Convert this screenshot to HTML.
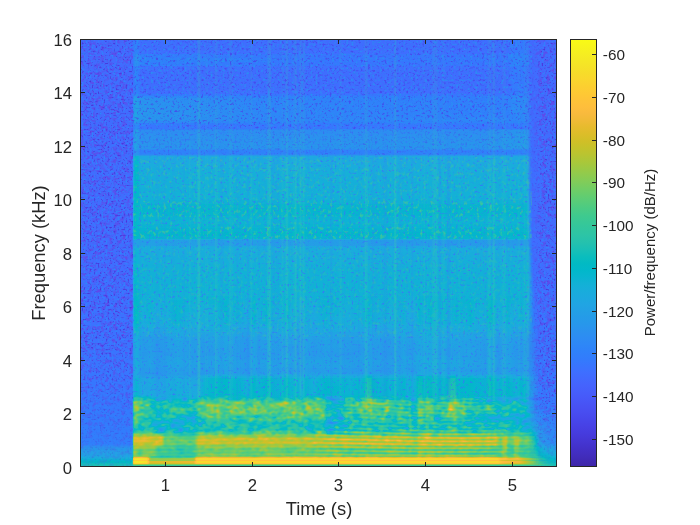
<!DOCTYPE html>
<html><head><meta charset="utf-8"><title>Spectrogram</title>
<style>
html,body{margin:0;padding:0;background:#fff;}
body{width:700px;height:525px;overflow:hidden;position:relative;font-family:"Liberation Sans",sans-serif;}
#sp{position:absolute;left:80px;top:39px;width:477px;height:428px;overflow:hidden;}
#sp div{width:477px;}
#sp #st{position:absolute;left:0;top:118px;height:244px;}
#sp #su{position:absolute;left:0;top:0;height:118px;opacity:.55;}
#ov{position:absolute;left:0;top:0;display:block;}
svg text{font-family:"Liberation Sans",sans-serif;fill:#262626;}
</style></head><body>
<div id="sp"><div style="height:4px;background:linear-gradient(90deg,#416bfe 0.5px,#416bfe 51.5px,#2f81fa 55.5px,#2f81fa 57.5px,#3f6dfe 60.5px,#3f6dfe 426.5px,#3579fd 432.5px,#3579fd 444.5px,#416bfe 451.5px,#416bfe 476.5px)"></div><div style="height:4px;background:linear-gradient(90deg,#416bfe 0.5px,#416bfe 51.5px,#2f81fa 55.5px,#2f81fa 57.5px,#3f6dfe 60.5px,#3f6dfe 426.5px,#3579fd 432.5px,#3579fd 444.5px,#406cfe 449.5px,#416bfe 476.5px)"></div><div style="height:4px;background:linear-gradient(90deg,#416cfe 0.5px,#416cfe 52.5px,#2f81fa 55.5px,#2f81fa 57.5px,#3f6dfe 60.5px,#3f6dfe 426.5px,#3579fd 432.5px,#3579fd 444.5px,#406cfe 449.5px,#416cfe 476.5px)"></div><div style="height:3px;background:linear-gradient(90deg,#416cfe 0.5px,#406cfe 52.5px,#2f82f9 55.5px,#2f82f9 57.5px,#3e6fff 60.5px,#3f6eff 427.5px,#3479fd 432.5px,#347afd 443.5px,#406cfe 449.5px,#416cfe 476.5px)"></div><div style="height:4px;background:linear-gradient(90deg,#416cfe 0.5px,#416cfe 51.5px,#3f6eff 52.5px,#307ffb 53.5px,#2c8ff0 55.5px,#2c8ff0 57.5px,#317efb 60.5px,#3875fe 217.5px,#3875fe 426.5px,#2f81fa 432.5px,#2f81fa 444.5px,#416cfe 451.5px,#416cfe 476.5px)"></div><div style="height:4px;background:linear-gradient(90deg,#416cfe 0.5px,#416cfe 51.5px,#3e6fff 52.5px,#2f81fa 53.5px,#2b91ef 55.5px,#2b91ef 57.5px,#2f81fa 60.5px,#2f81fa 152.5px,#3677fe 211.5px,#3677fe 427.5px,#2f82f9 432.5px,#2f82f9 444.5px,#406cfe 451.5px,#416cfe 476.5px)"></div><div style="height:4px;background:linear-gradient(90deg,#416cfe 0.5px,#416cfe 51.5px,#3f6fff 52.5px,#3080fb 53.5px,#2c90f0 55.5px,#2c90f0 57.5px,#307ffb 60.5px,#3776fe 209.5px,#3876fe 427.5px,#2f81fa 432.5px,#2f81fa 444.5px,#406cfe 451.5px,#416cfe 476.5px)"></div><div style="height:4px;background:linear-gradient(90deg,#416cfe 0.5px,#406cfe 52.5px,#2f82f9 55.5px,#2f82f9 57.5px,#3e6fff 60.5px,#3f6fff 426.5px,#337afd 433.5px,#347afd 444.5px,#406cfe 450.5px,#416cfe 476.5px)"></div><div style="height:4px;background:linear-gradient(90deg,#416cfe 0.5px,#406cfe 52.5px,#2f81fa 55.5px,#2f81fa 57.5px,#3f6dfe 60.5px,#3f6dfe 426.5px,#3579fd 432.5px,#3579fd 444.5px,#406cfe 449.5px,#416cfe 476.5px)"></div><div style="height:4px;background:linear-gradient(90deg,#416cfe 0.5px,#406cfe 52.5px,#2f81fa 55.5px,#2f81fa 57.5px,#3f6dfe 60.5px,#3f6dfe 426.5px,#3579fd 432.5px,#3579fd 444.5px,#406cfe 449.5px,#416cfe 476.5px)"></div><div style="height:4px;background:linear-gradient(90deg,#416cfe 0.5px,#406cfe 52.5px,#2f81fa 55.5px,#2f81fa 57.5px,#3f6dfe 60.5px,#3f6dfe 426.5px,#3579fd 432.5px,#3579fd 444.5px,#406cfe 449.5px,#416cfe 476.5px)"></div><div style="height:4px;background:linear-gradient(90deg,#406cfe 0.5px,#406cfe 52.5px,#2f81fa 55.5px,#2f81fa 57.5px,#3f6dfe 60.5px,#3f6dfe 426.5px,#3579fd 432.5px,#3579fd 444.5px,#406cfe 449.5px,#406cfe 476.5px)"></div><div style="height:4px;background:linear-gradient(90deg,#406cfe 0.5px,#406cfe 52.5px,#2f81fa 55.5px,#2f81fa 57.5px,#3f6dfe 60.5px,#3f6dfe 426.5px,#3579fd 432.5px,#3579fd 444.5px,#406cfe 449.5px,#406cfe 476.5px)"></div><div style="height:4px;background:linear-gradient(90deg,#406cfe 0.5px,#406cfe 52.5px,#2f81fa 55.5px,#2f81fa 57.5px,#3f6eff 60.5px,#3f6eff 427.5px,#3479fd 432.5px,#347afd 443.5px,#406cfe 450.5px,#406cfe 476.5px)"></div><div style="height:2px;background:linear-gradient(90deg,#406cfe 0.5px,#406cfe 51.5px,#2d8bf3 55.5px,#2d8bf3 57.5px,#347afd 60.5px,#3776fe 188.5px,#3875fe 427.5px,#2f81fa 433.5px,#2f81fa 443.5px,#406cfe 451.5px,#406cfe 476.5px)"></div><div style="height:2px;background:linear-gradient(90deg,#406cfe 0.5px,#406cfe 51.5px,#3d71ff 52.5px,#2995ec 54.5px,#2699ea 55.5px,#2699ea 57.5px,#2d88f6 60.5px,#307ffb 201.5px,#327cfc 427.5px,#2e87f7 433.5px,#2e87f7 443.5px,#406cfe 451.5px,#406cfe 476.5px)"></div><div style="height:4px;background:linear-gradient(90deg,#406cfe 0.5px,#406cfe 51.5px,#3b73fe 52.5px,#2b91ef 53.5px,#249fe6 54.5px,#21a2e4 55.5px,#2a93ed 60.5px,#2e84f8 187.5px,#317dfc 426.5px,#2d88f6 432.5px,#2d88f6 444.5px,#406cfe 451.5px,#406cfe 476.5px)"></div><div style="height:4px;background:linear-gradient(90deg,#406cfe 0.5px,#406cfe 51.5px,#3a73fe 52.5px,#2a93ed 53.5px,#20a5e3 55.5px,#2896ec 60.5px,#2e85f8 188.5px,#317efb 427.5px,#2d88f6 432.5px,#2d88f6 444.5px,#406cfe 451.5px,#406cfe 476.5px)"></div><div style="height:4px;background:linear-gradient(90deg,#406cfe 0.5px,#406cfe 51.5px,#3a73fe 52.5px,#2994ed 53.5px,#20a5e2 55.5px,#2896eb 60.5px,#2e85f8 195.5px,#307efb 426.5px,#2d89f5 432.5px,#2d89f5 444.5px,#406cfe 451.5px,#406cfe 476.5px)"></div><div style="height:4px;background:linear-gradient(90deg,#406cfe 0.5px,#406cfe 51.5px,#3a73fe 52.5px,#2994ed 53.5px,#1fa6e2 55.5px,#2797eb 60.5px,#2e86f7 190.5px,#307ffb 427.5px,#2d89f5 432.5px,#2d89f5 444.5px,#406cfe 451.5px,#406cfe 476.5px)"></div><div style="height:4px;background:linear-gradient(90deg,#406cfe 0.5px,#406cfe 51.5px,#3a73fe 52.5px,#2995ec 53.5px,#1fa6e2 55.5px,#2797eb 60.5px,#2e86f7 197.5px,#3080fa 427.5px,#2d88f6 444.5px,#406cfe 451.5px,#406cfe 476.5px)"></div><div style="height:3px;background:linear-gradient(90deg,#406cfe 0.5px,#406cfe 51.5px,#3a73fe 52.5px,#2a93ee 53.5px,#20a4e3 55.5px,#2895ec 60.5px,#2e86f7 192.5px,#2e86f8 444.5px,#406cfe 452.5px,#406cfe 476.5px)"></div><div style="height:2px;background:linear-gradient(90deg,#406cfe 0.5px,#406cfe 51.5px,#3c71ff 52.5px,#2d8bf4 53.5px,#2798ea 54.5px,#259be7 55.5px,#2d8cf3 60.5px,#2e83f9 184.5px,#2e83f9 445.5px,#406cfe 452.5px,#406cfe 476.5px)"></div><div style="height:2px;background:linear-gradient(90deg,#406cfe 0.5px,#406cfe 51.5px,#2c8ef2 55.5px,#2c8ef2 57.5px,#327cfc 60.5px,#347afd 445.5px,#406cfe 451.5px,#406cfe 476.5px)"></div><div style="height:4px;background:linear-gradient(90deg,#406cfe 0.5px,#406cfe 51.5px,#2e87f7 55.5px,#2e87f7 57.5px,#3975fe 60.5px,#3876fe 446.5px,#406cfe 451.5px,#406cfe 476.5px)"></div><div style="height:1px;background:linear-gradient(90deg,#406cfe 0.5px,#406cfe 51.5px,#3e70ff 52.5px,#2e83f9 53.5px,#2a93ed 55.5px,#2a93ed 57.5px,#2f82f9 60.5px,#2d88f6 445.5px,#406cfe 452.5px,#406cfe 476.5px)"></div><div style="height:4px;background:linear-gradient(90deg,#406cfe 0.5px,#406cfe 51.5px,#3b72ff 52.5px,#2c8ef1 53.5px,#259be8 54.5px,#249fe6 55.5px,#249fe6 57.5px,#2c8ff0 60.5px,#2c8ff0 411.5px,#2797eb 445.5px,#2c90f0 447.5px,#406dfe 451.5px,#406cfe 476.5px)"></div><div style="height:4px;background:linear-gradient(90deg,#406cfe 0.5px,#406cfe 51.5px,#3b73fe 52.5px,#2c90f0 53.5px,#22a1e4 55.5px,#2b92ee 60.5px,#2b92ee 412.5px,#269ae9 444.5px,#2b92ee 447.5px,#406dfe 451.5px,#406cfe 476.5px)"></div><div style="height:4px;background:linear-gradient(90deg,#406cfe 0.5px,#406cfe 51.5px,#3b73fe 52.5px,#2b91ef 53.5px,#249fe6 54.5px,#22a2e4 55.5px,#2a93ed 60.5px,#2a93ed 411.5px,#259be8 445.5px,#2a93ed 447.5px,#406dfe 451.5px,#406cfe 476.5px)"></div><div style="height:4px;background:linear-gradient(90deg,#406cfe 0.5px,#406cfe 51.5px,#3a73fe 52.5px,#2a93ee 53.5px,#21a4e3 55.5px,#2995ec 60.5px,#2895ec 412.5px,#259ce7 445.5px,#2995ec 447.5px,#406dfe 451.5px,#406cfe 476.5px)"></div><div style="height:3px;background:linear-gradient(90deg,#406cfe 0.5px,#406cfe 51.5px,#3a73fe 52.5px,#2a93ee 53.5px,#21a4e3 55.5px,#2895ec 60.5px,#2895ec 412.5px,#259ce7 444.5px,#2994ed 447.5px,#3f6dfe 451.5px,#406cfe 476.5px)"></div><div style="height:1px;background:linear-gradient(90deg,#406cfe 0.5px,#406cfe 51.5px,#3c72ff 52.5px,#2d8bf4 53.5px,#2797ea 54.5px,#259be8 55.5px,#2d8cf3 60.5px,#2c8ef1 445.5px,#2f82fa 448.5px,#406dfe 451.5px,#406cfe 476.5px)"></div><div style="height:4px;background:linear-gradient(90deg,#406cfe 0.5px,#406cfe 51.5px,#3e70ff 52.5px,#2f82f9 53.5px,#2b92ef 55.5px,#2b92ef 57.5px,#2f82fa 60.5px,#2f82fa 445.5px,#406cfe 452.5px,#406cfe 476.5px)"></div><div style="height:1px;background:linear-gradient(90deg,#406cfe 0.5px,#406cfe 51.5px,#3c71ff 52.5px,#2995ec 54.5px,#2698ea 55.5px,#2d89f5 60.5px,#2d89f5 446.5px,#406cfe 452.5px,#406cfe 476.5px)"></div><div style="height:1px;background:linear-gradient(90deg,#406cfe 0.5px,#406cfe 51.5px,#3974fe 52.5px,#2796eb 53.5px,#1ea7e1 55.5px,#2699e9 60.5px,#2699ea 446.5px,#3f6dfe 451.5px,#406cfe 476.5px)"></div><div style="height:4px;background:linear-gradient(90deg,#406cfe 0.5px,#406cfe 51.5px,#3677fe 52.5px,#21a4e3 53.5px,#09b4d1 55.5px,#09b4d1 57.5px,#1da9e0 60.5px,#1da9e0 445.5px,#23a1e4 447.5px,#3678fe 450.5px,#406cfe 452.5px,#406cfe 476.5px)"></div><div style="height:4px;background:linear-gradient(90deg,#406dfe 0.5px,#406dfe 51.5px,#3678fd 52.5px,#1fa5e2 53.5px,#0cb3d3 54.5px,#06b5cf 55.5px,#06b5cf 57.5px,#1babde 60.5px,#1babde 445.5px,#21a3e3 447.5px,#3f6eff 451.5px,#406dfe 476.5px)"></div><div style="height:4px;background:linear-gradient(90deg,#406dfe 0.5px,#406dfe 51.5px,#3578fd 52.5px,#1ea7e1 53.5px,#08b4d1 54.5px,#03b7cc 55.5px,#03b7cc 57.5px,#19addc 60.5px,#19addc 445.5px,#20a5e2 447.5px,#3f6eff 451.5px,#406dfe 476.5px)"></div><div style="height:4px;background:linear-gradient(90deg,#406dfe 0.5px,#406dfe 51.5px,#3579fd 52.5px,#1da9e0 53.5px,#06b6ce 54.5px,#01b8ca 55.5px,#01b8ca 57.5px,#16aeda 60.5px,#18aedb 446.5px,#3f6eff 451.5px,#406dfe 476.5px)"></div><div style="height:4px;background:linear-gradient(90deg,#406dfe 0.5px,#406dfe 51.5px,#3579fd 52.5px,#1ca9e0 53.5px,#05b6ce 54.5px,#01b8c9 55.5px,#05b6ce 58.5px,#16afd9 60.5px,#16afd9 445.5px,#1ea7e1 447.5px,#3e6fff 451.5px,#406dfe 476.5px)"></div><div style="height:4px;background:linear-gradient(90deg,#406dfe 0.5px,#406dfe 51.5px,#3479fd 52.5px,#1ca9df 53.5px,#05b6ce 54.5px,#01b8c9 55.5px,#01b8c9 57.5px,#15afd9 60.5px,#16afd9 446.5px,#3e6fff 451.5px,#406dfe 476.5px)"></div><div style="height:4px;background:linear-gradient(90deg,#406dfe 0.5px,#406dfe 51.5px,#3479fd 52.5px,#1caadf 53.5px,#05b6ce 54.5px,#01b8c9 55.5px,#01b8c9 57.5px,#14b0d8 60.5px,#14b0d8 445.5px,#1da9e0 447.5px,#3e6fff 451.5px,#406dfe 476.5px)"></div><div style="height:4px;background:linear-gradient(90deg,#406dfe 0.5px,#406dfe 51.5px,#3479fd 52.5px,#1caadf 53.5px,#05b6cd 54.5px,#01b8c9 55.5px,#01b8c9 57.5px,#14b0d8 60.5px,#14b0d8 446.5px,#1caadf 447.5px,#327cfc 450.5px,#406dfe 452.5px,#406dfe 476.5px)"></div><div style="height:4px;background:linear-gradient(90deg,#406dfe 0.5px,#406dfe 51.5px,#3479fd 52.5px,#1caadf 53.5px,#04b6cd 54.5px,#01b8c9 55.5px,#04b6cd 58.5px,#13b0d7 60.5px,#14b0d8 446.5px,#249ee6 448.5px,#317dfc 450.5px,#406dfe 452.5px,#406dfe 476.5px)"></div><div style="height:4px;background:linear-gradient(90deg,#406dfe 0.5px,#406dfe 51.5px,#347afd 52.5px,#1baade 53.5px,#04b6cd 54.5px,#01b8c9 55.5px,#04b6cd 58.5px,#13b1d7 60.5px,#13b1d7 445.5px,#1babde 447.5px,#317efb 450.5px,#406dfe 452.5px,#406dfe 476.5px)"></div><div style="height:4px;background:linear-gradient(90deg,#406dfe 0.5px,#406dfe 51.5px,#347afd 52.5px,#1baade 53.5px,#04b6cd 54.5px,#01b8ca 55.5px,#04b6cd 58.5px,#12b1d7 60.5px,#12b1d7 446.5px,#23a0e5 448.5px,#307ffb 450.5px,#406dfe 452.5px,#406dfe 476.5px)"></div><div style="height:4px;background:linear-gradient(90deg,#406dfe 0.5px,#406dfe 51.5px,#337afd 52.5px,#1aacdd 53.5px,#02b7cb 54.5px,#01b9c7 55.5px,#02b7cb 58.5px,#0eb2d4 60.5px,#0eb2d4 446.5px,#22a2e4 448.5px,#2f81fa 450.5px,#406dfe 452.5px,#406dfe 476.5px)"></div><div style="height:4px;background:linear-gradient(90deg,#406dfe 0.5px,#406dfe 51.5px,#337bfc 52.5px,#16afda 53.5px,#01b9c6 54.5px,#03bbc3 55.5px,#07b5cf 60.5px,#07b5cf 446.5px,#1fa6e2 448.5px,#2e83f9 450.5px,#406dfe 452.5px,#406dfe 476.5px)"></div><div style="height:4px;background:linear-gradient(90deg,#406dfe 0.5px,#406dfe 51.5px,#327bfc 52.5px,#15afd8 53.5px,#02bac4 54.5px,#05bbc1 55.5px,#05b6cd 60.5px,#05b6cd 446.5px,#1ea7e1 448.5px,#2e84f8 450.5px,#406dfe 452.5px,#406dfe 476.5px)"></div><div style="height:4px;background:linear-gradient(90deg,#406dfe 0.5px,#406dfe 51.5px,#337bfc 52.5px,#16afda 53.5px,#01b9c6 54.5px,#02bac3 55.5px,#06b5cf 60.5px,#06b5cf 446.5px,#1ea8e1 448.5px,#2e85f8 450.5px,#406dfe 452.5px,#406dfe 476.5px)"></div><div style="height:4px;background:linear-gradient(90deg,#406dfe 0.5px,#406dfe 51.5px,#337bfd 52.5px,#19addc 53.5px,#01b8ca 54.5px,#01b9c7 55.5px,#0ab4d2 60.5px,#0ab4d2 446.5px,#1ea7e1 448.5px,#2e85f8 450.5px,#406dfe 452.5px,#406dfe 476.5px)"></div><div style="height:4px;background:linear-gradient(90deg,#406dfe 0.5px,#406dfe 51.5px,#337afd 52.5px,#1aacdd 53.5px,#03b6cc 54.5px,#01b8ca 55.5px,#0eb3d4 60.5px,#0eb3d4 446.5px,#1ea7e1 448.5px,#2e86f7 450.5px,#3f6dfe 452.5px,#406dfe 476.5px)"></div><div style="height:4px;background:linear-gradient(90deg,#406dfe 0.5px,#406dfe 51.5px,#337bfd 52.5px,#19addc 53.5px,#01b7ca 54.5px,#01b9c8 55.5px,#0ab4d2 60.5px,#0ab4d2 446.5px,#1da9e0 448.5px,#3777fe 451.5px,#3f6efe 452.5px,#406dfe 476.5px)"></div><div style="height:4px;background:linear-gradient(90deg,#406dfe 0.5px,#406dfe 51.5px,#327bfc 52.5px,#16aeda 53.5px,#01b9c8 54.5px,#02bac5 55.5px,#06b5cf 60.5px,#06b5cf 446.5px,#1aabdd 448.5px,#2d8af5 450.5px,#3f6eff 452.5px,#406dfe 476.5px)"></div><div style="height:4px;background:linear-gradient(90deg,#406dfe 0.5px,#406dfe 51.5px,#327cfc 52.5px,#13b0d7 53.5px,#02bac4 54.5px,#05bbc1 55.5px,#02b7cb 60.5px,#02b7cb 446.5px,#05b6cd 447.5px,#17aeda 448.5px,#337afd 451.5px,#3f6eff 452.5px,#406dfe 476.5px)"></div><div style="height:3px;background:linear-gradient(90deg,#406dfe 0.5px,#406dfe 51.5px,#327bfc 52.5px,#17aeda 53.5px,#01b8c8 54.5px,#01b9c6 55.5px,#06b5cf 60.5px,#06b5cf 446.5px,#09b4d1 447.5px,#19addc 448.5px,#337bfd 451.5px,#3e6fff 452.5px,#406dfe 476.5px)"></div><div style="height:1px;background:linear-gradient(90deg,#406dfe 0.5px,#406dfe 51.5px,#3579fd 52.5px,#1fa6e2 53.5px,#0fb2d5 55.5px,#19addc 60.5px,#19addc 446.5px,#20a5e3 448.5px,#3f6fff 452.5px,#406dfe 476.5px)"></div><div style="height:4px;background:linear-gradient(90deg,#406dfe 0.5px,#406dfe 51.5px,#3875fe 52.5px,#2796eb 53.5px,#22a1e4 55.5px,#259be8 446.5px,#2895ec 448.5px,#3f6eff 452.5px,#406dfe 476.5px)"></div><div style="height:2px;background:linear-gradient(90deg,#3f6dfe 0.5px,#3f6dfe 51.5px,#3875fe 52.5px,#2896eb 53.5px,#22a1e4 55.5px,#269be8 447.5px,#3776fe 451.5px,#3f6dfe 453.5px,#3f6dfe 476.5px)"></div><div style="height:2px;background:linear-gradient(90deg,#3f6dfe 0.5px,#3f6dfe 51.5px,#3678fe 52.5px,#23a0e5 53.5px,#1aacdd 55.5px,#1fa6e2 447.5px,#347afd 451.5px,#3f6dfe 453.5px,#3f6dfe 476.5px)"></div><div style="height:4px;background:linear-gradient(90deg,#3f6dfe 0.5px,#3f6dfe 51.5px,#3579fd 52.5px,#1fa6e2 53.5px,#11b2d5 55.5px,#19addc 60.5px,#19addc 446.5px,#1fa6e1 448.5px,#327cfc 451.5px,#3f6dfe 453.5px,#3f6dfe 476.5px)"></div><div style="height:4px;background:linear-gradient(90deg,#3f6efe 0.5px,#3f6efe 51.5px,#3479fd 52.5px,#1ea6e1 53.5px,#0eb2d4 55.5px,#18addb 60.5px,#18addb 447.5px,#1da8e0 448.5px,#317efb 451.5px,#3f6efe 453.5px,#3f6efe 476.5px)"></div><div style="height:4px;background:linear-gradient(90deg,#3f6efe 0.5px,#3f6efe 51.5px,#347afd 52.5px,#1ea7e1 53.5px,#0cb3d3 55.5px,#16aeda 60.5px,#17aeda 447.5px,#249ee6 449.5px,#3080fb 451.5px,#3f6efe 453.5px,#3f6efe 476.5px)"></div><div style="height:4px;background:linear-gradient(90deg,#3f6eff 0.5px,#3f6eff 51.5px,#337afd 52.5px,#1da8e0 53.5px,#0db3d4 54.5px,#0ab4d2 55.5px,#15afd9 60.5px,#15afd9 447.5px,#23a0e5 449.5px,#2f81fa 451.5px,#3f6eff 453.5px,#3f6eff 476.5px)"></div><div style="height:4px;background:linear-gradient(90deg,#3f6eff 0.5px,#3f6eff 51.5px,#337bfd 52.5px,#1ca9df 53.5px,#0bb3d2 54.5px,#08b5d0 55.5px,#13b0d7 60.5px,#14b0d8 447.5px,#22a1e4 449.5px,#2e83f9 451.5px,#3f6eff 453.5px,#3f6eff 476.5px)"></div><div style="height:4px;background:linear-gradient(90deg,#3f6eff 0.5px,#3f6eff 51.5px,#337bfc 52.5px,#1caadf 53.5px,#09b4d1 54.5px,#06b5cf 55.5px,#12b1d6 60.5px,#12b1d6 447.5px,#21a3e3 449.5px,#2e85f8 451.5px,#3e6fff 453.5px,#3f6eff 476.5px)"></div><div style="height:4px;background:linear-gradient(90deg,#3f6fff 0.5px,#3f6fff 51.5px,#327bfc 52.5px,#1baade 53.5px,#08b4d1 54.5px,#06b5cf 55.5px,#12b1d6 60.5px,#12b1d6 447.5px,#21a4e3 449.5px,#3d70ff 453.5px,#3f6fff 476.5px)"></div><div style="height:4px;background:linear-gradient(90deg,#3e6fff 0.5px,#3e6fff 51.5px,#327cfc 52.5px,#1baade 53.5px,#08b5d0 54.5px,#06b6ce 55.5px,#11b1d6 60.5px,#11b1d6 447.5px,#20a4e3 449.5px,#3c71ff 453.5px,#3e6fff 476.5px)"></div><div style="height:4px;background:linear-gradient(90deg,#3e6fff 0.5px,#3e6fff 51.5px,#327cfc 52.5px,#1baade 53.5px,#07b5d0 54.5px,#05b6ce 55.5px,#11b1d6 60.5px,#11b1d6 447.5px,#20a5e2 449.5px,#317dfc 452.5px,#3e6fff 454.5px,#3e6fff 476.5px)"></div><div style="height:4px;background:linear-gradient(90deg,#3e6fff 0.5px,#3e6fff 51.5px,#327cfc 52.5px,#1babde 53.5px,#07b5d0 54.5px,#05b6ce 55.5px,#10b2d5 60.5px,#10b2d5 446.5px,#18aedb 448.5px,#307ffb 452.5px,#3e6fff 454.5px,#3e6fff 476.5px)"></div><div style="height:4px;background:linear-gradient(90deg,#3e70ff 0.5px,#3e70ff 51.5px,#327cfc 52.5px,#1babde 53.5px,#07b5cf 54.5px,#04b6cd 56.5px,#10b2d5 60.5px,#10b2d5 446.5px,#1fa6e2 449.5px,#2f81fa 452.5px,#3d70ff 454.5px,#3e70ff 476.5px)"></div><div style="height:4px;background:linear-gradient(90deg,#3e70ff 0.5px,#3e70ff 51.5px,#327dfc 52.5px,#1aabdd 53.5px,#06b5ce 54.5px,#03b7cb 56.5px,#10b2d5 61.5px,#12b1d6 77.5px,#10b2d5 446.5px,#1fa6e2 449.5px,#3c71ff 454.5px,#3e70ff 476.5px)"></div><div style="height:4px;background:linear-gradient(90deg,#3d70ff 0.5px,#3d70ff 51.5px,#317dfc 52.5px,#1aacdd 53.5px,#04b6cd 54.5px,#01b8c9 56.5px,#12b1d6 63.5px,#13b1d7 76.5px,#0ab4d2 146.5px,#14b0d8 167.5px,#0ab4d2 174.5px,#12b1d6 177.5px,#0cb3d3 208.5px,#15afd9 221.5px,#0cb3d3 245.5px,#12b1d6 280.5px,#0bb3d2 286.5px,#14b0d8 332.5px,#0bb3d2 339.5px,#10b2d5 405.5px,#07b5d0 408.5px,#12b1d6 418.5px,#0bb3d2 427.5px,#10b2d5 446.5px,#1fa6e2 449.5px,#3b72ff 454.5px,#3d70ff 476.5px)"></div><div style="height:4px;background:linear-gradient(90deg,#3d70ff 0.5px,#3d70ff 51.5px,#317dfc 52.5px,#1aacdd 53.5px,#03b7cc 54.5px,#01b9c6 56.5px,#13b1d7 62.5px,#0db3d3 70.5px,#16afd9 77.5px,#14b0d8 87.5px,#08b4d1 94.5px,#13b0d7 118.5px,#07b5d0 146.5px,#12b1d6 149.5px,#0cb3d3 157.5px,#16afd9 166.5px,#07b5d0 174.5px,#13b0d7 177.5px,#09b4d1 187.5px,#12b1d6 195.5px,#0ab4d2 208.5px,#13b0d7 210.5px,#0fb2d5 214.5px,#19addc 221.5px,#0fb2d5 225.5px,#17aeda 234.5px,#0bb3d2 245.5px,#14b0d8 269.5px,#13b0d7 280.5px,#09b4d1 286.5px,#13b1d7 301.5px,#0cb3d3 306.5px,#14b0d8 309.5px,#0db3d4 323.5px,#17aeda 327.5px,#14b0d8 335.5px,#09b4d1 339.5px,#11b1d6 344.5px,#08b4d0 350.5px,#10b2d5 369.5px,#07b5cf 390.5px,#11b1d6 405.5px,#04b6cd 409.5px,#14b0d8 418.5px,#13b1d7 424.5px,#09b4d1 427.5px,#15afd9 436.5px,#0db3d3 440.5px,#19addc 448.5px,#2e85f8 452.5px,#3d70ff 455.5px,#3d70ff 476.5px)"></div><div style="height:4px;background:linear-gradient(90deg,#3d71ff 0.5px,#3d71ff 51.5px,#317dfc 52.5px,#1aacdd 53.5px,#02b7cb 54.5px,#02bac5 56.5px,#02b7cb 58.5px,#12b1d7 61.5px,#0db3d3 70.5px,#19addc 77.5px,#0fb2d5 83.5px,#16afd9 87.5px,#07b5d0 94.5px,#14b0d8 107.5px,#14b0d8 129.5px,#06b5cf 146.5px,#13b0d7 149.5px,#0db3d3 157.5px,#19addc 167.5px,#06b5cf 174.5px,#15afd8 177.5px,#08b5d0 187.5px,#14b0d8 198.5px,#09b4d1 208.5px,#15afd8 210.5px,#11b2d5 214.5px,#1babde 221.5px,#10b2d5 226.5px,#19acdc 234.5px,#0bb3d2 244.5px,#16afd9 269.5px,#0eb2d4 278.5px,#15afd9 280.5px,#08b5d0 286.5px,#14b0d8 297.5px,#0cb3d3 306.5px,#17aeda 309.5px,#0eb2d4 324.5px,#1aacdd 327.5px,#13b0d7 329.5px,#19addc 333.5px,#08b4d1 339.5px,#13b1d7 344.5px,#07b5d0 350.5px,#11b1d6 369.5px,#09b4d1 375.5px,#0fb2d4 386.5px,#05b6ce 390.5px,#10b2d5 394.5px,#12b1d6 405.5px,#01b7ca 409.5px,#15afd9 418.5px,#0eb2d4 421.5px,#14b0d8 424.5px,#07b5d0 427.5px,#13b0d7 430.5px,#17aedb 436.5px,#0db3d3 440.5px,#0fb2d5 445.5px,#1aacdd 448.5px,#327cfc 453.5px,#3d71ff 455.5px,#3d71ff 476.5px)"></div><div style="height:4px;background:linear-gradient(90deg,#3d71ff 0.5px,#3d71ff 51.5px,#317dfc 52.5px,#1aacdd 53.5px,#02b7cb 54.5px,#02bac4 56.5px,#02b7cb 58.5px,#16afd9 62.5px,#0db3d3 69.5px,#1aacdd 77.5px,#10b2d5 83.5px,#17aeda 87.5px,#07b5d0 94.5px,#16afd9 118.5px,#13b0d7 135.5px,#06b5cf 146.5px,#14b0d8 149.5px,#0db3d3 157.5px,#1aacdd 167.5px,#06b5cf 174.5px,#16afd9 177.5px,#07b5d0 187.5px,#12b1d6 190.5px,#15afd9 198.5px,#09b4d1 208.5px,#16afda 210.5px,#12b1d6 214.5px,#1ca9e0 221.5px,#11b1d6 226.5px,#1babde 234.5px,#0bb3d2 245.5px,#13b1d7 248.5px,#0db3d3 250.5px,#17aeda 269.5px,#0fb2d5 278.5px,#17aeda 280.5px,#08b5d0 286.5px,#17aeda 302.5px,#0cb3d3 305.5px,#18addb 309.5px,#0fb2d5 324.5px,#1babde 327.5px,#14b0d8 330.5px,#19addc 334.5px,#08b4d0 339.5px,#14b0d8 344.5px,#07b5cf 350.5px,#12b1d6 370.5px,#09b4d1 375.5px,#0fb2d5 386.5px,#05b6cd 390.5px,#11b2d5 394.5px,#13b0d7 405.5px,#01b8c9 409.5px,#17aeda 418.5px,#0fb2d5 421.5px,#16afd9 424.5px,#07b5d0 427.5px,#15afd8 430.5px,#19addc 436.5px,#0db3d4 440.5px,#1babde 448.5px,#2e87f7 452.5px,#3c72ff 455.5px,#3d71ff 476.5px)"></div><div style="height:4px;background:linear-gradient(90deg,#3c71ff 0.5px,#3c71ff 51.5px,#317dfc 52.5px,#1aabdd 53.5px,#03b7cc 54.5px,#02bac4 56.5px,#18addb 63.5px,#0eb2d4 69.5px,#18aedb 73.5px,#18aedb 87.5px,#07b5d0 95.5px,#16afda 107.5px,#16afd9 129.5px,#0eb3d4 144.5px,#06b5cf 146.5px,#15afd9 149.5px,#0eb2d4 157.5px,#1babde 167.5px,#06b5cf 174.5px,#17aeda 177.5px,#08b4d1 187.5px,#13b1d7 190.5px,#16afd9 198.5px,#0ab4d2 208.5px,#17aeda 210.5px,#12b1d7 214.5px,#1da8e0 221.5px,#12b1d7 225.5px,#1baade 234.5px,#0cb3d3 245.5px,#18addb 269.5px,#10b2d5 278.5px,#18aedb 280.5px,#08b4d1 286.5px,#16afd9 297.5px,#0db3d4 306.5px,#19addc 309.5px,#10b2d5 324.5px,#1caadf 327.5px,#18addb 335.5px,#09b4d1 339.5px,#14b0d8 344.5px,#07b5d0 350.5px,#12b1d6 356.5px,#0bb3d2 362.5px,#13b0d7 369.5px,#0ab4d2 375.5px,#11b2d5 386.5px,#05b6ce 390.5px,#12b1d6 394.5px,#14b0d8 405.5px,#01b8ca 408.5px,#18aedb 418.5px,#10b2d5 421.5px,#16aeda 424.5px,#08b5d0 427.5px,#15afd9 430.5px,#1aacdd 436.5px,#0eb2d4 440.5px,#18aedb 447.5px,#20a5e3 449.5px,#307ffb 453.5px,#3c71ff 456.5px,#3c71ff 476.5px)"></div><div style="height:4px;background:linear-gradient(90deg,#3c71ff 0.5px,#3c71ff 51.5px,#317dfc 52.5px,#1babde 53.5px,#04b6cd 54.5px,#02bac5 56.5px,#19addc 63.5px,#0fb2d5 69.5px,#1babde 77.5px,#12b1d7 83.5px,#19addc 87.5px,#08b4d1 95.5px,#17aeda 107.5px,#17aeda 125.5px,#0fb2d4 144.5px,#07b5d0 146.5px,#16afd9 149.5px,#0fb2d5 157.5px,#1babde 166.5px,#07b5d0 174.5px,#18aedb 177.5px,#09b4d1 187.5px,#12b1d6 189.5px,#17aeda 198.5px,#0bb3d2 208.5px,#18aedb 210.5px,#13b0d7 214.5px,#1da8e0 221.5px,#13b0d7 225.5px,#1caadf 234.5px,#0db3d3 245.5px,#14b0d8 247.5px,#19addc 269.5px,#11b1d6 278.5px,#18addb 280.5px,#0ab4d1 286.5px,#18addb 302.5px,#0eb2d4 305.5px,#19acdc 309.5px,#11b1d6 324.5px,#1ca9df 327.5px,#19addc 335.5px,#0ab4d2 339.5px,#15afd9 344.5px,#08b4d1 350.5px,#12b1d7 356.5px,#0cb3d3 362.5px,#14b0d8 369.5px,#0bb3d2 375.5px,#12b1d6 386.5px,#06b5cf 390.5px,#12b1d7 394.5px,#15afd8 405.5px,#01b7ca 409.5px,#19addb 418.5px,#11b1d6 421.5px,#17aeda 424.5px,#09b4d1 427.5px,#16afda 430.5px,#1aacdd 436.5px,#0fb2d5 440.5px,#1caadf 448.5px,#2f80fa 453.5px,#3c71ff 456.5px,#3c71ff 476.5px)"></div><div style="height:4px;background:linear-gradient(90deg,#3c72ff 0.5px,#3c72ff 51.5px,#317dfc 52.5px,#1baade 53.5px,#05b6ce 54.5px,#01b9c6 56.5px,#1aacdd 63.5px,#11b1d6 69.5px,#1caadf 77.5px,#14b0d8 83.5px,#1aacdd 86.5px,#0ab4d2 95.5px,#18addb 107.5px,#18aedb 129.5px,#11b1d6 144.5px,#09b4d1 146.5px,#17aeda 149.5px,#11b1d6 157.5px,#1caadf 167.5px,#09b4d1 174.5px,#19addc 177.5px,#0bb3d2 187.5px,#15afd9 190.5px,#18addb 198.5px,#0db3d4 208.5px,#19addc 210.5px,#1ea7e1 221.5px,#15afd8 225.5px,#1ca9e0 234.5px,#0fb2d5 245.5px,#16afd9 248.5px,#19acdc 280.5px,#0cb3d3 286.5px,#19addc 302.5px,#10b2d5 305.5px,#1aabdd 309.5px,#12b1d7 323.5px,#1da9e0 327.5px,#1aacdd 335.5px,#0cb3d3 339.5px,#17aeda 344.5px,#0ab4d2 350.5px,#14b0d8 356.5px,#0eb2d4 362.5px,#15afd8 370.5px,#0db3d3 375.5px,#13b0d7 386.5px,#07b5d0 390.5px,#14b0d8 394.5px,#16afd9 405.5px,#03b7cc 409.5px,#19acdc 418.5px,#18addb 424.5px,#0bb3d2 427.5px,#18aedb 430.5px,#14b0d8 445.5px,#1da9e0 448.5px,#2f81fa 453.5px,#3c72ff 456.5px,#3c72ff 476.5px)"></div><div style="height:4px;background:linear-gradient(90deg,#3c72ff 0.5px,#3c72ff 51.5px,#317dfc 52.5px,#1ea8e1 53.5px,#0cb3d3 54.5px,#03b7cb 56.5px,#1caadf 62.5px,#17aeda 70.5px,#1fa6e1 77.5px,#12b1d7 94.5px,#1caadf 118.5px,#11b1d6 146.5px,#1babde 149.5px,#1fa6e2 167.5px,#11b1d6 174.5px,#1caadf 177.5px,#13b1d7 187.5px,#1babde 195.5px,#14b0d8 208.5px,#21a4e3 221.5px,#19addc 226.5px,#1ea6e1 233.5px,#15afd9 245.5px,#1ca9df 280.5px,#13b0d7 286.5px,#1caadf 301.5px,#18aedb 324.5px,#1fa6e1 332.5px,#13b0d7 338.5px,#1aacdd 343.5px,#12b1d6 350.5px,#19addc 380.5px,#0fb2d5 390.5px,#19addc 394.5px,#1aacdd 405.5px,#08b4d0 409.5px,#13b1d7 411.5px,#1da9e0 418.5px,#1caadf 424.5px,#12b1d7 427.5px,#1ea7e1 436.5px,#19addc 445.5px,#23a0e5 449.5px,#2f81fa 453.5px,#3b72fe 456.5px,#3c72ff 476.5px)"></div><div style="height:4px;background:linear-gradient(90deg,#3b72ff 0.5px,#3b72ff 51.5px,#327cfc 52.5px,#20a4e3 53.5px,#13b0d8 54.5px,#09b4d1 56.5px,#1fa6e2 62.5px,#1babde 70.5px,#21a2e4 77.5px,#18aedb 95.5px,#1fa6e1 107.5px,#17aeda 146.5px,#22a2e4 167.5px,#17aeda 174.5px,#1fa6e2 177.5px,#19acdc 208.5px,#22a2e4 221.5px,#1babde 225.5px,#21a4e3 234.5px,#1aacdd 244.5px,#20a5e2 310.5px,#19addc 324.5px,#20a5e2 332.5px,#15afd9 338.5px,#1baade 344.5px,#13b0d7 350.5px,#1caadf 364.5px,#16afd9 390.5px,#1da8e0 405.5px,#11b1d6 409.5px,#20a5e2 418.5px,#18addb 427.5px,#21a3e3 436.5px,#1ca9df 445.5px,#249de6 449.5px,#2f81fa 453.5px,#3a73fe 456.5px,#3b72ff 476.5px)"></div><div style="height:4px;background:linear-gradient(90deg,#3b72ff 0.5px,#3b72ff 51.5px,#327bfc 52.5px,#23a1e4 53.5px,#19addc 54.5px,#11b1d6 56.5px,#23a1e4 63.5px,#1ea7e1 70.5px,#249ee6 77.5px,#1caadf 94.5px,#21a2e4 125.5px,#1babde 146.5px,#21a3e3 149.5px,#1ea7e1 157.5px,#249ee6 167.5px,#1babde 174.5px,#22a2e4 177.5px,#1da9e0 208.5px,#239fe5 221.5px,#1da9e0 225.5px,#22a1e4 280.5px,#1caadf 286.5px,#23a1e4 309.5px,#1aacdd 323.5px,#21a3e4 327.5px,#15afd9 350.5px,#1ea7e1 364.5px,#20a4e3 405.5px,#17aeda 409.5px,#22a1e4 418.5px,#1caadf 427.5px,#239fe5 436.5px,#1fa5e2 445.5px,#3b72ff 457.5px,#3b72ff 476.5px)"></div><div style="height:4px;background:linear-gradient(90deg,#3b72fe 0.5px,#3b72fe 51.5px,#337bfd 52.5px,#249ee6 53.5px,#17aeda 56.5px,#249de6 63.5px,#249de6 87.5px,#1ea7e1 95.5px,#249ee6 118.5px,#1ea7e1 146.5px,#239fe5 149.5px,#21a3e3 157.5px,#269ae8 167.5px,#1ea7e1 174.5px,#249ee6 177.5px,#1fa6e2 187.5px,#259ce7 221.5px,#1fa6e2 226.5px,#249ee6 234.5px,#20a5e2 245.5px,#249de6 269.5px,#1fa6e2 287.5px,#249de6 309.5px,#1ea8e0 322.5px,#249fe5 327.5px,#1aacdd 350.5px,#23a0e5 405.5px,#1babde 409.5px,#249de6 418.5px,#1fa6e1 427.5px,#259ce7 436.5px,#22a2e4 445.5px,#3974fe 456.5px,#3b72fe 476.5px)"></div><div style="height:4px;background:linear-gradient(90deg,#3b73fe 0.5px,#3b73fe 51.5px,#337bfd 52.5px,#259ce7 53.5px,#1da8e0 54.5px,#19addc 56.5px,#259be7 63.5px,#22a2e4 69.5px,#2699e9 77.5px,#20a5e2 94.5px,#259ce7 118.5px,#20a5e3 147.5px,#2698ea 167.5px,#1fa5e2 174.5px,#259ce7 177.5px,#21a4e3 208.5px,#269ae8 221.5px,#20a4e3 226.5px,#259ce7 234.5px,#21a3e3 245.5px,#259be7 269.5px,#20a4e3 287.5px,#259be7 309.5px,#1ea7e1 323.5px,#249ee6 332.5px,#1caadf 339.5px,#249ee6 404.5px,#1ca9df 409.5px,#259ce7 418.5px,#20a5e3 427.5px,#269ae9 436.5px,#23a0e5 445.5px,#3a73fe 457.5px,#3b73fe 476.5px)"></div><div style="height:4px;background:linear-gradient(90deg,#3b73fe 0.5px,#3b73fe 51.5px,#337bfd 52.5px,#259be8 53.5px,#1aacdd 56.5px,#259be8 62.5px,#23a0e5 70.5px,#2797ea 77.5px,#21a3e4 93.5px,#259be7 124.5px,#20a4e3 146.5px,#259ce7 149.5px,#23a0e5 157.5px,#2797eb 167.5px,#20a4e3 174.5px,#259be8 177.5px,#21a3e3 187.5px,#2699e9 221.5px,#21a3e4 226.5px,#259be8 234.5px,#22a2e4 245.5px,#269ae8 280.5px,#21a3e3 286.5px,#269ae8 309.5px,#20a5e2 322.5px,#259ce7 327.5px,#1ca9df 350.5px,#249de7 405.5px,#1da8e0 409.5px,#269ae8 418.5px,#21a3e3 427.5px,#2698ea 436.5px,#249fe6 445.5px,#3a74fe 457.5px,#3b73fe 476.5px)"></div><div style="height:4px;background:linear-gradient(90deg,#3a73fe 0.5px,#3a73fe 51.5px,#337bfd 52.5px,#269ae9 53.5px,#1baade 56.5px,#2699ea 63.5px,#249fe6 70.5px,#2896eb 77.5px,#22a2e4 94.5px,#269ae8 129.5px,#21a3e3 146.5px,#259be8 149.5px,#249fe5 157.5px,#2896ec 167.5px,#21a3e3 174.5px,#2699e9 177.5px,#22a2e4 187.5px,#2797eb 221.5px,#22a1e4 225.5px,#2699e9 234.5px,#23a0e5 244.5px,#2699e9 280.5px,#22a2e4 286.5px,#2699e9 310.5px,#20a4e3 324.5px,#269be8 327.5px,#1da8e0 350.5px,#249de6 369.5px,#21a4e3 390.5px,#259ce7 405.5px,#1ea7e1 409.5px,#2699e9 418.5px,#22a2e4 427.5px,#2797eb 436.5px,#249de6 445.5px,#3974fe 457.5px,#3a73fe 476.5px)"></div><div style="height:4px;background:linear-gradient(90deg,#3a74fe 0.5px,#3a74fe 51.5px,#337bfd 52.5px,#2699e9 53.5px,#20a4e3 54.5px,#1ca9df 56.5px,#2797ea 63.5px,#249ee6 69.5px,#2797ea 87.5px,#23a1e4 94.5px,#2699e9 129.5px,#22a2e4 146.5px,#2699e9 150.5px,#249ee6 157.5px,#2994ed 167.5px,#22a2e4 174.5px,#2798ea 177.5px,#23a0e5 208.5px,#2896eb 221.5px,#23a0e5 226.5px,#2798ea 234.5px,#249fe5 245.5px,#2797ea 269.5px,#23a0e5 287.5px,#2797ea 309.5px,#21a3e3 323.5px,#2699e9 327.5px,#1fa6e2 338.5px,#23a0e5 344.5px,#1ea7e1 350.5px,#259ce7 369.5px,#22a2e4 390.5px,#269ae8 405.5px,#1fa6e2 409.5px,#2798ea 418.5px,#23a1e5 427.5px,#2896ec 436.5px,#259ce7 445.5px,#3975fe 457.5px,#3a74fe 476.5px)"></div><div style="height:4px;background:linear-gradient(90deg,#3974fe 0.5px,#3974fe 51.5px,#327cfc 52.5px,#259ce7 53.5px,#1aacdd 56.5px,#269ae8 63.5px,#23a1e5 69.5px,#2798ea 77.5px,#21a4e3 94.5px,#259be7 118.5px,#20a5e3 146.5px,#2797ea 167.5px,#20a5e3 174.5px,#259be8 177.5px,#21a3e4 208.5px,#2699e9 221.5px,#21a3e3 226.5px,#259be8 234.5px,#22a2e4 245.5px,#269ae8 269.5px,#21a3e3 287.5px,#269ae8 309.5px,#1fa6e2 323.5px,#249de6 332.5px,#1da9e0 338.5px,#249de6 405.5px,#1da8e0 409.5px,#269be8 418.5px,#21a4e3 427.5px,#2699e9 436.5px,#249fe6 445.5px,#3974fe 458.5px,#3974fe 476.5px)"></div><div style="height:4px;background:linear-gradient(90deg,#3975fe 0.5px,#3975fe 51.5px,#327cfc 52.5px,#249ee6 53.5px,#17aeda 56.5px,#259de7 63.5px,#21a3e3 70.5px,#269ae8 77.5px,#1fa6e2 94.5px,#249ee6 125.5px,#1ea7e1 146.5px,#249fe5 149.5px,#21a3e3 157.5px,#269ae9 167.5px,#1ea7e1 174.5px,#249ee6 177.5px,#1fa6e2 187.5px,#249ee6 198.5px,#20a5e2 208.5px,#259ce7 221.5px,#1fa5e2 226.5px,#249de6 280.5px,#1fa6e2 286.5px,#259de7 309.5px,#1aacdd 350.5px,#23a0e5 405.5px,#1babde 409.5px,#259de7 418.5px,#1fa6e2 427.5px,#259be8 436.5px,#22a1e4 445.5px,#3975fe 458.5px,#3975fe 476.5px)"></div><div style="height:4px;background:linear-gradient(90deg,#3975fe 0.5px,#3975fe 51.5px,#317dfc 52.5px,#249de6 53.5px,#18addb 56.5px,#259ce7 63.5px,#22a2e4 70.5px,#2699e9 77.5px,#20a5e3 93.5px,#249de6 124.5px,#1fa6e2 146.5px,#249ee6 149.5px,#22a2e4 157.5px,#2699e9 167.5px,#1fa6e2 174.5px,#259de7 177.5px,#20a5e2 187.5px,#259be8 221.5px,#20a5e3 226.5px,#259de7 234.5px,#21a4e3 245.5px,#259ce7 280.5px,#20a5e2 286.5px,#259ce7 309.5px,#1ea7e1 322.5px,#249ee6 327.5px,#1aabde 350.5px,#249fe5 405.5px,#1caadf 409.5px,#259ce7 418.5px,#1fa5e2 427.5px,#269be8 436.5px,#23a0e5 445.5px,#3876fe 458.5px,#3975fe 476.5px)"></div><div style="height:4px;background:linear-gradient(90deg,#3876fe 0.5px,#3876fe 51.5px,#327cfc 52.5px,#269ae9 53.5px,#1caadf 56.5px,#2699e9 62.5px,#249ee6 70.5px,#2895ec 77.5px,#22a1e4 94.5px,#2699e9 124.5px,#22a2e4 146.5px,#269ae8 149.5px,#249ee6 157.5px,#2895ec 167.5px,#22a2e4 174.5px,#2699e9 177.5px,#22a1e4 187.5px,#2797eb 221.5px,#23a1e4 226.5px,#2699e9 234.5px,#23a0e5 245.5px,#2798ea 280.5px,#23a1e4 286.5px,#2798ea 309.5px,#21a3e3 322.5px,#259be7 333.5px,#1ea7e1 339.5px,#259be8 404.5px,#1fa6e2 409.5px,#2798ea 418.5px,#22a1e4 427.5px,#2796eb 436.5px,#259ce7 445.5px,#3776fe 458.5px,#3876fe 476.5px)"></div><div style="height:2px;background:linear-gradient(90deg,#3876fe 0.5px,#3876fe 51.5px,#327cfc 52.5px,#2699e9 53.5px,#21a4e3 54.5px,#1da9e0 56.5px,#2798ea 62.5px,#249de6 70.5px,#2994ed 77.5px,#23a1e5 95.5px,#2698ea 118.5px,#1fa5e2 146.5px,#249de6 149.5px,#22a1e4 157.5px,#2798ea 167.5px,#1fa5e2 174.5px,#259ce7 177.5px,#20a4e3 187.5px,#269ae9 221.5px,#21a3e3 225.5px,#259be7 280.5px,#20a5e3 286.5px,#259be8 309.5px,#1fa6e2 323.5px,#249ee6 333.5px,#1caadf 339.5px,#21a3e3 344.5px,#1caadf 351.5px,#249ee6 404.5px,#1ca9e0 409.5px,#259be8 418.5px,#20a4e3 427.5px,#269ae9 436.5px,#22a1e4 440.5px,#249fe5 445.5px,#3777fe 458.5px,#3876fe 476.5px)"></div><div style="height:1px;background:linear-gradient(90deg,#3876fe 0.5px,#3876fe 51.5px,#327dfc 52.5px,#2699e9 53.5px,#21a4e3 54.5px,#1da9e0 56.5px,#2798ea 62.5px,#249de7 70.5px,#2994ed 77.5px,#23a0e5 93.5px,#2698ea 117.5px,#1caadf 146.5px,#21a2e4 149.5px,#1fa6e1 157.5px,#249de6 167.5px,#1caadf 174.5px,#22a1e4 177.5px,#1da8e0 208.5px,#249ee6 221.5px,#1ea8e1 225.5px,#23a0e5 234.5px,#1ea8e0 245.5px,#23a1e5 280.5px,#1aacdd 287.5px,#23a0e5 309.5px,#1caadf 323.5px,#22a2e4 333.5px,#16afda 339.5px,#1ea7e1 344.5px,#18aedb 351.5px,#21a3e3 405.5px,#18aedb 409.5px,#23a0e5 418.5px,#1ca9df 427.5px,#249fe6 436.5px,#20a4e3 445.5px,#3677fe 458.5px,#3876fe 476.5px)"></div><div style="height:1px;background:linear-gradient(90deg,#3776fe 0.5px,#3776fe 51.5px,#317dfc 52.5px,#269be8 53.5px,#1babde 56.5px,#269ae8 62.5px,#249fe5 70.5px,#2796eb 77.5px,#22a2e4 94.5px,#269ae8 117.5px,#1ea7e1 124.5px,#16afda 146.5px,#1ea7e1 149.5px,#21a3e3 166.5px,#16afda 174.5px,#1fa6e1 177.5px,#19addc 208.5px,#21a2e4 221.5px,#1aacdd 225.5px,#20a4e3 234.5px,#1aacdd 244.5px,#1fa6e2 280.5px,#0fb2d5 287.5px,#1ea7e1 297.5px,#18aedb 323.5px,#20a5e2 327.5px,#1da9e0 335.5px,#0db3d3 338.5px,#1aabdd 344.5px,#12b1d6 351.5px,#1babde 365.5px,#10b2d5 374.5px,#1caadf 380.5px,#15afd9 390.5px,#1da8e0 405.5px,#10b2d5 409.5px,#1fa6e2 418.5px,#18aedb 427.5px,#20a4e3 436.5px,#1da9e0 445.5px,#3776fe 459.5px,#3776fe 476.5px)"></div><div style="height:2px;background:linear-gradient(90deg,#3776fe 0.5px,#3776fe 51.5px,#317efb 52.5px,#249ee6 53.5px,#17aeda 56.5px,#249de6 63.5px,#21a3e3 70.5px,#269be8 77.5px,#1ea7e1 95.5px,#249fe6 117.5px,#1aacdd 123.5px,#0bb3d2 146.5px,#18addb 149.5px,#13b1d7 157.5px,#1da9e0 167.5px,#0bb3d2 174.5px,#19acdc 177.5px,#0db3d3 187.5px,#19addc 198.5px,#0fb2d5 208.5px,#19acdc 210.5px,#1ea7e1 221.5px,#13b0d8 226.5px,#1caadf 234.5px,#11b1d6 244.5px,#1aacdd 280.5px,#12b1d6 284.5px,#01b9c7 287.5px,#03b7cc 291.5px,#15afd8 293.5px,#1aacdd 302.5px,#12b1d6 306.5px,#1babde 309.5px,#11b2d5 323.5px,#1caadf 327.5px,#15afd9 330.5px,#1babde 333.5px,#19addc 335.5px,#01b8ca 338.5px,#03b7cc 341.5px,#15afd9 344.5px,#04b6cd 347.5px,#15afd8 365.5px,#01b8ca 370.5px,#01b9c6 374.5px,#12b1d6 377.5px,#15afd9 380.5px,#13b0d7 387.5px,#09b4d1 390.5px,#15afd9 394.5px,#17aeda 405.5px,#04b6cd 409.5px,#1aacdd 418.5px,#19acdc 424.5px,#0db3d3 427.5px,#19addc 430.5px,#1caadf 436.5px,#13b1d7 440.5px,#20a5e3 448.5px,#3678fd 458.5px,#3776fe 476.5px)"></div><div style="height:4px;background:linear-gradient(90deg,#3777fe 0.5px,#3777fe 51.5px,#3080fb 52.5px,#20a4e3 53.5px,#0bb3d2 56.5px,#20a5e2 62.5px,#1caadf 70.5px,#22a1e4 77.5px,#19addc 94.5px,#1fa6e1 118.5px,#0bb3d2 127.5px,#01b8c9 146.5px,#0db3d3 149.5px,#05b6ce 157.5px,#16afd9 167.5px,#01b8c9 174.5px,#10b2d5 177.5px,#01b7ca 187.5px,#0eb2d4 198.5px,#03b7cc 208.5px,#10b2d5 210.5px,#09b4d1 214.5px,#19addc 221.5px,#08b4d1 226.5px,#16afda 234.5px,#04b6cd 244.5px,#0eb2d4 259.5px,#09b4d1 265.5px,#12b1d6 269.5px,#07b5cf 278.5px,#11b1d6 280.5px,#01b9c7 285.5px,#17bfb6 287.5px,#12beb9 290.5px,#01b8c9 292.5px,#11b2d5 302.5px,#06b5cf 304.5px,#06b5cf 307.5px,#13b1d7 309.5px,#09b4d1 312.5px,#11b1d6 315.5px,#06b5cf 324.5px,#17aeda 327.5px,#0cb3d3 330.5px,#15afd9 332.5px,#12b1d6 335.5px,#01bac5 337.5px,#08bcbe 339.5px,#01b9c6 342.5px,#0cb3d3 344.5px,#03bbc2 347.5px,#07b5d0 356.5px,#03b7cc 362.5px,#0ab4d1 364.5px,#01b8c9 367.5px,#10beba 369.5px,#19bfb5 373.5px,#19bfb5 374.5px,#02bac4 376.5px,#07b5d0 379.5px,#01b9c8 390.5px,#0bb3d2 405.5px,#02bbc3 409.5px,#05b6ce 415.5px,#11b1d6 418.5px,#07b5cf 421.5px,#0fb2d4 424.5px,#01b8ca 427.5px,#0eb3d4 430.5px,#14b0d8 436.5px,#07b5d0 439.5px,#0bb3d2 445.5px,#23a0e5 450.5px,#3777fe 459.5px,#3777fe 476.5px)"></div><div style="height:4px;background:linear-gradient(90deg,#3677fe 0.5px,#3677fe 51.5px,#2f80fa 52.5px,#20a5e2 53.5px,#08b4d1 56.5px,#1aacdd 59.5px,#1fa6e1 62.5px,#1babde 70.5px,#21a3e4 77.5px,#18aedb 94.5px,#1ea7e1 118.5px,#0cb3d3 124.5px,#01b8ca 145.5px,#0bb4d2 150.5px,#04b6cd 157.5px,#14b0d8 167.5px,#01b8ca 173.5px,#0db3d3 177.5px,#01b8ca 186.5px,#0cb3d3 198.5px,#01b8ca 208.5px,#0fb2d4 211.5px,#07b5d0 214.5px,#18aedb 221.5px,#07b5d0 225.5px,#15afd9 234.5px,#09b4d1 237.5px,#0cb3d3 241.5px,#02b7cb 245.5px,#0cb3d3 259.5px,#07b5d0 266.5px,#0fb2d5 269.5px,#05b6ce 278.5px,#0eb2d4 280.5px,#01bac5 285.5px,#1bc0b4 287.5px,#17bfb7 290.5px,#01b9c8 292.5px,#0eb2d4 302.5px,#03b7cc 306.5px,#11b1d5 309.5px,#07b5d0 312.5px,#0fb2d5 315.5px,#05b6ce 324.5px,#16afd9 327.5px,#0ab4d1 330.5px,#14b0d8 332.5px,#0fb2d5 335.5px,#02bac4 337.5px,#0abdbd 338.5px,#08bcbf 341.5px,#02bac5 342.5px,#09b4d1 344.5px,#06bcc0 347.5px,#06b5cf 356.5px,#07b5d0 365.5px,#01b9c7 367.5px,#14bfb8 369.5px,#1dc0b3 373.5px,#1dc0b3 374.5px,#03bbc2 376.5px,#06b5cf 380.5px,#01b9c6 390.5px,#06b5cf 394.5px,#09b4d1 405.5px,#04bbc1 409.5px,#02b7cb 414.5px,#0fb2d4 418.5px,#06b5cf 420.5px,#0cb3d3 424.5px,#01b8ca 428.5px,#12b1d6 436.5px,#05b6ce 439.5px,#09b4d1 445.5px,#18addb 447.5px,#2c8ff0 453.5px,#3678fe 459.5px,#3677fe 476.5px)"></div><div style="height:4px;background:linear-gradient(90deg,#3678fe 0.5px,#3678fe 51.5px,#2f81fa 52.5px,#1fa6e2 53.5px,#07b5d0 56.5px,#1da9e0 61.5px,#21a3e3 77.5px,#16aeda 95.5px,#1ea7e1 117.5px,#0bb3d2 124.5px,#01b8ca 138.5px,#01b9c6 146.5px,#09b4d1 149.5px,#03b7cc 157.5px,#13b0d7 167.5px,#01b8c9 173.5px,#0cb3d3 177.5px,#01b8ca 184.5px,#0ab4d2 198.5px,#01b8c9 208.5px,#0cb3d3 210.5px,#06b5cf 214.5px,#17aeda 221.5px,#06b5cf 225.5px,#14b0d8 234.5px,#07b5d0 237.5px,#0bb4d2 241.5px,#01b8ca 245.5px,#06b5cf 266.5px,#0eb3d4 269.5px,#04b6cd 278.5px,#0db3d3 280.5px,#02bac4 285.5px,#1dc0b3 287.5px,#19bfb6 290.5px,#01b9c7 292.5px,#0cb3d3 302.5px,#02b7cb 306.5px,#0fb2d5 309.5px,#06b5cf 312.5px,#0eb3d4 315.5px,#04b6cd 324.5px,#15afd8 327.5px,#08b4d1 330.5px,#13b0d7 332.5px,#0eb2d4 335.5px,#03bbc3 337.5px,#0cbdbc 338.5px,#09bcbe 341.5px,#02bac4 342.5px,#08b4d0 344.5px,#07bcbf 347.5px,#05b6ce 356.5px,#06b5cf 365.5px,#01b9c6 367.5px,#16bfb7 369.5px,#1fc0b1 374.5px,#01b7ca 377.5px,#04b6cd 386.5px,#02bac5 390.5px,#05b6ce 394.5px,#07b5d0 405.5px,#06bcc0 409.5px,#01b8ca 414.5px,#0db3d3 418.5px,#01b8c9 428.5px,#11b1d6 436.5px,#03b7cc 440.5px,#08b4d1 445.5px,#1babde 448.5px,#3578fd 459.5px,#3678fe 476.5px)"></div><div style="height:4px;background:linear-gradient(90deg,#3678fd 0.5px,#3678fd 51.5px,#2f81fa 52.5px,#1fa6e1 53.5px,#06b5cf 56.5px,#1ea8e1 62.5px,#1aacdd 70.5px,#20a4e3 77.5px,#15afd9 95.5px,#1da9e0 118.5px,#09b4d1 124.5px,#01b8ca 137.5px,#01bac5 146.5px,#08b5d0 150.5px,#02b7cb 157.5px,#12b1d6 167.5px,#07b5d0 169.5px,#01bac5 174.5px,#0ab4d2 177.5px,#01b9c7 187.5px,#08b4d1 198.5px,#01b8c8 208.5px,#0ab4d2 210.5px,#07b5d0 216.5px,#16afd9 221.5px,#05b6ce 225.5px,#13b1d7 234.5px,#06b5cf 237.5px,#01b8ca 244.5px,#0cb3d3 269.5px,#03b7cc 278.5px,#0bb3d2 280.5px,#02bbc3 285.5px,#1fc0b2 287.5px,#1bc0b4 290.5px,#01b9c6 292.5px,#0bb3d2 302.5px,#01b8ca 306.5px,#0db3d4 309.5px,#03b7cc 324.5px,#13b0d8 327.5px,#07b5d0 330.5px,#12b1d6 332.5px,#0cb3d3 335.5px,#04bbc2 337.5px,#0fbeba 339.5px,#03bbc3 342.5px,#07b5cf 344.5px,#09bcbe 347.5px,#01b9c7 349.5px,#04b6cd 356.5px,#05b6ce 365.5px,#01bac5 367.5px,#18bfb6 369.5px,#21c1b0 374.5px,#01b8c9 377.5px,#03b7cc 386.5px,#02bac4 390.5px,#04b6cd 394.5px,#06b5cf 405.5px,#07bcbf 409.5px,#01b8c9 414.5px,#0cb3d2 418.5px,#03b7cc 421.5px,#09b4d1 424.5px,#01b9c6 427.5px,#0fb2d5 436.5px,#02b7cb 440.5px,#07b5d0 445.5px,#10b2d5 446.5px,#2b91ef 453.5px,#3579fd 459.5px,#3678fd 476.5px)"></div><div style="height:1px;background:linear-gradient(90deg,#3578fd 0.5px,#3578fd 51.5px,#2f81fa 52.5px,#1ea7e1 53.5px,#05b6ce 56.5px,#1babde 60.5px,#20a5e3 77.5px,#14b0d8 95.5px,#1da9e0 117.5px,#07b5d0 126.5px,#01b7ca 137.5px,#01b8ca 157.5px,#11b1d6 167.5px,#01bac5 174.5px,#09b4d1 177.5px,#01b9c6 187.5px,#08b5d0 198.5px,#01b9c7 208.5px,#09b4d1 210.5px,#08b4d1 217.5px,#16afd9 221.5px,#04b6cd 225.5px,#11b1d6 234.5px,#07b5d0 236.5px,#01b8c9 244.5px,#0bb3d2 269.5px,#02b7cb 278.5px,#0ab4d1 280.5px,#01b8ca 284.5px,#02bbc3 285.5px,#20c1b1 287.5px,#1cc0b4 290.5px,#01bac5 292.5px,#09b4d1 297.5px,#0bb3d2 302.5px,#01b8ca 306.5px,#0db3d3 309.5px,#04b6cd 312.5px,#0cb3d3 315.5px,#03b7cc 324.5px,#13b0d7 327.5px,#07b5d0 329.5px,#12b1d6 332.5px,#0bb3d2 335.5px,#03b7cc 336.5px,#0fbeba 338.5px,#0bbdbd 341.5px,#03bbc2 342.5px,#06b5cf 344.5px,#09bcbe 347.5px,#01b9c6 349.5px,#03b7cc 356.5px,#04b6cd 365.5px,#02bac4 367.5px,#1ac0b5 369.5px,#21c1b0 373.5px,#22c1b0 374.5px,#01b8c9 377.5px,#03b7cc 386.5px,#02bac4 390.5px,#05b6ce 405.5px,#08bcbf 409.5px,#01b8ca 415.5px,#0ab4d1 418.5px,#01b9c8 428.5px,#0eb2d4 436.5px,#02b7cb 440.5px,#07b5d0 445.5px,#10b2d5 446.5px,#2b91ef 453.5px,#3479fd 459.5px,#3578fd 476.5px)"></div><div style="height:1px;background:linear-gradient(90deg,#3579fd 0.5px,#3579fd 51.5px,#2f82f9 52.5px,#1baade 53.5px,#07b5d0 54.5px,#01b8c9 56.5px,#1caadf 62.5px,#12b1d6 66.5px,#1fa6e2 77.5px,#1caadf 87.5px,#0cb3d3 94.5px,#16aeda 98.5px,#11b1d6 104.5px,#1babde 118.5px,#01b7ca 127.5px,#06b5cf 135.5px,#01b9c6 143.5px,#0abdbe 146.5px,#04b6cd 150.5px,#02bac5 153.5px,#01b8c8 161.5px,#0eb2d4 166.5px,#01b8c9 173.5px,#04bbc2 187.5px,#06b6ce 191.5px,#02bac5 208.5px,#0db3d3 211.5px,#03b7cc 218.5px,#14b0d8 221.5px,#01b8ca 225.5px,#0cb3d3 234.5px,#04b6cd 236.5px,#0bb4d2 241.5px,#01b8c8 244.5px,#07b5d0 247.5px,#02b7cb 250.5px,#0eb2d4 256.5px,#03b7cc 261.5px,#08b5d0 269.5px,#03bbc2 278.5px,#04b6cc 280.5px,#01b8c9 284.5px,#07bcc0 285.5px,#21c1b1 286.5px,#29c3a9 287.5px,#20c1b1 290.5px,#18bfb6 291.5px,#02bac3 292.5px,#0cb3d3 297.5px,#01b8c9 306.5px,#0eb3d4 309.5px,#02bac4 312.5px,#08b5d0 315.5px,#02b7cb 323.5px,#06b5cf 325.5px,#17aeda 327.5px,#08b4d1 330.5px,#0db3d3 332.5px,#02b7ca 336.5px,#10beba 339.5px,#12beb9 341.5px,#01b9c7 343.5px,#03b7cc 344.5px,#0ebdbb 347.5px,#02bac4 349.5px,#01bac5 365.5px,#04bbc2 366.5px,#26c2ad 369.5px,#28c3aa 374.5px,#22c1b0 375.5px,#01bac5 377.5px,#04b6cd 380.5px,#03bbc2 389.5px,#03b7cc 404.5px,#0abdbd 408.5px,#01b8ca 412.5px,#01b9c8 421.5px,#0bb3d2 424.5px,#01b9c8 428.5px,#02b7cb 432.5px,#11b1d6 437.5px,#02b7cb 444.5px,#22a2e4 450.5px,#347afd 459.5px,#3579fd 476.5px)"></div><div style="height:1px;background:linear-gradient(90deg,#3579fd 0.5px,#3579fd 51.5px,#2e84f9 52.5px,#14b0d8 53.5px,#02bac5 54.5px,#0bbdbc 57.5px,#01b8ca 59.5px,#17aeda 62.5px,#01b8c9 66.5px,#18aedb 72.5px,#1ca9df 77.5px,#12b1d6 81.5px,#1da8e0 86.5px,#08b4d1 93.5px,#19acdc 97.5px,#10b2d5 103.5px,#16afd9 118.5px,#01b8c9 121.5px,#0abdbd 127.5px,#01b9c6 130.5px,#06b5ce 134.5px,#01b9c7 137.5px,#06bcc0 143.5px,#23c1af 146.5px,#21c1b0 147.5px,#02bac5 149.5px,#01b7ca 150.5px,#07bcbf 154.5px,#05b6ce 157.5px,#07bcbf 161.5px,#01b8c8 164.5px,#09b4d1 167.5px,#05b6ce 171.5px,#04bbc1 174.5px,#03bbc2 185.5px,#11beb9 188.5px,#01b9c7 190.5px,#04b6cd 192.5px,#05b6ce 199.5px,#03bbc2 202.5px,#01b9c7 208.5px,#15afd9 211.5px,#01b8c9 214.5px,#06bcc0 218.5px,#04b6cc 220.5px,#12b1d6 222.5px,#01b7ca 224.5px,#0abdbe 227.5px,#02b7cb 231.5px,#04bbc2 236.5px,#05b6ce 239.5px,#01b8ca 244.5px,#1da9e0 247.5px,#15afd9 251.5px,#1baade 257.5px,#0ab4d2 261.5px,#03b7cc 266.5px,#01b9c7 282.5px,#03bbc2 284.5px,#2bc3a8 286.5px,#31c69f 287.5px,#25c2ad 291.5px,#04bbc2 293.5px,#01b9c6 295.5px,#01b8ca 299.5px,#11beb9 305.5px,#01b9c6 307.5px,#0bb3d2 309.5px,#05bbc1 311.5px,#13beb8 312.5px,#13beb8 313.5px,#01b9c7 315.5px,#12b1d6 319.5px,#01bac5 323.5px,#01b8ca 324.5px,#1babde 326.5px,#1fa6e1 327.5px,#0ab4d2 336.5px,#01b8c9 337.5px,#1ac0b5 341.5px,#02bbc3 343.5px,#01b9c6 345.5px,#17bfb6 347.5px,#01bac5 349.5px,#06bcc0 352.5px,#02b7cb 355.5px,#01b9c8 357.5px,#18bfb6 360.5px,#0bbdbd 364.5px,#2fc5a3 368.5px,#33c69d 370.5px,#2cc4a7 375.5px,#02bac4 377.5px,#04b6cd 380.5px,#02bac5 383.5px,#09b4d1 386.5px,#02bac4 391.5px,#06b5cf 395.5px,#02b7cb 402.5px,#0bb3d2 405.5px,#01bac5 409.5px,#09b4d1 411.5px,#08b4d1 421.5px,#16afda 424.5px,#06b5cf 427.5px,#07b5cf 431.5px,#1babde 438.5px,#04b6cd 444.5px,#20a5e2 448.5px,#327bfc 458.5px,#3579fd 476.5px)"></div><div style="height:1px;background:linear-gradient(90deg,#3579fd 0.5px,#3579fd 51.5px,#2e85f8 52.5px,#03b7cc 53.5px,#23c1af 54.5px,#26c2ac 55.5px,#19bfb6 60.5px,#01b9c7 63.5px,#06bcc0 67.5px,#01b8c9 69.5px,#18addb 72.5px,#09b4d1 75.5px,#1baade 78.5px,#23a1e5 84.5px,#0db3d4 93.5px,#19acdc 97.5px,#18aedb 102.5px,#22a1e4 105.5px,#0db3d4 108.5px,#1ea7e1 113.5px,#13b0d7 118.5px,#01b9c7 120.5px,#19bfb6 122.5px,#02bac3 124.5px,#01bac5 125.5px,#22c1b0 127.5px,#22c1b0 128.5px,#07bcc0 130.5px,#01b8c9 133.5px,#01b9c8 136.5px,#20c1b1 139.5px,#21c1b0 140.5px,#17bfb7 143.5px,#21c1b0 146.5px,#05bbc1 148.5px,#07b5cf 150.5px,#05bbc1 153.5px,#07b5d0 156.5px,#01b9c6 159.5px,#11beb9 164.5px,#05bbc1 165.5px,#05b6ce 167.5px,#01b8c8 169.5px,#07b5d0 171.5px,#01b9c7 173.5px,#08bcbe 175.5px,#03bbc3 177.5px,#1abfb5 181.5px,#06bcc0 184.5px,#09bcbe 185.5px,#2ac3a8 187.5px,#29c3aa 188.5px,#05bbc1 191.5px,#02bac4 192.5px,#01b8ca 199.5px,#14bfb8 206.5px,#02bac4 208.5px,#19addc 211.5px,#01b9c6 214.5px,#0ebebb 216.5px,#01b9c7 219.5px,#0fb2d5 221.5px,#01b9c8 223.5px,#24c2ae 227.5px,#05bbc1 230.5px,#02bbc3 232.5px,#2ec4a4 236.5px,#2fc5a3 237.5px,#07bcc0 240.5px,#01b8c9 242.5px,#09b4d1 244.5px,#22a2e4 246.5px,#2796eb 248.5px,#14b0d8 254.5px,#1fa6e2 257.5px,#10b2d5 262.5px,#01b8ca 264.5px,#12beb9 266.5px,#2cc4a7 271.5px,#02bac5 274.5px,#06b5ce 276.5px,#01b9c7 280.5px,#18bfb6 283.5px,#12beb9 284.5px,#30c5a1 287.5px,#27c2ab 291.5px,#09bcbe 293.5px,#02bac3 298.5px,#06bcc0 302.5px,#19bfb5 305.5px,#03bbc3 307.5px,#0eb2d4 309.5px,#01b8c8 311.5px,#13beb8 314.5px,#02bac5 317.5px,#09b4d1 319.5px,#03bbc3 321.5px,#10beba 323.5px,#02bbc3 324.5px,#1aabdd 326.5px,#1da8e0 327.5px,#08b4d1 329.5px,#07b5d0 330.5px,#19addc 332.5px,#16afda 335.5px,#01b8c8 337.5px,#1ec0b2 339.5px,#20c1b1 341.5px,#02bac3 343.5px,#01b8c8 344.5px,#06bcc1 345.5px,#22c1af 346.5px,#26c2ac 347.5px,#02bac3 349.5px,#01b8c9 352.5px,#19addc 355.5px,#11b1d6 357.5px,#02b7cb 358.5px,#09bcbe 359.5px,#1fc0b2 360.5px,#2ac3a9 362.5px,#19bfb5 365.5px,#28c3aa 368.5px,#23c1af 372.5px,#2cc4a7 374.5px,#28c2ab 375.5px,#01b8ca 377.5px,#04b6cd 380.5px,#04bbc2 382.5px,#0fbebb 383.5px,#01b8ca 385.5px,#08b4d1 386.5px,#01b8c8 388.5px,#09bcbe 391.5px,#01b8ca 393.5px,#1aacdd 395.5px,#1ea7e1 397.5px,#19addc 399.5px,#02b7cb 402.5px,#1caadf 405.5px,#05b6ce 408.5px,#1da8e0 420.5px,#13b0d7 431.5px,#21a3e3 439.5px,#0fb2d4 444.5px,#269ae9 447.5px,#337bfd 458.5px,#3579fd 476.5px)"></div><div style="height:1px;background:linear-gradient(90deg,#3579fd 0.5px,#3579fd 51.5px,#2e85f8 52.5px,#02bac5 53.5px,#32c69f 54.5px,#34c79c 55.5px,#29c3aa 58.5px,#34c79b 61.5px,#04bbc2 64.5px,#03bbc2 65.5px,#19bfb6 67.5px,#1abfb5 68.5px,#04bbc2 70.5px,#09b4d1 72.5px,#04b6cc 74.5px,#1ea7e1 77.5px,#269ae9 84.5px,#18addb 87.5px,#1babde 90.5px,#0cb3d3 93.5px,#0ab4d2 96.5px,#11b2d5 100.5px,#2c8ff1 105.5px,#1ea8e0 107.5px,#0bb3d2 108.5px,#1fa6e2 112.5px,#02b7ca 118.5px,#02bac5 119.5px,#27c2ab 122.5px,#1dc0b3 123.5px,#06bcc0 124.5px,#01b9c7 125.5px,#0bbdbd 126.5px,#28c3aa 127.5px,#2ec4a4 128.5px,#0dbdbb 131.5px,#0bbdbd 133.5px,#1dc0b3 136.5px,#41ca8c 140.5px,#39c995 142.5px,#05bbc1 146.5px,#02b7cb 147.5px,#1aacdd 149.5px,#01b9c7 153.5px,#06b5cf 157.5px,#02bac4 160.5px,#08bcbf 161.5px,#28c3aa 163.5px,#2ac3a9 164.5px,#07bcc0 166.5px,#08bcbf 167.5px,#1ac0b5 168.5px,#1ec0b2 169.5px,#0abdbe 170.5px,#01b8c9 171.5px,#01b9c6 172.5px,#2bc3a8 174.5px,#2ac3a9 175.5px,#0cbdbc 177.5px,#1bc0b4 179.5px,#02bac4 183.5px,#04bbc2 184.5px,#2cc4a7 186.5px,#34c79c 187.5px,#29c3a9 191.5px,#0cbdbc 194.5px,#01bac5 199.5px,#05bbc1 202.5px,#31c6a0 205.5px,#35c79a 206.5px,#24c1ae 208.5px,#03bbc2 210.5px,#05b6cd 213.5px,#01b9c6 214.5px,#1bc0b4 216.5px,#1ec0b2 217.5px,#01b8c9 219.5px,#0fb2d4 220.5px,#0fb2d4 221.5px,#01b8c9 222.5px,#29c3aa 224.5px,#37c898 227.5px,#0abdbd 231.5px,#0cbdbc 233.5px,#2ec4a5 235.5px,#66cd6d 237.5px,#67cd6c 238.5px,#38c895 240.5px,#2bc3a8 241.5px,#05bbc1 243.5px,#03b7cc 244.5px,#20a5e2 246.5px,#2994ed 250.5px,#21a3e3 255.5px,#1ea6e1 262.5px,#19addc 263.5px,#01b9c7 264.5px,#26c2ad 265.5px,#35c79a 266.5px,#2fc5a3 269.5px,#44cb89 271.5px,#3eca8f 272.5px,#2fc5a3 273.5px,#01b9c8 275.5px,#0bb3d2 276.5px,#08b5d0 278.5px,#01bac5 279.5px,#30c5a1 281.5px,#37c897 282.5px,#35c79a 285.5px,#4ccb83 287.5px,#46cb87 290.5px,#19bfb6 293.5px,#1fc0b2 295.5px,#03bbc3 298.5px,#01b9c8 307.5px,#19addc 309.5px,#1babde 310.5px,#03b7cc 313.5px,#01b9c7 315.5px,#03b7cc 319.5px,#02bac4 320.5px,#14beb8 322.5px,#02bbc3 324.5px,#13b1d7 327.5px,#01b9c7 329.5px,#05b6cd 330.5px,#1aacdd 331.5px,#20a4e3 332.5px,#1ea7e1 334.5px,#19addc 335.5px,#05b6ce 336.5px,#32c69f 338.5px,#35c79a 339.5px,#31c6a0 341.5px,#16bfb7 343.5px,#11beb9 344.5px,#3cc992 346.5px,#41ca8c 347.5px,#2cc4a7 349.5px,#1cc0b4 352.5px,#09bcbe 353.5px,#0eb2d4 355.5px,#03bbc3 358.5px,#2bc3a8 360.5px,#3dc991 362.5px,#1dc0b3 366.5px,#18bfb6 370.5px,#35c79a 375.5px,#05bbc1 378.5px,#0cbdbc 380.5px,#32c69e 383.5px,#34c79c 384.5px,#20c1b1 387.5px,#34c79c 391.5px,#2ec5a4 392.5px,#02bbc3 394.5px,#01b7ca 395.5px,#0bb3d2 398.5px,#01bac5 400.5px,#15bfb7 402.5px,#01b8c8 404.5px,#19addc 408.5px,#02b7cb 413.5px,#0fb2d5 416.5px,#259de7 420.5px,#17aedb 425.5px,#21a3e4 429.5px,#1da8e0 432.5px,#2798ea 436.5px,#0eb2d4 444.5px,#2895ec 447.5px,#2f82f9 453.5px,#3479fd 460.5px,#3579fd 476.5px)"></div><div style="height:1px;background:linear-gradient(90deg,#3579fd 0.5px,#3579fd 51.5px,#2e85f8 52.5px,#03b7cc 53.5px,#29c3aa 54.5px,#31c5a1 56.5px,#21c1b0 58.5px,#37c897 61.5px,#29c3a9 62.5px,#0abdbd 63.5px,#01bac5 64.5px,#06bcc0 65.5px,#2dc4a5 67.5px,#2fc5a3 69.5px,#11beb9 73.5px,#02bac4 74.5px,#249ee6 76.5px,#2797eb 77.5px,#1ea7e1 80.5px,#23a0e5 83.5px,#0ab4d2 87.5px,#1baade 90.5px,#02b7cb 93.5px,#02bbc3 97.5px,#01b8ca 100.5px,#1caadf 102.5px,#2994ed 104.5px,#2a93ed 105.5px,#249fe6 106.5px,#01b9c8 108.5px,#07bcc0 109.5px,#01b8c8 117.5px,#36c799 122.5px,#34c79b 123.5px,#29c3aa 124.5px,#14beb8 125.5px,#14beb8 126.5px,#31c5a1 128.5px,#2fc5a3 129.5px,#13beb8 131.5px,#10beba 132.5px,#2cc4a7 134.5px,#30c5a1 137.5px,#38c896 138.5px,#61cd71 140.5px,#65cd6e 141.5px,#3dc990 143.5px,#23c1af 146.5px,#02b7cb 148.5px,#10b2d5 149.5px,#03bbc2 154.5px,#02bac4 159.5px,#24c1ae 161.5px,#32c69f 163.5px,#11beb9 166.5px,#33c69d 169.5px,#28c2ab 171.5px,#2dc4a6 172.5px,#51cc7f 174.5px,#44cb89 175.5px,#2dc4a6 176.5px,#19bfb5 177.5px,#1ec0b2 179.5px,#01b9c6 181.5px,#04bbc2 183.5px,#2ec4a5 185.5px,#35c79a 186.5px,#30c5a1 189.5px,#38c896 191.5px,#2dc4a5 193.5px,#0cbdbc 195.5px,#0abdbd 198.5px,#02b7cb 200.5px,#01bac5 202.5px,#28c3aa 204.5px,#3cc991 206.5px,#25c2ad 209.5px,#21c1b0 211.5px,#04bbc2 213.5px,#02bac5 214.5px,#0dbdbb 215.5px,#28c2ab 216.5px,#32c69e 217.5px,#31c5a1 218.5px,#09bcbe 220.5px,#05bbc1 221.5px,#30c5a2 224.5px,#42ca8c 227.5px,#2ec4a5 231.5px,#12beb9 234.5px,#22c1b0 235.5px,#39c895 236.5px,#5fcd73 237.5px,#71cd64 238.5px,#61cd71 239.5px,#32c69f 241.5px,#1ec0b2 244.5px,#05bbc1 245.5px,#05b6ce 246.5px,#13b0d7 247.5px,#2d89f5 253.5px,#249ee6 256.5px,#269ae8 262.5px,#20a4e3 263.5px,#02b7cb 264.5px,#2bc3a8 265.5px,#38c896 266.5px,#30c5a2 267.5px,#19bfb5 268.5px,#11beb9 269.5px,#36c799 271.5px,#3eca8f 272.5px,#26c2ac 274.5px,#04bbc2 275.5px,#16afda 277.5px,#13b1d7 279.5px,#01b9c6 280.5px,#2cc4a6 282.5px,#34c79b 284.5px,#45cb89 285.5px,#67cd6d 286.5px,#78cc5f 287.5px,#8bcb51 290.5px,#7ccc5c 291.5px,#57cc7a 292.5px,#46cb88 293.5px,#4acb85 295.5px,#21c1b0 298.5px,#21c1b0 301.5px,#13beb8 304.5px,#31c6a0 306.5px,#36c799 307.5px,#2ac3a9 308.5px,#08bcbf 309.5px,#02b7cb 310.5px,#01b8c8 312.5px,#02bac4 319.5px,#23c1af 321.5px,#22c1b0 322.5px,#08bcbe 324.5px,#01b9c8 328.5px,#03b7cc 329.5px,#19addc 330.5px,#2796eb 332.5px,#1caadf 335.5px,#0ab4d1 336.5px,#15bfb8 337.5px,#34c79b 338.5px,#3ac993 339.5px,#2fc5a2 341.5px,#24c1ae 342.5px,#0bbdbc 343.5px,#09bcbe 344.5px,#37c897 346.5px,#3fca8e 347.5px,#38c896 349.5px,#3eca90 352.5px,#18bfb6 354.5px,#08bcbf 355.5px,#0bbdbd 359.5px,#2ac3a9 361.5px,#2fc5a3 362.5px,#08bcbf 366.5px,#29c3aa 369.5px,#42ca8b 373.5px,#59cc78 374.5px,#62cd71 375.5px,#34c79c 377.5px,#19bfb5 380.5px,#1ac0b4 381.5px,#36c899 383.5px,#39c895 384.5px,#2ac3a9 387.5px,#40ca8d 391.5px,#0cbdbc 394.5px,#24c1af 397.5px,#06bcc0 399.5px,#02bac4 400.5px,#04bbc1 401.5px,#24c1ae 404.5px,#01b8c9 406.5px,#1caadf 407.5px,#2699e9 409.5px,#06b5cf 413.5px,#08b4d0 415.5px,#20a5e2 418.5px,#249fe6 420.5px,#1aabdd 424.5px,#05b6ce 427.5px,#1babde 429.5px,#2798ea 436.5px,#1fa6e2 438.5px,#05b6cd 440.5px,#01bac5 444.5px,#05b6ce 445.5px,#23a1e4 447.5px,#2e87f7 452.5px,#337afd 459.5px,#3479fd 476.5px)"></div><div style="height:1px;background:linear-gradient(90deg,#3579fd 0.5px,#3579fd 51.5px,#2d89f6 52.5px,#0abdbd 53.5px,#32c69e 54.5px,#3eca8f 56.5px,#32c69f 58.5px,#44ca8a 60.5px,#41ca8c 61.5px,#23c1af 63.5px,#36c799 67.5px,#1ac0b5 71.5px,#21c1b0 73.5px,#15bfb8 74.5px,#04b6cd 75.5px,#1da8e0 76.5px,#249ee6 77.5px,#01b7ca 83.5px,#14beb8 85.5px,#14bfb8 86.5px,#04b6cd 88.5px,#18aedb 89.5px,#1caadf 90.5px,#16afd9 91.5px,#03b7cc 92.5px,#0fbeba 94.5px,#06bcc0 96.5px,#0bbdbd 98.5px,#01b8c9 100.5px,#17aeda 102.5px,#20a5e2 105.5px,#1aacdd 106.5px,#07b5d0 107.5px,#09bcbe 108.5px,#27c2ac 109.5px,#36c898 111.5px,#02bac4 115.5px,#02b7cb 117.5px,#09bdbe 118.5px,#24c1ae 119.5px,#44ca8a 122.5px,#46cb88 123.5px,#28c3ab 126.5px,#37c897 128.5px,#38c897 129.5px,#27c2ac 131.5px,#33c69e 134.5px,#2ec4a5 137.5px,#36c899 138.5px,#6acd6a 140.5px,#70cd65 141.5px,#52cc7e 143.5px,#50cc80 144.5px,#62cd71 146.5px,#36c799 148.5px,#23c1af 150.5px,#23c1af 158.5px,#40ca8d 161.5px,#3fca8e 162.5px,#22c1b0 165.5px,#1cc0b3 166.5px,#3bc993 169.5px,#39c895 172.5px,#52cc7e 174.5px,#3ac994 176.5px,#35c79a 179.5px,#29c3aa 180.5px,#0dbdbb 181.5px,#09bcbe 182.5px,#33c69e 184.5px,#50cc7f 186.5px,#2dc4a5 189.5px,#37c898 192.5px,#17bfb6 195.5px,#21c1b0 198.5px,#0fbeba 200.5px,#14bfb8 201.5px,#43ca8a 205.5px,#24c1af 209.5px,#2fc5a3 212.5px,#28c2ab 215.5px,#4acb84 218.5px,#1fc0b2 222.5px,#2bc3a8 224.5px,#4ccb83 227.5px,#4ccb83 228.5px,#44cb8a 231.5px,#29c3a9 234.5px,#3dc991 237.5px,#3bc992 238.5px,#22c1b0 241.5px,#32c69e 243.5px,#2fc5a3 244.5px,#05bbc1 246.5px,#01b8ca 247.5px,#0cb3d3 250.5px,#2699e9 253.5px,#17aeda 257.5px,#12b1d6 260.5px,#1aacdd 262.5px,#15afd9 263.5px,#03bbc3 264.5px,#29c3aa 265.5px,#30c5a1 266.5px,#1dc0b3 268.5px,#33c69d 272.5px,#23c1af 274.5px,#01b8c9 276.5px,#1aacdd 278.5px,#1ca9df 279.5px,#03bbc2 281.5px,#23c1af 282.5px,#40ca8d 285.5px,#6bcd69 287.5px,#89cb52 290.5px,#86cb54 291.5px,#6ccd68 292.5px,#5fcd73 293.5px,#65cd6e 294.5px,#5acc78 295.5px,#3bc993 296.5px,#2dc4a6 297.5px,#28c3ab 298.5px,#1cc0b3 303.5px,#27c2ac 304.5px,#38c897 305.5px,#60cd72 306.5px,#7dcc5b 307.5px,#6ccd68 308.5px,#49cb85 309.5px,#36c899 310.5px,#29c3aa 312.5px,#1bc0b4 317.5px,#27c2ac 319.5px,#47cb87 322.5px,#25c2ad 326.5px,#1ec0b2 328.5px,#10beba 329.5px,#06b6ce 330.5px,#1ea7e1 331.5px,#249fe5 332.5px,#1ca9df 334.5px,#07b5d0 336.5px,#10beba 337.5px,#36c899 338.5px,#4bcb84 339.5px,#3fca8e 341.5px,#1dc0b3 343.5px,#13beb9 344.5px,#34c79b 346.5px,#42ca8b 348.5px,#3fca8e 352.5px,#35c79a 353.5px,#06bcc0 355.5px,#01b9c6 356.5px,#12b1d6 359.5px,#04b6cd 361.5px,#05bbc1 363.5px,#06b5cf 366.5px,#05bbc1 368.5px,#22c1b0 369.5px,#3fca8e 373.5px,#57cc7a 374.5px,#61cd71 375.5px,#37c898 377.5px,#1dc0b3 379.5px,#04bbc2 380.5px,#02bac5 381.5px,#30c5a1 383.5px,#30c5a1 384.5px,#02bac3 386.5px,#01b9c7 387.5px,#05bbc1 388.5px,#22c1af 390.5px,#1fc1b1 391.5px,#07bcc0 392.5px,#10b2d5 394.5px,#01b8c8 396.5px,#01b8c8 398.5px,#1aabdd 400.5px,#1da9e0 401.5px,#16afd9 402.5px,#02b7cb 403.5px,#06bcc0 404.5px,#01b9c7 405.5px,#19addc 406.5px,#2c8ef1 408.5px,#18addb 413.5px,#06b5cf 416.5px,#1da9e0 419.5px,#259de7 423.5px,#1da9e0 425.5px,#08b5d0 426.5px,#01b8c8 427.5px,#1da8e0 430.5px,#09b4d1 434.5px,#1da8e0 437.5px,#03b7cc 442.5px,#06bcc0 444.5px,#08b4d0 446.5px,#21a3e3 448.5px,#2d89f5 453.5px,#347afd 460.5px,#347afd 476.5px)"></div><div style="height:1px;background:linear-gradient(90deg,#3479fd 0.5px,#3479fd 51.5px,#2d8df2 52.5px,#35c79b 53.5px,#6ccd68 54.5px,#7dcc5b 55.5px,#7fcc5a 56.5px,#5fcd73 58.5px,#6acd6a 60.5px,#61cd71 61.5px,#44cb8a 62.5px,#36c898 63.5px,#45cb89 65.5px,#42ca8b 66.5px,#01b9c8 71.5px,#08bcbf 75.5px,#02b7cb 77.5px,#0eb2d4 79.5px,#02bac4 81.5px,#27c2ab 83.5px,#30c5a2 85.5px,#24c1ae 87.5px,#02bbc3 88.5px,#13b1d7 89.5px,#1aacdd 90.5px,#01b9c8 92.5px,#16bfb7 94.5px,#0ebdbb 96.5px,#1abfb5 98.5px,#01b9c7 100.5px,#08b4d1 106.5px,#01b8ca 107.5px,#0cbdbc 108.5px,#2bc3a8 109.5px,#3ac994 110.5px,#38c896 111.5px,#23c1af 112.5px,#01b8c9 113.5px,#0ab4d1 114.5px,#02bac3 116.5px,#2ac3a9 118.5px,#49cb85 120.5px,#54cc7d 121.5px,#56cc7b 123.5px,#36c898 126.5px,#3fca8e 129.5px,#32c69e 132.5px,#2ac3a8 137.5px,#43ca8b 139.5px,#5ecd74 140.5px,#67cd6d 141.5px,#49cb86 143.5px,#4fcc80 144.5px,#81cc59 146.5px,#78cc5f 147.5px,#44cb89 149.5px,#3fca8e 150.5px,#40ca8d 152.5px,#57cc7a 155.5px,#54cc7c 158.5px,#6fcd66 160.5px,#6ccd68 161.5px,#3dc991 164.5px,#33c79d 166.5px,#46cb88 168.5px,#3ac994 171.5px,#4ccb83 175.5px,#6ccd69 178.5px,#58cc79 179.5px,#21c1b1 181.5px,#14beb8 182.5px,#55cc7c 186.5px,#4ccb83 187.5px,#27c2ac 189.5px,#20c1b1 190.5px,#33c69e 193.5px,#2bc3a8 195.5px,#30c5a1 200.5px,#47cb87 202.5px,#82cc58 204.5px,#83cc57 205.5px,#4fcc81 207.5px,#33c79d 209.5px,#32c69f 210.5px,#3ac994 211.5px,#68cd6b 213.5px,#61cd71 214.5px,#38c896 216.5px,#4fcc80 219.5px,#2cc4a7 221.5px,#1dc0b3 222.5px,#1ec0b2 223.5px,#3cc991 225.5px,#68cd6b 227.5px,#68cd6c 228.5px,#5acc77 231.5px,#41ca8c 233.5px,#41ca8c 236.5px,#28c3ab 240.5px,#3fca8e 243.5px,#35c79a 244.5px,#07bcbf 246.5px,#01b9c8 247.5px,#0cbdbc 250.5px,#01b9c7 251.5px,#1da9e0 253.5px,#1fa6e2 255.5px,#14b0d8 257.5px,#04b6cd 258.5px,#03bbc2 259.5px,#0fbeba 260.5px,#01b8c9 263.5px,#0bbdbd 264.5px,#28c2ab 265.5px,#36c799 267.5px,#2fc5a2 271.5px,#13beb8 273.5px,#2ac3a9 276.5px,#26c2ad 277.5px,#09bdbe 279.5px,#21c1b0 280.5px,#55cc7b 282.5px,#65cd6e 283.5px,#54cc7d 285.5px,#82cc58 288.5px,#87cb54 290.5px,#7ecc5b 291.5px,#52cc7e 293.5px,#43ca8b 295.5px,#26c2ac 297.5px,#27c2ac 299.5px,#09bcbe 302.5px,#0dbdbc 303.5px,#23c1af 304.5px,#36c898 305.5px,#58cc79 306.5px,#6ccd68 307.5px,#4ccb83 309.5px,#30c5a1 312.5px,#2dc4a5 319.5px,#3bc992 321.5px,#4fcc80 322.5px,#54cc7c 323.5px,#26c2ad 326.5px,#22c1b0 327.5px,#31c6a0 329.5px,#27c2ab 330.5px,#02bbc3 331.5px,#0cb3d3 332.5px,#12b1d6 333.5px,#03b6cc 336.5px,#13beb9 337.5px,#6bcd69 339.5px,#7fcc5a 340.5px,#85cb55 341.5px,#43ca8a 344.5px,#49cb86 345.5px,#75cc61 347.5px,#7ccc5c 348.5px,#3cc991 351.5px,#35c79a 353.5px,#14beb8 355.5px,#01bac5 357.5px,#07bcbf 360.5px,#27c2ab 363.5px,#29c3aa 364.5px,#0abdbe 367.5px,#16bfb7 368.5px,#3bc992 370.5px,#47cb87 372.5px,#79cc5e 374.5px,#7fcc5a 375.5px,#48cb86 377.5px,#15bfb7 380.5px,#15bfb7 381.5px,#49cb86 383.5px,#49cb85 384.5px,#22c1b0 386.5px,#13beb9 387.5px,#12beb9 388.5px,#23c1af 390.5px,#1fc1b1 391.5px,#01b9c7 393.5px,#05b6cd 398.5px,#1da9e0 401.5px,#01b8c9 403.5px,#06bcc0 404.5px,#01b8c8 405.5px,#18addb 406.5px,#259be8 408.5px,#01b8ca 413.5px,#01bac5 417.5px,#18addb 421.5px,#259de7 423.5px,#249ee6 424.5px,#08b4d0 426.5px,#04b6cd 427.5px,#20a4e3 429.5px,#249ee6 430.5px,#1fa6e2 431.5px,#05b6cd 432.5px,#1ec0b2 433.5px,#2dc4a5 434.5px,#25c2ad 435.5px,#07bcbf 436.5px,#05b6ce 437.5px,#1caadf 440.5px,#1aabdd 442.5px,#02bac3 444.5px,#02bbc3 445.5px,#21a4e3 448.5px,#317efb 458.5px,#347afd 476.5px)"></div><div style="height:1px;background:linear-gradient(90deg,#3479fd 0.5px,#3479fd 51.5px,#2c90f0 52.5px,#55cc7c 53.5px,#a1c840 54.5px,#a3c83f 55.5px,#5fcd73 58.5px,#65cd6e 59.5px,#78cc5f 60.5px,#77cc5f 61.5px,#39c994 63.5px,#27c2ac 69.5px,#0dbdbb 70.5px,#03b7cc 71.5px,#11b1d6 72.5px,#10b2d5 73.5px,#03b7cb 74.5px,#06bcc0 75.5px,#22c1b0 77.5px,#0ebdbb 80.5px,#26c2ad 82.5px,#1bc0b4 85.5px,#24c2ae 87.5px,#01b9c7 89.5px,#07b5d0 90.5px,#01b9c7 92.5px,#0cbdbc 93.5px,#24c1ae 97.5px,#0cbdbc 100.5px,#14beb8 103.5px,#0bbdbd 106.5px,#39c895 110.5px,#36c898 111.5px,#01b8ca 113.5px,#03b6cc 114.5px,#11beb9 115.5px,#2dc4a5 116.5px,#48cb86 118.5px,#77cc60 120.5px,#87cb54 121.5px,#89cb52 122.5px,#7fcc5a 123.5px,#48cb86 126.5px,#4ecc81 130.5px,#31c6a0 134.5px,#2fc5a2 136.5px,#36c899 138.5px,#5bcc77 140.5px,#5ccc76 141.5px,#36c899 143.5px,#3cc991 144.5px,#6bcd69 146.5px,#6dcd67 147.5px,#53cc7d 150.5px,#58cc79 152.5px,#96ca49 155.5px,#abc739 157.5px,#71cd64 163.5px,#3fca8e 166.5px,#33c79d 170.5px,#39c895 171.5px,#57cc7a 173.5px,#63cd6f 175.5px,#88cb53 177.5px,#87cb54 178.5px,#3eca8f 180.5px,#29c3aa 181.5px,#1cc0b3 182.5px,#51cc7f 186.5px,#38c896 188.5px,#2ec4a4 190.5px,#3fca8e 193.5px,#45cb88 196.5px,#5dcc75 200.5px,#67cd6d 201.5px,#7ecc5b 202.5px,#c3c22b 204.5px,#cec028 205.5px,#c0c32d 206.5px,#a1c840 207.5px,#51cc7f 209.5px,#40ca8d 210.5px,#4dcc82 211.5px,#9dc943 213.5px,#9dc943 214.5px,#4ecc81 216.5px,#3eca8f 217.5px,#33c69d 222.5px,#3dc990 223.5px,#6ecd67 225.5px,#7acc5d 226.5px,#53cc7d 229.5px,#66cd6d 234.5px,#5fcd73 235.5px,#3bc992 237.5px,#38c896 238.5px,#3cc992 241.5px,#56cc7b 243.5px,#11beba 247.5px,#25c2ae 250.5px,#0cbdbc 251.5px,#06b5ce 252.5px,#17aeda 253.5px,#23a0e5 255.5px,#1ea7e1 257.5px,#01b8ca 259.5px,#02bac4 261.5px,#07b5d0 263.5px,#01b9c6 264.5px,#2fc5a2 266.5px,#35c79a 267.5px,#26c2ac 271.5px,#02bac4 273.5px,#17bfb6 274.5px,#53cc7d 276.5px,#61cd71 277.5px,#3dc990 279.5px,#40ca8d 280.5px,#84cb56 282.5px,#93ca4b 283.5px,#7dcc5b 285.5px,#98c947 288.5px,#b6c533 290.5px,#b5c533 291.5px,#87cb54 293.5px,#73cd63 295.5px,#46cb88 297.5px,#35c79a 302.5px,#38c896 303.5px,#44ca8a 304.5px,#73cd63 306.5px,#73cd62 307.5px,#3fca8e 309.5px,#25c2ae 315.5px,#2fc5a3 318.5px,#28c2ab 321.5px,#31c69f 323.5px,#2fc5a3 324.5px,#0ebdbb 326.5px,#0bbdbd 327.5px,#32c69e 329.5px,#31c6a0 330.5px,#06bcc0 332.5px,#02bac4 333.5px,#01b9c7 336.5px,#19bfb5 337.5px,#67cd6d 339.5px,#85cb56 341.5px,#87cb54 342.5px,#61cd72 344.5px,#65cd6e 345.5px,#87cb54 346.5px,#9ac946 347.5px,#98c947 348.5px,#4fcc80 350.5px,#34c79c 351.5px,#13beb9 355.5px,#5bcc77 363.5px,#3cc991 367.5px,#4bcb83 368.5px,#83cc57 370.5px,#84cb56 372.5px,#c3c22b 374.5px,#c9c129 375.5px,#b0c636 376.5px,#50cc80 379.5px,#39c895 380.5px,#38c896 381.5px,#60cd72 383.5px,#3dca90 386.5px,#4ccb83 390.5px,#2dc4a6 393.5px,#24c2ae 397.5px,#04bbc2 399.5px,#05b6cd 401.5px,#04bbc2 402.5px,#1cc0b3 403.5px,#22c1b0 404.5px,#01b8ca 406.5px,#12b1d7 408.5px,#04bbc1 411.5px,#1ec0b2 413.5px,#1cc0b3 414.5px,#02b7cb 418.5px,#1caadf 423.5px,#0fb2d4 426.5px,#22a1e4 430.5px,#16afda 431.5px,#0abdbe 432.5px,#2fc5a3 433.5px,#36c899 434.5px,#2fc5a2 435.5px,#08bcbf 437.5px,#01b9c6 438.5px,#1fa6e2 441.5px,#21a3e3 442.5px,#0bb3d2 445.5px,#22a2e4 447.5px,#21a2e4 450.5px,#2c8ef1 453.5px,#327cfc 459.5px,#347afd 476.5px)"></div><div style="height:1px;background:linear-gradient(90deg,#347afd 0.5px,#347afd 51.5px,#2b90f0 52.5px,#49cb85 53.5px,#89cb53 54.5px,#89cb53 55.5px,#5ecc74 57.5px,#55cc7b 58.5px,#71cd64 60.5px,#70cd65 61.5px,#36c799 63.5px,#2dc4a5 64.5px,#3cc991 68.5px,#38c896 69.5px,#2cc4a7 70.5px,#0fbeba 71.5px,#01b8c8 72.5px,#04b6cd 73.5px,#06bcc0 75.5px,#21c1b0 78.5px,#05bbc1 80.5px,#0abdbe 82.5px,#01b9c6 84.5px,#01bac5 85.5px,#25c2ad 88.5px,#24c2ae 89.5px,#0bbdbc 91.5px,#1ac0b4 93.5px,#0dbdbc 95.5px,#13beb8 97.5px,#02bac5 99.5px,#18bfb6 103.5px,#06bcc0 105.5px,#0abdbd 106.5px,#25c2ad 108.5px,#30c5a1 111.5px,#19bfb5 113.5px,#1fc0b2 114.5px,#46cb87 116.5px,#95ca49 121.5px,#93ca4a 122.5px,#57cc7a 125.5px,#54cc7c 126.5px,#67cd6c 129.5px,#3fca8e 135.5px,#5ecc74 140.5px,#3bc992 142.5px,#34c79c 143.5px,#4ccb83 145.5px,#44cb8a 148.5px,#59cc78 151.5px,#83cc57 155.5px,#a8c73b 157.5px,#80cc59 160.5px,#8acb52 163.5px,#75cc61 164.5px,#37c897 166.5px,#2fc5a3 167.5px,#29c3aa 170.5px,#32c69e 171.5px,#57cc7a 173.5px,#81cc58 178.5px,#72cd64 179.5px,#38c896 181.5px,#2ec5a4 182.5px,#39c895 184.5px,#59cc78 186.5px,#48cb86 188.5px,#56cc7a 194.5px,#85cb56 197.5px,#a3c83f 200.5px,#b3c534 203.5px,#d6be28 205.5px,#d2bf27 206.5px,#bac430 207.5px,#5fcd73 209.5px,#49cb86 210.5px,#53cc7d 211.5px,#94ca4a 213.5px,#94ca4a 214.5px,#4dcc82 216.5px,#3bc992 217.5px,#3eca8f 220.5px,#52cc7e 222.5px,#98c947 225.5px,#92ca4c 226.5px,#44cb89 228.5px,#33c79d 229.5px,#34c79b 230.5px,#69cd6b 233.5px,#6ecd66 235.5px,#47cb87 237.5px,#40ca8d 238.5px,#34c79c 241.5px,#3dc990 244.5px,#23c1af 247.5px,#28c2ab 250.5px,#02b7cb 252.5px,#1fa5e2 256.5px,#14b0d8 262.5px,#01b9c6 264.5px,#2cc4a6 266.5px,#27c2ab 268.5px,#31c6a0 270.5px,#30c5a2 271.5px,#0dbdbc 273.5px,#20c1b1 274.5px,#39c895 275.5px,#7fcc5a 277.5px,#6ecd66 278.5px,#46cb88 279.5px,#38c896 280.5px,#45cb89 281.5px,#7dcc5b 283.5px,#90ca4d 285.5px,#91ca4c 286.5px,#65cd6e 288.5px,#75cc61 289.5px,#a1c840 290.5px,#bac430 291.5px,#a0c841 293.5px,#a2c83f 295.5px,#8ecb4e 297.5px,#92ca4b 299.5px,#86cb55 302.5px,#8dcb4f 306.5px,#52cc7e 309.5px,#46cb88 312.5px,#29c3a9 315.5px,#3fca8e 319.5px,#2bc3a8 322.5px,#2bc3a8 324.5px,#19bfb5 326.5px,#1ac0b5 327.5px,#39c895 329.5px,#35c79b 330.5px,#0ebdbb 332.5px,#17bfb6 334.5px,#0ebebb 336.5px,#4dcc82 339.5px,#53cc7e 342.5px,#38c896 344.5px,#37c897 345.5px,#5fcd73 347.5px,#63cd70 348.5px,#21c1b0 351.5px,#0bbdbd 352.5px,#02b7cb 355.5px,#05bbc1 356.5px,#2ac3a8 358.5px,#34c79c 361.5px,#47cb87 363.5px,#45cb88 366.5px,#50cc80 367.5px,#8fcb4e 369.5px,#9cc944 370.5px,#84cc56 372.5px,#94ca4a 373.5px,#b5c533 374.5px,#bdc32e 375.5px,#88cb53 378.5px,#41ca8c 380.5px,#3cc991 381.5px,#48cb86 382.5px,#47cb87 383.5px,#26c2ac 385.5px,#28c3ab 386.5px,#4ccb83 389.5px,#4fcc81 390.5px,#2dc4a6 392.5px,#0cbdbc 394.5px,#18bfb6 397.5px,#02bac3 400.5px,#03bbc2 401.5px,#1abfb5 403.5px,#01b9c6 406.5px,#03b7cc 408.5px,#12b1d6 410.5px,#02bac4 412.5px,#19bfb5 416.5px,#01b9c7 419.5px,#11b1d6 422.5px,#11b1d6 429.5px,#04b6cd 430.5px,#0bbdbd 431.5px,#27c2ac 432.5px,#30c5a2 433.5px,#2ec5a4 434.5px,#15bfb8 436.5px,#14beb8 438.5px,#05bbc1 439.5px,#1fa5e2 441.5px,#259ce7 442.5px,#1baade 445.5px,#259de7 447.5px,#249ee6 451.5px,#317dfc 459.5px,#337afd 476.5px)"></div><div style="height:1px;background:linear-gradient(90deg,#347afd 0.5px,#347afd 51.5px,#2c8ff0 52.5px,#37c897 53.5px,#6dcd67 54.5px,#7ccc5c 55.5px,#5acc78 59.5px,#36c899 61.5px,#2cc4a7 62.5px,#2bc3a8 63.5px,#35c79a 64.5px,#67cd6c 66.5px,#74cc62 67.5px,#6acd6a 68.5px,#19bfb5 71.5px,#02bbc3 73.5px,#17bfb6 77.5px,#01b9c6 79.5px,#09b4d1 81.5px,#03bbc2 83.5px,#2ac3a8 88.5px,#2ac3a8 89.5px,#17bfb6 91.5px,#1ec0b2 93.5px,#02bbc3 95.5px,#04b6cd 105.5px,#03bbc2 109.5px,#20c1b1 111.5px,#2dc4a5 114.5px,#5bcc76 118.5px,#62cd70 122.5px,#5ccc76 125.5px,#98c947 127.5px,#a5c83d 128.5px,#89cb52 130.5px,#80cc59 133.5px,#6ccd68 135.5px,#81cc58 137.5px,#7dcc5b 138.5px,#53cc7d 142.5px,#4dcc82 145.5px,#30c5a1 147.5px,#2ec4a4 148.5px,#37c897 149.5px,#69cd6b 152.5px,#76cc60 154.5px,#6ccd68 157.5px,#59cc78 159.5px,#6bcd69 163.5px,#38c896 165.5px,#2bc3a8 166.5px,#1ec0b2 170.5px,#27c2ac 171.5px,#38c896 172.5px,#59cc79 173.5px,#6acd6a 174.5px,#5dcc75 176.5px,#76cc61 179.5px,#6bcd69 180.5px,#3dc990 182.5px,#35c79a 183.5px,#39c895 184.5px,#54cc7c 186.5px,#4ccb83 188.5px,#74cd62 190.5px,#7ccc5c 191.5px,#61cd71 194.5px,#68cd6b 195.5px,#7fcc5a 196.5px,#bbc42f 200.5px,#c1c32d 201.5px,#a4c83e 203.5px,#92ca4c 206.5px,#5ccc76 209.5px,#56cc7b 210.5px,#76cc61 213.5px,#6ecd66 214.5px,#40ca8d 216.5px,#36c899 217.5px,#4ecc81 223.5px,#86cb54 225.5px,#92ca4b 226.5px,#7fcc5a 227.5px,#54cc7c 228.5px,#37c897 229.5px,#33c79c 230.5px,#3bc993 231.5px,#50cc7f 233.5px,#73cd63 235.5px,#70cd65 236.5px,#4ecc81 238.5px,#3bc992 240.5px,#30c5a2 242.5px,#31c6a0 244.5px,#29c3a9 245.5px,#04bbc1 247.5px,#02bbc3 248.5px,#0fbebb 250.5px,#02bac4 251.5px,#07b5cf 252.5px,#02bac4 262.5px,#0cbdbc 263.5px,#27c2ab 264.5px,#35c79a 265.5px,#3fca8e 266.5px,#34c79c 268.5px,#3bc992 269.5px,#5dcc75 271.5px,#39c895 273.5px,#38c896 274.5px,#83cc57 277.5px,#6bcd69 278.5px,#3dc991 279.5px,#30c5a1 280.5px,#36c898 281.5px,#66cd6e 283.5px,#7ecc5b 285.5px,#7fcc5a 286.5px,#3dc991 288.5px,#3dc990 289.5px,#7acc5d 291.5px,#5ccc76 293.5px,#5bcc77 294.5px,#88cb53 299.5px,#7bcc5d 303.5px,#48cb86 307.5px,#43ca8a 311.5px,#26c2ac 315.5px,#38c896 317.5px,#68cd6b 320.5px,#3cc992 322.5px,#33c79d 323.5px,#36c898 327.5px,#5fcd73 329.5px,#4fcc80 330.5px,#2fc5a3 331.5px,#15bfb7 332.5px,#0cbdbc 333.5px,#21c1b1 336.5px,#47cb87 338.5px,#49cb85 339.5px,#3eca8f 340.5px,#46cb88 342.5px,#2fc5a3 345.5px,#48cb86 348.5px,#29c3aa 352.5px,#01b9c7 354.5px,#02bac3 355.5px,#29c3aa 357.5px,#21c1b1 361.5px,#34c79c 366.5px,#3eca8f 367.5px,#61cd71 368.5px,#91ca4c 369.5px,#a6c83d 370.5px,#99c946 371.5px,#7dcc5b 372.5px,#75cc61 373.5px,#81cc59 374.5px,#6fcd66 378.5px,#40ca8d 380.5px,#43ca8b 382.5px,#3ac994 383.5px,#03bbc3 385.5px,#01b9c8 386.5px,#02bbc3 387.5px,#2cc4a7 389.5px,#2fc5a3 390.5px,#22c1b0 391.5px,#05bbc1 392.5px,#0bb3d2 395.5px,#04bbc1 398.5px,#04bbc1 401.5px,#23c1af 407.5px,#1cc0b3 408.5px,#06bcc0 409.5px,#01b8c9 410.5px,#02bac4 411.5px,#1cc0b3 413.5px,#10beba 415.5px,#22c1af 418.5px,#04bbc2 421.5px,#0cb3d3 424.5px,#03bbc2 427.5px,#21c1b0 433.5px,#0fbebb 436.5px,#1dc0b3 438.5px,#17bfb6 439.5px,#01b9c6 440.5px,#20a4e3 442.5px,#18aedb 445.5px,#327cfc 460.5px,#337bfd 476.5px)"></div><div style="height:1px;background:linear-gradient(90deg,#347afd 0.5px,#347afd 51.5px,#2c90f0 52.5px,#3bc993 53.5px,#7bcc5d 54.5px,#8fcb4e 55.5px,#80cc59 57.5px,#6ccd69 58.5px,#32c69f 60.5px,#1ec0b2 61.5px,#15bfb7 62.5px,#25c2ad 63.5px,#38c896 64.5px,#83cc57 66.5px,#8dcb4f 67.5px,#71cd65 68.5px,#3dc990 69.5px,#16bfb7 70.5px,#03b7cc 71.5px,#0db3d3 73.5px,#04bbc2 75.5px,#25c2ae 77.5px,#25c2ad 78.5px,#01bac5 80.5px,#01b9c7 81.5px,#0ebdbb 82.5px,#28c3aa 83.5px,#38c896 85.5px,#2ac3a9 88.5px,#0bbdbd 91.5px,#19bfb5 93.5px,#02bac5 96.5px,#13beb9 99.5px,#04b6cd 101.5px,#10b2d5 102.5px,#01b8ca 104.5px,#01b8c9 106.5px,#13b0d7 108.5px,#01b8ca 110.5px,#1ec0b2 113.5px,#40ca8d 116.5px,#33c79d 120.5px,#48cb86 124.5px,#5acc77 125.5px,#b6c532 127.5px,#c2c22c 128.5px,#a6c83d 130.5px,#b1c636 132.5px,#8fcb4e 134.5px,#92ca4b 135.5px,#a6c73c 136.5px,#abc739 137.5px,#7ccc5c 140.5px,#6dcd67 143.5px,#3fca8e 147.5px,#40ca8d 148.5px,#60cd72 150.5px,#8ccb50 154.5px,#57cc7a 157.5px,#57cc7a 161.5px,#32c69e 165.5px,#2ec5a4 166.5px,#35c79a 168.5px,#26c2ac 171.5px,#39c895 172.5px,#6dcd67 173.5px,#93ca4a 174.5px,#8ccb50 175.5px,#73cd62 176.5px,#69cd6b 177.5px,#6dcd67 180.5px,#41ca8c 184.5px,#4ecc81 186.5px,#4ccb83 188.5px,#94ca4a 191.5px,#96ca49 192.5px,#66cd6d 195.5px,#68cd6b 197.5px,#73cd63 198.5px,#aac73a 200.5px,#b1c636 201.5px,#8dcb4f 204.5px,#56cc7b 207.5px,#5ecd74 211.5px,#59cc78 214.5px,#41ca8c 217.5px,#3fca8e 220.5px,#30c5a1 223.5px,#3bc993 224.5px,#86cb55 226.5px,#99c946 227.5px,#8bcb51 228.5px,#5bcc77 230.5px,#5dcc74 233.5px,#76cc60 235.5px,#76cc61 236.5px,#5bcc76 238.5px,#53cc7d 240.5px,#3bc993 242.5px,#39c895 244.5px,#28c2ab 245.5px,#02bbc3 246.5px,#0eb3d4 247.5px,#01b9c8 250.5px,#0db3d3 252.5px,#02bac4 254.5px,#16bfb7 258.5px,#04bbc2 260.5px,#04bbc2 262.5px,#34c79c 264.5px,#42ca8b 265.5px,#48cb86 266.5px,#3cc992 268.5px,#44ca8a 269.5px,#6fcd66 271.5px,#71cd64 272.5px,#63cd70 274.5px,#77cc60 277.5px,#35c79a 279.5px,#31c6a0 280.5px,#3eca8f 281.5px,#79cc5e 283.5px,#9bc945 286.5px,#87cb54 287.5px,#63cd6f 288.5px,#56cc7b 289.5px,#6bcd69 291.5px,#41ca8c 294.5px,#4ecc81 298.5px,#43ca8b 300.5px,#4ccb83 303.5px,#36c899 306.5px,#43ca8a 309.5px,#25c2ad 313.5px,#02bbc3 315.5px,#01b9c6 316.5px,#07bcc0 317.5px,#22c1b0 318.5px,#42ca8b 320.5px,#27c2ac 323.5px,#26c2ad 324.5px,#2fc5a2 327.5px,#3fca8e 329.5px,#33c79d 330.5px,#0ebebb 331.5px,#06b5cf 332.5px,#0bb3d2 333.5px,#01b7ca 334.5px,#0cbdbc 335.5px,#53cc7d 338.5px,#3dc991 340.5px,#3eca8f 341.5px,#50cc7f 343.5px,#5fcd73 349.5px,#72cd63 351.5px,#5ecd74 352.5px,#3cc991 353.5px,#2dc4a6 354.5px,#31c6a0 355.5px,#53cc7d 357.5px,#57cc7a 358.5px,#3cc992 361.5px,#37c897 366.5px,#3fca8e 367.5px,#69cd6b 368.5px,#a8c73b 369.5px,#c9c129 370.5px,#c2c22c 371.5px,#82cc58 373.5px,#6dcd67 376.5px,#80cc5a 378.5px,#6ecd66 380.5px,#74cc62 382.5px,#69cd6a 383.5px,#33c79d 385.5px,#2bc3a8 386.5px,#27c2ac 387.5px,#3cc991 390.5px,#20c1b1 392.5px,#0dbdbc 393.5px,#07bcbf 394.5px,#07bcbf 395.5px,#30c5a1 398.5px,#30c5a1 399.5px,#15bfb7 402.5px,#1dc0b3 403.5px,#54cc7c 407.5px,#56cc7b 408.5px,#38c896 410.5px,#33c69d 413.5px,#05bbc1 415.5px,#01b9c7 416.5px,#02bac4 417.5px,#20c1b1 420.5px,#07bcc0 422.5px,#02b7cb 424.5px,#01b9c6 425.5px,#26c2ac 427.5px,#2cc4a7 428.5px,#02bac4 433.5px,#0fbebb 437.5px,#29c3a9 439.5px,#24c1af 440.5px,#09bdbe 441.5px,#04b6cd 442.5px,#19addc 448.5px,#2e85f8 457.5px,#317dfc 460.5px,#337bfc 476.5px)"></div><div style="height:1px;background:linear-gradient(90deg,#347afd 0.5px,#347afd 51.5px,#2c90f0 52.5px,#42ca8c 53.5px,#92ca4c 54.5px,#aac73a 55.5px,#a9c73a 56.5px,#99c946 57.5px,#44ca8a 60.5px,#33c69d 64.5px,#49cb85 67.5px,#3fca8e 68.5px,#2cc4a7 69.5px,#03bbc2 70.5px,#0fb2d4 71.5px,#15afd9 73.5px,#07b5d0 74.5px,#06bcc0 75.5px,#22c1b0 76.5px,#37c897 78.5px,#13beb8 81.5px,#46cb88 85.5px,#0cbdbc 90.5px,#0bbdbd 91.5px,#27c2ab 93.5px,#25c2ad 94.5px,#0dbdbc 96.5px,#0dbdbb 100.5px,#02bac5 101.5px,#0cb3d2 103.5px,#01b8c9 104.5px,#0abdbd 105.5px,#08bcbe 106.5px,#03b7cc 107.5px,#11b1d6 108.5px,#02bac5 110.5px,#1bc0b4 113.5px,#43ca8b 115.5px,#42ca8c 116.5px,#29c3a9 118.5px,#25c2ae 119.5px,#26c2ac 121.5px,#3ac994 124.5px,#48cb86 125.5px,#85cb56 127.5px,#86cb54 129.5px,#a6c73c 132.5px,#77cc60 134.5px,#79cc5e 135.5px,#92ca4c 136.5px,#9ac945 137.5px,#6fcd65 139.5px,#56cc7b 141.5px,#65cd6e 146.5px,#89cb52 149.5px,#79cc5e 152.5px,#99c946 154.5px,#93ca4b 155.5px,#60cd72 157.5px,#59cc78 158.5px,#63cd70 161.5px,#44cb8a 163.5px,#34c79b 165.5px,#53cc7d 169.5px,#35c79a 171.5px,#3cc991 172.5px,#90ca4d 174.5px,#9ac945 175.5px,#53cc7e 178.5px,#51cc7f 179.5px,#6bcd69 181.5px,#6ccd68 182.5px,#49cb85 185.5px,#44cb89 187.5px,#47cb87 188.5px,#6ccd69 190.5px,#84cc56 192.5px,#82cc58 193.5px,#67cd6c 195.5px,#5acc77 197.5px,#5dcc75 198.5px,#78cc5f 200.5px,#7bcc5d 202.5px,#8ecb4f 204.5px,#86cb55 205.5px,#63cd70 207.5px,#71cd64 210.5px,#52cc7e 212.5px,#62cd70 215.5px,#45cb89 220.5px,#20c1b1 223.5px,#2ec4a4 224.5px,#4dcc82 225.5px,#86cb54 226.5px,#adc638 227.5px,#b4c534 228.5px,#6dcd67 231.5px,#63cd70 232.5px,#5dcc75 233.5px,#67cd6c 236.5px,#5ccc76 237.5px,#59cc79 239.5px,#3eca8f 241.5px,#3cc992 242.5px,#4acb84 243.5px,#4ccb83 244.5px,#34c79c 245.5px,#0fbeba 246.5px,#09b4d1 247.5px,#0eb2d4 248.5px,#01b8c9 250.5px,#15afd9 252.5px,#15afd9 253.5px,#01b9c6 258.5px,#1baade 261.5px,#01bac6 263.5px,#1fc0b2 264.5px,#25c2ad 268.5px,#43ca8a 272.5px,#49cb85 277.5px,#32c69f 279.5px,#37c898 280.5px,#84cc56 283.5px,#b6c532 286.5px,#afc636 287.5px,#7fcc5a 289.5px,#79cc5e 291.5px,#5fcd73 293.5px,#53cc7d 298.5px,#42ca8c 300.5px,#49cb85 302.5px,#84cb56 307.5px,#81cc58 308.5px,#40ca8d 311.5px,#27c2ab 314.5px,#01b9c6 316.5px,#06bcc0 318.5px,#21c1b0 319.5px,#33c69d 321.5px,#2ec4a4 322.5px,#09bcbe 324.5px,#01b9c7 325.5px,#0dbdbc 329.5px,#01b8c8 330.5px,#1aacdd 331.5px,#21a3e3 332.5px,#1ea7e1 333.5px,#01b9c6 335.5px,#41ca8d 338.5px,#2dc4a6 341.5px,#36c899 343.5px,#77cc60 346.5px,#79cc5f 347.5px,#72cd63 349.5px,#7ccc5c 351.5px,#39c895 354.5px,#3ac994 355.5px,#5dcc75 358.5px,#39c895 362.5px,#3cc992 366.5px,#49cb86 367.5px,#74cc62 368.5px,#b2c635 369.5px,#d3bf27 370.5px,#d2bf27 371.5px,#90ca4d 373.5px,#68cd6c 375.5px,#62cd70 376.5px,#7ccc5c 378.5px,#78cc5f 380.5px,#8fcb4e 383.5px,#5ecd74 385.5px,#45cb89 387.5px,#54cc7d 389.5px,#51cc7f 390.5px,#32c69e 392.5px,#28c2ab 395.5px,#45cb89 398.5px,#43ca8a 399.5px,#13beb8 402.5px,#13beb8 403.5px,#25c2ad 404.5px,#35c79b 405.5px,#6dcd68 407.5px,#79cc5e 408.5px,#3bc992 411.5px,#27c2ac 413.5px,#0cbdbc 414.5px,#02b7cb 415.5px,#0cb3d3 416.5px,#01bac5 419.5px,#1ac0b5 422.5px,#1bc0b4 425.5px,#31c5a1 428.5px,#01b8c9 432.5px,#05b6ce 434.5px,#02bac4 436.5px,#27c2ac 439.5px,#09bcbe 443.5px,#01b9c7 446.5px,#1aacdd 448.5px,#259de7 450.5px,#307ffb 459.5px,#327cfc 476.5px)"></div><div style="height:1px;background:linear-gradient(90deg,#347afd 0.5px,#347afd 51.5px,#2c8ff1 52.5px,#3cc992 53.5px,#91ca4c 54.5px,#b4c534 55.5px,#bec32e 56.5px,#b4c533 57.5px,#76cc61 59.5px,#67cd6c 60.5px,#71cd64 62.5px,#5ecc74 63.5px,#3dc990 64.5px,#2fc5a3 65.5px,#35c79a 68.5px,#31c6a0 69.5px,#21c1b0 70.5px,#04bbc2 71.5px,#07b5d0 73.5px,#01b8c9 74.5px,#07bcbf 75.5px,#2bc3a8 77.5px,#32c69e 78.5px,#2bc3a8 79.5px,#10beba 80.5px,#04bbc2 81.5px,#12beb9 82.5px,#3cc992 84.5px,#3fca8e 85.5px,#1ac0b5 89.5px,#17bfb7 90.5px,#22c1b0 91.5px,#3ac993 93.5px,#1ec0b2 98.5px,#26c2ac 101.5px,#05bbc1 103.5px,#11beb9 106.5px,#06bcc0 108.5px,#28c3aa 110.5px,#2bc3a8 111.5px,#1ec0b2 113.5px,#39c995 116.5px,#31c6a0 121.5px,#3ac994 124.5px,#5fcd73 127.5px,#67cd6c 129.5px,#93ca4b 131.5px,#93ca4b 132.5px,#51cc7f 134.5px,#46cb88 135.5px,#6ccd68 137.5px,#6dcd68 138.5px,#47cb87 140.5px,#3fca8e 141.5px,#59cc78 145.5px,#99c946 148.5px,#93ca4b 149.5px,#73cd63 151.5px,#79cc5e 152.5px,#a5c83d 154.5px,#adc638 155.5px,#a4c83e 156.5px,#71cd64 158.5px,#61cd71 159.5px,#6acd6a 161.5px,#62cd70 162.5px,#36c898 164.5px,#2ec5a3 165.5px,#30c5a2 166.5px,#39c994 167.5px,#6ccd68 169.5px,#6fcd66 170.5px,#54cc7c 172.5px,#89cb52 175.5px,#4bcb83 177.5px,#3ac994 178.5px,#3dc990 179.5px,#7bcc5d 182.5px,#78cc5f 183.5px,#4ecc81 185.5px,#48cb86 186.5px,#73cd63 195.5px,#72cd64 196.5px,#44cb89 201.5px,#48cb86 202.5px,#7acc5e 205.5px,#75cc61 207.5px,#8acb51 209.5px,#89cb53 210.5px,#5ecd74 212.5px,#6ecd67 214.5px,#6ccd68 215.5px,#45cb88 217.5px,#55cc7c 220.5px,#2cc4a6 222.5px,#21c1b0 223.5px,#31c6a0 224.5px,#5ccc76 225.5px,#99c946 226.5px,#bec32e 227.5px,#c8c129 228.5px,#bac430 229.5px,#6fcd66 231.5px,#51cc7f 232.5px,#41ca8c 233.5px,#44cb8a 234.5px,#62cd71 236.5px,#63cd70 238.5px,#5dcc75 239.5px,#39c895 241.5px,#37c897 242.5px,#46cb88 244.5px,#04b6cd 247.5px,#0eb2d4 248.5px,#05b6cd 250.5px,#15afd9 253.5px,#01b9c8 257.5px,#0db3d4 260.5px,#02bac3 265.5px,#2dc4a6 271.5px,#18bfb6 273.5px,#18bfb6 274.5px,#36c898 277.5px,#3ac993 279.5px,#60cd72 283.5px,#a4c83e 286.5px,#9cc944 287.5px,#6bcd69 289.5px,#64cd6f 291.5px,#4fcc80 292.5px,#47cb87 293.5px,#53cc7d 295.5px,#41ca8c 301.5px,#53cc7d 303.5px,#b0c636 306.5px,#b3c534 307.5px,#94ca4a 308.5px,#66cd6d 309.5px,#4bcb84 310.5px,#43ca8a 311.5px,#4fcc80 314.5px,#32c69e 316.5px,#2fc5a2 317.5px,#41ca8c 319.5px,#6ccd68 321.5px,#63cd70 322.5px,#05bbc1 325.5px,#01b9c7 326.5px,#04bbc2 327.5px,#20c1b1 329.5px,#09bcbe 330.5px,#13b0d7 331.5px,#1ea7e1 332.5px,#1caadf 333.5px,#01b9c8 335.5px,#0abdbd 336.5px,#38c896 338.5px,#38c896 339.5px,#27c2ac 341.5px,#28c2ab 343.5px,#33c69d 344.5px,#6acd6a 346.5px,#81cc59 348.5px,#70cd65 350.5px,#37c897 354.5px,#36c899 355.5px,#4bcb83 358.5px,#47cb87 359.5px,#0cbdbc 363.5px,#0ebebb 364.5px,#2fc5a2 366.5px,#42ca8b 367.5px,#b6c533 369.5px,#d0bf27 370.5px,#d0bf27 371.5px,#b9c431 372.5px,#50cc7f 375.5px,#3fca8e 376.5px,#40ca8d 378.5px,#33c79d 381.5px,#5fcd73 383.5px,#62cd71 384.5px,#3dc991 386.5px,#36c899 387.5px,#38c897 389.5px,#27c2ac 395.5px,#33c69e 398.5px,#2ec4a4 399.5px,#07bcc0 401.5px,#01b9c7 402.5px,#02bbc3 403.5px,#2ec5a4 405.5px,#40ca8d 406.5px,#5fcd73 407.5px,#6dcd67 408.5px,#16bfb7 412.5px,#09bcbe 413.5px,#01b9c7 415.5px,#01b8c9 420.5px,#05bbc1 421.5px,#1fc0b2 422.5px,#2cc4a7 423.5px,#33c69d 428.5px,#2cc4a7 429.5px,#07bcbf 431.5px,#01b8c8 432.5px,#05b6ce 434.5px,#08bcbf 438.5px,#03bbc3 441.5px,#20c1b1 445.5px,#04b6cd 447.5px,#1babde 448.5px,#2699ea 450.5px,#307efb 460.5px,#327cfc 476.5px)"></div><div style="height:1px;background:linear-gradient(90deg,#337afd 0.5px,#337afd 51.5px,#2c8ef1 52.5px,#37c897 53.5px,#7ccc5c 54.5px,#afc637 56.5px,#b1c635 57.5px,#95ca49 58.5px,#68cd6b 59.5px,#51cc7f 60.5px,#5ccc76 62.5px,#55cc7b 63.5px,#35c79a 65.5px,#39c895 69.5px,#2fc5a3 70.5px,#05bbc1 72.5px,#01bac5 73.5px,#05bbc1 76.5px,#20c1b1 78.5px,#05b6ce 80.5px,#0eb2d4 81.5px,#01b9c8 82.5px,#21c1b0 83.5px,#31c6a0 84.5px,#17bfb6 87.5px,#1dc0b3 88.5px,#5ccc75 93.5px,#53cc7d 95.5px,#32c69e 98.5px,#49cb85 101.5px,#25c2ad 106.5px,#3dc990 110.5px,#36c799 111.5px,#0dbdbb 113.5px,#05bbc1 114.5px,#11beb9 115.5px,#2cc4a7 116.5px,#65cd6e 118.5px,#68cd6c 119.5px,#42ca8b 121.5px,#34c79b 124.5px,#3ac994 125.5px,#5bcc76 127.5px,#67cd6d 129.5px,#90ca4d 131.5px,#8ecb4f 132.5px,#4ecc81 134.5px,#47cb87 135.5px,#71cd64 137.5px,#71cd64 138.5px,#4bcb84 140.5px,#43ca8b 141.5px,#3eca90 145.5px,#67cd6c 148.5px,#62cd71 150.5px,#6acd6a 151.5px,#94ca4a 153.5px,#99c946 154.5px,#95ca49 157.5px,#65cd6e 159.5px,#58cc79 160.5px,#67cd6c 162.5px,#64cd6e 163.5px,#3ac994 165.5px,#3bc993 166.5px,#89cb52 169.5px,#8dcb50 170.5px,#7dcc5c 172.5px,#9ec942 175.5px,#7fcc5a 176.5px,#53cc7d 177.5px,#41ca8c 178.5px,#75cc61 181.5px,#7acc5e 182.5px,#52cc7e 185.5px,#4fcc80 192.5px,#63cd70 195.5px,#53cc7e 198.5px,#32c69e 201.5px,#33c69d 202.5px,#5ccc76 205.5px,#68cd6c 207.5px,#8bcb51 209.5px,#6dcd68 212.5px,#78cc5f 214.5px,#48cb86 217.5px,#66cd6d 220.5px,#35c79a 222.5px,#2fc5a3 223.5px,#3eca8f 224.5px,#a8c73b 226.5px,#c0c32d 227.5px,#c5c22a 228.5px,#bdc42f 229.5px,#a4c83e 230.5px,#5bcc77 232.5px,#48cb86 233.5px,#4fcc81 234.5px,#90ca4d 236.5px,#9fc942 237.5px,#96ca49 238.5px,#4acb84 241.5px,#49cb85 243.5px,#39c895 244.5px,#01b8c9 246.5px,#13b0d7 247.5px,#17aeda 249.5px,#01b7ca 252.5px,#02bac4 255.5px,#1dc0b3 258.5px,#29c3aa 261.5px,#08bcbf 264.5px,#0dbdbc 265.5px,#33c79d 267.5px,#3cc992 270.5px,#38c896 271.5px,#1dc0b3 273.5px,#1dc0b3 274.5px,#3fca8e 277.5px,#5ccc76 280.5px,#46cb88 283.5px,#55cc7c 284.5px,#89cb52 286.5px,#5bcc76 288.5px,#54cc7d 289.5px,#5ecd74 290.5px,#5acc77 291.5px,#40ca8d 292.5px,#37c898 293.5px,#3dca90 295.5px,#28c2ab 300.5px,#13beb8 302.5px,#24c1ae 303.5px,#3bc993 304.5px,#96ca48 306.5px,#9cc944 307.5px,#3dca90 309.5px,#30c5a2 310.5px,#40ca8d 317.5px,#82cc57 321.5px,#73cd63 322.5px,#31c6a0 324.5px,#21c1b0 325.5px,#1cc0b3 326.5px,#3bc992 329.5px,#30c5a1 330.5px,#08bcbf 331.5px,#09b4d1 332.5px,#0cb3d3 333.5px,#02b7cb 334.5px,#09bdbe 335.5px,#23c1af 336.5px,#57cc7a 338.5px,#5fcd73 339.5px,#46cb88 344.5px,#72cd63 346.5px,#8dcb50 348.5px,#7dcc5b 350.5px,#38c896 354.5px,#5ccc76 358.5px,#0fbeba 363.5px,#0ebdbb 364.5px,#2fc5a3 366.5px,#51cc7f 367.5px,#a3c83f 368.5px,#debc2a 369.5px,#edba33 370.5px,#e3bc2c 371.5px,#c8c129 372.5px,#48cb86 376.5px,#3ac994 377.5px,#22c1b0 381.5px,#31c6a0 382.5px,#50cc7f 383.5px,#66cd6d 384.5px,#38c896 386.5px,#2bc3a8 387.5px,#31c5a1 391.5px,#3ac994 393.5px,#30c5a1 395.5px,#35c79a 398.5px,#2ec5a4 399.5px,#09bcbe 401.5px,#05bbc1 402.5px,#2ec4a5 404.5px,#40ca8d 405.5px,#7bcc5d 407.5px,#87cb54 408.5px,#75cc61 409.5px,#35c799 411.5px,#2cc4a7 412.5px,#28c3ab 414.5px,#04bbc2 417.5px,#02bac4 418.5px,#04bbc1 420.5px,#2cc4a7 422.5px,#34c79c 423.5px,#2cc4a6 428.5px,#09bdbe 430.5px,#04bbc2 431.5px,#21c1b0 434.5px,#1fc1b1 435.5px,#01bac5 437.5px,#03b7cc 442.5px,#01bac5 443.5px,#12beb9 445.5px,#03bbc2 446.5px,#20a4e3 449.5px,#2e84f9 458.5px,#327cfc 476.5px)"></div><div style="height:1px;background:linear-gradient(90deg,#337afd 0.5px,#337afd 51.5px,#2c8ef1 52.5px,#37c898 53.5px,#70cd65 54.5px,#9fc941 56.5px,#a8c73b 57.5px,#89cb52 58.5px,#50cc80 59.5px,#32c69f 60.5px,#2bc3a8 61.5px,#31c6a0 67.5px,#2dc4a6 69.5px,#01b9c6 75.5px,#02b7cb 76.5px,#0bbdbc 78.5px,#02b7cb 81.5px,#01bac5 82.5px,#18bfb6 84.5px,#07bcc0 85.5px,#03b7cc 87.5px,#09bcbe 88.5px,#2bc3a8 89.5px,#4fcc81 91.5px,#60cd72 95.5px,#33c79d 98.5px,#36c898 99.5px,#5fcd73 101.5px,#64cd6f 102.5px,#5bcc76 103.5px,#33c79c 105.5px,#2bc3a7 106.5px,#4bcb84 110.5px,#08bcbf 114.5px,#0ebdbb 115.5px,#2bc3a8 116.5px,#7ccc5c 118.5px,#75cc61 119.5px,#50cc80 120.5px,#3ac994 121.5px,#2ec5a3 124.5px,#35c79a 125.5px,#60cd72 127.5px,#64cd6f 129.5px,#8fcb4e 131.5px,#93ca4a 132.5px,#63cd70 134.5px,#67cd6c 135.5px,#86cb55 136.5px,#96ca48 137.5px,#86cb55 138.5px,#4ccb83 140.5px,#30c5a1 144.5px,#2dc4a5 146.5px,#37c897 148.5px,#76cc60 151.5px,#7ecc5b 152.5px,#78cc5f 153.5px,#57cc7a 155.5px,#5acc77 156.5px,#77cc60 158.5px,#50cc7f 160.5px,#4bcb83 161.5px,#79cc5e 163.5px,#74cd62 164.5px,#5acc78 165.5px,#52cc7e 166.5px,#80cc59 168.5px,#8acb52 169.5px,#7ecc5b 172.5px,#aec637 175.5px,#99c946 176.5px,#6ecd67 177.5px,#56cc7b 178.5px,#72cd63 181.5px,#73cd63 183.5px,#68cd6c 185.5px,#42ca8b 188.5px,#41ca8c 192.5px,#4dcb82 194.5px,#41ca8c 196.5px,#4ccb82 198.5px,#34c79c 201.5px,#37c898 202.5px,#5fcd73 204.5px,#5fcd73 207.5px,#80cc5a 209.5px,#5dcc75 211.5px,#5ccc75 212.5px,#7bcc5d 214.5px,#78cc5f 215.5px,#5bcc77 217.5px,#5fcd73 220.5px,#3fca8e 222.5px,#3bc992 223.5px,#4dcc82 224.5px,#96ca49 226.5px,#a3c83f 227.5px,#9dc943 230.5px,#65cd6e 233.5px,#63cd6f 234.5px,#9ec943 236.5px,#adc638 237.5px,#a1c840 238.5px,#76cc60 240.5px,#52cc7e 243.5px,#34c79c 244.5px,#08bcbf 245.5px,#18aedb 247.5px,#13b0d7 249.5px,#01b8c8 251.5px,#11beb9 253.5px,#06bcc0 254.5px,#08b4d0 256.5px,#02bac4 258.5px,#2fc5a2 261.5px,#29c3aa 262.5px,#12beb9 263.5px,#08bcbf 264.5px,#32c69e 267.5px,#48cb86 271.5px,#30c5a2 273.5px,#2dc4a5 275.5px,#37c897 276.5px,#83cc57 280.5px,#88cb53 281.5px,#55cc7b 283.5px,#49cb85 284.5px,#6ecd67 286.5px,#71cd64 288.5px,#8ecb4f 290.5px,#82cc58 291.5px,#57cc7a 292.5px,#3dc990 293.5px,#45cb89 296.5px,#2cc4a7 299.5px,#02bac3 302.5px,#12beb9 303.5px,#32c69e 304.5px,#5dcc75 305.5px,#95ca49 306.5px,#a8c73b 307.5px,#84cc56 308.5px,#49cb86 309.5px,#2fc5a3 310.5px,#1ac0b5 312.5px,#29c3aa 316.5px,#3bc992 320.5px,#32c69f 322.5px,#12beb9 324.5px,#07bcbf 326.5px,#32c69e 329.5px,#2cc4a7 330.5px,#09bcbe 331.5px,#06b5cf 332.5px,#0eb3d4 333.5px,#02bac4 335.5px,#3bc992 337.5px,#6acd6a 338.5px,#82cc57 339.5px,#93ca4b 341.5px,#8acb52 342.5px,#69cd6a 343.5px,#5acc78 344.5px,#78cc5f 346.5px,#7bcc5d 350.5px,#74cd62 351.5px,#63cd70 352.5px,#31c5a1 354.5px,#30c5a1 355.5px,#42ca8b 357.5px,#33c69e 360.5px,#37c898 364.5px,#44cb8a 366.5px,#6ecd67 367.5px,#bac430 368.5px,#f0ba36 369.5px,#febf3c 370.5px,#fbbc3d 371.5px,#c7c12a 373.5px,#6ccd68 376.5px,#58cc79 377.5px,#57cc7a 379.5px,#48cb86 381.5px,#73cd62 384.5px,#5ecd74 385.5px,#38c896 386.5px,#24c1ae 387.5px,#1ec0b2 388.5px,#3eca8f 393.5px,#2cc4a6 396.5px,#3cc991 399.5px,#2fc5a3 402.5px,#32c69e 403.5px,#84cc56 408.5px,#84cc56 409.5px,#4dcc82 411.5px,#3cc991 412.5px,#26c2ad 415.5px,#0bbdbc 416.5px,#03b7cc 417.5px,#0fb2d4 418.5px,#01bac5 420.5px,#2ac3a9 422.5px,#2bc3a8 423.5px,#1ec0b2 425.5px,#23c1af 427.5px,#09bcbe 429.5px,#04bbc1 431.5px,#31c6a0 433.5px,#3eca8f 434.5px,#37c897 435.5px,#01b9c6 437.5px,#01b8c9 442.5px,#05bbc1 444.5px,#01b9c7 445.5px,#18addb 447.5px,#3080fa 460.5px,#317dfc 476.5px)"></div><div style="height:1px;background:linear-gradient(90deg,#337afd 0.5px,#337afd 51.5px,#2c8ef1 52.5px,#38c896 53.5px,#78cc5f 54.5px,#93ca4b 56.5px,#8fcb4e 57.5px,#6fcd66 58.5px,#41ca8c 59.5px,#2ac3a9 60.5px,#18bfb6 61.5px,#16bfb7 62.5px,#29c3a9 65.5px,#23c1af 69.5px,#2ac3a8 72.5px,#01b9c7 75.5px,#0cb3d3 77.5px,#01b8c9 79.5px,#06bcc0 82.5px,#01b7ca 84.5px,#13b0d7 86.5px,#02bac5 88.5px,#25c2ad 89.5px,#4acb85 91.5px,#41ca8c 93.5px,#48cb86 95.5px,#2ac3a9 98.5px,#2dc4a6 99.5px,#51cc7f 101.5px,#59cc78 102.5px,#4fcc80 103.5px,#1dc0b3 106.5px,#39c895 111.5px,#18bfb6 114.5px,#2dc4a6 116.5px,#5ccc76 118.5px,#59cc78 119.5px,#3fca8e 120.5px,#32c69e 121.5px,#31c5a1 122.5px,#3fca8e 125.5px,#6fcd66 127.5px,#67cd6d 129.5px,#98c947 132.5px,#76cc61 134.5px,#80cc59 135.5px,#a6c83d 136.5px,#bbc430 137.5px,#a8c73b 138.5px,#4dcc82 140.5px,#3fca8e 141.5px,#3bc993 147.5px,#43ca8a 148.5px,#93ca4a 150.5px,#a3c83e 151.5px,#56cc7b 154.5px,#47cb87 155.5px,#47cb87 156.5px,#6ccd68 158.5px,#6fcd66 159.5px,#5bcc76 161.5px,#82cc58 163.5px,#7ccc5c 164.5px,#3eca8f 166.5px,#3fca8e 167.5px,#70cd65 170.5px,#7acc5d 173.5px,#9fc941 175.5px,#93ca4a 176.5px,#53cc7d 178.5px,#51cc7e 179.5px,#93ca4a 184.5px,#8ecb4e 185.5px,#44cb8a 187.5px,#34c79c 188.5px,#33c69d 189.5px,#53cc7d 193.5px,#40ca8d 195.5px,#3dc990 196.5px,#4dcc82 198.5px,#3bc993 201.5px,#45cb89 202.5px,#7acc5e 204.5px,#63cd6f 207.5px,#6fcd66 208.5px,#6dcd67 209.5px,#48cb86 211.5px,#4ecc81 212.5px,#76cc61 214.5px,#79cc5e 215.5px,#51cc7f 218.5px,#43ca8a 224.5px,#4fcc81 225.5px,#7ccc5c 227.5px,#89cb52 230.5px,#7ccc5c 232.5px,#52cc7e 234.5px,#55cc7c 235.5px,#78cc5f 237.5px,#82cc58 240.5px,#7ccc5c 241.5px,#13beb8 245.5px,#02bac3 246.5px,#02bac4 247.5px,#17bfb7 249.5px,#1ac0b4 251.5px,#03b7cc 254.5px,#18aedb 255.5px,#20a5e2 257.5px,#13b0d7 259.5px,#03bbc2 260.5px,#20c1b1 261.5px,#1bc0b4 262.5px,#05bbc1 263.5px,#01bac5 264.5px,#0cbdbc 268.5px,#3ac994 271.5px,#36c799 272.5px,#10beba 274.5px,#0dbdbb 275.5px,#25c2ad 276.5px,#56cc7a 278.5px,#87cb54 280.5px,#91ca4d 281.5px,#77cc60 282.5px,#47cb87 283.5px,#2ec4a4 284.5px,#2dc4a5 285.5px,#3fca8e 286.5px,#a8c73b 289.5px,#b4c534 290.5px,#96ca49 291.5px,#55cc7c 292.5px,#35c79b 293.5px,#36c899 294.5px,#56cc7b 296.5px,#57cc7a 297.5px,#31c6a0 300.5px,#29c3a9 302.5px,#36c799 303.5px,#5dcc75 304.5px,#95ca49 305.5px,#c0c32d 306.5px,#c6c22a 307.5px,#9dc943 308.5px,#5bcc77 309.5px,#37c898 310.5px,#2fc5a3 311.5px,#32c69e 320.5px,#23c1af 322.5px,#03bbc3 324.5px,#02bac4 325.5px,#04bbc1 327.5px,#22c1b0 329.5px,#19bfb6 330.5px,#01b8c8 331.5px,#16afd9 333.5px,#01b9c7 336.5px,#27c2ab 337.5px,#4fcc80 338.5px,#75cc62 339.5px,#7fcc5a 340.5px,#7ecc5b 341.5px,#4dcc82 343.5px,#44cb8a 344.5px,#59cc79 346.5px,#4acb84 348.5px,#61cd72 351.5px,#55cc7c 352.5px,#24c1ae 354.5px,#1ac0b5 355.5px,#21c1b0 357.5px,#09bcbe 359.5px,#07bcbf 360.5px,#34c79c 362.5px,#3dc990 363.5px,#34c79c 366.5px,#46cb88 367.5px,#b4c534 369.5px,#d1bf27 370.5px,#d5be28 371.5px,#c0c32d 372.5px,#a0c841 373.5px,#73cd63 375.5px,#52cc7e 377.5px,#72cd63 380.5px,#6fcd66 382.5px,#61cd71 383.5px,#03b7cc 387.5px,#06b5ce 388.5px,#02bac4 389.5px,#0dbdbb 391.5px,#28c2ab 393.5px,#2cc4a6 394.5px,#19bfb6 396.5px,#35c79a 399.5px,#2ac3a9 403.5px,#3cc991 410.5px,#23c1af 413.5px,#01b9c8 415.5px,#1fa6e1 418.5px,#1aacdd 419.5px,#04b6cd 420.5px,#04bbc2 421.5px,#0db3d3 424.5px,#02bac5 426.5px,#07bcbf 427.5px,#01b9c7 430.5px,#05bbc1 431.5px,#29c3a9 433.5px,#31c69f 434.5px,#2bc3a8 435.5px,#0abdbe 436.5px,#02b7ca 437.5px,#01b9c8 438.5px,#18bfb6 440.5px,#1cc0b3 443.5px,#18bfb6 444.5px,#02bac5 445.5px,#1fa6e1 447.5px,#2f81fa 460.5px,#317dfc 476.5px)"></div><div style="height:1px;background:linear-gradient(90deg,#337bfd 0.5px,#337bfd 51.5px,#2c8ef2 52.5px,#31c6a0 53.5px,#62cd71 54.5px,#6dcd68 55.5px,#65cd6e 56.5px,#39c994 58.5px,#29c3a9 60.5px,#24c1ae 67.5px,#36c898 71.5px,#01b9c7 76.5px,#13b0d7 78.5px,#03b7cc 80.5px,#06bcc0 82.5px,#06b6ce 85.5px,#02b7cb 87.5px,#06bcc0 88.5px,#25c2ad 89.5px,#46cb88 91.5px,#36c899 93.5px,#3ac994 96.5px,#34c79c 98.5px,#45cb89 102.5px,#33c79d 104.5px,#0bbdbd 106.5px,#02bac4 107.5px,#04bbc2 109.5px,#1bc0b4 111.5px,#02bac4 113.5px,#01bac5 115.5px,#47cb87 119.5px,#3cc992 122.5px,#5ecd74 127.5px,#58cc79 129.5px,#64cd6f 130.5px,#8fca4d 132.5px,#84cc56 134.5px,#8fcb4e 135.5px,#c3c22b 137.5px,#b5c533 138.5px,#57cc7a 140.5px,#44ca8a 141.5px,#40ca8e 142.5px,#43ca8a 144.5px,#58cc79 146.5px,#5ccc76 148.5px,#74cc62 149.5px,#9ec942 150.5px,#b1c635 151.5px,#a2c83f 152.5px,#71cd64 154.5px,#52cc7e 156.5px,#54cc7c 157.5px,#8ccb50 160.5px,#94ca4a 163.5px,#82cc58 164.5px,#39c895 166.5px,#32c69f 167.5px,#36c799 168.5px,#72cd63 171.5px,#83cc57 175.5px,#52cc7e 178.5px,#7dcc5b 181.5px,#8fcb4e 185.5px,#44ca8a 187.5px,#34c79c 188.5px,#37c898 189.5px,#58cc7a 191.5px,#6bcd69 193.5px,#55cc7c 195.5px,#57cc7a 197.5px,#3dc991 200.5px,#40ca8d 201.5px,#7dcc5b 204.5px,#78cc5f 205.5px,#63cd6f 206.5px,#5bcc77 207.5px,#58cc79 210.5px,#5fcd73 211.5px,#92ca4b 213.5px,#96ca48 214.5px,#5acc77 218.5px,#4fcc81 222.5px,#2cc4a6 224.5px,#2bc3a8 225.5px,#3ac993 226.5px,#71cd64 228.5px,#83cc57 230.5px,#80cc59 231.5px,#6fcd66 232.5px,#3dca90 234.5px,#3cc991 235.5px,#4bcb84 238.5px,#58cc79 239.5px,#73cd63 240.5px,#7acc5d 241.5px,#31c6a0 244.5px,#14bfb8 246.5px,#25c2ad 249.5px,#04b6cc 255.5px,#14b0d8 256.5px,#1da8e0 258.5px,#18aedb 259.5px,#01b8c8 260.5px,#1cc0b3 261.5px,#22c1b0 262.5px,#14bfb8 264.5px,#27c2ab 268.5px,#46cb88 271.5px,#16bfb7 274.5px,#13beb9 275.5px,#76cc61 280.5px,#73cd62 281.5px,#1bc0b4 284.5px,#1ec0b2 285.5px,#81cc58 289.5px,#8fcb4e 290.5px,#76cc61 291.5px,#41ca8c 292.5px,#2bc3a8 293.5px,#27c2ab 294.5px,#48cb86 298.5px,#34c79b 302.5px,#42ca8b 303.5px,#9bc945 305.5px,#afc637 306.5px,#9dc943 307.5px,#3dc991 309.5px,#31c69f 310.5px,#3cc991 316.5px,#55cc7b 318.5px,#5ccc75 320.5px,#33c69d 324.5px,#3bc992 326.5px,#31c5a1 329.5px,#20c1b1 330.5px,#02bac3 331.5px,#01b9c7 332.5px,#0fbeba 334.5px,#10beba 336.5px,#2fc5a3 337.5px,#60cd72 338.5px,#89cb52 339.5px,#88cb53 340.5px,#4ccb83 343.5px,#43ca8a 344.5px,#49cb85 347.5px,#66cd6e 350.5px,#58cc7a 352.5px,#2ec4a4 354.5px,#23c1af 355.5px,#23c1af 357.5px,#09bcbe 359.5px,#06bcc0 360.5px,#37c897 362.5px,#3eca8f 363.5px,#1ac0b5 365.5px,#13beb9 366.5px,#2cc4a7 367.5px,#66cd6d 369.5px,#6fcd66 370.5px,#5ccc76 372.5px,#62cd71 375.5px,#46cb88 377.5px,#42ca8b 378.5px,#6fcd66 381.5px,#72cd63 382.5px,#5ecd74 383.5px,#01b9c8 386.5px,#13b0d7 387.5px,#18addb 388.5px,#03b7cc 392.5px,#09bcbe 393.5px,#20c1b1 394.5px,#28c3aa 395.5px,#31c6a0 398.5px,#05bbc1 404.5px,#2cc4a7 412.5px,#21c1b0 413.5px,#03bbc2 414.5px,#0db3d3 415.5px,#20a5e2 417.5px,#1ea7e1 418.5px,#06bcc0 420.5px,#0abdbe 421.5px,#04b6cd 422.5px,#19addc 423.5px,#1babde 424.5px,#01b8c9 426.5px,#02bbc3 427.5px,#05b6ce 429.5px,#02bac4 432.5px,#0cbdbc 434.5px,#03b7cc 437.5px,#01b9c7 438.5px,#0cbdbc 439.5px,#24c1ae 440.5px,#2cc4a7 441.5px,#21c1b0 444.5px,#07bcc0 445.5px,#1fa6e2 447.5px,#269ae9 449.5px,#2b92ee 456.5px,#2f82fa 460.5px,#317efb 476.5px)"></div><div style="height:1px;background:linear-gradient(90deg,#337bfd 0.5px,#337bfd 51.5px,#2d8cf3 52.5px,#1ec0b2 53.5px,#3ac993 54.5px,#45cb89 55.5px,#44ca8a 56.5px,#2dc4a6 58.5px,#36c898 62.5px,#21c1b1 65.5px,#20c1b1 66.5px,#3dc990 70.5px,#39c895 71.5px,#11beba 73.5px,#0bbdbd 74.5px,#0fbebb 75.5px,#05b6ce 77.5px,#13b1d7 79.5px,#01b9c6 82.5px,#14bfb8 84.5px,#02bac4 86.5px,#02bbc3 88.5px,#2ac3a9 90.5px,#30c5a2 91.5px,#19bfb6 93.5px,#1cc0b4 94.5px,#43ca8a 97.5px,#49cb85 99.5px,#3cc992 101.5px,#3dc990 104.5px,#0abdbd 107.5px,#02bac5 108.5px,#02bbc3 112.5px,#15afd8 115.5px,#07b5cf 116.5px,#10beba 117.5px,#33c69e 118.5px,#4ccb83 119.5px,#5dcc75 120.5px,#5dcc75 124.5px,#4acb85 126.5px,#4dcb82 128.5px,#52cc7e 129.5px,#7bcc5d 131.5px,#82cc58 132.5px,#72cd63 134.5px,#77cc60 135.5px,#a0c841 137.5px,#9dc943 138.5px,#65cd6e 140.5px,#53cc7d 141.5px,#32c69f 144.5px,#4ecc81 149.5px,#95ca49 151.5px,#95ca49 152.5px,#7acc5d 154.5px,#65cd6e 157.5px,#6ccd69 158.5px,#a2c840 160.5px,#a4c83e 161.5px,#82cc58 164.5px,#4ecc81 166.5px,#38c896 168.5px,#3dc991 169.5px,#73cd63 172.5px,#7ccc5c 173.5px,#80cc59 174.5px,#59cc78 177.5px,#80cc59 180.5px,#68cd6c 183.5px,#78cc5f 185.5px,#4ccb83 188.5px,#75cc61 190.5px,#72cd63 191.5px,#54cc7d 193.5px,#52cc7e 194.5px,#61cd71 196.5px,#33c69e 199.5px,#32c69f 200.5px,#5ecc74 204.5px,#43ca8a 207.5px,#5ecc74 210.5px,#7bcc5d 211.5px,#acc738 212.5px,#c7c12a 213.5px,#bcc42f 214.5px,#81cc58 216.5px,#73cd63 217.5px,#74cd62 221.5px,#63cd6f 222.5px,#3cc992 223.5px,#23c1af 224.5px,#1cc0b3 225.5px,#6ecd67 228.5px,#7ecc5b 230.5px,#6fcd66 232.5px,#48cb86 234.5px,#60cd72 236.5px,#60cd72 237.5px,#48cb87 239.5px,#5acc77 241.5px,#58cc79 242.5px,#4bcb84 243.5px,#1ec0b2 245.5px,#0abdbd 246.5px,#08bcbe 247.5px,#1ec0b2 249.5px,#0abdbd 251.5px,#0dbdbc 252.5px,#24c1af 254.5px,#22c1af 255.5px,#01b8ca 257.5px,#0fb2d5 258.5px,#0fb2d5 259.5px,#01b9c6 260.5px,#22c1af 261.5px,#2ec5a4 262.5px,#31c6a0 264.5px,#3fca8e 266.5px,#7acc5e 269.5px,#7dcc5c 270.5px,#69cd6b 271.5px,#32c69e 273.5px,#2ac3a9 274.5px,#32c69e 276.5px,#76cc61 280.5px,#72cd64 281.5px,#42ca8b 283.5px,#35c79a 284.5px,#3ac994 285.5px,#50cc80 286.5px,#56cc7b 287.5px,#4ccb83 288.5px,#4fcc81 289.5px,#61cd71 290.5px,#65cd6e 291.5px,#37c898 293.5px,#30c5a1 294.5px,#2cc4a6 296.5px,#50cc80 299.5px,#30c5a2 302.5px,#34c79c 303.5px,#5ecc74 305.5px,#59cc78 306.5px,#3fca8e 307.5px,#24c1ae 309.5px,#2bc3a8 315.5px,#33c69e 316.5px,#58cc7a 318.5px,#66cd6d 320.5px,#51cc7f 324.5px,#71cd64 326.5px,#69cd6a 327.5px,#54cc7c 328.5px,#05bbc1 331.5px,#0abdbd 332.5px,#2ac3a9 333.5px,#34c79c 334.5px,#32c69e 336.5px,#4ccb83 337.5px,#90ca4d 338.5px,#aec637 339.5px,#93ca4b 341.5px,#5acc78 344.5px,#53cc7d 345.5px,#7fcc5a 350.5px,#73cd62 352.5px,#63cd70 353.5px,#45cb89 354.5px,#38c896 355.5px,#3bc993 357.5px,#33c69e 359.5px,#35c79a 360.5px,#4ecc81 361.5px,#74cd62 362.5px,#71cd64 363.5px,#49cb86 364.5px,#31c6a1 365.5px,#2ec5a4 366.5px,#41ca8c 367.5px,#6bcd69 368.5px,#7ecc5b 369.5px,#5ccc76 371.5px,#58cc79 372.5px,#76cc61 374.5px,#72cd64 375.5px,#45cb88 377.5px,#3dc991 378.5px,#42ca8c 379.5px,#8fcb4e 382.5px,#8dcb50 383.5px,#3fca8e 385.5px,#13beb8 387.5px,#02bac4 391.5px,#0ebebb 393.5px,#28c2ab 394.5px,#48cb86 396.5px,#4fcc81 397.5px,#23c1af 400.5px,#0bbdbd 404.5px,#31c6a0 407.5px,#2fc5a3 410.5px,#3fca8e 412.5px,#2fc5a3 414.5px,#01b8c8 416.5px,#0ab4d2 417.5px,#04b6cd 418.5px,#0ebebb 419.5px,#26c2ac 420.5px,#22c1b0 421.5px,#07bcbf 422.5px,#02b7cb 423.5px,#06bcc1 425.5px,#28c2ab 427.5px,#1dc0b3 428.5px,#05bbc1 429.5px,#01b8c9 430.5px,#02b7cb 438.5px,#05bbc1 439.5px,#1ac0b5 440.5px,#21c1b0 441.5px,#04bbc2 443.5px,#02bbc3 445.5px,#04b6cd 446.5px,#1da8e0 448.5px,#2896ec 451.5px,#2f81fa 462.5px,#317efb 476.5px)"></div><div style="height:1px;background:linear-gradient(90deg,#337bfc 0.5px,#337bfc 51.5px,#2d8af4 52.5px,#02bbc3 53.5px,#2dc4a6 54.5px,#4bcb84 56.5px,#48cb86 59.5px,#60cd72 61.5px,#60cd72 62.5px,#35c79a 64.5px,#2ac3a9 65.5px,#33c79d 71.5px,#13beb8 73.5px,#01b9c6 76.5px,#0ab4d2 78.5px,#02bac4 82.5px,#26c2ad 84.5px,#20c1b1 85.5px,#08bcbf 86.5px,#01b9c7 87.5px,#01b9c6 88.5px,#1ec0b2 90.5px,#20c1b1 91.5px,#01b9c7 93.5px,#01bac5 94.5px,#29c3aa 96.5px,#31c5a1 97.5px,#31c6a0 99.5px,#25c2ad 101.5px,#38c896 104.5px,#2bc3a8 106.5px,#01b9c6 109.5px,#03b7cc 112.5px,#12b1d6 115.5px,#05b6cd 116.5px,#4ccb82 119.5px,#5dcc75 120.5px,#73cd63 123.5px,#74cc62 124.5px,#4ccb83 129.5px,#64cd6f 131.5px,#64cd6f 132.5px,#4bcb84 134.5px,#4acb84 135.5px,#80cc59 138.5px,#61cd72 141.5px,#35c79a 143.5px,#2cc4a7 144.5px,#3cc992 147.5px,#3ac993 149.5px,#71cd64 151.5px,#6bcd69 154.5px,#74cc62 156.5px,#6acd6a 158.5px,#87cb54 160.5px,#6bcd69 162.5px,#6bcd69 165.5px,#42ca8c 168.5px,#4dcc82 171.5px,#86cb55 174.5px,#82cc58 175.5px,#70cd65 176.5px,#68cd6b 179.5px,#52cc7e 181.5px,#5ccc76 184.5px,#4fcc80 187.5px,#55cc7b 188.5px,#75cc61 190.5px,#3ac994 192.5px,#33c69d 193.5px,#52cc7e 196.5px,#2ec4a5 198.5px,#24c1ae 199.5px,#45cb89 203.5px,#40ca8d 207.5px,#50cc7f 210.5px,#69cd6b 211.5px,#99c946 212.5px,#b8c431 213.5px,#abc739 214.5px,#61cd71 216.5px,#5acc78 217.5px,#68cd6c 218.5px,#abc739 221.5px,#9dc943 222.5px,#36c898 224.5px,#31c6a0 225.5px,#59cc79 227.5px,#61cd71 228.5px,#6bcd69 231.5px,#47cb87 234.5px,#6acd6a 236.5px,#6ecd66 237.5px,#48cb86 239.5px,#44cb89 240.5px,#5ccc76 242.5px,#5bcc76 243.5px,#26c2ac 245.5px,#12beb9 246.5px,#11beb9 247.5px,#2ec4a4 249.5px,#2ac3a9 250.5px,#07bcc0 252.5px,#06bcc0 253.5px,#1cc0b4 255.5px,#09bcbe 256.5px,#08b5d0 257.5px,#19addc 258.5px,#19acdc 259.5px,#07b5d0 260.5px,#0ebebb 261.5px,#26c2ad 262.5px,#41ca8d 265.5px,#5dcc75 269.5px,#58cc79 270.5px,#28c3ab 273.5px,#21c1b0 275.5px,#3ac994 279.5px,#62cd71 281.5px,#65cd6e 282.5px,#51cc7f 284.5px,#6acd6a 286.5px,#63cd6f 287.5px,#4ecc81 288.5px,#4ecc81 289.5px,#7bcc5d 291.5px,#53cc7d 293.5px,#3eca8f 295.5px,#3bc992 296.5px,#5fcd73 299.5px,#34c79b 301.5px,#2dc4a6 302.5px,#53cc7e 305.5px,#1ec0b2 308.5px,#2cc4a6 311.5px,#1cc0b4 315.5px,#44cb89 318.5px,#4acb84 319.5px,#41ca8c 323.5px,#49cb86 326.5px,#30c5a1 329.5px,#01bac5 331.5px,#01b8c8 332.5px,#19bfb5 334.5px,#23c1af 336.5px,#39c994 337.5px,#71cd65 338.5px,#8ccb50 339.5px,#6ccd68 342.5px,#3ac994 344.5px,#38c896 345.5px,#59cc78 347.5px,#5dcc75 348.5px,#53cc7d 349.5px,#57cc7a 352.5px,#3dca90 354.5px,#33c69d 359.5px,#3cc991 360.5px,#7acc5d 362.5px,#73cd63 363.5px,#56cc7a 364.5px,#47cb87 365.5px,#50cc80 366.5px,#8fcb4e 368.5px,#8acb52 369.5px,#72cd64 370.5px,#6ecd67 371.5px,#94ca4a 373.5px,#93ca4b 374.5px,#3dc990 377.5px,#39c895 378.5px,#3dc990 379.5px,#4ecc81 380.5px,#97ca48 382.5px,#adc638 383.5px,#9fc941 384.5px,#46cb88 386.5px,#35c79a 387.5px,#2fc5a2 390.5px,#0cbdbc 392.5px,#05bbc1 393.5px,#16bfb7 394.5px,#41ca8c 396.5px,#42ca8b 397.5px,#18bfb6 399.5px,#09bcbe 400.5px,#1abfb5 402.5px,#05bbc1 405.5px,#29c3aa 408.5px,#36c899 414.5px,#32c69f 415.5px,#0dbdbb 417.5px,#08bcbf 418.5px,#1dc0b3 420.5px,#0abdbd 423.5px,#2bc3a8 425.5px,#3cc991 427.5px,#31c6a0 428.5px,#0cbdbc 429.5px,#0bb4d2 430.5px,#17aeda 431.5px,#10b2d5 434.5px,#1ea8e1 437.5px,#1babde 438.5px,#02bac5 440.5px,#05bbc1 441.5px,#04b6cd 442.5px,#10b2d5 443.5px,#02bac4 445.5px,#05bbc1 446.5px,#06b6ce 448.5px,#23a1e4 451.5px,#2e85f8 459.5px,#307efb 476.5px)"></div><div style="height:1px;background:linear-gradient(90deg,#337bfc 0.5px,#337bfc 51.5px,#2d88f6 52.5px,#01b7ca 53.5px,#2ec4a5 54.5px,#69cd6a 56.5px,#78cc5f 57.5px,#6acd6a 59.5px,#6acd6a 62.5px,#42ca8b 64.5px,#38c896 65.5px,#38c897 67.5px,#20c1b1 69.5px,#29c3a9 74.5px,#20c1b1 75.5px,#02bac4 76.5px,#09b4d1 77.5px,#02bac5 80.5px,#09bcbe 81.5px,#2ec4a5 83.5px,#34c79c 84.5px,#2dc4a6 85.5px,#07bcc0 87.5px,#30c5a2 90.5px,#2dc4a5 91.5px,#07bcc0 93.5px,#01bac5 94.5px,#0fbeba 97.5px,#02bac5 102.5px,#16bfb7 104.5px,#1dc0b3 106.5px,#1bc0b4 107.5px,#01b9c8 109.5px,#0eb2d4 111.5px,#11b1d6 113.5px,#01b9c8 115.5px,#0cbdbc 116.5px,#29c3aa 117.5px,#36c899 118.5px,#3bc992 120.5px,#6acd6a 123.5px,#79cc5e 126.5px,#6ecd66 127.5px,#3eca8f 129.5px,#33c69d 134.5px,#38c896 135.5px,#6dcd68 137.5px,#7bcc5d 138.5px,#35c79a 143.5px,#32c69e 144.5px,#4ecc81 146.5px,#54cc7d 147.5px,#3eca8f 149.5px,#55cc7c 152.5px,#5acc77 154.5px,#4fcc81 158.5px,#59cc78 160.5px,#46cb88 162.5px,#5acc77 164.5px,#57cc7a 165.5px,#37c897 167.5px,#37c897 168.5px,#4ccb83 170.5px,#45cb88 172.5px,#5ccc76 174.5px,#34c79b 180.5px,#45cb89 183.5px,#31c6a0 186.5px,#40ca8d 188.5px,#56cc7b 189.5px,#5acc78 190.5px,#30c5a2 192.5px,#2bc4a7 193.5px,#3dc991 196.5px,#2ac3a9 198.5px,#28c2ab 199.5px,#55cc7b 202.5px,#46cb88 205.5px,#51cc7f 207.5px,#3ac994 210.5px,#45cb88 211.5px,#7dcc5b 213.5px,#71cd64 214.5px,#3ac993 216.5px,#37c897 217.5px,#42ca8b 218.5px,#5ecd74 219.5px,#aac73a 221.5px,#a7c73c 222.5px,#57cc7a 224.5px,#50cc7f 225.5px,#62cd70 227.5px,#4ccb82 229.5px,#53cc7d 231.5px,#30c5a2 234.5px,#44cb89 239.5px,#89cb52 242.5px,#83cc57 243.5px,#32c69f 245.5px,#28c2ab 247.5px,#3ac994 249.5px,#35c79b 250.5px,#22c1b0 251.5px,#02bac4 252.5px,#01b8c9 254.5px,#05b6cd 256.5px,#1ea7e1 258.5px,#19addc 260.5px,#06b5cf 261.5px,#07bcc0 262.5px,#35c79a 264.5px,#44cb89 265.5px,#46cb88 266.5px,#30c5a2 268.5px,#24c1af 271.5px,#02bac4 273.5px,#01bac5 278.5px,#0fbebb 279.5px,#2dc4a5 280.5px,#4ccb82 282.5px,#37c897 288.5px,#43ca8b 289.5px,#65cd6e 290.5px,#77cc5f 291.5px,#56cc7b 293.5px,#53cc7d 294.5px,#58cc79 296.5px,#74cd62 299.5px,#42ca8c 301.5px,#3ac994 302.5px,#4dcb82 303.5px,#6dcd67 304.5px,#6fcd66 305.5px,#33c69e 307.5px,#26c2ad 308.5px,#33c79d 312.5px,#22c1b0 315.5px,#28c3aa 316.5px,#51cc7f 318.5px,#59cc78 319.5px,#3fca8e 321.5px,#2ec5a4 327.5px,#3eca8f 329.5px,#36c799 330.5px,#08bcbf 332.5px,#09bcbe 336.5px,#27c2ab 337.5px,#49cb85 338.5px,#68cd6c 339.5px,#6bcd69 340.5px,#66cd6d 341.5px,#35c79b 343.5px,#26c2ad 344.5px,#2ac3a9 345.5px,#4ccb83 347.5px,#2bc3a8 350.5px,#21c1b0 356.5px,#09bcbe 358.5px,#0ebebb 359.5px,#42ca8c 362.5px,#39c995 365.5px,#49cb85 366.5px,#69cd6b 367.5px,#75cc61 368.5px,#4acb84 370.5px,#57cc7a 371.5px,#8bcb51 373.5px,#81cc58 374.5px,#41ca8c 376.5px,#30c5a1 378.5px,#31c6a0 380.5px,#3bc993 381.5px,#7acc5d 383.5px,#77cc60 384.5px,#33c79c 386.5px,#25c2ae 387.5px,#1ec0b2 390.5px,#01b8ca 392.5px,#08b4d0 393.5px,#01b8c8 394.5px,#29c3a9 396.5px,#23c1af 397.5px,#05bbc1 398.5px,#10b2d5 400.5px,#02b7cb 403.5px,#19addc 406.5px,#01b9c7 408.5px,#09bcbe 409.5px,#01b9c6 413.5px,#1bc0b4 415.5px,#16bfb7 416.5px,#01b9c7 417.5px,#0fb2d5 418.5px,#10b2d5 419.5px,#03b7cc 420.5px,#03bbc2 421.5px,#15bfb8 423.5px,#41ca8d 426.5px,#40ca8d 427.5px,#2ec4a4 428.5px,#01bac6 429.5px,#19acdc 430.5px,#1ea7e1 431.5px,#1babde 434.5px,#2698ea 437.5px,#1baade 439.5px,#0ab4d1 440.5px,#20a4e3 443.5px,#1aacdd 444.5px,#06b6ce 445.5px,#03bbc3 447.5px,#03b7cc 449.5px,#14b0d8 450.5px,#21a3e4 452.5px,#2e87f7 458.5px,#307ffb 476.5px)"></div><div style="height:1px;background:linear-gradient(90deg,#337bfc 0.5px,#337bfc 51.5px,#2d89f5 52.5px,#04bbc1 53.5px,#39c895 54.5px,#5fcd73 55.5px,#75cc61 56.5px,#72cd63 57.5px,#44cb89 61.5px,#43ca8b 66.5px,#1bc0b4 69.5px,#16bfb7 70.5px,#2bc3a8 72.5px,#32c69f 74.5px,#27c2ac 75.5px,#02bac3 76.5px,#10b2d5 77.5px,#15afd9 78.5px,#04b6cc 80.5px,#08bcbf 81.5px,#26c2ac 82.5px,#3bc992 84.5px,#24c1af 87.5px,#41ca8c 90.5px,#3eca8f 91.5px,#20c1b1 94.5px,#03bbc2 97.5px,#01b8c9 100.5px,#17aeda 103.5px,#01b9c8 107.5px,#02b7cb 111.5px,#11b1d6 113.5px,#05b6cd 114.5px,#09bcbe 115.5px,#20c1b1 116.5px,#36c799 118.5px,#30c5a2 120.5px,#37c897 121.5px,#4bcb83 122.5px,#63cd70 125.5px,#88cb53 127.5px,#53cc7d 130.5px,#36c799 133.5px,#34c79c 134.5px,#3dc990 135.5px,#7bcc5d 137.5px,#82cc58 138.5px,#50cc7f 140.5px,#38c896 142.5px,#3ac994 144.5px,#5ccc75 146.5px,#3bc992 149.5px,#3eca8f 154.5px,#33c69e 157.5px,#37c898 162.5px,#4bcb84 164.5px,#28c3ab 167.5px,#36c899 170.5px,#26c2ad 174.5px,#0cbdbc 176.5px,#19bfb5 179.5px,#36c898 183.5px,#2bc3a8 185.5px,#2bc3a8 187.5px,#46cb88 190.5px,#31c6a0 194.5px,#32c69f 199.5px,#50cc80 201.5px,#53cc7d 202.5px,#37c897 204.5px,#38c896 205.5px,#54cc7c 207.5px,#35c79a 210.5px,#3bc993 211.5px,#64cd6f 213.5px,#5acc78 214.5px,#3fca8e 215.5px,#35c79b 216.5px,#36c899 217.5px,#40ca8d 218.5px,#78cc5f 221.5px,#74cc62 222.5px,#58cc7a 224.5px,#61cd71 226.5px,#3ac993 229.5px,#3bc993 231.5px,#2ac3a9 234.5px,#27c2ac 236.5px,#2ec5a4 238.5px,#39c995 239.5px,#5acc78 240.5px,#88cb53 241.5px,#a5c83d 242.5px,#9cc943 243.5px,#37c897 245.5px,#2fc5a3 246.5px,#37c897 249.5px,#2ec4a4 250.5px,#11beba 251.5px,#01b8ca 252.5px,#01b8c9 256.5px,#15afd8 258.5px,#1aabdd 260.5px,#01b9c7 262.5px,#1fc0b2 263.5px,#47cb87 265.5px,#56cc7b 266.5px,#2cc4a7 269.5px,#28c2ab 271.5px,#01b9c8 273.5px,#05b6ce 274.5px,#01b9c6 278.5px,#0fbeba 279.5px,#2ac3a8 280.5px,#3ac993 282.5px,#2ac3a9 287.5px,#45cb89 291.5px,#3bc993 293.5px,#48cb86 295.5px,#38c896 297.5px,#42ca8b 300.5px,#3bc993 302.5px,#5fcd73 304.5px,#52cc7e 305.5px,#1bc0b4 307.5px,#02bbc3 308.5px,#03bbc3 309.5px,#2ac3a9 311.5px,#2fc5a3 312.5px,#19bfb6 315.5px,#23c1af 316.5px,#54cc7c 318.5px,#5bcc77 319.5px,#32c69f 321.5px,#2cc4a7 322.5px,#33c69d 324.5px,#31c6a0 327.5px,#67cd6c 329.5px,#5ccc76 330.5px,#36c899 331.5px,#27c2ac 332.5px,#23c1af 336.5px,#35c79a 337.5px,#64cd6f 338.5px,#87cb54 339.5px,#8fcb4e 340.5px,#8bcb51 341.5px,#6ecd66 342.5px,#46cb88 343.5px,#36c899 344.5px,#3eca8f 345.5px,#63cd6f 346.5px,#71cd64 347.5px,#5ecd74 348.5px,#39c995 349.5px,#2dc4a6 350.5px,#1dc0b3 353.5px,#09bdbe 354.5px,#01b8ca 356.5px,#07b5d0 357.5px,#02bac5 359.5px,#2cc4a6 361.5px,#36c899 362.5px,#42ca8b 365.5px,#77cc60 367.5px,#7ecc5a 368.5px,#52cc7e 370.5px,#77cc60 373.5px,#3bc992 377.5px,#28c3ab 380.5px,#29c3aa 381.5px,#3bc992 383.5px,#3bc992 384.5px,#31c6a0 385.5px,#08bcbf 387.5px,#02bac5 388.5px,#03bbc2 393.5px,#1ec0b2 395.5px,#1ec0b2 396.5px,#02bac5 398.5px,#0eb2d4 401.5px,#06b5cf 403.5px,#18addb 406.5px,#01b9c8 409.5px,#12b1d6 413.5px,#01b8c9 416.5px,#20a5e2 418.5px,#20a4e3 419.5px,#01b9c6 421.5px,#2ec4a5 424.5px,#35c799 426.5px,#2cc4a7 427.5px,#0ebebb 428.5px,#08b5d0 429.5px,#18addb 430.5px,#0db3d3 433.5px,#23a0e5 437.5px,#1ca9df 440.5px,#259be8 443.5px,#01b8ca 446.5px,#01b8c8 448.5px,#1ca9df 451.5px,#2d8cf3 456.5px,#307ffb 476.5px)"></div><div style="height:1px;background:linear-gradient(90deg,#327bfc 0.5px,#327bfc 51.5px,#2d8bf4 52.5px,#1cc0b3 53.5px,#51cc7f 54.5px,#6ecd67 55.5px,#67cd6c 56.5px,#3cc991 58.5px,#26c2ad 61.5px,#28c3aa 63.5px,#48cb87 66.5px,#40ca8d 67.5px,#17bfb6 69.5px,#0ebebb 70.5px,#26c2ac 72.5px,#28c3aa 74.5px,#04b6cd 76.5px,#17aeda 77.5px,#19addc 78.5px,#02bac4 81.5px,#32c69e 83.5px,#38c896 84.5px,#2ac3a8 87.5px,#43ca8a 92.5px,#34c79c 94.5px,#27c2ab 95.5px,#0bbdbd 96.5px,#02b7cb 97.5px,#09b4d1 98.5px,#04b6cd 100.5px,#1ca9df 102.5px,#1caadf 105.5px,#04b6cc 110.5px,#1ea7e1 113.5px,#1baade 114.5px,#02b7cb 116.5px,#07bcbf 117.5px,#1abfb5 118.5px,#22c1b0 120.5px,#46cb88 122.5px,#48cb86 123.5px,#3dca90 124.5px,#42ca8c 125.5px,#85cb55 127.5px,#96ca49 128.5px,#99c946 129.5px,#8fcb4e 131.5px,#3fca8e 134.5px,#44cb8a 135.5px,#75cc61 137.5px,#7ccc5c 138.5px,#6fcd66 139.5px,#3dc990 141.5px,#32c69f 142.5px,#2ec4a4 143.5px,#34c79c 144.5px,#52cc7e 146.5px,#38c896 148.5px,#2ec4a5 154.5px,#27c2ac 155.5px,#06bcc0 157.5px,#02bbc3 158.5px,#26c2ad 162.5px,#3bc993 164.5px,#3cc992 165.5px,#2dc4a5 167.5px,#2bc3a7 170.5px,#15bfb7 173.5px,#02bac4 174.5px,#11b1d6 176.5px,#04b6cd 177.5px,#04bbc2 178.5px,#2fc5a3 182.5px,#3eca8f 185.5px,#2ac3a9 188.5px,#34c79c 191.5px,#1cc0b3 195.5px,#35c79b 197.5px,#44cb8a 202.5px,#3dc990 205.5px,#67cd6d 207.5px,#71cd64 208.5px,#58cc79 210.5px,#61cd72 211.5px,#7acc5e 212.5px,#86cb55 213.5px,#4fcc80 215.5px,#40ca8d 216.5px,#67cd6c 219.5px,#6acd6a 220.5px,#41ca8d 224.5px,#41ca8c 226.5px,#30c5a2 231.5px,#39c895 234.5px,#36c899 237.5px,#43ca8b 239.5px,#87cb54 242.5px,#7bcc5d 243.5px,#4ccb83 244.5px,#2dc4a6 245.5px,#1ec0b2 246.5px,#20c1b1 249.5px,#05bbc1 250.5px,#19addc 252.5px,#02b7cb 254.5px,#02bac4 255.5px,#02b7cb 257.5px,#1ca9df 259.5px,#1ea7e1 261.5px,#06bcc0 263.5px,#2dc4a5 264.5px,#5dcc74 266.5px,#50cc7f 267.5px,#37c897 268.5px,#33c79d 269.5px,#40ca8d 271.5px,#33c69d 272.5px,#05bbc1 274.5px,#02bac5 275.5px,#02bac4 276.5px,#17bfb7 278.5px,#52cc7e 282.5px,#36c799 289.5px,#38c896 292.5px,#48cb86 294.5px,#3eca8f 295.5px,#2cc4a6 296.5px,#0fbebb 297.5px,#03bbc2 298.5px,#31c6a0 303.5px,#31c6a0 304.5px,#21c1b0 305.5px,#01b9c6 306.5px,#1baade 308.5px,#17aeda 309.5px,#01b9c8 310.5px,#1abfb5 311.5px,#22c1b0 312.5px,#06bcc0 314.5px,#02bac4 315.5px,#0ebebb 316.5px,#2ac3a9 317.5px,#37c897 318.5px,#3ac994 319.5px,#2fc5a2 320.5px,#03bbc2 322.5px,#04bbc2 323.5px,#1abfb5 325.5px,#18bfb6 327.5px,#3eca8f 329.5px,#3ac994 330.5px,#05bbc1 332.5px,#04bbc1 333.5px,#17bfb7 336.5px,#4acb84 338.5px,#56cc7a 339.5px,#53cc7e 341.5px,#32c69f 343.5px,#2cc4a7 344.5px,#38c896 345.5px,#5fcd73 346.5px,#6acd6a 347.5px,#45cb89 349.5px,#38c896 352.5px,#2dc4a5 353.5px,#0dbdbb 354.5px,#01b8c9 355.5px,#08b5d0 357.5px,#01b8c9 358.5px,#09bcbe 359.5px,#2dc4a6 361.5px,#49cb85 364.5px,#89cb52 367.5px,#90ca4d 368.5px,#71cd64 370.5px,#7dcc5b 372.5px,#7ccc5c 375.5px,#3ac994 379.5px,#24c1ae 386.5px,#0abdbd 388.5px,#04bbc2 390.5px,#22c1b0 394.5px,#07bcbf 397.5px,#10beba 399.5px,#02bac4 404.5px,#13b0d7 409.5px,#0db3d4 411.5px,#15afd9 416.5px,#22a1e4 418.5px,#21a3e3 419.5px,#01b8c9 421.5px,#16bfb7 425.5px,#06bcc0 426.5px,#04b6cc 427.5px,#09b4d1 432.5px,#16aeda 434.5px,#12b1d6 437.5px,#22a1e4 442.5px,#1ea7e1 443.5px,#01b8c9 445.5px,#01b9c7 446.5px,#06b5cf 448.5px,#1da9e0 451.5px,#2c8ef1 455.5px,#3080fb 476.5px)"></div><div style="height:1px;background:linear-gradient(90deg,#327bfc 0.5px,#327bfc 51.5px,#2d8cf3 52.5px,#2dc4a6 53.5px,#6ecd67 54.5px,#81cc59 55.5px,#3fca8e 57.5px,#31c6a0 58.5px,#16bfb7 63.5px,#31c6a0 66.5px,#30c5a1 67.5px,#03bbc2 69.5px,#01b9c7 70.5px,#1cc0b4 73.5px,#1cc0b4 74.5px,#01b8c9 76.5px,#06b5ce 77.5px,#02bac4 81.5px,#20c1b1 84.5px,#1dc0b3 86.5px,#2cc4a7 88.5px,#33c69e 93.5px,#1ec0b2 95.5px,#03bbc3 96.5px,#09b4d1 98.5px,#01b9c6 100.5px,#02b7cb 101.5px,#1ea8e1 107.5px,#1babde 110.5px,#259ce7 113.5px,#1caadf 115.5px,#06b5cf 117.5px,#02bac5 119.5px,#09bcbe 120.5px,#29c3a9 121.5px,#3ac994 122.5px,#2fc5a2 125.5px,#3bc993 126.5px,#6ecd66 128.5px,#7ecc5b 130.5px,#7dcc5c 131.5px,#6fcd66 132.5px,#40ca8d 134.5px,#42ca8b 135.5px,#72cd63 137.5px,#7dcc5c 138.5px,#72cd64 139.5px,#45cb89 141.5px,#38c896 142.5px,#38c896 144.5px,#57cc7a 146.5px,#4ecc81 147.5px,#2ec4a4 149.5px,#2bc4a7 150.5px,#3bc993 154.5px,#31c6a0 155.5px,#06bcc0 157.5px,#02bac5 158.5px,#27c2ac 162.5px,#42ca8b 165.5px,#3bc992 167.5px,#42ca8b 169.5px,#34c79b 173.5px,#25c2ad 174.5px,#04bbc2 175.5px,#01b8c8 176.5px,#28c2ab 179.5px,#2fc5a3 183.5px,#4dcc82 185.5px,#56cc7b 186.5px,#32c69e 188.5px,#29c3aa 191.5px,#06bcc0 193.5px,#01b9c8 194.5px,#07bcbf 195.5px,#2dc4a5 196.5px,#44cb89 197.5px,#51cc7f 198.5px,#43ca8a 201.5px,#57cc7a 203.5px,#62cd70 206.5px,#88cb53 208.5px,#70cd65 211.5px,#78cc5f 213.5px,#4bcb83 215.5px,#42ca8b 216.5px,#47cb87 217.5px,#6bcd69 219.5px,#6dcd67 220.5px,#41ca8c 222.5px,#28c2ab 225.5px,#2ec4a5 231.5px,#44cb89 234.5px,#40ca8d 236.5px,#44cb8a 237.5px,#60cd72 239.5px,#66cd6d 241.5px,#55cc7b 243.5px,#02bac3 246.5px,#03b7cc 247.5px,#02b7cb 249.5px,#20a4e3 251.5px,#22a2e4 252.5px,#06b5cf 255.5px,#2a93ee 260.5px,#249de6 262.5px,#1aacdd 263.5px,#06bcc0 264.5px,#2fc5a2 265.5px,#3ac994 266.5px,#20c1b1 268.5px,#28c2ab 269.5px,#4acb84 271.5px,#10beba 274.5px,#02bbc3 276.5px,#25c2ad 279.5px,#5ccc75 282.5px,#66cd6d 283.5px,#62cd70 284.5px,#75cc61 286.5px,#63cd6f 287.5px,#44cb89 288.5px,#3cc992 289.5px,#5ccc75 291.5px,#65cd6e 294.5px,#31c5a1 296.5px,#1ec0b2 297.5px,#1bc0b4 298.5px,#44cb89 303.5px,#36c799 304.5px,#01b9c6 306.5px,#0eb2d4 308.5px,#05b6ce 309.5px,#0bbdbd 310.5px,#28c3ab 311.5px,#2dc4a6 312.5px,#02bac3 315.5px,#08bcbf 316.5px,#22c1af 317.5px,#41ca8c 319.5px,#41ca8c 320.5px,#05bbc1 323.5px,#07b5d0 326.5px,#0ab4d2 327.5px,#01b9c7 328.5px,#16bfb7 329.5px,#13beb8 330.5px,#04b6cd 331.5px,#18addb 332.5px,#1baade 333.5px,#13b0d7 336.5px,#01b9c7 337.5px,#19bfb5 338.5px,#0cbdbc 340.5px,#1ac0b4 342.5px,#0abdbd 343.5px,#07bcbf 344.5px,#38c896 346.5px,#35c79a 349.5px,#57cc7a 351.5px,#4bcb84 352.5px,#2fc5a3 353.5px,#02bac4 354.5px,#14b0d8 355.5px,#1babde 357.5px,#01b9c6 360.5px,#25c2ae 363.5px,#48cb86 368.5px,#45cb89 371.5px,#79cc5e 374.5px,#80cc59 375.5px,#72cd63 376.5px,#44ca8a 378.5px,#39c895 379.5px,#33c69d 382.5px,#1dc0b3 384.5px,#01b9c7 388.5px,#02bac3 391.5px,#18bfb6 393.5px,#07bcc0 394.5px,#08b4d1 395.5px,#17aeda 396.5px,#16afd9 397.5px,#01b9c6 399.5px,#04bbc2 400.5px,#01b8c8 404.5px,#0db3d4 407.5px,#20a5e2 409.5px,#23a1e4 413.5px,#1fa6e1 419.5px,#0fb2d4 421.5px,#07b5d0 424.5px,#1ea8e0 427.5px,#11b1d6 430.5px,#20a5e2 434.5px,#03b7cc 436.5px,#01b9c6 437.5px,#0db3d4 439.5px,#15afd9 442.5px,#01b8ca 444.5px,#01b8c9 445.5px,#17aeda 447.5px,#1fa6e2 451.5px,#2c8ff1 455.5px,#2f80fa 476.5px)"></div><div style="height:1px;background:linear-gradient(90deg,#327cfc 0.5px,#327cfc 51.5px,#2d8df2 52.5px,#30c5a1 53.5px,#6ecd66 54.5px,#80cc59 55.5px,#39c895 58.5px,#2ec4a5 61.5px,#02bac4 64.5px,#09bcbe 67.5px,#02bac5 71.5px,#1ac0b5 74.5px,#1bc0b4 76.5px,#2dc4a6 79.5px,#20c1b1 80.5px,#06bcc0 81.5px,#03b7cc 82.5px,#01b9c6 84.5px,#23c1af 87.5px,#23c1af 88.5px,#01bac5 91.5px,#01b9c7 94.5px,#0eb2d4 97.5px,#01b9c6 99.5px,#11beba 100.5px,#14bfb8 101.5px,#0bbdbd 104.5px,#01b8c9 105.5px,#19addc 106.5px,#21a3e3 107.5px,#20a5e3 113.5px,#1aacdd 114.5px,#05b6ce 115.5px,#02bac3 116.5px,#09bcbe 118.5px,#02bac5 120.5px,#1cc0b3 122.5px,#1fc0b2 125.5px,#4acb84 128.5px,#39c895 135.5px,#5fcd73 138.5px,#3eca8f 141.5px,#43ca8b 147.5px,#23c1af 149.5px,#16bfb7 150.5px,#26c2ad 151.5px,#3ac994 152.5px,#5bcc76 153.5px,#69cd6a 154.5px,#38c896 156.5px,#2dc4a5 157.5px,#24c1af 159.5px,#3fca8e 165.5px,#3bc992 167.5px,#43ca8a 168.5px,#6acd6a 170.5px,#70cd65 171.5px,#6dcd68 172.5px,#5ccc75 173.5px,#43ca8a 174.5px,#28c3ab 176.5px,#45cb89 180.5px,#41ca8c 181.5px,#2dc4a5 183.5px,#2ec5a4 184.5px,#47cb87 186.5px,#4acb84 187.5px,#3dc991 190.5px,#1bc0b4 193.5px,#19bfb5 194.5px,#2ac3a8 195.5px,#5bcc76 197.5px,#62cd70 198.5px,#44cb8a 201.5px,#5fcd73 203.5px,#63cd70 204.5px,#46cb88 206.5px,#57cc7a 208.5px,#3fca8e 211.5px,#49cb85 214.5px,#36c899 217.5px,#5acc78 220.5px,#31c6a0 223.5px,#0dbdbc 228.5px,#1bc0b4 230.5px,#3fca8e 233.5px,#43ca8b 234.5px,#35c79a 236.5px,#39c994 237.5px,#61cd71 239.5px,#61cd71 240.5px,#47cb87 242.5px,#3ac994 244.5px,#27c2ab 245.5px,#02bac4 246.5px,#0fb2d5 247.5px,#0cb3d3 249.5px,#1da9e0 251.5px,#04b6cc 255.5px,#23a0e5 258.5px,#2c8ff1 261.5px,#23a1e5 263.5px,#0eb2d4 264.5px,#07bcc0 265.5px,#12beb9 266.5px,#02bac5 268.5px,#11beb9 269.5px,#2ec4a4 270.5px,#36c898 271.5px,#2fc5a3 272.5px,#01b9c6 274.5px,#03b7cc 276.5px,#02bac4 280.5px,#2cc4a7 282.5px,#38c896 283.5px,#46cb88 286.5px,#30c5a1 288.5px,#2fc5a2 289.5px,#56cc7b 291.5px,#4acb84 294.5px,#2fc5a3 296.5px,#2dc4a6 297.5px,#47cb87 299.5px,#8dcb4f 302.5px,#86cb55 303.5px,#37c898 305.5px,#2ac3a8 306.5px,#24c1af 308.5px,#2ec5a4 312.5px,#08bcbf 315.5px,#1bc0b4 316.5px,#6ecd67 319.5px,#76cc60 320.5px,#66cd6d 321.5px,#32c69f 323.5px,#03bbc2 326.5px,#01b8c8 327.5px,#06bcc0 328.5px,#20c1b1 329.5px,#21c1b0 330.5px,#04bbc1 331.5px,#16afd9 333.5px,#1babde 335.5px,#16afda 336.5px,#01b8c9 337.5px,#1ac0b5 338.5px,#33c79d 342.5px,#2ac3a9 344.5px,#3cc992 346.5px,#2ec5a4 348.5px,#31c6a0 349.5px,#5ccc75 351.5px,#54cc7d 352.5px,#04b6cd 354.5px,#1fa6e2 355.5px,#259ce7 357.5px,#1da8e0 359.5px,#01b9c6 362.5px,#1fc0b2 365.5px,#17bfb7 367.5px,#25c2ad 370.5px,#38c896 372.5px,#69cd6b 374.5px,#63cd70 375.5px,#2ec5a4 377.5px,#23c1af 378.5px,#1dc0b3 380.5px,#2ac3a9 382.5px,#25c2ad 383.5px,#01b9c7 385.5px,#06b5cf 389.5px,#03bbc2 391.5px,#15bfb7 392.5px,#18bfb6 393.5px,#02bac5 394.5px,#20a5e3 396.5px,#19addc 398.5px,#05b6ce 400.5px,#01b8ca 402.5px,#06b5ce 407.5px,#20a5e3 410.5px,#21a2e4 413.5px,#15afd9 416.5px,#19acdc 425.5px,#22a2e4 428.5px,#1caadf 431.5px,#23a0e5 433.5px,#13b0d7 436.5px,#03b7cc 440.5px,#0bb4d2 444.5px,#22a2e4 447.5px,#2c90f0 455.5px,#2f81fa 476.5px)"></div><div style="height:1px;background:linear-gradient(90deg,#327cfc 0.5px,#327cfc 51.5px,#2d8df2 52.5px,#26c2ac 53.5px,#4dcc82 54.5px,#64cd6f 55.5px,#6acd6a 56.5px,#3fca8e 58.5px,#24c1af 62.5px,#03bbc2 65.5px,#08bcbf 67.5px,#23c1af 69.5px,#20c1b1 70.5px,#02bac4 72.5px,#01bac5 73.5px,#2fc5a3 78.5px,#2ec4a4 79.5px,#23c1af 80.5px,#06bcc0 81.5px,#05b6cd 82.5px,#03bbc2 84.5px,#12beb9 85.5px,#14bfb8 86.5px,#0cbdbc 89.5px,#02b7cb 91.5px,#1ca9df 94.5px,#18aedb 98.5px,#01b9c8 100.5px,#0abdbd 104.5px,#0ab4d1 106.5px,#1baade 107.5px,#1aacdd 109.5px,#0ab4d2 111.5px,#1caadf 113.5px,#18aedb 114.5px,#02b7cb 115.5px,#1bc0b4 118.5px,#02bac3 121.5px,#02bac4 123.5px,#09bcbe 124.5px,#3ac994 127.5px,#3eca8f 128.5px,#33c79d 135.5px,#4bcb84 138.5px,#31c6a0 141.5px,#34c79c 147.5px,#2ec5a4 148.5px,#0bbdbd 150.5px,#12beb9 151.5px,#48cb86 154.5px,#0fbeba 160.5px,#2fc5a3 167.5px,#3cc991 168.5px,#75cc61 170.5px,#7dcc5b 171.5px,#3dc990 174.5px,#2ec4a4 176.5px,#30c5a1 177.5px,#3dc991 178.5px,#69cd6b 180.5px,#60cd72 181.5px,#39c895 183.5px,#35c79a 184.5px,#38c897 185.5px,#62cd71 189.5px,#5bcc77 190.5px,#32c69e 192.5px,#2dc4a5 193.5px,#3bc992 197.5px,#3fca8e 203.5px,#3bc992 204.5px,#22c1b0 206.5px,#35c79a 209.5px,#2ac3a9 212.5px,#3ac994 215.5px,#35c79a 217.5px,#53cc7e 220.5px,#34c79b 222.5px,#2ec5a4 226.5px,#23c1af 227.5px,#09bcbe 228.5px,#01b9c7 229.5px,#03bbc3 230.5px,#30c5a1 232.5px,#38c896 233.5px,#26c2ac 236.5px,#3eca8f 239.5px,#2fc5a2 242.5px,#34c79c 244.5px,#23c1af 245.5px,#01b8c9 246.5px,#19addc 247.5px,#1da9e0 248.5px,#17aeda 251.5px,#05b6ce 252.5px,#09bcbe 253.5px,#1cc0b3 254.5px,#1fc1b1 255.5px,#02bac3 257.5px,#1da8e0 259.5px,#249ee6 260.5px,#239fe5 262.5px,#1aabdd 263.5px,#01b8c9 264.5px,#1bc0b4 266.5px,#0abdbd 268.5px,#2cc4a7 271.5px,#2bc3a8 272.5px,#08bcbf 275.5px,#09bcbe 277.5px,#01b9c7 278.5px,#10b2d5 280.5px,#05b6ce 281.5px,#0ebdbb 282.5px,#2cc4a7 283.5px,#30c5a1 284.5px,#27c2ab 286.5px,#0bbdbd 288.5px,#0ebdbb 289.5px,#25c2ae 290.5px,#2fc5a2 291.5px,#29c3aa 296.5px,#31c6a0 299.5px,#3ac994 300.5px,#73cd63 302.5px,#70cd65 303.5px,#38c896 305.5px,#30c5a1 306.5px,#30c5a1 309.5px,#02bac4 313.5px,#01b8c9 315.5px,#56cc7b 318.5px,#58cc79 319.5px,#49cb85 324.5px,#1cc0b3 327.5px,#45cb89 330.5px,#2ac3a9 332.5px,#01b9c6 334.5px,#01b8ca 335.5px,#05bbc1 336.5px,#2bc3a8 337.5px,#48cb86 338.5px,#5dcc75 339.5px,#71cd64 341.5px,#68cd6b 342.5px,#3eca8f 344.5px,#48cb86 346.5px,#36c899 349.5px,#5acc77 351.5px,#5acc78 352.5px,#36c799 353.5px,#02bac3 354.5px,#16aeda 355.5px,#1caadf 357.5px,#01b8c9 360.5px,#24c1ae 362.5px,#36c899 365.5px,#24c1ae 368.5px,#41ca8c 372.5px,#75cc61 374.5px,#6acd6a 375.5px,#3fca8e 376.5px,#27c2ac 377.5px,#15bfb8 378.5px,#12beb9 379.5px,#33c69d 383.5px,#14bfb8 385.5px,#0cbdbc 386.5px,#1cc0b3 389.5px,#15bfb7 391.5px,#1ec0b2 393.5px,#02bac4 395.5px,#09b4d1 397.5px,#01bac5 400.5px,#0bbdbd 402.5px,#02bac4 403.5px,#0cb3d3 405.5px,#01b9c7 408.5px,#12b1d7 413.5px,#02b7cb 416.5px,#07b5d0 419.5px,#1fa6e2 423.5px,#12b1d6 432.5px,#21a3e3 436.5px,#1babde 438.5px,#01b8c9 440.5px,#01b8c9 441.5px,#19acdc 443.5px,#20a5e3 446.5px,#2d8df2 456.5px,#2f81fa 476.5px)"></div><div style="height:1px;background:linear-gradient(90deg,#327cfc 0.5px,#327cfc 51.5px,#2d8cf3 52.5px,#19bfb5 53.5px,#3fca8e 54.5px,#5ccc76 55.5px,#6ccd68 56.5px,#59cc78 57.5px,#38c896 58.5px,#1fc0b2 60.5px,#14bfb8 63.5px,#24c1af 69.5px,#21c1b1 70.5px,#02bac3 72.5px,#05b6ce 75.5px,#08bcbf 79.5px,#01b9c7 80.5px,#13b0d7 82.5px,#01b9c6 84.5px,#06b5cf 87.5px,#01b8ca 88.5px,#10beba 90.5px,#03bbc3 91.5px,#1da8e0 93.5px,#21a3e3 94.5px,#15afd9 102.5px,#01b9c8 105.5px,#14b0d8 107.5px,#0ab4d2 110.5px,#22a2e4 114.5px,#05b6ce 116.5px,#0abdbd 117.5px,#25c2ad 118.5px,#2dc4a6 119.5px,#27c2ac 120.5px,#03bbc2 122.5px,#02bac4 123.5px,#0abdbd 124.5px,#33c69e 126.5px,#3ac994 132.5px,#2fc5a2 135.5px,#51cc7e 138.5px,#32c69e 140.5px,#2cc4a7 141.5px,#2ec5a3 148.5px,#09bcbe 152.5px,#1dc0b3 155.5px,#1dc0b3 157.5px,#01b8c8 159.5px,#01b9c7 162.5px,#17bfb7 166.5px,#3dca90 168.5px,#62cd71 169.5px,#76cc60 170.5px,#6acd6a 171.5px,#2fc5a3 173.5px,#18bfb6 175.5px,#19bfb5 176.5px,#27c2ab 177.5px,#4ecc81 180.5px,#36c799 183.5px,#33c79d 186.5px,#61cd71 189.5px,#5bcc77 190.5px,#37c898 192.5px,#26c2ad 196.5px,#41ca8c 200.5px,#28c3ab 203.5px,#10beba 206.5px,#33c69e 208.5px,#35c79a 209.5px,#2bc3a8 210.5px,#02bbc3 212.5px,#04bbc2 213.5px,#2ec4a5 215.5px,#52cc7e 219.5px,#51cc7f 220.5px,#2fc5a3 222.5px,#30c5a1 223.5px,#49cb85 225.5px,#47cb87 226.5px,#20c1b1 228.5px,#02bac3 229.5px,#01b9c7 230.5px,#0abdbd 231.5px,#20c1b1 232.5px,#26c2ad 233.5px,#19bfb5 236.5px,#29c3aa 239.5px,#1ac0b5 241.5px,#25c2ae 243.5px,#1fc0b2 244.5px,#04bbc2 245.5px,#1fa6e2 247.5px,#249ee6 248.5px,#1babde 251.5px,#01b9c7 252.5px,#24c1af 253.5px,#2ec4a4 254.5px,#1cc0b3 257.5px,#03b7cc 259.5px,#10b2d5 260.5px,#03b7cc 262.5px,#0abdbe 263.5px,#28c2ab 264.5px,#32c69f 265.5px,#2ec5a3 267.5px,#0dbdbb 269.5px,#12beb9 270.5px,#34c79b 272.5px,#46cb88 274.5px,#36c898 277.5px,#28c3ab 278.5px,#04bbc2 279.5px,#01b8ca 280.5px,#04bbc1 281.5px,#26c2ad 282.5px,#36c799 283.5px,#38c896 284.5px,#20c1b1 288.5px,#2ac3a9 291.5px,#20c1b1 293.5px,#30c5a2 297.5px,#1dc0b3 299.5px,#20c1b1 300.5px,#3eca90 302.5px,#42ca8b 303.5px,#2ac3a9 306.5px,#29c3aa 310.5px,#02bac5 312.5px,#11b1d6 314.5px,#06bcc0 316.5px,#28c2ab 317.5px,#2ec5a4 318.5px,#1abfb5 320.5px,#1fc0b2 321.5px,#4acb85 324.5px,#42ca8c 325.5px,#22c1b0 327.5px,#2bc3a8 328.5px,#4bcb84 330.5px,#2ac3a9 332.5px,#0cbdbc 333.5px,#01b8c9 334.5px,#01b8c9 335.5px,#15bfb7 336.5px,#3ac994 337.5px,#6ecd67 338.5px,#85cb55 339.5px,#76cc61 341.5px,#34c79b 343.5px,#27c2ab 344.5px,#36c899 348.5px,#3ac994 352.5px,#2cc4a7 353.5px,#06bcc0 354.5px,#01b7ca 355.5px,#03b7cc 357.5px,#06bcc0 359.5px,#2cc4a6 361.5px,#31c6a0 362.5px,#33c69d 365.5px,#24c2ae 368.5px,#2cc4a7 370.5px,#37c898 372.5px,#63cd70 374.5px,#5bcc77 375.5px,#3cc992 376.5px,#2cc4a7 377.5px,#26c2ac 378.5px,#20c1b1 380.5px,#3fca8e 383.5px,#28c3ab 386.5px,#34c79c 388.5px,#32c69f 389.5px,#08bcbf 391.5px,#01b9c6 392.5px,#12beb9 395.5px,#03bbc3 397.5px,#04b6cd 399.5px,#04bbc1 402.5px,#01b7ca 403.5px,#1aabdd 405.5px,#16aeda 406.5px,#03b7cb 407.5px,#07bcc0 408.5px,#04b6cd 410.5px,#19addc 412.5px,#1ca9e0 417.5px,#03b7cc 419.5px,#01b8ca 420.5px,#16aeda 423.5px,#01b8ca 425.5px,#03bbc2 427.5px,#01b9c7 432.5px,#20a4e3 437.5px,#01b8c9 440.5px,#04b6cc 441.5px,#18aedb 442.5px,#2798ea 444.5px,#21a3e3 449.5px,#2d8df2 456.5px,#2f82fa 476.5px)"></div><div style="height:1px;background:linear-gradient(90deg,#327cfc 0.5px,#327cfc 51.5px,#2d8cf3 52.5px,#1dc0b3 53.5px,#46cb88 54.5px,#66cd6d 55.5px,#76cc61 56.5px,#61cd72 57.5px,#39c895 58.5px,#24c1ae 59.5px,#13beb8 60.5px,#12beb9 63.5px,#24c1ae 66.5px,#12beb9 70.5px,#01b8ca 72.5px,#16afd9 75.5px,#0ab4d1 79.5px,#1ea7e1 81.5px,#12b1d7 84.5px,#1aabdd 87.5px,#01b9c8 89.5px,#0cbdbc 90.5px,#05bbc1 91.5px,#19acdc 93.5px,#1caadf 94.5px,#20a4e3 102.5px,#08b4d0 105.5px,#15afd8 107.5px,#06b5cf 109.5px,#1da8e0 112.5px,#21a3e3 114.5px,#12b1d7 116.5px,#01bac5 117.5px,#21c1b0 118.5px,#2dc4a5 119.5px,#26c2ac 120.5px,#08bcbe 121.5px,#06b5cf 122.5px,#0fb2d4 123.5px,#04b6cd 124.5px,#12beb9 125.5px,#2ec4a4 126.5px,#33c69e 127.5px,#27c2ab 133.5px,#1abfb5 135.5px,#41ca8c 138.5px,#2cc4a6 141.5px,#2fc5a2 150.5px,#2ac3a9 151.5px,#0abdbd 153.5px,#06bcc0 157.5px,#05b6ce 159.5px,#08bcbf 165.5px,#24c1ae 167.5px,#42ca8b 169.5px,#47cb87 170.5px,#10beba 173.5px,#07bcc0 174.5px,#09bcbe 175.5px,#2cc4a7 178.5px,#2bc3a8 182.5px,#12beb9 184.5px,#12beb9 185.5px,#2cc4a7 187.5px,#3eca8f 190.5px,#2ac3a9 194.5px,#0bbdbc 196.5px,#2dc4a6 198.5px,#39c895 199.5px,#3bc993 200.5px,#30c5a1 201.5px,#02bac4 203.5px,#01b9c7 205.5px,#3dc991 208.5px,#39c995 209.5px,#29c3aa 210.5px,#05bbc1 211.5px,#06b5ce 212.5px,#01b9c6 214.5px,#27c2ac 216.5px,#36c799 218.5px,#35c79a 220.5px,#24c1ae 222.5px,#4fcc80 225.5px,#48cb86 226.5px,#03bbc3 229.5px,#01b8c8 230.5px,#0fbebb 233.5px,#0abdbd 238.5px,#20c1b1 242.5px,#1dc0b3 243.5px,#06bcc0 244.5px,#07b5d0 245.5px,#15afd9 246.5px,#2798ea 250.5px,#1aacdd 252.5px,#07b5cf 253.5px,#05b6cd 254.5px,#18aedb 256.5px,#06b5ce 258.5px,#02bac5 261.5px,#28c2ab 264.5px,#27c2ac 266.5px,#02b7cb 268.5px,#14b0d8 269.5px,#0fb2d5 270.5px,#06bcc0 271.5px,#2ec4a5 272.5px,#42ca8b 273.5px,#50cc7f 274.5px,#3dc990 277.5px,#2fc5a3 278.5px,#10beba 279.5px,#05bbc1 280.5px,#30c5a2 282.5px,#38c896 283.5px,#40ca8d 286.5px,#30c5a1 289.5px,#32c69e 291.5px,#27c2ac 295.5px,#32c69e 298.5px,#2ec5a4 300.5px,#3eca8f 303.5px,#25c2ad 306.5px,#25c2ad 311.5px,#01b9c6 313.5px,#05b6ce 314.5px,#01b9c6 316.5px,#1fc0b2 318.5px,#1ec0b2 320.5px,#3ac994 324.5px,#39c895 325.5px,#29c3aa 327.5px,#36c898 330.5px,#26c2ac 331.5px,#02bbc3 332.5px,#12b1d6 334.5px,#08bcbf 336.5px,#59cc79 338.5px,#67cd6c 339.5px,#52cc7e 341.5px,#18bfb6 344.5px,#09bcbe 345.5px,#24c2ae 348.5px,#29c3a9 351.5px,#02b7cb 357.5px,#06b5cf 358.5px,#04bbc2 360.5px,#0dbdbb 361.5px,#01b9c6 364.5px,#01bac5 370.5px,#2dc4a6 374.5px,#1bc0b4 378.5px,#08bcbf 380.5px,#0ebdbb 381.5px,#26c2ad 382.5px,#2dc4a5 383.5px,#22c1b0 384.5px,#06bcc0 385.5px,#01b9c7 386.5px,#09bcbe 389.5px,#01b8ca 390.5px,#1aabdd 392.5px,#1babde 393.5px,#01b9c7 396.5px,#0eb2d4 399.5px,#09b4d1 401.5px,#1aacdd 403.5px,#1ea7e1 405.5px,#19acdc 406.5px,#07b5d0 407.5px,#02bac4 409.5px,#03b7cc 410.5px,#19acdc 412.5px,#22a2e4 417.5px,#1baade 418.5px,#04b6cd 419.5px,#06bcc0 420.5px,#01bac5 423.5px,#02bac4 427.5px,#1cc0b3 430.5px,#1abfb5 431.5px,#01bac5 433.5px,#1da8e0 437.5px,#01b9c7 440.5px,#2b91ef 444.5px,#1ca9df 450.5px,#2d8cf3 457.5px,#2f82f9 476.5px)"></div><div style="height:1px;background:linear-gradient(90deg,#327cfc 0.5px,#327cfc 51.5px,#2d8bf4 52.5px,#1dc0b3 53.5px,#4bcb84 54.5px,#69cd6b 55.5px,#74cc62 56.5px,#62cd71 57.5px,#3dc990 58.5px,#27c2ac 59.5px,#0fbebb 60.5px,#0fbebb 61.5px,#26c2ac 63.5px,#31c6a1 69.5px,#28c2ab 70.5px,#09bcbe 71.5px,#07b5d0 72.5px,#15afd8 73.5px,#12b1d6 76.5px,#20a5e3 81.5px,#14b0d8 84.5px,#1aacdd 88.5px,#01b8c9 90.5px,#12b1d7 93.5px,#05b6ce 96.5px,#1aacdd 99.5px,#20a4e3 102.5px,#03b7cc 105.5px,#04b6cd 107.5px,#01bac6 108.5px,#0bbdbc 109.5px,#01b8ca 111.5px,#1aabdd 113.5px,#1aacdd 115.5px,#03b7cc 117.5px,#02bac4 118.5px,#05b6ce 120.5px,#14b0d8 121.5px,#1caadf 123.5px,#02bac5 125.5px,#26c2ad 126.5px,#33c69d 128.5px,#2cc4a7 130.5px,#01bac5 134.5px,#02bbc3 135.5px,#2fc5a3 137.5px,#32c69e 138.5px,#29c3aa 141.5px,#37c897 150.5px,#2dc4a6 153.5px,#01b8ca 158.5px,#07b5cf 159.5px,#06bcc0 165.5px,#20c1b1 169.5px,#0abdbe 172.5px,#0abdbe 174.5px,#2ec4a5 177.5px,#22c1af 181.5px,#05bbc1 183.5px,#01b9c7 184.5px,#04bbc1 185.5px,#28c2ab 187.5px,#2dc4a6 190.5px,#02bac4 195.5px,#02bac5 197.5px,#1bc0b4 199.5px,#18bfb6 200.5px,#05bbc1 201.5px,#0db3d3 204.5px,#02b7cb 205.5px,#31c6a0 207.5px,#3bc993 208.5px,#34c79c 209.5px,#0abdbd 211.5px,#03bbc2 212.5px,#05bbc1 216.5px,#27c2ab 219.5px,#0ebdbb 222.5px,#34c79c 224.5px,#37c898 225.5px,#04bbc1 229.5px,#17bfb6 233.5px,#06bcc0 238.5px,#24c1af 241.5px,#23c1af 242.5px,#19bfb5 243.5px,#02bac4 244.5px,#0cb3d3 245.5px,#2d88f6 251.5px,#2797eb 253.5px,#2797eb 256.5px,#18aedb 258.5px,#01b9c7 263.5px,#0cbdbc 265.5px,#04b6cd 267.5px,#1baade 268.5px,#23a0e5 269.5px,#1fa6e2 270.5px,#05b6cd 271.5px,#1ec0b2 272.5px,#2ec4a5 273.5px,#2ac3a9 277.5px,#03bbc3 279.5px,#02bac4 280.5px,#30c5a2 282.5px,#3ac994 286.5px,#19bfb5 289.5px,#28c2ab 291.5px,#25c2ad 293.5px,#1dc0b3 294.5px,#03bbc3 295.5px,#01b8ca 296.5px,#09bcbe 297.5px,#28c2ab 298.5px,#35c799 302.5px,#1dc0b3 306.5px,#1dc0b3 311.5px,#07bcbf 315.5px,#0cbdbc 316.5px,#33c69d 318.5px,#56cc7a 321.5px,#2dc4a5 327.5px,#38c896 329.5px,#36c799 330.5px,#01b9c7 332.5px,#06b5ce 333.5px,#01b9c7 335.5px,#0abdbd 336.5px,#49cb85 338.5px,#5ccc75 339.5px,#5dcc75 341.5px,#5ccc76 342.5px,#37c898 344.5px,#2ec4a4 345.5px,#26c2ad 348.5px,#25c2ad 349.5px,#42ca8c 353.5px,#3dc991 354.5px,#28c3aa 356.5px,#01b9c8 358.5px,#09b4d1 360.5px,#01b9c7 362.5px,#06bcc0 366.5px,#14beb8 368.5px,#03bbc3 370.5px,#0ebebb 372.5px,#26c2ad 374.5px,#2cc4a6 376.5px,#04bbc2 380.5px,#1bc0b4 382.5px,#01b8ca 384.5px,#16afd9 385.5px,#1da9e0 386.5px,#15afd9 389.5px,#1aabdd 393.5px,#01b9c7 395.5px,#1bc0b4 397.5px,#19bfb6 400.5px,#01b9c6 402.5px,#12b1d7 404.5px,#03bbc2 407.5px,#0ebdbb 408.5px,#05bbc1 410.5px,#13beb9 413.5px,#01b9c7 415.5px,#14b0d8 417.5px,#06bcc0 419.5px,#20c1b1 420.5px,#26c2ac 421.5px,#22c1b0 422.5px,#03bbc3 424.5px,#12b1d6 427.5px,#03bbc3 429.5px,#16bfb7 430.5px,#18bfb6 431.5px,#02bac4 433.5px,#01b8ca 434.5px,#21a3e3 437.5px,#1ea7e1 438.5px,#01b7ca 440.5px,#259de7 443.5px,#15afd8 450.5px,#259de7 454.5px,#2d8bf3 460.5px,#2f83f9 476.5px)"></div><div style="height:1px;background:linear-gradient(90deg,#327cfc 0.5px,#327cfc 51.5px,#2d89f5 52.5px,#11beba 53.5px,#45cb89 54.5px,#5acc77 55.5px,#56cc7b 56.5px,#2fc5a3 58.5px,#14bfb8 60.5px,#34c79c 62.5px,#39c995 63.5px,#2cc4a7 65.5px,#35c79a 69.5px,#26c2ad 70.5px,#01b9c6 71.5px,#15afd9 72.5px,#1babde 73.5px,#14b0d8 80.5px,#01b7ca 82.5px,#05bbc1 84.5px,#07b5d0 89.5px,#1da8e0 92.5px,#07b5cf 96.5px,#1ea7e1 103.5px,#01b8c9 105.5px,#12beb9 109.5px,#02bbc3 111.5px,#15afd9 113.5px,#04b6cd 117.5px,#21a3e3 120.5px,#01b9c6 124.5px,#06bcc0 125.5px,#2bc3a8 127.5px,#36c899 129.5px,#0fbebb 133.5px,#31c69f 138.5px,#11beb9 142.5px,#48cb86 147.5px,#2fc5a3 150.5px,#2bc3a8 153.5px,#02bac4 159.5px,#1ec0b2 162.5px,#16bfb7 167.5px,#01b8c8 170.5px,#01b9c8 172.5px,#09bcbe 175.5px,#24c1af 177.5px,#26c2ad 178.5px,#23c1af 180.5px,#01b9c8 183.5px,#02bac5 185.5px,#23c1af 187.5px,#29c3aa 190.5px,#1dc0b3 191.5px,#04bbc2 192.5px,#02b7cb 194.5px,#0cbdbc 198.5px,#01b7ca 201.5px,#0db3d3 203.5px,#02bac4 205.5px,#22c1b0 206.5px,#35c79a 207.5px,#3cc991 208.5px,#1cc0b3 211.5px,#29c3aa 214.5px,#0abdbd 216.5px,#02bac5 221.5px,#04bbc2 222.5px,#24c1ae 224.5px,#27c2ac 225.5px,#23c1af 226.5px,#04bbc1 228.5px,#04bbc2 229.5px,#1dc0b3 231.5px,#25c2ad 233.5px,#16bfb7 236.5px,#18bfb6 239.5px,#01b8c9 244.5px,#1babde 246.5px,#2c8ef1 251.5px,#1fa5e2 256.5px,#01b8c9 259.5px,#02b7cb 263.5px,#12beb9 266.5px,#04b6cd 268.5px,#11b1d6 269.5px,#03b7cc 270.5px,#33c79c 272.5px,#33c69d 273.5px,#18bfb6 275.5px,#24c1ae 277.5px,#0abdbe 279.5px,#0abdbd 280.5px,#37c898 282.5px,#3fca8e 283.5px,#31c69f 286.5px,#01b9c6 288.5px,#06b6ce 289.5px,#02bac4 291.5px,#0bbdbc 293.5px,#01b8c9 295.5px,#0bb3d2 296.5px,#02bac4 298.5px,#01b9c6 300.5px,#0bbdbc 303.5px,#02bbc3 305.5px,#11beba 307.5px,#01b8c8 309.5px,#02bac4 311.5px,#1ec0b2 317.5px,#40ca8d 320.5px,#2ec5a4 323.5px,#1dc0b3 327.5px,#34c79c 329.5px,#34c79c 330.5px,#02bac3 332.5px,#01b9c6 333.5px,#0bbdbd 336.5px,#53cc7d 339.5px,#64cd6f 341.5px,#41ca8c 344.5px,#4acb85 346.5px,#2cc4a6 349.5px,#3eca8f 351.5px,#60cd72 353.5px,#0fbeba 360.5px,#31c6a0 364.5px,#29c3aa 371.5px,#4fcc80 375.5px,#24c1ae 378.5px,#23c1af 382.5px,#0cbdbc 383.5px,#03b7cc 384.5px,#15afd8 386.5px,#08b4d1 388.5px,#04bbc2 393.5px,#0dbdbc 394.5px,#36c899 396.5px,#3eca8f 398.5px,#2dc4a5 402.5px,#07bcbf 404.5px,#01b9c6 405.5px,#02bac4 406.5px,#1cc0b3 408.5px,#18bfb6 410.5px,#34c79c 412.5px,#37c898 413.5px,#02bbc3 417.5px,#0abdbd 418.5px,#22c1b0 419.5px,#2dc4a5 421.5px,#29c3aa 422.5px,#03bbc2 425.5px,#01b9c6 426.5px,#02bac4 428.5px,#16bfb7 430.5px,#01b9c7 432.5px,#04b6cd 434.5px,#21a3e3 437.5px,#05b6cd 440.5px,#21a3e3 442.5px,#23a0e5 443.5px,#02b7cb 446.5px,#01b8ca 447.5px,#18addb 450.5px,#2c90f0 459.5px,#2e83f9 476.5px)"></div><div style="height:1px;background:linear-gradient(90deg,#327cfc 0.5px,#327cfc 51.5px,#2d88f6 52.5px,#08bcbf 53.5px,#3fca8e 54.5px,#4fcc80 55.5px,#2fc5a3 57.5px,#14bfb8 58.5px,#05bbc1 59.5px,#11beb9 60.5px,#42ca8b 62.5px,#45cb89 63.5px,#32c69e 65.5px,#2ec4a4 68.5px,#24c1ae 69.5px,#09bcbe 70.5px,#08b5d0 71.5px,#1aabdd 72.5px,#20a4e3 75.5px,#02bac4 80.5px,#26c2ac 82.5px,#2ec4a4 83.5px,#14beb8 86.5px,#10beba 88.5px,#01b9c7 89.5px,#21a3e4 91.5px,#259be8 93.5px,#1aacdd 96.5px,#15afd9 101.5px,#1da8e0 103.5px,#01b8c9 105.5px,#17bfb6 107.5px,#01b8c9 110.5px,#13b1d7 112.5px,#14b0d8 113.5px,#02bac3 115.5px,#09bcbe 116.5px,#02bbc3 117.5px,#1fa6e2 119.5px,#20a4e3 120.5px,#11b1d6 121.5px,#0cbdbc 122.5px,#26c2ad 123.5px,#24c1af 124.5px,#0cbdbc 126.5px,#2ec5a4 128.5px,#31c6a1 129.5px,#17bfb7 132.5px,#2ec4a4 134.5px,#2cc4a7 139.5px,#01bac5 141.5px,#07b5cf 142.5px,#01b8c9 143.5px,#2ec4a5 145.5px,#49cb85 147.5px,#46cb88 148.5px,#25c2ae 150.5px,#20c1b1 151.5px,#29c3a9 153.5px,#14beb8 156.5px,#16bfb7 157.5px,#24c1af 159.5px,#39c895 161.5px,#3ac994 162.5px,#25c2ae 167.5px,#1bc0b4 168.5px,#04bbc2 169.5px,#06b5ce 170.5px,#0bb3d2 171.5px,#01b9c8 173.5px,#15bfb8 177.5px,#06bcc0 184.5px,#27c2ac 190.5px,#25c2ad 191.5px,#08bcbf 193.5px,#07bcc0 194.5px,#2fc5a3 196.5px,#33c69d 197.5px,#0ebdbb 200.5px,#0bbdbd 203.5px,#2dc4a6 207.5px,#23c1af 211.5px,#31c6a0 214.5px,#29c3aa 216.5px,#07bcbf 218.5px,#05b6cd 219.5px,#13b0d7 220.5px,#11b1d6 221.5px,#01b8c9 222.5px,#25c2ad 224.5px,#2bc3a7 226.5px,#1dc0b3 227.5px,#02bac4 228.5px,#04b6cd 229.5px,#01bac6 231.5px,#1fc0b2 234.5px,#25c2ad 237.5px,#01b9c8 243.5px,#1ea7e1 246.5px,#18aedb 249.5px,#1fa6e2 252.5px,#03b7cc 257.5px,#01b9c7 261.5px,#16afd9 263.5px,#01b9c7 266.5px,#14beb8 269.5px,#4bcb84 272.5px,#43ca8a 273.5px,#25c2ad 275.5px,#1ac0b5 279.5px,#1dc0b3 280.5px,#5dcc75 283.5px,#2dc4a5 287.5px,#04bbc2 289.5px,#02bac4 290.5px,#03bbc2 292.5px,#28c2ab 294.5px,#2ac3a9 295.5px,#01b9c6 300.5px,#04bbc1 305.5px,#1ec0b2 307.5px,#02bac5 309.5px,#01bac5 310.5px,#18bfb6 312.5px,#1ac0b5 313.5px,#01b8c9 317.5px,#07bcbf 320.5px,#01b9c7 321.5px,#17aeda 323.5px,#01b9c6 326.5px,#08bcbf 327.5px,#31c5a1 329.5px,#33c69d 330.5px,#22c1af 331.5px,#02bbc3 332.5px,#07b5cf 335.5px,#02b7cb 336.5px,#0dbdbc 337.5px,#29c3aa 338.5px,#30c5a2 340.5px,#30c5a2 341.5px,#12beb9 343.5px,#15bfb7 344.5px,#36c898 346.5px,#35c79a 347.5px,#2cc4a7 348.5px,#16bfb7 349.5px,#13beb8 350.5px,#2fc5a2 353.5px,#20c1b1 356.5px,#33c69d 359.5px,#1bc0b4 365.5px,#25c2ad 368.5px,#1bc0b4 370.5px,#38c895 374.5px,#37c897 375.5px,#2cc4a7 376.5px,#13beb9 377.5px,#0ebdbb 378.5px,#26c2ad 380.5px,#26c2ac 381.5px,#07bcc0 383.5px,#01b9c6 384.5px,#10b2d5 390.5px,#03b7cc 391.5px,#04bbc2 392.5px,#05bbc1 394.5px,#21c1b1 396.5px,#15bfb7 399.5px,#2ac3a9 401.5px,#2bc3a8 402.5px,#01b8c8 404.5px,#14b0d8 405.5px,#19addc 406.5px,#01b8c9 408.5px,#0abdbd 410.5px,#23c1af 412.5px,#23c1af 413.5px,#07bcbf 415.5px,#01bac5 417.5px,#26c2ad 420.5px,#31c6a0 426.5px,#28c3aa 429.5px,#01b8ca 432.5px,#02b7cb 434.5px,#19addb 437.5px,#01b8ca 439.5px,#02b7cb 440.5px,#20a5e3 442.5px,#21a3e3 443.5px,#01b8ca 446.5px,#249fe5 452.5px,#22a2e4 456.5px,#2d8cf3 461.5px,#2e83f9 476.5px)"></div><div style="height:1px;background:linear-gradient(90deg,#327cfc 0.5px,#327cfc 51.5px,#2d89f6 52.5px,#05bbc1 53.5px,#35c79a 54.5px,#3eca90 55.5px,#2ac3a9 57.5px,#0abdbe 58.5px,#01b8ca 59.5px,#01bac6 60.5px,#31c6a0 62.5px,#33c69e 66.5px,#1fc0b1 68.5px,#06bcc0 69.5px,#03b7cc 70.5px,#17aedb 72.5px,#1da9e0 74.5px,#1babde 76.5px,#03b7cc 78.5px,#02bac4 79.5px,#07bcc0 80.5px,#28c2ab 82.5px,#2ac3a8 83.5px,#06bcc0 85.5px,#02bac4 86.5px,#0dbdbb 88.5px,#02bac4 89.5px,#23a0e5 91.5px,#2895ec 92.5px,#1caadf 96.5px,#21a3e3 98.5px,#07b5cf 101.5px,#03b7cc 103.5px,#04bbc2 104.5px,#24c2ae 106.5px,#28c3ab 107.5px,#1fc0b2 109.5px,#01b9c7 111.5px,#0eb3d4 113.5px,#01b8ca 114.5px,#21c1b0 116.5px,#19bfb5 117.5px,#01b9c8 118.5px,#17aedb 119.5px,#1babde 120.5px,#07b5d0 121.5px,#2cc4a6 123.5px,#2cc4a7 124.5px,#0bbdbd 126.5px,#24c1ae 129.5px,#0bbdbc 131.5px,#0abdbd 132.5px,#2ec5a4 134.5px,#33c69d 135.5px,#27c2ac 139.5px,#01b8c9 141.5px,#13b0d7 142.5px,#13b0d7 143.5px,#02b7cb 144.5px,#40ca8d 147.5px,#47cb87 148.5px,#32c69e 150.5px,#33c69d 154.5px,#1abfb5 157.5px,#1dc0b3 158.5px,#40ca8d 161.5px,#42ca8c 163.5px,#27c2ac 168.5px,#01b8c8 170.5px,#05bbc1 173.5px,#1bc0b4 175.5px,#1bc0b4 176.5px,#02bac3 178.5px,#03b7cc 180.5px,#01b9c8 181.5px,#1cc0b3 184.5px,#11beba 189.5px,#27c2ab 191.5px,#24c1af 194.5px,#3ac993 196.5px,#3dc990 197.5px,#1dc0b3 199.5px,#0fbebb 200.5px,#28c3ab 204.5px,#25c2ad 205.5px,#0bbdbd 207.5px,#07bcbf 209.5px,#2dc4a6 213.5px,#36c899 215.5px,#28c2ab 217.5px,#04b6cd 219.5px,#16afd9 220.5px,#15afd9 221.5px,#01b8c9 222.5px,#2bc3a8 224.5px,#23c1af 226.5px,#01b8c9 228.5px,#0fb2d5 230.5px,#01b9c6 233.5px,#25c2ae 235.5px,#29c3aa 237.5px,#18bfb6 239.5px,#1fc0b1 241.5px,#17bfb7 242.5px,#02bac5 243.5px,#1aacdd 245.5px,#1aabdd 247.5px,#07b5d0 249.5px,#1baade 252.5px,#16afd9 253.5px,#02b7cb 254.5px,#0ebdbb 256.5px,#01b7ca 258.5px,#0db3d4 259.5px,#12b1d7 261.5px,#2699e9 264.5px,#21a4e3 266.5px,#01b8ca 268.5px,#2fc5a2 270.5px,#37c898 271.5px,#31c6a0 273.5px,#0abdbd 275.5px,#04bbc2 276.5px,#06bcc0 280.5px,#1ac0b5 281.5px,#41ca8c 283.5px,#26c2ad 289.5px,#1ec0b2 292.5px,#3dc990 295.5px,#30c5a2 298.5px,#37c897 302.5px,#2cc4a7 304.5px,#2fc5a3 307.5px,#21c1b0 309.5px,#36c899 313.5px,#2ec5a4 315.5px,#02bac4 318.5px,#02bac4 321.5px,#0db3d3 323.5px,#01bac5 326.5px,#0cbdbc 327.5px,#3ac994 329.5px,#41ca8c 330.5px,#23c1af 332.5px,#0abdbd 333.5px,#01b8ca 334.5px,#09b4d1 335.5px,#01b8c9 336.5px,#2bc3a8 338.5px,#02bbc3 341.5px,#0ab4d1 343.5px,#01b8c9 344.5px,#31c5a1 346.5px,#2fc5a2 347.5px,#22c1b0 348.5px,#03bbc3 349.5px,#01b8ca 350.5px,#02bac3 352.5px,#1cc0b3 354.5px,#02bac4 356.5px,#01b9c8 357.5px,#09bcbe 358.5px,#23c1af 359.5px,#29c3aa 360.5px,#07bcc0 362.5px,#03b7cc 363.5px,#0db3d3 364.5px,#01b8ca 366.5px,#20c1b1 368.5px,#1fc1b1 369.5px,#02bbc3 371.5px,#04bbc2 375.5px,#03b7cc 376.5px,#11b1d6 377.5px,#01bac5 379.5px,#11beba 381.5px,#0ebdbb 383.5px,#19bfb5 385.5px,#01b9c6 386.5px,#15afd9 387.5px,#1ea7e1 389.5px,#06b5cf 392.5px,#06b6ce 396.5px,#18aedb 398.5px,#17aeda 399.5px,#03b7cb 400.5px,#24c2ae 402.5px,#11beba 403.5px,#0bb4d2 404.5px,#1fa6e2 405.5px,#23a1e5 406.5px,#15afd9 408.5px,#04b6cd 409.5px,#02bac4 410.5px,#07b5d0 415.5px,#01b9c8 417.5px,#24c1ae 419.5px,#44cb89 426.5px,#09bcbe 431.5px,#03bbc3 432.5px,#17bfb7 434.5px,#01b8ca 436.5px,#06b5cf 437.5px,#01b9c8 438.5px,#0fbeba 440.5px,#02bac4 441.5px,#16afda 443.5px,#0ab4d2 445.5px,#19addc 447.5px,#14b0d8 449.5px,#23a0e5 453.5px,#21a4e3 456.5px,#2c90f0 460.5px,#2e84f8 476.5px)"></div><div style="height:1px;background:linear-gradient(90deg,#327dfc 0.5px,#327dfc 51.5px,#2d8bf3 52.5px,#0fbeba 53.5px,#33c69d 54.5px,#35c799 55.5px,#28c3ab 57.5px,#08bcbf 58.5px,#07b5cf 59.5px,#0ab4d2 60.5px,#01b9c8 61.5px,#2bc3a8 65.5px,#2dc4a5 66.5px,#27c2ac 67.5px,#01b8ca 69.5px,#09b4d1 70.5px,#02b7cb 73.5px,#0db3d3 75.5px,#01b8c9 77.5px,#02bac4 82.5px,#01b8c9 83.5px,#13b1d7 85.5px,#01b8c9 87.5px,#06bcc0 88.5px,#03bbc2 89.5px,#21a2e4 91.5px,#2798ea 92.5px,#1aabdd 95.5px,#1baade 98.5px,#01b9c7 102.5px,#25c2ad 104.5px,#2bc3a8 105.5px,#27c2ac 110.5px,#01b9c6 113.5px,#01b9c6 114.5px,#1dc0b3 116.5px,#22c1b0 117.5px,#08bcbf 119.5px,#01b9c7 121.5px,#2dc4a5 123.5px,#36c799 124.5px,#1dc0b3 127.5px,#1bc0b4 129.5px,#04bbc2 131.5px,#02bac3 132.5px,#24c1ae 134.5px,#27c2ab 135.5px,#14bfb8 137.5px,#01b9c8 141.5px,#0fb2d5 143.5px,#01b9c7 145.5px,#36c899 147.5px,#49cb85 148.5px,#4dcc82 149.5px,#22c1b0 154.5px,#02bac4 156.5px,#09bcbe 158.5px,#27c2ab 160.5px,#3ac994 164.5px,#26c2ac 168.5px,#0cbdbc 170.5px,#09bcbe 171.5px,#0dbdbb 172.5px,#2dc4a5 174.5px,#33c69e 175.5px,#2dc4a5 176.5px,#01b9c7 178.5px,#0fb2d4 180.5px,#01b8c9 182.5px,#0abdbd 188.5px,#29c3a9 190.5px,#2fc5a2 191.5px,#2cc4a7 194.5px,#37c897 197.5px,#14beb8 200.5px,#17bfb7 204.5px,#0abdbe 207.5px,#1ac0b5 211.5px,#2fc5a2 213.5px,#35c79a 215.5px,#2ac3a8 217.5px,#08bcbe 219.5px,#01b8c8 220.5px,#06bcc0 222.5px,#17bfb6 223.5px,#14bfb8 224.5px,#02bac5 225.5px,#0fb2d4 227.5px,#03b7cc 229.5px,#01b8c9 233.5px,#24c1ae 235.5px,#28c3aa 236.5px,#18bfb6 239.5px,#1fc1b1 241.5px,#02bac5 243.5px,#17aeda 245.5px,#18aedb 246.5px,#01b9c7 249.5px,#1aacdd 252.5px,#13b1d7 253.5px,#04bbc1 254.5px,#2cc4a6 255.5px,#39c895 256.5px,#34c79b 257.5px,#05b6cd 259.5px,#15afd9 260.5px,#16afd9 262.5px,#249fe6 265.5px,#17aeda 267.5px,#01b9c6 268.5px,#27c2ac 269.5px,#36c799 270.5px,#35c79b 271.5px,#29c3aa 272.5px,#0cbdbc 273.5px,#03b7cc 274.5px,#0fb2d5 275.5px,#01b8c9 278.5px,#05b6cd 281.5px,#08bcbf 283.5px,#07bcbf 285.5px,#15bfb8 287.5px,#0bbdbd 293.5px,#1dc0b3 295.5px,#1dc0b3 297.5px,#4dcb82 301.5px,#48cb86 302.5px,#30c5a2 304.5px,#29c3aa 307.5px,#17bfb6 309.5px,#32c69f 312.5px,#3ac994 315.5px,#21c1b0 319.5px,#1bc0b4 324.5px,#02bac4 326.5px,#07bcbf 327.5px,#48cb86 329.5px,#5acc77 330.5px,#32c69f 333.5px,#09bcbe 335.5px,#18bfb6 336.5px,#33c69d 337.5px,#3dc991 338.5px,#2ec4a4 339.5px,#12beb9 340.5px,#02bbc3 342.5px,#06bcc0 343.5px,#4dcb82 346.5px,#43ca8a 347.5px,#30c5a1 348.5px,#0fbeba 349.5px,#02bac5 350.5px,#02bac3 351.5px,#33c69e 353.5px,#40ca8d 354.5px,#3bc993 355.5px,#1ec0b2 357.5px,#1ec0b2 359.5px,#02bac4 361.5px,#0bb4d2 364.5px,#02b7cb 365.5px,#0fbebb 366.5px,#44cb8a 368.5px,#4dcc82 369.5px,#2ac3a9 371.5px,#0dbdbb 372.5px,#02bac4 373.5px,#02bbc3 375.5px,#0eb2d4 377.5px,#02bac5 379.5px,#22c1b0 382.5px,#3cc991 384.5px,#3dc991 385.5px,#2cc4a7 386.5px,#0dbdbb 387.5px,#04bbc2 388.5px,#01b8c8 396.5px,#09b4d1 398.5px,#09bcbe 400.5px,#2ac3a9 401.5px,#34c79b 402.5px,#31c6a0 403.5px,#01b9c6 405.5px,#07b5cf 406.5px,#02bac5 408.5px,#1ec0b2 410.5px,#09bcbe 413.5px,#02bac5 416.5px,#04bbc2 417.5px,#26c2ad 419.5px,#2cc4a7 423.5px,#41ca8c 426.5px,#18bfb6 429.5px,#0abdbd 430.5px,#02bac4 432.5px,#16bfb7 434.5px,#09bcbe 435.5px,#06b5cf 436.5px,#0bb3d2 437.5px,#01b9c7 438.5px,#22c1b0 440.5px,#1dc0b3 441.5px,#05bbc1 442.5px,#03b7cc 443.5px,#23a1e4 447.5px,#13b0d8 451.5px,#2d8df2 462.5px,#2e84f8 476.5px)"></div><div style="height:1px;background:linear-gradient(90deg,#317dfc 0.5px,#317dfc 51.5px,#2d8bf4 52.5px,#07bcbf 53.5px,#2ec4a4 54.5px,#33c69d 56.5px,#2cc4a7 57.5px,#0ebdbb 58.5px,#04b6cd 59.5px,#0cb3d3 60.5px,#01b8c9 63.5px,#27c2ac 66.5px,#0cbdbc 69.5px,#25c2ad 72.5px,#1fc0b1 73.5px,#07bcbf 74.5px,#02b7cb 75.5px,#1caadf 83.5px,#16afd9 85.5px,#05b6ce 86.5px,#06bcc0 87.5px,#14beb8 88.5px,#0fbebb 89.5px,#02b7cb 90.5px,#1baade 91.5px,#22a2e4 92.5px,#10b2d5 95.5px,#16aeda 101.5px,#01b9c8 103.5px,#08bcbf 104.5px,#01b9c7 106.5px,#05b6ce 107.5px,#05bbc1 109.5px,#21c1b0 110.5px,#2cc4a7 111.5px,#27c2ab 112.5px,#09bdbe 114.5px,#0ebdbb 116.5px,#29c3a9 119.5px,#26c2ac 122.5px,#35c79a 124.5px,#23c1af 129.5px,#06bcc0 131.5px,#06bcc0 132.5px,#1bc0b4 134.5px,#02bac3 136.5px,#01b9c7 139.5px,#09bcbe 144.5px,#27c2ac 146.5px,#55cc7b 149.5px,#5acc77 150.5px,#26c2ad 153.5px,#09bdbe 154.5px,#01b8c9 155.5px,#08bcbf 157.5px,#24c2ae 159.5px,#24c1ae 161.5px,#35c79b 164.5px,#0bbdbd 170.5px,#10beba 172.5px,#30c5a1 174.5px,#35c799 175.5px,#2fc5a2 176.5px,#03bbc2 178.5px,#02b7cb 179.5px,#01b8c8 184.5px,#03bbc2 185.5px,#24c1af 188.5px,#3dc990 190.5px,#40ca8d 191.5px,#32c69e 194.5px,#32c69e 198.5px,#0fbeba 201.5px,#02bac4 205.5px,#04bbc2 206.5px,#32c69f 208.5px,#37c897 209.5px,#31c5a1 211.5px,#36c799 214.5px,#29c3a9 218.5px,#28c2ab 222.5px,#24c1af 223.5px,#0dbdbb 224.5px,#07b5cf 225.5px,#19acdc 226.5px,#1caadf 227.5px,#04b6cd 229.5px,#02bbc3 230.5px,#01b9c7 232.5px,#02bac4 233.5px,#1cc0b4 235.5px,#1fc0b2 236.5px,#18bfb6 238.5px,#20c1b1 242.5px,#02bac3 244.5px,#06b5cf 245.5px,#01b9c8 247.5px,#10beba 249.5px,#02bbc3 250.5px,#04b6cd 251.5px,#01b8c9 253.5px,#52cc7e 256.5px,#57cc7a 257.5px,#19bfb5 259.5px,#01b8c9 260.5px,#06bcc0 263.5px,#02bac4 266.5px,#0fbebb 267.5px,#4ccb83 270.5px,#2cc4a7 272.5px,#11beba 273.5px,#02bac4 274.5px,#1ec0b2 280.5px,#01b9c6 285.5px,#1bc0b4 287.5px,#1fc1b1 288.5px,#01b8ca 292.5px,#02b7cb 296.5px,#03bbc2 297.5px,#2fc5a3 299.5px,#36c799 301.5px,#2dc4a6 303.5px,#07bcbf 307.5px,#06b5ce 308.5px,#13b0d8 309.5px,#01b8c9 311.5px,#0dbdbc 313.5px,#11beb9 317.5px,#01b8c8 323.5px,#1baade 326.5px,#18addb 327.5px,#02bac4 328.5px,#2dc4a5 329.5px,#3cc991 330.5px,#2fc5a2 332.5px,#01b9c6 334.5px,#04b6cd 335.5px,#03bbc2 336.5px,#28c2ab 337.5px,#32c69f 338.5px,#26c2ac 339.5px,#0abdbd 340.5px,#06bcc0 342.5px,#10beba 343.5px,#27c2ab 344.5px,#4fcc81 346.5px,#48cb86 347.5px,#31c6a0 348.5px,#07bcbf 349.5px,#05b6ce 350.5px,#03b7cc 351.5px,#10beba 352.5px,#30c5a2 353.5px,#3dca90 354.5px,#3eca8f 355.5px,#05bbc1 360.5px,#06b5ce 362.5px,#01bac5 364.5px,#27c2ac 366.5px,#39c895 367.5px,#72cd64 369.5px,#67cd6c 370.5px,#37c897 372.5px,#32c69e 375.5px,#27c2ac 376.5px,#09bcbe 377.5px,#02bac5 378.5px,#06bcc0 379.5px,#2ec5a4 382.5px,#50cc7f 384.5px,#51cc7f 385.5px,#36c898 387.5px,#43ca8b 389.5px,#2bc3a8 391.5px,#14beb8 392.5px,#0bbdbd 393.5px,#10beba 397.5px,#2fc5a3 400.5px,#3cc992 403.5px,#18bfb6 406.5px,#28c2ab 409.5px,#23c1af 410.5px,#03bbc2 412.5px,#13beb8 415.5px,#06bcc0 416.5px,#08b5d0 418.5px,#01b9c8 420.5px,#06bcc0 423.5px,#1fc0b2 425.5px,#1fc0b2 426.5px,#0dbdbb 427.5px,#02bac4 429.5px,#06b5cf 432.5px,#01b9c6 434.5px,#02b7cb 435.5px,#12b1d7 436.5px,#0cb3d3 437.5px,#06bcc0 438.5px,#20c1b1 439.5px,#23c1af 440.5px,#01b8ca 442.5px,#14b0d8 443.5px,#21a4e3 445.5px,#249ee6 448.5px,#11b1d6 451.5px,#2c8ef2 462.5px,#2e85f8 476.5px)"></div><div style="height:1px;background:linear-gradient(90deg,#317dfc 0.5px,#317dfc 51.5px,#2d88f6 52.5px,#11b1d6 53.5px,#08bcbe 54.5px,#23c1af 56.5px,#01b8ca 59.5px,#10b2d5 62.5px,#05b6cd 63.5px,#08bcbf 64.5px,#1fc0b2 65.5px,#28c3ab 66.5px,#25c2ad 68.5px,#34c79b 71.5px,#2fc5a3 72.5px,#02bac4 74.5px,#0db3d4 77.5px,#249ee6 80.5px,#1baade 84.5px,#05b6ce 86.5px,#03bbc2 87.5px,#0ebebb 88.5px,#02bac4 90.5px,#0cb3d3 92.5px,#01b8c9 95.5px,#249fe6 100.5px,#249fe5 101.5px,#08b4d0 104.5px,#1caadf 107.5px,#16aeda 108.5px,#01b8c9 109.5px,#20c1b1 110.5px,#30c5a2 111.5px,#2dc4a6 112.5px,#0abdbd 114.5px,#0abdbe 117.5px,#29c3aa 119.5px,#2fc5a3 121.5px,#1bc0b4 125.5px,#15bfb8 133.5px,#04bbc1 135.5px,#03b7cc 137.5px,#01b8c9 139.5px,#28c3ab 142.5px,#34c79b 146.5px,#31c6a0 148.5px,#3eca8f 150.5px,#35c79a 152.5px,#27c2ac 153.5px,#0cbdbc 154.5px,#02bac4 155.5px,#08bcbf 156.5px,#21c1b0 157.5px,#2bc3a8 158.5px,#25c2ad 161.5px,#3dc990 164.5px,#32c69f 166.5px,#22c1b0 167.5px,#05bbc1 168.5px,#03b7cc 170.5px,#01b9c6 172.5px,#23c1af 174.5px,#28c2ab 175.5px,#05bbc1 177.5px,#03b7cc 179.5px,#02bac3 180.5px,#24c2ae 183.5px,#2ec4a5 186.5px,#2ac3a9 188.5px,#39c895 191.5px,#2cc4a7 198.5px,#05bbc1 200.5px,#01b9c7 201.5px,#01b9c7 206.5px,#35c79a 208.5px,#40ca8d 209.5px,#25c2ae 212.5px,#31c5a1 215.5px,#21c1b0 218.5px,#3fca8e 221.5px,#28c3aa 224.5px,#06bcc0 225.5px,#1aacdd 227.5px,#18addb 229.5px,#01b8c8 232.5px,#0fbeba 234.5px,#02bac3 238.5px,#05bbc1 239.5px,#2cc4a7 242.5px,#2bc3a8 243.5px,#01b9c8 245.5px,#01b9c7 248.5px,#1caadf 250.5px,#1fa6e2 251.5px,#13b1d7 253.5px,#02b7cb 254.5px,#0abdbd 255.5px,#23c1af 256.5px,#29c3a9 257.5px,#1fc1b1 258.5px,#04bbc1 259.5px,#06b5ce 260.5px,#02b7cb 262.5px,#07bcc0 263.5px,#1ac0b5 264.5px,#2bc3a8 268.5px,#4ecc82 270.5px,#44ca8a 271.5px,#26c2ad 273.5px,#22c1b0 274.5px,#2ec5a4 278.5px,#4ccb83 281.5px,#35c79a 284.5px,#36c799 285.5px,#5acc77 288.5px,#5dcc75 289.5px,#4ecc81 290.5px,#1ec0b2 292.5px,#0cbdbc 293.5px,#01b9c7 295.5px,#01b9c8 296.5px,#0ebebb 297.5px,#2bc3a7 298.5px,#35c79a 299.5px,#3ac994 301.5px,#2cc4a7 304.5px,#2bc3a8 306.5px,#19bfb5 307.5px,#06b5cf 308.5px,#1ca9df 309.5px,#1da9e0 310.5px,#01b9c6 312.5px,#05bbc1 313.5px,#0bb4d2 316.5px,#01b9c7 318.5px,#10beba 320.5px,#0fbebb 321.5px,#01b9c6 322.5px,#19addc 324.5px,#21a3e3 327.5px,#12b1d6 328.5px,#12beb9 329.5px,#2dc4a5 330.5px,#29c3aa 331.5px,#09bcbe 332.5px,#1da9e0 334.5px,#1da9e0 335.5px,#08bcbf 337.5px,#1ac0b5 338.5px,#08bcbf 339.5px,#0cb3d3 341.5px,#0fb2d4 342.5px,#01b8ca 344.5px,#0cbdbc 345.5px,#28c3ab 346.5px,#2dc4a6 347.5px,#24c1af 348.5px,#02bac5 349.5px,#0ab4d2 351.5px,#02b7cb 352.5px,#07bcbf 355.5px,#01b8ca 357.5px,#10b2d5 359.5px,#16aeda 363.5px,#01b9c6 366.5px,#2cc4a6 368.5px,#35c79a 369.5px,#35c79b 372.5px,#4bcb84 374.5px,#48cb86 375.5px,#34c79c 376.5px,#13beb8 377.5px,#02b7cb 378.5px,#08b4d0 379.5px,#03bbc2 381.5px,#22c1b0 383.5px,#24c2ae 384.5px,#12beb9 386.5px,#16bfb7 387.5px,#2ec5a4 389.5px,#28c3ab 390.5px,#0dbdbc 391.5px,#02b7cb 392.5px,#01b8c9 396.5px,#05bbc1 397.5px,#2cc4a7 399.5px,#2ec5a4 400.5px,#01b8ca 405.5px,#09b4d1 406.5px,#02b7cb 409.5px,#18addb 412.5px,#03bbc2 414.5px,#17bfb7 415.5px,#05b6ce 417.5px,#18aedb 418.5px,#1aacdd 419.5px,#02bac5 422.5px,#01b8c9 425.5px,#1da8e0 427.5px,#1ea8e1 428.5px,#04b6cd 431.5px,#01bac5 435.5px,#03b7cc 436.5px,#02bac5 437.5px,#16bfb7 438.5px,#1cc0b3 439.5px,#01b8c8 441.5px,#13b0d7 442.5px,#21a3e4 444.5px,#0eb2d4 450.5px,#1ea8e1 453.5px,#2a93ed 460.5px,#2e85f8 476.5px)"></div><div style="height:1px;background:linear-gradient(90deg,#317dfc 0.5px,#317dfc 51.5px,#2d88f6 52.5px,#19addc 53.5px,#03b7cc 54.5px,#0cbdbc 57.5px,#01b9c7 60.5px,#09b4d1 62.5px,#02bac4 63.5px,#20c1b1 64.5px,#2ec4a5 65.5px,#1dc0b3 68.5px,#32c69f 70.5px,#32c69e 71.5px,#07bcbf 74.5px,#01b8c9 77.5px,#249ee6 79.5px,#2a93ee 80.5px,#20a5e2 83.5px,#01b9c6 87.5px,#1dc0b3 93.5px,#01b8c8 97.5px,#249fe5 99.5px,#2a93ee 100.5px,#2994ed 101.5px,#22a2e4 102.5px,#08b5d0 104.5px,#18addb 107.5px,#02bbc3 109.5px,#20c1b1 110.5px,#29c3aa 111.5px,#01b9c7 113.5px,#06b5cf 114.5px,#01b9c7 116.5px,#21c1b0 119.5px,#22c1b0 122.5px,#04bbc2 125.5px,#02bac3 129.5px,#16bfb7 131.5px,#01b9c7 134.5px,#02bac4 139.5px,#1cc0b3 141.5px,#2fc5a3 145.5px,#26c2ac 147.5px,#05bbc1 149.5px,#02bac3 150.5px,#14beb8 153.5px,#02bac5 155.5px,#05bbc1 156.5px,#1fc1b1 158.5px,#26c2ac 161.5px,#3fca8e 164.5px,#30c5a1 166.5px,#01b8ca 168.5px,#10b2d5 169.5px,#16afd9 171.5px,#02bac5 173.5px,#16bfb7 174.5px,#1bc0b4 175.5px,#01b8c8 177.5px,#01b9c8 179.5px,#2ac3a9 181.5px,#45cb89 184.5px,#3eca8f 186.5px,#28c3ab 189.5px,#30c5a1 193.5px,#2ac3a8 194.5px,#09bcbe 196.5px,#0cbdbc 198.5px,#01b9c7 200.5px,#02bac5 206.5px,#30c5a1 208.5px,#34c79b 209.5px,#0dbdbc 212.5px,#2ec4a4 216.5px,#19bfb5 218.5px,#32c69e 221.5px,#31c6a0 224.5px,#26c2ac 225.5px,#06bcc0 226.5px,#0cb3d3 227.5px,#1da9e0 229.5px,#15afd8 231.5px,#02b7cb 232.5px,#1cc0b3 234.5px,#01bac5 237.5px,#01b9c6 240.5px,#23c1af 242.5px,#21c1b1 243.5px,#04bbc2 244.5px,#0eb2d4 245.5px,#1caadf 247.5px,#2d8bf4 250.5px,#0cb3d3 256.5px,#1fa5e2 262.5px,#1ca9e0 263.5px,#01b8c9 265.5px,#05b6ce 268.5px,#02bac4 269.5px,#17bfb6 270.5px,#1ac0b5 271.5px,#01b8c9 273.5px,#02bbc3 275.5px,#2bc3a8 280.5px,#2ec5a3 285.5px,#67cd6c 289.5px,#60cd72 290.5px,#29c3a9 292.5px,#14bfb8 293.5px,#01b7ca 295.5px,#07b5d0 296.5px,#01b9c8 297.5px,#2ec4a4 299.5px,#41ca8c 301.5px,#28c3ab 304.5px,#34c79c 306.5px,#32c69f 307.5px,#01b9c6 309.5px,#01b8c9 310.5px,#0bbdbd 311.5px,#25c2ae 312.5px,#2ac3a9 313.5px,#19bfb5 315.5px,#1fc1b1 316.5px,#58cc79 320.5px,#53cc7e 321.5px,#3eca8f 322.5px,#1ec0b2 325.5px,#05bbc1 326.5px,#01b8c8 327.5px,#0fbebb 328.5px,#50cc80 330.5px,#4ccb83 331.5px,#29c3aa 333.5px,#1dc0b3 334.5px,#37c898 338.5px,#1cc0b3 340.5px,#04bbc1 343.5px,#0abdbe 344.5px,#2dc4a5 346.5px,#38c897 348.5px,#27c2ab 352.5px,#01bac5 355.5px,#01b8c9 362.5px,#0cb3d3 364.5px,#01b8ca 366.5px,#26c2ac 369.5px,#33c79c 371.5px,#5bcc76 373.5px,#62cd71 374.5px,#56cc7b 375.5px,#12beb9 378.5px,#02bac4 379.5px,#01b9c6 380.5px,#09bcbe 382.5px,#02b7cb 386.5px,#0fbebb 389.5px,#02bac5 391.5px,#16aeda 393.5px,#18addb 394.5px,#03bbc2 397.5px,#25c2ad 399.5px,#29c3aa 400.5px,#26c2ac 401.5px,#04bbc2 404.5px,#07b5d0 412.5px,#01bac5 413.5px,#21c1b0 414.5px,#31c6a0 415.5px,#19bfb5 419.5px,#31c6a0 423.5px,#29c3a9 425.5px,#05bbc1 426.5px,#15afd9 427.5px,#1babde 428.5px,#03b7cc 430.5px,#09bdbe 433.5px,#14beb8 434.5px,#0abdbd 436.5px,#1abfb5 438.5px,#01b8c9 440.5px,#19addc 443.5px,#13b0d8 446.5px,#01b9c7 448.5px,#03bbc2 449.5px,#01b9c7 450.5px,#18aedb 452.5px,#2a93ed 460.5px,#2e86f8 476.5px)"></div><div style="height:1px;background:linear-gradient(90deg,#317dfc 0.5px,#317dfc 51.5px,#2d8bf4 52.5px,#06b5cf 53.5px,#06bcc0 54.5px,#29c3a9 57.5px,#2cc4a7 59.5px,#0abdbe 61.5px,#07bcbf 62.5px,#33c69e 64.5px,#3cc991 65.5px,#29c3aa 68.5px,#33c69d 70.5px,#20c1b1 73.5px,#29c3aa 75.5px,#20c1b1 76.5px,#06bcc0 77.5px,#1fa6e2 79.5px,#2699e9 81.5px,#1da9e0 83.5px,#01bac5 85.5px,#1fc0b2 87.5px,#29c3a9 90.5px,#29c3aa 92.5px,#0bbdbd 94.5px,#01b9c6 96.5px,#03b7cc 97.5px,#249fe5 99.5px,#2994ed 100.5px,#20a4e3 102.5px,#03b7cc 104.5px,#13b0d7 107.5px,#02b7cb 109.5px,#02bac4 111.5px,#1aacdd 114.5px,#01b9c7 117.5px,#0cbdbc 119.5px,#03bbc3 121.5px,#1ac0b5 123.5px,#02bbc3 125.5px,#01bac6 129.5px,#12beb9 131.5px,#01b9c6 134.5px,#25c2ad 137.5px,#2cc4a7 140.5px,#29c3a9 141.5px,#10beba 143.5px,#20c1b1 146.5px,#1bc0b4 147.5px,#09bcbe 148.5px,#04b6cc 149.5px,#13b0d7 150.5px,#13b0d7 151.5px,#03b7cc 152.5px,#0abdbe 153.5px,#10beba 154.5px,#08bcbf 156.5px,#1fc0b2 158.5px,#29c3aa 160.5px,#48cb86 164.5px,#32c69f 166.5px,#06bcc0 168.5px,#03b7cb 169.5px,#11b1d6 171.5px,#06b6ce 172.5px,#08bcbf 173.5px,#1ec0b2 174.5px,#18bfb6 177.5px,#3dc990 181.5px,#3eca8f 183.5px,#5bcc77 186.5px,#58cc79 187.5px,#36c898 189.5px,#33c69d 190.5px,#42ca8b 193.5px,#2ac3a9 195.5px,#0fbebb 196.5px,#07bcbf 197.5px,#29c3aa 199.5px,#2dc4a6 200.5px,#16bfb7 203.5px,#1ac0b5 205.5px,#25c2ae 206.5px,#44cb8a 208.5px,#48cb86 209.5px,#25c2ad 213.5px,#24c2ae 214.5px,#36c898 216.5px,#1abfb5 220.5px,#1ec0b2 222.5px,#3bc992 224.5px,#3cc991 225.5px,#2fc5a3 226.5px,#01b8c9 228.5px,#08b4d0 230.5px,#02bac5 232.5px,#23c1af 234.5px,#2bc3a8 236.5px,#2dc4a5 242.5px,#26c2ac 243.5px,#0ebdbb 244.5px,#03b7cc 245.5px,#20a5e2 247.5px,#269be8 249.5px,#1da9e0 252.5px,#01b9c7 254.5px,#15bfb8 256.5px,#01b8c9 258.5px,#12b1d6 260.5px,#16afda 262.5px,#01b9c6 264.5px,#14beb8 265.5px,#11beb9 266.5px,#02b7cb 267.5px,#18aedb 268.5px,#19acdc 269.5px,#01b8ca 272.5px,#07b5d0 274.5px,#01b8ca 275.5px,#0cbdbc 277.5px,#02bbc3 279.5px,#0abdbd 282.5px,#03bbc3 283.5px,#06b5ce 285.5px,#06bcc0 286.5px,#24c2ae 287.5px,#34c79c 289.5px,#32c69f 290.5px,#25c2ad 291.5px,#06bcc0 292.5px,#01b8c9 293.5px,#19acdc 296.5px,#11b1d6 298.5px,#02bac4 299.5px,#20c1b1 300.5px,#2bc3a8 301.5px,#21c1b0 302.5px,#02bac4 303.5px,#07b5d0 304.5px,#05b6ce 305.5px,#03bbc2 306.5px,#0fbebb 307.5px,#02bbc3 309.5px,#03bbc2 310.5px,#24c1ae 313.5px,#26c2ac 315.5px,#3ac993 317.5px,#5ccc76 319.5px,#5fcd73 322.5px,#6ccd68 324.5px,#5ccc76 325.5px,#3ac994 326.5px,#2cc4a7 327.5px,#30c5a1 328.5px,#6dcd68 330.5px,#6ecd67 331.5px,#64cd6e 332.5px,#5bcc77 337.5px,#41ca8c 339.5px,#3eca8f 340.5px,#6acd6a 348.5px,#60cd72 350.5px,#67cd6d 352.5px,#3ac994 354.5px,#24c2ae 356.5px,#29c3aa 358.5px,#4fcc80 361.5px,#4ecc81 362.5px,#2fc5a2 364.5px,#2dc4a5 365.5px,#5ccc75 370.5px,#92ca4c 372.5px,#9ac945 373.5px,#8dcb4f 374.5px,#37c898 378.5px,#31c6a0 379.5px,#39c895 382.5px,#27c2ab 384.5px,#36c898 388.5px,#32c69f 390.5px,#23c1af 392.5px,#07bcc0 393.5px,#01b8c9 394.5px,#01b9c6 395.5px,#24c1ae 397.5px,#4bcb84 402.5px,#4dcc82 405.5px,#33c79d 408.5px,#3ac993 410.5px,#35c79a 412.5px,#4dcc82 415.5px,#43ca8b 417.5px,#50cc80 419.5px,#33c69d 421.5px,#34c79c 422.5px,#57cc7a 425.5px,#17bfb6 428.5px,#04bbc2 432.5px,#1cc0b3 434.5px,#2ac3a9 437.5px,#2ac3a9 438.5px,#01b9c7 440.5px,#12b1d6 442.5px,#01bac6 450.5px,#1aacdd 454.5px,#2a93ed 460.5px,#2e86f7 476.5px)"></div><div style="height:1px;background:linear-gradient(90deg,#317dfc 0.5px,#317dfc 51.5px,#2d8bf4 52.5px,#01b9c7 53.5px,#17bfb6 54.5px,#3dc990 58.5px,#3eca8f 59.5px,#2bc3a8 62.5px,#42ca8b 65.5px,#43ca8a 66.5px,#3cc991 70.5px,#2bc3a8 72.5px,#23c1af 74.5px,#01bac5 76.5px,#16afd9 78.5px,#1da9e0 81.5px,#15afd9 83.5px,#03b7cc 84.5px,#0bbdbc 85.5px,#22c1b0 86.5px,#3bc993 89.5px,#33c69d 91.5px,#26c2ac 92.5px,#08bcbf 93.5px,#08b4d0 94.5px,#15afd9 95.5px,#10b2d5 97.5px,#20a4e3 100.5px,#1ea7e1 101.5px,#01bac5 103.5px,#0ebdbb 104.5px,#01b9c6 106.5px,#05b6cd 107.5px,#02b7cb 111.5px,#10b2d5 113.5px,#02bac3 116.5px,#23c1af 118.5px,#31c6a0 123.5px,#27c2ac 124.5px,#0dbdbb 125.5px,#04bbc2 126.5px,#0ebebb 128.5px,#26c2ad 130.5px,#29c3aa 131.5px,#1cc0b4 133.5px,#23c1af 134.5px,#46cb88 137.5px,#5fcd73 140.5px,#57cc7a 141.5px,#2fc5a2 143.5px,#28c3ab 144.5px,#24c1ae 147.5px,#02bbc3 151.5px,#1dc0b3 154.5px,#2ec4a4 160.5px,#54cc7c 163.5px,#5acc78 164.5px,#0bbdbd 170.5px,#0fbeba 171.5px,#33c79d 173.5px,#3bc993 174.5px,#3dc990 177.5px,#62cd70 180.5px,#3bc993 182.5px,#33c79c 183.5px,#3ac994 184.5px,#74cd62 186.5px,#84cb56 187.5px,#7acc5e 188.5px,#52cc7e 190.5px,#4dcb82 194.5px,#33c69d 197.5px,#4ecc81 199.5px,#53cc7d 200.5px,#34c79b 202.5px,#2ec4a4 203.5px,#31c6a0 205.5px,#37c897 206.5px,#64cd6f 208.5px,#6dcd68 209.5px,#3dc990 212.5px,#2ac3a9 214.5px,#39c895 217.5px,#27c2ac 219.5px,#14bfb8 220.5px,#0fbebb 221.5px,#20c1b1 222.5px,#4ecc81 224.5px,#54cc7c 225.5px,#1ec0b2 228.5px,#04bbc2 231.5px,#02bbc3 233.5px,#11beb9 234.5px,#2dc4a5 235.5px,#49cb85 236.5px,#72cd63 237.5px,#8ecb4e 238.5px,#95ca49 239.5px,#85cb55 240.5px,#41ca8c 242.5px,#20c1b1 245.5px,#05bbc1 246.5px,#0cb3d3 247.5px,#15afd8 248.5px,#02b7cb 250.5px,#0bbdbd 252.5px,#2dc4a6 254.5px,#41ca8d 256.5px,#27c2ac 259.5px,#2ac3a9 262.5px,#38c897 263.5px,#5ecd74 264.5px,#7acc5e 265.5px,#6bcd69 266.5px,#41ca8c 267.5px,#2ac3a8 268.5px,#20c1b1 269.5px,#40ca8d 272.5px,#4fcc80 274.5px,#55cc7c 276.5px,#3cc991 279.5px,#3cc991 280.5px,#52cc7e 282.5px,#26c2ac 285.5px,#44cb89 288.5px,#39c895 290.5px,#1fc0b1 292.5px,#19bfb5 294.5px,#01b9c6 296.5px,#01b8c8 298.5px,#25c2ad 300.5px,#2ac3a9 301.5px,#02bbc3 304.5px,#10beba 307.5px,#07bcbf 311.5px,#1abfb5 317.5px,#4ecc81 324.5px,#23c1af 327.5px,#35c79a 330.5px,#28c3aa 332.5px,#28c3aa 339.5px,#33c69e 341.5px,#54cc7c 344.5px,#54cc7d 346.5px,#3fca8e 349.5px,#41ca8c 350.5px,#58cc79 352.5px,#4fcc80 353.5px,#2cc4a7 355.5px,#18bfb6 357.5px,#1cc0b3 358.5px,#5ecc74 361.5px,#5bcc77 362.5px,#39c895 364.5px,#3ac993 365.5px,#52cc7e 367.5px,#5acc77 370.5px,#70cd65 372.5px,#6ecd67 373.5px,#1fc0b2 378.5px,#16bfb7 379.5px,#31c6a1 381.5px,#32c69e 382.5px,#22c1b0 384.5px,#48cb86 388.5px,#25c2ad 391.5px,#0cbdbc 392.5px,#01b8ca 393.5px,#0ab4d2 394.5px,#02bac4 396.5px,#2cc4a7 398.5px,#31c69f 400.5px,#4acb84 402.5px,#54cc7d 404.5px,#34c79b 407.5px,#3cc992 410.5px,#37c897 412.5px,#46cb88 414.5px,#32c69f 416.5px,#3dc990 419.5px,#28c3aa 421.5px,#27c2ab 422.5px,#2dc4a5 424.5px,#3dc990 426.5px,#26c2ac 429.5px,#04bbc1 431.5px,#01b9c7 432.5px,#03bbc3 433.5px,#24c1ae 435.5px,#34c79b 437.5px,#34c79b 438.5px,#0abdbd 440.5px,#01b9c6 441.5px,#13b0d8 446.5px,#02bac4 449.5px,#05bbc1 450.5px,#02b7cb 452.5px,#18addb 454.5px,#2797ea 459.5px,#2e87f7 476.5px)"></div><div style="height:1px;background:linear-gradient(90deg,#317dfc 0.5px,#317dfc 51.5px,#2d8bf4 52.5px,#07bcc0 53.5px,#2dc4a6 54.5px,#44cb89 58.5px,#39c995 63.5px,#5acc77 70.5px,#52cc7e 71.5px,#2ac3a9 73.5px,#01b9c7 76.5px,#0ab4d2 77.5px,#0fb2d4 78.5px,#01b8c9 81.5px,#02bac5 83.5px,#2ec5a4 87.5px,#44cb89 89.5px,#48cb86 90.5px,#2ec5a4 92.5px,#01b8c9 94.5px,#0db3d3 95.5px,#01b9c8 98.5px,#02b7cb 101.5px,#08bcbf 102.5px,#23c1af 103.5px,#2dc4a5 104.5px,#2cc4a7 105.5px,#0cbdbc 108.5px,#0abdbd 113.5px,#5acc77 119.5px,#70cd65 122.5px,#61cd71 123.5px,#43ca8a 124.5px,#32c69f 125.5px,#2cc4a7 126.5px,#40ca8d 129.5px,#43ca8a 135.5px,#7fcc5a 140.5px,#72cd64 141.5px,#3fca8e 143.5px,#29c3aa 148.5px,#2fc5a3 151.5px,#26c2ad 155.5px,#33c69e 157.5px,#2ac3a9 160.5px,#36c898 162.5px,#50cc80 164.5px,#17bfb6 169.5px,#14beb8 170.5px,#60cd72 174.5px,#59cc78 177.5px,#70cd65 179.5px,#6ecd67 180.5px,#40ca8d 182.5px,#3ac993 183.5px,#41ca8c 184.5px,#7ccc5c 187.5px,#86cb54 188.5px,#82cc58 189.5px,#3bc992 192.5px,#34c79c 193.5px,#44cb89 196.5px,#3cc991 202.5px,#31c6a0 205.5px,#36c898 206.5px,#64cd6f 208.5px,#6bcd69 209.5px,#3cc991 212.5px,#29c3aa 214.5px,#2bc3a8 218.5px,#19bfb5 220.5px,#1ec0b2 221.5px,#4fcc80 224.5px,#4bcb84 225.5px,#32c69f 227.5px,#22c1b0 230.5px,#02bac4 232.5px,#01b9c6 234.5px,#1fc1b1 235.5px,#3eca8f 236.5px,#9bc944 238.5px,#aac73a 239.5px,#99c946 240.5px,#3fca8e 242.5px,#32c69f 243.5px,#26c2ad 245.5px,#09bdbe 246.5px,#14b0d8 248.5px,#01b9c6 251.5px,#2cc4a6 256.5px,#1fc0b1 259.5px,#27c2ac 262.5px,#36c898 263.5px,#5dcc75 264.5px,#76cc61 265.5px,#6bcd69 266.5px,#3eca8f 268.5px,#3fca8e 269.5px,#8bcb51 274.5px,#99c946 276.5px,#82cc58 279.5px,#8acb52 280.5px,#b0c636 282.5px,#a4c83e 283.5px,#86cb54 284.5px,#75cc61 285.5px,#87cb54 287.5px,#82cc58 288.5px,#44cb8a 292.5px,#44cb89 295.5px,#35c79a 297.5px,#36c898 298.5px,#42ca8b 302.5px,#61cd71 306.5px,#3eca8f 312.5px,#39c994 318.5px,#70cd65 322.5px,#6dcd68 323.5px,#40ca8d 326.5px,#3ac993 329.5px,#31c69f 330.5px,#0dbdbc 332.5px,#0bbdbd 336.5px,#27c2ac 338.5px,#48cb86 347.5px,#3bc992 349.5px,#38c897 352.5px,#1fc0b2 355.5px,#14bfb8 357.5px,#18bfb6 358.5px,#35c799 360.5px,#3ac994 361.5px,#2cc4a7 364.5px,#3fca8e 367.5px,#34c79c 371.5px,#33c79d 375.5px,#2fc5a3 376.5px,#03bbc2 379.5px,#0cbdbc 381.5px,#0bbdbd 385.5px,#2ec4a4 387.5px,#37c897 388.5px,#36c899 389.5px,#2dc4a6 390.5px,#08bcbf 392.5px,#01b9c7 393.5px,#03bbc2 396.5px,#18bfb6 398.5px,#19bfb5 400.5px,#37c897 403.5px,#27c2ac 406.5px,#37c897 409.5px,#2fc5a3 412.5px,#3bc993 414.5px,#2ec5a3 417.5px,#38c896 419.5px,#35c79a 422.5px,#23c1af 424.5px,#35c79a 426.5px,#35c79a 427.5px,#19bfb5 432.5px,#30c5a2 434.5px,#42ca8b 437.5px,#41ca8c 438.5px,#30c5a1 440.5px,#23c1af 444.5px,#0dbdbc 447.5px,#20c1b1 450.5px,#03b7cb 453.5px,#249fe6 458.5px,#2b90f0 463.5px,#2e87f7 476.5px)"></div><div style="height:1px;background:linear-gradient(90deg,#317dfb 0.5px,#317dfb 51.5px,#2c8ef1 52.5px,#30c5a2 53.5px,#62cd71 54.5px,#6ccd68 58.5px,#52cc7e 61.5px,#6dcd68 68.5px,#86cb54 70.5px,#88cb54 71.5px,#54cc7c 73.5px,#47cb87 74.5px,#43ca8b 76.5px,#31c6a0 78.5px,#34c79c 86.5px,#51cc7f 90.5px,#4bcb83 91.5px,#25c2ae 94.5px,#1dc0b3 95.5px,#23c1af 98.5px,#0fbeba 101.5px,#2dc4a6 104.5px,#2ec4a5 105.5px,#1ac0b4 113.5px,#3dca90 116.5px,#7acc5e 119.5px,#90ca4d 121.5px,#88cb53 122.5px,#4ecc81 125.5px,#47cb87 126.5px,#6bcd69 129.5px,#5ccc75 131.5px,#5bcc77 133.5px,#45cb89 135.5px,#44cb8a 136.5px,#79cc5e 139.5px,#79cc5e 140.5px,#44cb89 143.5px,#42ca8b 145.5px,#31c6a0 148.5px,#3fca8e 151.5px,#2dc4a5 156.5px,#40ca8d 164.5px,#1fc0b2 169.5px,#20c1b1 170.5px,#41ca8c 172.5px,#73cd63 174.5px,#74cc62 175.5px,#5ecc74 177.5px,#70cd65 180.5px,#65cd6e 182.5px,#6bcd69 186.5px,#87cb54 189.5px,#7ecc5a 190.5px,#40ca8d 192.5px,#34c79c 193.5px,#36c898 194.5px,#5ccc75 196.5px,#5ccc76 197.5px,#3eca8f 199.5px,#3ac994 200.5px,#48cb86 203.5px,#36c898 205.5px,#3eca90 206.5px,#72cd63 208.5px,#79cc5e 209.5px,#3bc992 215.5px,#2ac3a9 218.5px,#2bc3a8 220.5px,#48cb86 223.5px,#4acb84 224.5px,#3dc991 230.5px,#1ec0b2 234.5px,#3cc992 236.5px,#7ecc5a 238.5px,#90ca4d 239.5px,#88cb53 240.5px,#50cc80 242.5px,#37c898 245.5px,#23c1af 246.5px,#01b9c6 247.5px,#0ab4d2 248.5px,#09b4d1 250.5px,#02bac5 252.5px,#1fc1b1 255.5px,#03bbc2 259.5px,#0fbebb 263.5px,#27c2ac 265.5px,#0cbdbc 268.5px,#2cc4a7 271.5px,#4acb85 276.5px,#48cb86 279.5px,#7acc5e 282.5px,#78cc5f 283.5px,#60cd72 285.5px,#5bcc76 287.5px,#37c897 291.5px,#37c897 292.5px,#4acb85 294.5px,#3eca8f 297.5px,#52cc7e 299.5px,#3fca8e 302.5px,#45cb88 303.5px,#64cd6f 305.5px,#7ccc5c 308.5px,#7fcc5a 309.5px,#67cd6c 312.5px,#87cb54 316.5px,#81cc59 319.5px,#b7c532 322.5px,#b7c532 323.5px,#84cb56 329.5px,#55cc7c 331.5px,#4acb85 332.5px,#42ca8b 336.5px,#71cd64 339.5px,#7acc5d 341.5px,#92ca4b 343.5px,#98c946 345.5px,#bac430 347.5px,#bdc42f 348.5px,#9ec942 350.5px,#51cc7f 353.5px,#44cb89 354.5px,#4fcc80 357.5px,#7fcc5a 360.5px,#57cc7a 363.5px,#56cc7b 364.5px,#7ccc5c 368.5px,#5fcd73 372.5px,#82cc58 375.5px,#7dcc5b 376.5px,#4ecc81 379.5px,#36c898 382.5px,#47cb87 386.5px,#70cd65 388.5px,#78cc5f 389.5px,#6dcd67 393.5px,#4acb84 399.5px,#7ccc5c 403.5px,#5dcc75 406.5px,#7ccc5c 408.5px,#80cc59 409.5px,#5fcd73 411.5px,#60cd72 412.5px,#7bcc5d 414.5px,#77cc60 415.5px,#55cc7c 417.5px,#52cc7e 418.5px,#6acd6a 422.5px,#3dc990 424.5px,#45cb89 426.5px,#2dc4a6 430.5px,#33c69e 432.5px,#4fcc80 434.5px,#55cc7b 435.5px,#4acb85 439.5px,#57cc7a 441.5px,#37c897 445.5px,#26c2ac 450.5px,#01b8c9 453.5px,#1ea7e1 457.5px,#2a93ee 462.5px,#2d87f6 476.5px)"></div><div style="height:1px;background:linear-gradient(90deg,#317efb 0.5px,#317efb 51.5px,#2b92ee 52.5px,#4acb84 53.5px,#9bc944 54.5px,#a4c83e 55.5px,#97ca47 58.5px,#70cd65 60.5px,#73cd63 61.5px,#98c947 63.5px,#9ac945 64.5px,#81cc58 67.5px,#91ca4c 71.5px,#76cc60 73.5px,#76cc60 74.5px,#8ccb50 76.5px,#65cd6e 79.5px,#54cc7d 82.5px,#36c899 84.5px,#33c69e 85.5px,#4dcc82 91.5px,#32c69f 94.5px,#36c898 97.5px,#17bfb6 101.5px,#2cc4a7 108.5px,#10beba 113.5px,#41ca8c 117.5px,#77cc60 120.5px,#7bcc5d 121.5px,#5fcd73 124.5px,#5bcc76 126.5px,#88cb53 129.5px,#48cb86 135.5px,#47cb87 136.5px,#59cc78 137.5px,#99c946 139.5px,#9bc944 140.5px,#65cd6e 143.5px,#45cb89 147.5px,#44cb8a 148.5px,#64cd6f 151.5px,#3ac993 156.5px,#3fca8e 157.5px,#6dcd67 160.5px,#6fcd66 161.5px,#4dcb82 166.5px,#44cb89 170.5px,#5ecd74 172.5px,#89cb52 174.5px,#90ca4d 175.5px,#85cb55 177.5px,#a2c83f 182.5px,#9cc944 184.5px,#75cc61 187.5px,#86cb55 190.5px,#59cc78 192.5px,#4ecc81 193.5px,#58cc79 194.5px,#8bcb51 196.5px,#90ca4d 197.5px,#69cd6b 200.5px,#6fcd66 203.5px,#5fcd73 205.5px,#6acd6a 206.5px,#94ca4a 208.5px,#7fcc5a 211.5px,#82cc57 214.5px,#73cd63 215.5px,#40ca8d 217.5px,#37c897 219.5px,#51cc7f 222.5px,#58cc79 225.5px,#79cc5e 229.5px,#7acc5d 230.5px,#64cd6f 233.5px,#69cd6b 234.5px,#95ca49 236.5px,#abc739 238.5px,#97ca48 242.5px,#9cc943 244.5px,#8fcb4e 245.5px,#49cb85 247.5px,#37c897 249.5px,#3cc991 252.5px,#64cd6f 254.5px,#6dcd68 255.5px,#3bc992 258.5px,#47cb87 262.5px,#35c79a 264.5px,#33c69d 266.5px,#20c1b1 269.5px,#34c79b 273.5px,#30c5a2 278.5px,#3bc993 280.5px,#5bcc77 283.5px,#3bc993 287.5px,#2bc3a7 291.5px,#41ca8c 294.5px,#36c799 296.5px,#39c995 297.5px,#59cc78 299.5px,#17bfb7 303.5px,#24c1ae 305.5px,#4acb84 308.5px,#51cc7f 309.5px,#3fca8e 312.5px,#5fcd74 316.5px,#4ecc81 318.5px,#51cc7f 319.5px,#7acc5d 322.5px,#70cd65 326.5px,#4acb85 332.5px,#4ecc81 337.5px,#7bcc5d 339.5px,#c0c32d 343.5px,#cfc028 346.5px,#d8be28 348.5px,#ccc028 349.5px,#b6c532 350.5px,#5bcc77 353.5px,#52cc7e 354.5px,#64cd6f 356.5px,#79cc5e 357.5px,#b6c532 359.5px,#bec32e 360.5px,#93ca4b 363.5px,#b3c534 368.5px,#b3c534 369.5px,#9ac945 371.5px,#98c947 372.5px,#b1c636 374.5px,#b5c533 376.5px,#67cd6c 382.5px,#69cd6b 383.5px,#a9c73a 390.5px,#c6c22a 392.5px,#c9c129 393.5px,#96ca49 398.5px,#a8c73b 402.5px,#8ccb50 406.5px,#9bc944 408.5px,#94ca4a 409.5px,#6dcd68 411.5px,#93ca4b 414.5px,#8bcb51 415.5px,#59cc78 417.5px,#4dcc82 418.5px,#50cc7f 420.5px,#6acd6a 422.5px,#4acb84 424.5px,#24c1ae 430.5px,#2ec4a4 432.5px,#44cb8a 434.5px,#3bc993 439.5px,#4dcb82 441.5px,#29c3aa 445.5px,#1fc0b2 448.5px,#01b9c6 452.5px,#1aabdd 456.5px,#2a93ed 462.5px,#2d88f6 476.5px)"></div><div style="height:1px;background:linear-gradient(90deg,#317efb 0.5px,#317efb 51.5px,#2a92ee 52.5px,#4ccb83 53.5px,#9bc944 54.5px,#a5c83d 55.5px,#7ccc5c 60.5px,#87cb54 61.5px,#b0c636 63.5px,#b7c532 64.5px,#aec637 65.5px,#89cb52 67.5px,#85cb56 68.5px,#94ca4a 70.5px,#82cc57 73.5px,#a0c941 76.5px,#86cb55 80.5px,#39c895 84.5px,#34c79c 85.5px,#57cc7a 91.5px,#3bc993 94.5px,#3cc991 96.5px,#2ac3a9 99.5px,#27c2ab 101.5px,#33c69e 107.5px,#2cc4a7 109.5px,#2dc4a5 113.5px,#49cb86 116.5px,#8ecb4f 120.5px,#95ca4a 121.5px,#87cb54 126.5px,#aec637 129.5px,#abc739 130.5px,#85cb56 133.5px,#78cc5f 136.5px,#81cc58 137.5px,#b9c430 139.5px,#c0c32d 140.5px,#a5c83d 142.5px,#6ecd67 145.5px,#66cd6d 146.5px,#6ccd68 148.5px,#90ca4d 150.5px,#94ca4a 151.5px,#5fcd73 154.5px,#58cc79 155.5px,#5dcc75 156.5px,#96ca48 160.5px,#74cd62 171.5px,#76cc60 172.5px,#b6c533 178.5px,#b9c431 179.5px,#b0c636 183.5px,#a6c83d 184.5px,#6ccd68 187.5px,#6dcd67 188.5px,#81cc58 190.5px,#70cd65 192.5px,#73cd62 193.5px,#8ecb4f 195.5px,#99c946 197.5px,#91ca4c 199.5px,#79cc5e 201.5px,#81cc58 205.5px,#9ac945 208.5px,#7dcc5b 211.5px,#89cb52 214.5px,#4fcc80 217.5px,#49cb85 218.5px,#85cb55 230.5px,#7bcc5d 233.5px,#c1c32c 236.5px,#c3c22b 237.5px,#aac73a 240.5px,#bbc42f 245.5px,#98c947 248.5px,#95ca4a 250.5px,#9dc943 252.5px,#c6c22a 255.5px,#9cc943 259.5px,#c0c32d 262.5px,#aac73a 264.5px,#a4c83e 266.5px,#76cc61 269.5px,#96ca49 272.5px,#63cd6f 277.5px,#69cd6a 278.5px,#94ca4a 281.5px,#a1c840 283.5px,#9cc944 286.5px,#6bcd69 291.5px,#71cd64 292.5px,#92ca4c 294.5px,#86cb55 297.5px,#9dc943 299.5px,#88cb53 300.5px,#37c897 302.5px,#2ec4a5 303.5px,#35c79a 305.5px,#69cd6b 308.5px,#54cc7c 311.5px,#71cd64 315.5px,#44ca8a 318.5px,#57cc7a 321.5px,#4acb84 323.5px,#3fca8e 328.5px,#2cc4a7 332.5px,#31c6a0 337.5px,#7dcc5b 343.5px,#97ca47 346.5px,#8ecb4f 348.5px,#3cc992 352.5px,#31c6a0 354.5px,#35c79a 356.5px,#41ca8d 357.5px,#77cc60 359.5px,#80cc59 360.5px,#5acc77 363.5px,#6ecd67 368.5px,#5dcc75 371.5px,#68cd6c 376.5px,#47cb87 382.5px,#49cb86 386.5px,#80cc59 393.5px,#61cd71 397.5px,#63cd6f 401.5px,#50cc7f 405.5px,#65cd6e 408.5px,#4ccb83 411.5px,#67cd6c 414.5px,#65cd6e 415.5px,#40ca8d 417.5px,#39c995 418.5px,#4dcc82 425.5px,#4acb85 426.5px,#32c69f 428.5px,#2fc5a3 430.5px,#4acb84 435.5px,#33c69d 439.5px,#29c3a9 448.5px,#11beb9 450.5px,#01bac5 453.5px,#249fe5 459.5px,#2a92ee 463.5px,#2d88f6 476.5px)"></div><div style="height:1px;background:linear-gradient(90deg,#317efb 0.5px,#317efb 51.5px,#2994ed 52.5px,#62cd71 53.5px,#b5c533 54.5px,#bec32e 55.5px,#9ac945 59.5px,#c5c22a 64.5px,#c6c22a 65.5px,#aec637 67.5px,#adc638 68.5px,#bec32e 70.5px,#b1c635 72.5px,#b1c636 77.5px,#c2c22c 80.5px,#a2c840 82.5px,#65cd6e 84.5px,#52cc7e 85.5px,#55cc7c 87.5px,#70cd65 91.5px,#3bc992 99.5px,#4acb84 103.5px,#3dc991 110.5px,#4ccb83 113.5px,#75cc61 116.5px,#b0c636 119.5px,#c4c22b 122.5px,#bbc42f 124.5px,#a5c83d 126.5px,#b8c431 130.5px,#93ca4b 137.5px,#b4c533 140.5px,#b1c635 141.5px,#83cc57 145.5px,#8ccb50 148.5px,#a3c83f 151.5px,#7acc5e 154.5px,#75cc61 155.5px,#98c947 158.5px,#9cc944 160.5px,#92ca4b 163.5px,#97ca48 166.5px,#79cc5e 170.5px,#74cd62 172.5px,#8bcb51 176.5px,#b5c533 178.5px,#bec32e 179.5px,#80cc59 187.5px,#81cc58 191.5px,#94ca4a 194.5px,#71cd64 201.5px,#8bcb51 204.5px,#95ca49 208.5px,#85cb55 211.5px,#88cb53 213.5px,#5acc77 217.5px,#5acc77 218.5px,#83cc57 225.5px,#76cc61 228.5px,#7bcc5d 230.5px,#6bcd69 233.5px,#a4c83e 236.5px,#a0c941 237.5px,#79cc5e 240.5px,#8ecb4e 244.5px,#7ccc5c 249.5px,#a4c83e 255.5px,#8acb51 258.5px,#8ecb4e 259.5px,#b3c534 262.5px,#aec637 266.5px,#93ca4b 269.5px,#b4c533 272.5px,#95ca49 277.5px,#c4c22b 282.5px,#cec028 287.5px,#b1c635 291.5px,#ddbd29 295.5px,#e5bb2c 299.5px,#d7be28 300.5px,#9ec942 302.5px,#97ca48 303.5px,#ccc028 307.5px,#adc638 310.5px,#d5be28 314.5px,#d2bf27 316.5px,#b1c636 318.5px,#adc638 319.5px,#b3c534 321.5px,#a5c83d 323.5px,#a5c83d 328.5px,#70cd65 331.5px,#58cc79 333.5px,#57cc7a 334.5px,#66cd6d 337.5px,#83cc57 338.5px,#8fcb4e 339.5px,#83cc57 341.5px,#89cb52 342.5px,#bdc32e 346.5px,#b0c636 348.5px,#62cd70 352.5px,#57cc7a 355.5px,#5fcd73 357.5px,#87cb54 360.5px,#6ccd68 363.5px,#7bcc5d 368.5px,#69cd6b 371.5px,#6ccd68 376.5px,#5bcc77 379.5px,#61cd71 383.5px,#54cc7d 386.5px,#7ccc5c 394.5px,#5ccc76 404.5px,#62cd71 405.5px,#91ca4c 408.5px,#88cb53 411.5px,#a0c841 415.5px,#97ca48 416.5px,#71cd64 418.5px,#60cd72 420.5px,#81cc59 424.5px,#93ca4b 425.5px,#91ca4d 426.5px,#57cc7a 428.5px,#4ecc81 429.5px,#51cc7f 430.5px,#8acb52 434.5px,#88cb53 435.5px,#79cc5e 437.5px,#41ca8c 440.5px,#3eca8f 442.5px,#59cc78 446.5px,#56cc7b 447.5px,#32c69e 450.5px,#1fc0b2 453.5px,#01b8c9 455.5px,#19addc 457.5px,#22a2e4 459.5px,#2a93ee 463.5px,#2d89f6 476.5px)"></div><div style="height:1px;background:linear-gradient(90deg,#317efb 0.5px,#317efb 51.5px,#2798ea 52.5px,#95ca49 53.5px,#e0bc2a 54.5px,#e4bb2c 55.5px,#c8c129 59.5px,#d2bf27 61.5px,#e5bb2c 64.5px,#d8be28 67.5px,#e1bc2b 70.5px,#c5c22a 76.5px,#e9bb30 80.5px,#e4bb2c 81.5px,#cec028 82.5px,#acc738 83.5px,#82cc58 84.5px,#68cd6c 85.5px,#6fcd66 90.5px,#68cd6c 96.5px,#50cc80 99.5px,#5ecd74 103.5px,#4fcc80 106.5px,#4bcb84 110.5px,#5acc77 114.5px,#a9c73a 118.5px,#cbc129 122.5px,#cbc129 123.5px,#9fc941 126.5px,#9ac945 127.5px,#b2c635 132.5px,#9dc943 136.5px,#acc738 140.5px,#9cc944 145.5px,#9ac945 149.5px,#a9c73a 152.5px,#9ec942 155.5px,#bbc430 158.5px,#bcc42f 159.5px,#acc738 167.5px,#8fcb4e 171.5px,#92ca4c 176.5px,#c3c22b 178.5px,#d2bf27 179.5px,#d1bf27 180.5px,#b2c635 183.5px,#b7c531 187.5px,#a2c83f 189.5px,#a2c83f 190.5px,#bdc32e 193.5px,#93ca4b 198.5px,#8dcb4f 200.5px,#c5c22a 209.5px,#afc636 214.5px,#94ca4a 217.5px,#89cb52 220.5px,#97ca47 222.5px,#bdc32e 225.5px,#bec32e 226.5px,#a5c83d 230.5px,#88cb53 233.5px,#a5c83e 236.5px,#a2c840 237.5px,#80cc59 240.5px,#80cc59 241.5px,#9bc945 244.5px,#83cc57 247.5px,#7fcc5a 249.5px,#a9c73a 253.5px,#a6c73c 254.5px,#65cd6e 257.5px,#62cd70 258.5px,#81cc58 261.5px,#92ca4c 265.5px,#7dcc5b 268.5px,#7ccc5c 275.5px,#84cb56 279.5px,#99c946 282.5px,#92ca4b 284.5px,#aac73a 287.5px,#84cb56 290.5px,#84cc56 291.5px,#bfc32d 295.5px,#d5be28 298.5px,#d3bf27 299.5px,#a8c73b 302.5px,#d4bf27 306.5px,#d5be28 307.5px,#b8c431 310.5px,#d4bf27 313.5px,#e1bc2b 315.5px,#d1bf27 319.5px,#e2bc2b 326.5px,#c8c129 330.5px,#a2c83f 334.5px,#aec637 336.5px,#c6c22a 337.5px,#e0bc2b 338.5px,#e3bc2c 339.5px,#cac129 341.5px,#debc2a 343.5px,#fbbc3d 345.5px,#fec13a 346.5px,#f8ba3d 349.5px,#debc2a 351.5px,#ccc028 353.5px,#cec028 356.5px,#e7bb2e 361.5px,#d3bf27 364.5px,#e6bb2d 368.5px,#d5be28 371.5px,#d8be28 382.5px,#c8c129 386.5px,#e1bc2b 397.5px,#e0bc2b 398.5px,#bcc42f 402.5px,#c2c32c 404.5px,#dcbd29 406.5px,#ebba32 407.5px,#efba35 408.5px,#debd29 411.5px,#f1ba37 415.5px,#d8be28 417.5px,#c1c32c 418.5px,#95ca49 420.5px,#98c947 421.5px,#b9c430 423.5px,#d1bf27 425.5px,#cac129 426.5px,#82cc58 428.5px,#71cd64 429.5px,#74cc62 430.5px,#b4c534 434.5px,#94ca4a 438.5px,#65cd6e 440.5px,#4fcc80 442.5px,#4dcc82 443.5px,#6acd6a 446.5px,#68cd6b 447.5px,#3bc992 450.5px,#25c2ad 453.5px,#01bac5 455.5px,#16afda 457.5px,#249fe6 460.5px,#2a93ed 463.5px,#2d89f5 476.5px)"></div><div style="height:1px;background:linear-gradient(90deg,#317efb 0.5px,#317efb 51.5px,#2699e9 52.5px,#9cc944 53.5px,#e2bc2b 54.5px,#e9bb2f 57.5px,#d3bf27 60.5px,#edba33 64.5px,#d1bf27 71.5px,#b8c431 75.5px,#c0c32d 77.5px,#dcbd29 80.5px,#d6be28 81.5px,#b9c431 82.5px,#61cd71 84.5px,#53cc7e 85.5px,#64cd6f 88.5px,#49cb85 92.5px,#67cd6d 96.5px,#52cc7e 99.5px,#5bcc76 102.5px,#49cb85 106.5px,#4fcc81 109.5px,#44cb8a 112.5px,#50cc80 114.5px,#a9c73a 118.5px,#cec028 123.5px,#a4c83e 127.5px,#9ac945 129.5px,#b9c431 132.5px,#bac430 135.5px,#c9c129 137.5px,#c4c22b 141.5px,#ccc028 144.5px,#adc638 149.5px,#c4c22a 153.5px,#dfbc2a 158.5px,#e2bc2b 163.5px,#cac129 166.5px,#d1bf27 172.5px,#b1c635 175.5px,#afc636 176.5px,#d8be28 178.5px,#e7bb2d 179.5px,#dcbd29 183.5px,#edba34 186.5px,#e9bb2f 187.5px,#cac129 189.5px,#c6c22a 190.5px,#dabd28 192.5px,#dabd28 193.5px,#b0c636 200.5px,#bac430 204.5px,#d0bf27 206.5px,#e7bb2e 208.5px,#e9bb2f 209.5px,#d9be28 212.5px,#d9bd28 215.5px,#afc637 220.5px,#afc637 221.5px,#ccc028 223.5px,#dcbd29 224.5px,#e6bb2d 226.5px,#ddbd29 230.5px,#b7c532 234.5px,#c8c129 237.5px,#bcc42f 241.5px,#d8be28 244.5px,#d4bf28 247.5px,#ebba31 253.5px,#e4bb2c 254.5px,#cfc028 255.5px,#a1c840 257.5px,#c0c32d 261.5px,#c8c129 265.5px,#c2c22c 269.5px,#9cc943 273.5px,#aac73a 276.5px,#a1c840 280.5px,#abc739 282.5px,#a2c83f 284.5px,#b2c534 287.5px,#81cc58 290.5px,#80cc59 291.5px,#8acb52 293.5px,#adc738 296.5px,#aec637 297.5px,#7fcc5a 301.5px,#83cc57 302.5px,#b5c533 306.5px,#b4c533 307.5px,#90ca4d 310.5px,#99c946 315.5px,#a6c83d 317.5px,#98c947 320.5px,#a5c83d 325.5px,#83cc57 328.5px,#87cb54 332.5px,#71cd64 334.5px,#87cb54 336.5px,#bfc32d 338.5px,#bec32e 339.5px,#a3c83e 341.5px,#acc738 342.5px,#d2bf27 344.5px,#f0ba36 346.5px,#f5ba3a 347.5px,#dbbd28 350.5px,#c0c32d 353.5px,#d8be28 361.5px,#c7c129 365.5px,#debc2a 368.5px,#d7be28 377.5px,#edba33 381.5px,#c9c129 387.5px,#d6be28 390.5px,#dfbc2a 398.5px,#b7c532 401.5px,#b0c636 403.5px,#dbbd28 407.5px,#d8be28 408.5px,#bac430 410.5px,#b5c533 411.5px,#ddbd29 415.5px,#d9be28 416.5px,#c5c22a 417.5px,#6ecd67 420.5px,#79cc5e 421.5px,#b5c533 423.5px,#c8c129 425.5px,#bdc32e 426.5px,#71cd64 428.5px,#5fcd73 429.5px,#5ecd74 430.5px,#75cc62 432.5px,#99c946 434.5px,#95ca49 438.5px,#6fcd66 440.5px,#47cb87 443.5px,#61cd72 447.5px,#5dcc75 448.5px,#2fc5a3 451.5px,#01b8c9 455.5px,#16afd9 457.5px,#269be8 461.5px,#2d89f5 476.5px)"></div><div style="height:1px;background:linear-gradient(90deg,#317efb 0.5px,#317efb 51.5px,#2798ea 52.5px,#8fcb4e 53.5px,#d8be28 54.5px,#e3bc2c 57.5px,#d8be28 60.5px,#e9bb2f 64.5px,#cfc028 67.5px,#cec028 69.5px,#b0c636 75.5px,#b4c533 77.5px,#d3bf27 80.5px,#cec028 81.5px,#acc738 82.5px,#57cc7a 84.5px,#51cc7f 85.5px,#70cd65 87.5px,#74cd62 88.5px,#4ccb83 91.5px,#49cb86 92.5px,#62cd71 95.5px,#63cd70 98.5px,#76cc60 101.5px,#57cc7a 105.5px,#54cc7c 113.5px,#61cd71 114.5px,#b8c431 117.5px,#cac129 118.5px,#e2bc2b 124.5px,#ccc028 127.5px,#b7c532 130.5px,#e0bc2a 136.5px,#d0bf27 141.5px,#e5bb2c 144.5px,#c3c22b 149.5px,#c9c129 152.5px,#dcbd29 155.5px,#e0bc2a 159.5px,#dabd28 163.5px,#bcc42f 166.5px,#cec028 168.5px,#e5bb2d 170.5px,#e7bb2e 171.5px,#d2bf27 173.5px,#b5c533 175.5px,#b6c532 176.5px,#dcbd29 179.5px,#dcbd29 182.5px,#efba35 186.5px,#d9be28 188.5px,#bec32e 190.5px,#d5be28 196.5px,#a7c73c 201.5px,#b0c636 204.5px,#d3bf27 208.5px,#c3c22b 212.5px,#d6be28 215.5px,#c4c22b 218.5px,#a6c73c 221.5px,#abc739 222.5px,#cec028 224.5px,#d5be28 225.5px,#d4bf28 229.5px,#b4c534 235.5px,#d2bf27 243.5px,#f0ba36 250.5px,#ecba32 253.5px,#d4bf28 257.5px,#eeba34 260.5px,#f6ba3b 264.5px,#f6ba3b 268.5px,#dabd28 274.5px,#e4bb2c 277.5px,#debc2a 280.5px,#ebba32 282.5px,#e7bb2e 288.5px,#d8be28 291.5px,#e6bb2d 296.5px,#cdc028 298.5px,#aec637 300.5px,#aec637 301.5px,#d4bf27 304.5px,#eaba31 306.5px,#e8bb2f 307.5px,#c8c129 309.5px,#bac430 310.5px,#b1c635 315.5px,#c8c129 317.5px,#c9c129 318.5px,#86cb54 323.5px,#8bcb51 325.5px,#6ccd68 328.5px,#81cc58 331.5px,#7fcc5a 332.5px,#62cd70 334.5px,#6ccd68 336.5px,#94ca4a 338.5px,#89cb52 340.5px,#8dcb4f 341.5px,#c6c22a 347.5px,#8ecb4f 353.5px,#91ca4d 356.5px,#80cc59 359.5px,#95ca49 362.5px,#86cb54 365.5px,#9bc944 369.5px,#8ecb4f 377.5px,#c1c32c 381.5px,#aec637 384.5px,#83cc57 387.5px,#9fc941 390.5px,#92ca4c 393.5px,#a9c73a 398.5px,#a3c83e 399.5px,#6fcd66 402.5px,#69cd6a 403.5px,#97ca47 407.5px,#93ca4b 408.5px,#77cc60 410.5px,#76cc61 412.5px,#b2c535 415.5px,#b1c635 416.5px,#9bc944 417.5px,#58cc79 419.5px,#48cb86 420.5px,#5acc77 421.5px,#87cb54 422.5px,#a5c83d 423.5px,#aec637 424.5px,#b3c534 425.5px,#a6c83c 426.5px,#61cd71 428.5px,#50cc7f 430.5px,#5ccc76 432.5px,#6ecd66 433.5px,#8fcb4e 434.5px,#9ec942 435.5px,#abc739 438.5px,#64cd6f 442.5px,#5acc78 443.5px,#74cc62 447.5px,#71cd64 448.5px,#37c897 451.5px,#01b9c8 455.5px,#23a1e4 460.5px,#2a93ed 464.5px,#2d8af5 476.5px)"></div><div style="height:1px;background:linear-gradient(90deg,#317efb 0.5px,#317efb 51.5px,#2698ea 52.5px,#9ac945 53.5px,#e4bb2c 54.5px,#edba34 64.5px,#d3bf27 70.5px,#c7c129 74.5px,#e5bb2d 80.5px,#e0bc2b 81.5px,#c3c22b 82.5px,#6ecd67 84.5px,#64cd6f 85.5px,#82cc58 87.5px,#87cb54 88.5px,#64cd6f 92.5px,#61cd71 97.5px,#8ccb50 101.5px,#77cc60 104.5px,#71cd64 107.5px,#5fcd73 109.5px,#77cc5f 114.5px,#cbc129 117.5px,#ddbd29 118.5px,#e2bc2b 123.5px,#cfc028 129.5px,#dcbd29 136.5px,#bdc32e 141.5px,#d3bf27 144.5px,#b9c430 152.5px,#c3c22b 154.5px,#b7c532 157.5px,#bfc32d 160.5px,#b9c431 163.5px,#a0c841 166.5px,#a8c73b 167.5px,#cdc028 169.5px,#d5be28 170.5px,#b8c431 173.5px,#b0c636 175.5px,#c5c22a 178.5px,#bec32e 181.5px,#d7be28 185.5px,#a4c83e 191.5px,#c4c22b 194.5px,#cfc028 196.5px,#a2c840 201.5px,#b7c532 207.5px,#a0c840 211.5px,#bfc32d 215.5px,#c2c32c 217.5px,#b6c532 219.5px,#94ca4a 221.5px,#92ca4c 222.5px,#b1c636 224.5px,#b7c532 225.5px,#90ca4d 231.5px,#a0c841 234.5px,#a2c840 239.5px,#b3c534 241.5px,#b0c636 242.5px,#93ca4b 244.5px,#8ecb4f 245.5px,#b1c635 250.5px,#a0c841 256.5px,#d6be28 263.5px,#cec028 267.5px,#b7c532 270.5px,#ccc028 277.5px,#c7c12a 280.5px,#d4bf28 282.5px,#c2c22c 285.5px,#e6bb2d 288.5px,#e7bb2d 292.5px,#f4ba39 295.5px,#eeba34 297.5px,#cfc028 301.5px,#e1bc2b 303.5px,#f0ba36 304.5px,#fdbd3d 305.5px,#fec537 306.5px,#febe3c 308.5px,#eaba31 310.5px,#f0ba36 312.5px,#e7bb2e 314.5px,#e8bb2e 315.5px,#fcbc3d 317.5px,#fdbd3d 319.5px,#cac129 323.5px,#d4bf28 325.5px,#d2bf27 328.5px,#e5bb2c 331.5px,#dfbc2a 332.5px,#bfc32d 334.5px,#bec32e 335.5px,#d9be28 338.5px,#d9be28 340.5px,#ebba32 342.5px,#e6bb2d 345.5px,#edba33 347.5px,#cfc028 353.5px,#b0c636 359.5px,#cec028 363.5px,#c3c22b 365.5px,#cdc028 370.5px,#b9c431 378.5px,#d2bf27 380.5px,#e1bc2b 382.5px,#dabd28 384.5px,#bbc430 387.5px,#c7c12a 391.5px,#b3c534 393.5px,#b3c534 394.5px,#cec028 397.5px,#d1bf27 399.5px,#a7c73c 403.5px,#d4bf27 407.5px,#c2c22c 411.5px,#debd29 415.5px,#d6be28 416.5px,#bec32e 417.5px,#7ccc5c 419.5px,#6bcd69 420.5px,#80cc59 421.5px,#aac73a 422.5px,#c3c22b 423.5px,#cac129 424.5px,#cec028 425.5px,#c1c32c 426.5px,#7ecc5b 428.5px,#6bcd69 430.5px,#71cd64 432.5px,#86cb55 433.5px,#abc739 434.5px,#bec32e 435.5px,#c5c22a 438.5px,#7acc5d 442.5px,#75cc61 443.5px,#8fcb4e 446.5px,#82cc58 448.5px,#4ccb83 451.5px,#04bbc1 455.5px,#02b7cb 456.5px,#1ea7e1 459.5px,#2798ea 462.5px,#2d8af5 476.5px)"></div><div style="height:1px;background:linear-gradient(90deg,#307efb 0.5px,#307efb 51.5px,#2699e9 52.5px,#9dc943 53.5px,#e6bb2d 54.5px,#e7bb2e 64.5px,#dfbc2a 68.5px,#c5c22a 72.5px,#cfc028 74.5px,#e9bb2f 76.5px,#d3bf27 81.5px,#b8c431 82.5px,#6dcd67 84.5px,#61cd72 85.5px,#7bcc5d 88.5px,#7acc5e 89.5px,#67cd6c 91.5px,#4acb85 97.5px,#6acd6a 101.5px,#6bcd69 103.5px,#79cc5e 105.5px,#77cc5f 106.5px,#41ca8c 109.5px,#41ca8c 110.5px,#60cd72 112.5px,#70cd65 114.5px,#c6c22a 118.5px,#ccc028 123.5px,#b6c532 127.5px,#dbbd29 133.5px,#adc637 141.5px,#afc637 146.5px,#c5c22a 150.5px,#a9c73b 156.5px,#b9c431 160.5px,#bdc32e 164.5px,#b0c636 167.5px,#c5c22a 170.5px,#b9c431 172.5px,#c7c12a 177.5px,#afc636 180.5px,#b1c635 181.5px,#d0bf27 184.5px,#bfc32d 191.5px,#cbc129 198.5px,#b6c532 201.5px,#c8c129 204.5px,#b9c431 211.5px,#cdc028 217.5px,#c3c22b 219.5px,#a5c83d 221.5px,#b7c532 225.5px,#91ca4c 229.5px,#90ca4d 230.5px,#bec32e 234.5px,#b2c635 238.5px,#bec32e 241.5px,#8ecb4e 244.5px,#8acb51 245.5px,#a0c841 252.5px,#84cc56 256.5px,#82cc57 258.5px,#abc739 263.5px,#9ac945 267.5px,#80cc59 269.5px,#7dcc5c 270.5px,#8acb51 272.5px,#80cc59 274.5px,#8acb52 281.5px,#68cd6b 285.5px,#79cc5f 286.5px,#aec637 288.5px,#b5c533 289.5px,#a6c83c 291.5px,#b0c636 296.5px,#a1c840 301.5px,#b5c533 304.5px,#dcbd29 306.5px,#e2bc2b 307.5px,#bfc32d 310.5px,#c1c32c 312.5px,#b4c533 314.5px,#b8c431 315.5px,#dabd28 317.5px,#e8bb2f 319.5px,#e5bb2d 320.5px,#c0c32d 323.5px,#e2bc2b 328.5px,#e6bb2d 331.5px,#c1c32c 334.5px,#bfc32d 335.5px,#d1bf27 337.5px,#e1bc2b 338.5px,#fbbc3d 342.5px,#f0ba36 345.5px,#f1ba37 354.5px,#dcbd29 359.5px,#f0ba36 362.5px,#e4bb2c 365.5px,#f0ba36 369.5px,#f0ba36 374.5px,#dabd28 378.5px,#f8ba3d 383.5px,#f5ba3a 385.5px,#dcbd29 389.5px,#e2bc2b 391.5px,#dbbd29 394.5px,#eeba34 398.5px,#d6be28 403.5px,#f4ba39 408.5px,#e0bc2a 415.5px,#bdc32e 417.5px,#7fcc5a 420.5px,#90ca4d 421.5px,#b3c534 422.5px,#cbc028 423.5px,#d9bd28 425.5px,#cbc129 426.5px,#84cc56 428.5px,#79cc5e 429.5px,#78cc5f 432.5px,#86cb55 433.5px,#a6c83d 434.5px,#b9c430 435.5px,#bec32e 437.5px,#b5c533 438.5px,#84cc56 440.5px,#64cd6e 442.5px,#68cd6c 443.5px,#87cb54 445.5px,#89cb52 446.5px,#57cc7a 449.5px,#2cc4a7 453.5px,#06bcc0 455.5px,#02b7ca 456.5px,#1aacdd 458.5px,#23a1e5 460.5px,#2895ec 463.5px,#2d8af4 476.5px)"></div><div style="height:1px;background:linear-gradient(90deg,#307ffb 0.5px,#307ffb 51.5px,#2798ea 52.5px,#8dcb4f 53.5px,#d3bf27 54.5px,#cec028 56.5px,#dcbd29 59.5px,#c1c32c 66.5px,#c1c32c 69.5px,#acc738 71.5px,#acc738 72.5px,#c7c129 74.5px,#e8bb2f 76.5px,#e5bb2d 77.5px,#c8c129 79.5px,#c3c22b 81.5px,#adc738 82.5px,#6acd69 84.5px,#5dcc75 85.5px,#6dcd68 88.5px,#60cd73 91.5px,#62cd70 93.5px,#42ca8b 97.5px,#6dcd67 105.5px,#6bcd69 106.5px,#41ca8c 109.5px,#3fca8e 110.5px,#6acd6a 114.5px,#b9c430 117.5px,#c7c12a 118.5px,#d2bf27 123.5px,#b3c534 126.5px,#c5c22a 129.5px,#e5bb2c 133.5px,#d8be28 138.5px,#bfc32d 141.5px,#b9c431 143.5px,#bdc42f 145.5px,#d8be28 149.5px,#bec32e 153.5px,#d2bf27 158.5px,#c8c129 162.5px,#e0bc2a 164.5px,#e1bc2b 165.5px,#cdc028 168.5px,#c9c129 172.5px,#dbbd29 175.5px,#bbc42f 180.5px,#d0c028 183.5px,#d1bf27 187.5px,#e6bb2d 191.5px,#cbc029 195.5px,#d2bf27 198.5px,#c1c32c 200.5px,#c1c32c 201.5px,#dbbd29 204.5px,#d5be28 207.5px,#debd29 213.5px,#d7be28 215.5px,#dfbc2a 217.5px,#c3c22b 221.5px,#bac430 228.5px,#c1c32c 230.5px,#d9be28 232.5px,#f2ba38 234.5px,#d8be28 238.5px,#dfbc2a 241.5px,#cdc028 244.5px,#d0c028 248.5px,#e1bc2b 252.5px,#c8c129 257.5px,#dcbd29 262.5px,#d8be28 266.5px,#cac129 272.5px,#b4c534 276.5px,#bec32e 280.5px,#a2c840 284.5px,#c3c22b 288.5px,#9ec943 297.5px,#a3c83e 301.5px,#98c947 304.5px,#b9c430 307.5px,#9bc945 310.5px,#83cc57 314.5px,#abc739 317.5px,#b7c532 319.5px,#b3c534 320.5px,#87cb54 323.5px,#83cc57 324.5px,#aec637 327.5px,#b3c534 328.5px,#9cc944 331.5px,#65cd6e 334.5px,#5fcd73 335.5px,#60cd73 336.5px,#a5c83d 339.5px,#c4c22b 342.5px,#97ca48 350.5px,#bdc32e 353.5px,#c1c32d 354.5px,#b4c533 357.5px,#bac430 361.5px,#9ec942 364.5px,#b9c431 370.5px,#b7c532 373.5px,#95ca49 377.5px,#bcc42f 382.5px,#9fc941 389.5px,#aec637 392.5px,#acc738 395.5px,#b6c532 397.5px,#9cc944 403.5px,#b3c534 407.5px,#b4c534 413.5px,#a8c73b 415.5px,#87cb54 417.5px,#68cd6c 420.5px,#78cc5f 421.5px,#b3c534 423.5px,#c8c129 425.5px,#b9c431 426.5px,#71cd64 428.5px,#6acd69 429.5px,#6fcd66 432.5px,#7dcc5b 433.5px,#adc738 435.5px,#b0c636 437.5px,#a4c83e 438.5px,#68cd6c 440.5px,#58cc79 441.5px,#50cc7f 442.5px,#72cd63 445.5px,#75cc61 446.5px,#49cb85 449.5px,#2dc4a5 453.5px,#01b8c9 456.5px,#1aacdd 458.5px,#259ce7 461.5px,#2d8af4 476.5px)"></div><div style="height:1px;background:linear-gradient(90deg,#307ffb 0.5px,#307ffb 51.5px,#2798ea 52.5px,#8ccb50 53.5px,#cbc029 54.5px,#bdc32e 56.5px,#d3bf27 59.5px,#cfc028 62.5px,#aac739 65.5px,#b0c636 69.5px,#a9c73a 71.5px,#d3bf27 74.5px,#e4bb2c 76.5px,#ccc028 79.5px,#ccc028 81.5px,#b6c532 82.5px,#71cd64 84.5px,#63cd70 85.5px,#7dcc5b 93.5px,#57cc7a 97.5px,#63cd70 100.5px,#62cd71 105.5px,#70cd65 108.5px,#5fcd73 113.5px,#69cd6b 114.5px,#abc739 116.5px,#cbc129 117.5px,#d8be28 118.5px,#dfbc2a 122.5px,#c3c22b 126.5px,#e4bb2c 137.5px,#d4bf27 139.5px,#bbc430 141.5px,#b1c635 143.5px,#cfc028 148.5px,#b6c532 153.5px,#dabd28 157.5px,#b5c533 161.5px,#bac430 162.5px,#dbbd29 164.5px,#ddbd29 165.5px,#c2c22c 168.5px,#bac430 171.5px,#b8c431 172.5px,#ccc028 175.5px,#b6c532 181.5px,#c9c129 189.5px,#d6be28 191.5px,#d0bf27 193.5px,#b8c431 195.5px,#b7c532 196.5px,#c4c22a 198.5px,#b7c532 201.5px,#d2bf27 216.5px,#acc739 224.5px,#c5c22a 228.5px,#cec028 231.5px,#e6bb2d 234.5px,#e3bb2c 235.5px,#c1c32c 238.5px,#c1c32c 239.5px,#d8be28 249.5px,#edba33 252.5px,#d2bf27 258.5px,#eeba34 265.5px,#e5bb2d 268.5px,#edba33 271.5px,#e5bb2c 276.5px,#f0ba36 279.5px,#eabb30 283.5px,#f9ba3d 286.5px,#e8bb2e 289.5px,#f1ba37 292.5px,#e1bc2b 297.5px,#e7bb2e 301.5px,#d9bd28 304.5px,#e4bb2c 306.5px,#dabd28 309.5px,#debc2a 311.5px,#cdc028 314.5px,#d8be28 319.5px,#abc739 324.5px,#cfc028 327.5px,#cfc028 328.5px,#afc637 331.5px,#77cc60 334.5px,#70cd65 335.5px,#71cd64 336.5px,#a3c83f 338.5px,#b1c635 339.5px,#cbc129 343.5px,#bfc32e 345.5px,#8bcb51 349.5px,#86cb54 350.5px,#aec637 353.5px,#afc637 356.5px,#c1c32c 359.5px,#b5c533 361.5px,#8ecb4f 364.5px,#a2c83f 369.5px,#97ca47 373.5px,#7bcc5d 376.5px,#7dcc5b 377.5px,#afc637 380.5px,#b3c534 381.5px,#95ca49 384.5px,#a4c83e 392.5px,#92ca4b 395.5px,#a3c83f 398.5px,#84cc56 402.5px,#acc738 408.5px,#adc638 411.5px,#bdc32e 414.5px,#bcc42f 415.5px,#83cc57 418.5px,#78cc5f 420.5px,#b9c431 423.5px,#c4c22a 425.5px,#adc637 426.5px,#7ecc5a 427.5px,#5fcd73 428.5px,#5acc77 429.5px,#73cd63 432.5px,#aac73a 434.5px,#b8c431 435.5px,#bcc42f 437.5px,#acc738 438.5px,#6bcd69 440.5px,#5fcd73 441.5px,#5ccc76 442.5px,#72cd63 445.5px,#6fcd66 447.5px,#3eca8f 452.5px,#2ac3a9 454.5px,#02bac5 456.5px,#18addb 458.5px,#249de6 461.5px,#2d8bf4 476.5px)"></div><div style="height:1px;background:linear-gradient(90deg,#2f82fa 0.5px,#2f82fa 51.5px,#259be8 52.5px,#90ca4d 53.5px,#cac129 54.5px,#b9c431 56.5px,#d1bf27 59.5px,#d8be28 61.5px,#c1c32c 63.5px,#a4c83e 65.5px,#a0c840 66.5px,#b1c635 71.5px,#d7be28 74.5px,#d8be28 76.5px,#bcc42f 81.5px,#a6c73c 82.5px,#66cd6d 84.5px,#58cc79 85.5px,#7acc5e 91.5px,#71cd65 94.5px,#55cc7c 97.5px,#58cc79 100.5px,#48cb86 104.5px,#4dcc82 105.5px,#79cc5e 108.5px,#71cd65 110.5px,#52cc7e 113.5px,#54cc7c 114.5px,#69cd6b 115.5px,#aec637 117.5px,#bdc32e 118.5px,#c2c22c 122.5px,#adc638 125.5px,#b9c431 128.5px,#a5c83d 133.5px,#b6c532 137.5px,#93ca4a 140.5px,#82cc57 143.5px,#84cb56 144.5px,#a8c73b 147.5px,#96ca49 152.5px,#9ac946 153.5px,#c0c32d 156.5px,#bec32e 157.5px,#91ca4c 160.5px,#8ccb50 161.5px,#adc638 164.5px,#9cc944 167.5px,#91ca4c 172.5px,#aec637 175.5px,#9cc944 178.5px,#95ca49 182.5px,#9ac945 184.5px,#b0c636 186.5px,#9fc942 189.5px,#abc739 192.5px,#96ca48 195.5px,#aec637 201.5px,#89cb52 204.5px,#88cb53 205.5px,#93ca4a 210.5px,#b1c636 216.5px,#80cc59 223.5px,#82cc58 224.5px,#aec637 227.5px,#b4c534 228.5px,#91ca4c 234.5px,#83cc57 242.5px,#96ca48 246.5px,#8bcb51 250.5px,#a8c73b 252.5px,#acc738 253.5px,#87cb54 256.5px,#74cc62 259.5px,#84cc56 261.5px,#b7c532 265.5px,#99c946 268.5px,#afc637 273.5px,#a7c73c 277.5px,#aec637 280.5px,#cbc129 285.5px,#bac430 289.5px,#ddbd29 292.5px,#e0bc2a 293.5px,#d6be28 297.5px,#e0bc2a 300.5px,#d7be28 303.5px,#e1bc2b 306.5px,#d3bf27 308.5px,#ebba31 312.5px,#ddbd29 315.5px,#d2bf27 322.5px,#e0bc2a 327.5px,#ccc028 332.5px,#b5c533 334.5px,#b5c533 336.5px,#e1bc2b 339.5px,#f6ba3b 343.5px,#f2ba38 345.5px,#d2bf27 348.5px,#c2c22c 350.5px,#ddbd29 353.5px,#dfbc2a 355.5px,#f9ba3d 359.5px,#e2bc2b 362.5px,#cec028 365.5px,#d7be28 368.5px,#d6be28 377.5px,#eeba34 381.5px,#d0bf27 386.5px,#eabb30 390.5px,#ccc028 395.5px,#debc2a 398.5px,#cdc028 400.5px,#b5c533 402.5px,#d5be28 405.5px,#e8bb2e 408.5px,#d6be28 411.5px,#e9bb30 415.5px,#d7be28 416.5px,#9fc942 418.5px,#84cb56 420.5px,#91ca4c 421.5px,#c0c32d 423.5px,#bfc32d 425.5px,#9dc943 426.5px,#65cd6e 427.5px,#48cb86 428.5px,#46cb88 429.5px,#6bcd69 432.5px,#b0c636 435.5px,#bec32e 437.5px,#a9c73a 438.5px,#7bcc5d 439.5px,#5ccc76 440.5px,#53cc7d 442.5px,#64cd6f 446.5px,#5ecc74 448.5px,#33c69e 453.5px,#01b9c6 456.5px,#16afda 458.5px,#23a0e5 461.5px,#2c8ef2 476.5px)"></div><div style="height:1px;background:linear-gradient(90deg,#2d88f6 0.5px,#2d88f6 51.5px,#249ee6 52.5px,#79cc5e 53.5px,#afc636 54.5px,#b0c636 56.5px,#c2c22b 59.5px,#c2c22c 61.5px,#95ca49 66.5px,#9ec942 70.5px,#bbc42f 73.5px,#b9c431 74.5px,#82cc58 81.5px,#48cb86 84.5px,#3eca90 85.5px,#55cc7b 91.5px,#33c79c 98.5px,#34c79b 104.5px,#4fcc80 108.5px,#3eca8f 114.5px,#4ccb83 115.5px,#86cb54 117.5px,#98ca47 118.5px,#86cb55 122.5px,#9fc941 128.5px,#78cc5f 132.5px,#86cb54 137.5px,#66cd6d 143.5px,#6acd6a 144.5px,#8bcb51 146.5px,#9bc944 148.5px,#8fcb4e 152.5px,#a2c83f 156.5px,#82cc58 160.5px,#99c946 165.5px,#93ca4b 171.5px,#b6c532 175.5px,#8fca4d 181.5px,#aec637 186.5px,#9ac945 189.5px,#a8c73b 191.5px,#9bc945 197.5px,#bdc32e 201.5px,#7ecc5a 204.5px,#7acc5d 205.5px,#9bc945 217.5px,#98c947 220.5px,#7bcc5d 223.5px,#a2c83f 226.5px,#aec637 228.5px,#9ec942 231.5px,#73cd63 234.5px,#74cc62 235.5px,#91ca4c 237.5px,#96ca48 238.5px,#88cb53 242.5px,#9cc944 245.5px,#9bc944 246.5px,#6ccd69 249.5px,#6ccd68 250.5px,#88cb53 252.5px,#86cb55 253.5px,#6ecd67 255.5px,#5fcd73 260.5px,#71cd64 262.5px,#9ac946 264.5px,#9fc941 265.5px,#76cc61 268.5px,#72cd64 269.5px,#74cd62 273.5px,#58cc79 279.5px,#5bcc77 280.5px,#7fcc5a 283.5px,#5acc77 286.5px,#53cc7d 288.5px,#66cd6d 290.5px,#8acb52 292.5px,#83cc57 296.5px,#9ac945 299.5px,#6acd6a 308.5px,#6ecd67 309.5px,#94ca4a 312.5px,#79cc5f 319.5px,#88cb53 323.5px,#84cc56 325.5px,#69cd6b 329.5px,#86cb55 332.5px,#7ecc5a 336.5px,#87cb54 337.5px,#afc636 339.5px,#cfc028 344.5px,#a2c840 350.5px,#b8c431 353.5px,#aec637 355.5px,#d7be28 359.5px,#c8c129 361.5px,#a2c840 365.5px,#a2c83f 366.5px,#b6c532 372.5px,#dcbd29 376.5px,#c2c22c 379.5px,#cbc129 382.5px,#b5c533 386.5px,#d4bf27 388.5px,#ddbd29 390.5px,#adc638 395.5px,#bbc42f 398.5px,#b5c533 399.5px,#89cb53 402.5px,#8acb51 403.5px,#bbc430 407.5px,#bbc42f 408.5px,#8dcb50 411.5px,#91ca4c 412.5px,#afc637 414.5px,#b1c635 415.5px,#6acd6a 418.5px,#50cc80 420.5px,#5acc78 421.5px,#9cc943 423.5px,#a9c73a 424.5px,#a4c83e 425.5px,#7dcc5c 426.5px,#48cb86 427.5px,#35c79a 428.5px,#40ca8d 432.5px,#4ecc81 433.5px,#7ecc5b 435.5px,#8fcb4e 437.5px,#78cc5f 438.5px,#4acb84 439.5px,#34c79b 440.5px,#2fc5a2 442.5px,#48cb86 448.5px,#28c2ab 453.5px,#02bac4 455.5px,#1babde 459.5px,#23a1e5 462.5px,#2994ed 476.5px)"></div><div style="height:1px;background:linear-gradient(90deg,#2c8ef2 0.5px,#2c8ef2 51.5px,#23a1e4 52.5px,#60cd72 53.5px,#9bc945 54.5px,#bbc42f 57.5px,#a3c83f 60.5px,#a0c841 64.5px,#8dcb4f 67.5px,#a3c83f 73.5px,#64cd6f 78.5px,#5dcc75 81.5px,#3ac993 85.5px,#4acb85 91.5px,#2bc3a8 98.5px,#33c69d 100.5px,#30c5a2 103.5px,#37c897 107.5px,#33c69e 109.5px,#39c994 113.5px,#4fcc80 115.5px,#96ca48 118.5px,#94ca4a 119.5px,#6fcd66 122.5px,#75cc61 123.5px,#9bc945 125.5px,#abc739 127.5px,#84cc57 131.5px,#91ca4c 138.5px,#8fcb4e 140.5px,#7bcc5d 143.5px,#9fc941 149.5px,#95ca49 153.5px,#a5c83d 156.5px,#90ca4d 163.5px,#a0c841 166.5px,#9fc941 170.5px,#b9c430 174.5px,#a0c841 180.5px,#bbc42f 184.5px,#b8c431 185.5px,#95ca49 188.5px,#b0c636 191.5px,#aec637 194.5px,#9cc944 197.5px,#c2c22c 201.5px,#91ca4d 204.5px,#8acb52 205.5px,#8ecb4f 208.5px,#7bcc5d 215.5px,#97ca48 218.5px,#8ecb4f 223.5px,#b7c532 228.5px,#b1c636 231.5px,#9ec942 234.5px,#b5c533 237.5px,#aec637 241.5px,#cbc129 245.5px,#cac129 246.5px,#97ca48 249.5px,#b1c636 252.5px,#a4c83e 255.5px,#a5c83d 260.5px,#b2c635 262.5px,#cdc028 264.5px,#d1bf27 266.5px,#a4c83e 271.5px,#9bc944 277.5px,#8ccb50 279.5px,#8bcb51 280.5px,#a2c840 282.5px,#a3c83f 283.5px,#65cd6e 286.5px,#62cd70 287.5px,#9fc942 292.5px,#86cb55 295.5px,#88cb53 296.5px,#b1c635 299.5px,#aec637 300.5px,#7dcc5c 303.5px,#67cd6c 305.5px,#5dcc75 309.5px,#74cc62 312.5px,#7dcc5b 315.5px,#5ecc74 319.5px,#6ccd68 323.5px,#44ca8a 326.5px,#39c895 328.5px,#4ecc81 332.5px,#50cc80 336.5px,#55cc7b 337.5px,#77cc60 339.5px,#83cc57 344.5px,#80cc59 346.5px,#63cd6f 350.5px,#73cd63 353.5px,#56cc7a 355.5px,#53cc7d 356.5px,#7bcc5d 359.5px,#78cc5f 360.5px,#57cc7a 362.5px,#4acb84 364.5px,#5fcd73 368.5px,#5fcd73 372.5px,#89cb52 375.5px,#8acb52 376.5px,#63cd6f 379.5px,#65cd6e 385.5px,#69cd6b 386.5px,#8ecb4f 388.5px,#93ca4a 389.5px,#66cd6d 393.5px,#5acc78 395.5px,#60cd72 398.5px,#3eca90 403.5px,#5ecd74 408.5px,#3ac994 411.5px,#3bc992 412.5px,#58cc79 415.5px,#34c79b 420.5px,#39c995 421.5px,#7dcc5b 423.5px,#96ca48 424.5px,#9fc941 425.5px,#84cb56 426.5px,#52cc7e 427.5px,#38c896 428.5px,#2fc5a2 430.5px,#2fc5a3 432.5px,#3ac994 433.5px,#6acd6a 435.5px,#6dcd67 437.5px,#5dcc75 438.5px,#3eca8f 439.5px,#2ac3a9 441.5px,#29c3aa 442.5px,#49cb85 448.5px,#30c5a2 452.5px,#03bbc2 455.5px,#01b8c9 456.5px,#1fa6e2 462.5px,#2699e9 476.5px)"></div><div style="height:1px;background:linear-gradient(90deg,#2993ed 0.5px,#2993ed 51.5px,#20a5e2 52.5px,#67cd6c 53.5px,#abc739 54.5px,#bbc430 55.5px,#c3c22b 57.5px,#99c946 60.5px,#a8c73b 64.5px,#96ca48 68.5px,#a1c840 73.5px,#99c946 74.5px,#5ecd74 77.5px,#53cc7d 78.5px,#60cd72 82.5px,#4acb85 87.5px,#5fcd73 92.5px,#2fc5a2 97.5px,#3fca8e 100.5px,#37c897 103.5px,#41ca8c 106.5px,#33c79c 109.5px,#40ca8d 113.5px,#48cb86 114.5px,#8ecb4e 118.5px,#90ca4d 119.5px,#6dcd67 122.5px,#74cc62 123.5px,#9fc942 125.5px,#abc739 127.5px,#8ccb50 131.5px,#9cc944 134.5px,#a3c83f 139.5px,#7fcc5a 145.5px,#78cc5f 149.5px,#7fcc5a 153.5px,#9ec942 155.5px,#a2c83f 156.5px,#96ca48 159.5px,#71cd64 163.5px,#83cc57 166.5px,#73cd62 169.5px,#97ca48 172.5px,#99c946 173.5px,#85cb56 176.5px,#83cc57 178.5px,#aec637 183.5px,#a2c83f 185.5px,#74cc62 188.5px,#8fcb4e 191.5px,#7bcc5d 197.5px,#9cc944 200.5px,#9ec942 201.5px,#71cd64 206.5px,#73cd63 209.5px,#5bcc77 215.5px,#6ecd67 217.5px,#73cd63 220.5px,#8ccb50 223.5px,#87cb54 226.5px,#93ca4b 230.5px,#88cb53 233.5px,#96ca48 237.5px,#7ccc5c 240.5px,#a4c83e 245.5px,#9bc945 247.5px,#79cc5f 250.5px,#9bc944 255.5px,#89cb52 259.5px,#93ca4a 261.5px,#bcc42f 264.5px,#c9c129 266.5px,#a2c840 271.5px,#bcc42f 277.5px,#a9c73b 280.5px,#b5c533 282.5px,#98ca47 285.5px,#97ca48 286.5px,#c5c22a 292.5px,#adc638 296.5px,#ccc028 298.5px,#d5be28 299.5px,#d1bf27 300.5px,#b1c636 303.5px,#96ca49 309.5px,#bfc32d 315.5px,#c0c32d 316.5px,#a4c83e 319.5px,#c0c32d 323.5px,#b4c534 324.5px,#85cb55 326.5px,#7ccc5c 327.5px,#89cb53 329.5px,#88cb53 333.5px,#bcc42f 339.5px,#aec637 343.5px,#b7c532 346.5px,#95ca49 350.5px,#a5c83d 353.5px,#7dcc5b 356.5px,#8dcb4f 360.5px,#6fcd66 363.5px,#7fcc5a 367.5px,#81cc59 371.5px,#98c947 374.5px,#83cc57 377.5px,#94ca4a 380.5px,#87cb54 384.5px,#9cc944 389.5px,#89cb52 392.5px,#84cb56 398.5px,#66cd6d 404.5px,#88cb53 408.5px,#63cd70 411.5px,#62cd71 417.5px,#49cb85 420.5px,#4ecc82 421.5px,#8acb51 423.5px,#b6c532 425.5px,#a7c73c 426.5px,#57cc7a 428.5px,#3ac994 430.5px,#35c79b 431.5px,#37c898 432.5px,#4dcc82 433.5px,#78cc5f 434.5px,#8dcb50 435.5px,#85cb55 437.5px,#49cb85 440.5px,#3fca8e 441.5px,#3cc991 442.5px,#53cc7e 445.5px,#4fcc81 447.5px,#2ec5a4 453.5px,#01bac6 457.5px,#1da9e0 463.5px,#249ee6 476.5px)"></div><div style="height:1px;background:linear-gradient(90deg,#2797eb 0.5px,#2797eb 51.5px,#1ea7e1 52.5px,#67cd6d 53.5px,#a9c73b 54.5px,#aec637 55.5px,#89cb53 60.5px,#99c946 64.5px,#89cb52 68.5px,#8ecb4e 73.5px,#89cb53 74.5px,#44cb89 77.5px,#3cc992 78.5px,#51cc7f 82.5px,#3fca8e 89.5px,#5fcd73 92.5px,#5dcc75 93.5px,#3bc993 95.5px,#28c3aa 97.5px,#31c6a0 103.5px,#41ca8c 106.5px,#34c79b 109.5px,#3cc991 113.5px,#70cd65 118.5px,#73cd63 119.5px,#62cd70 122.5px,#86cb55 125.5px,#62cd71 131.5px,#66cd6d 132.5px,#91ca4d 135.5px,#94ca4a 136.5px,#7dcc5c 141.5px,#5fcd73 145.5px,#55cc7c 149.5px,#5fcd73 152.5px,#7ecc5b 155.5px,#7fcc5a 156.5px,#4acb85 163.5px,#5bcc77 166.5px,#4dcc82 169.5px,#53cc7d 170.5px,#7acc5d 172.5px,#7ccc5c 173.5px,#63cd70 175.5px,#58cc79 177.5px,#5ccc75 178.5px,#8ccb50 181.5px,#8fcb4e 184.5px,#8acb52 185.5px,#62cd71 188.5px,#6ecd67 191.5px,#60cd72 197.5px,#6acd6a 200.5px,#5ccc75 204.5px,#43ca8b 207.5px,#53cc7d 210.5px,#48cb86 215.5px,#5ccc75 217.5px,#67cd6d 220.5px,#8acb51 222.5px,#8ecb4e 223.5px,#5dcc75 226.5px,#56cc7b 227.5px,#61cd72 230.5px,#4ecc81 234.5px,#60cd73 237.5px,#3bc992 240.5px,#4ccb83 243.5px,#55cc7c 248.5px,#38c896 251.5px,#48cb86 254.5px,#3bc992 257.5px,#38c897 261.5px,#57cc7a 264.5px,#5ecd74 266.5px,#39c994 271.5px,#5bcc77 276.5px,#52cc7e 285.5px,#70cd65 288.5px,#79cc5f 292.5px,#67cd6c 296.5px,#85cb56 299.5px,#6bcd69 302.5px,#75cc61 305.5px,#6bcd69 309.5px,#70cd65 310.5px,#8dcb4f 312.5px,#a2c83f 315.5px,#8ccb50 320.5px,#acc739 323.5px,#a8c73b 324.5px,#86cb55 326.5px,#81cc58 327.5px,#a0c841 329.5px,#a4c83e 330.5px,#8acb51 333.5px,#c6c22a 338.5px,#bdc32e 347.5px,#a9c73a 350.5px,#b3c534 353.5px,#9cc944 356.5px,#98c947 358.5px,#a7c73c 363.5px,#91ca4c 368.5px,#b5c533 373.5px,#b2c535 374.5px,#97ca47 376.5px,#96ca48 377.5px,#c4c22b 380.5px,#c2c22c 381.5px,#abc739 383.5px,#b2c635 386.5px,#9cc944 390.5px,#b3c534 397.5px,#8ccb50 400.5px,#8ccb50 404.5px,#a3c83f 408.5px,#6ecd67 412.5px,#60cd72 416.5px,#64cd6f 418.5px,#58cc79 420.5px,#5ccc76 421.5px,#8bcb51 423.5px,#a8c73b 425.5px,#98c947 426.5px,#70cd65 427.5px,#58cc79 428.5px,#3dc990 431.5px,#3dc990 432.5px,#54cc7d 433.5px,#7ecc5b 434.5px,#92ca4c 435.5px,#7acc5e 438.5px,#54cc7d 440.5px,#4bcb83 441.5px,#4bcb83 444.5px,#33c69e 449.5px,#30c5a2 452.5px,#02bac5 457.5px,#19acdc 463.5px,#22a2e4 476.5px)"></div><div style="height:1px;background:linear-gradient(90deg,#2699e9 0.5px,#2699e9 51.5px,#1ea7e1 52.5px,#52cc7e 53.5px,#89cb53 54.5px,#86cb55 55.5px,#6ccd68 57.5px,#5ccc76 60.5px,#7fcc5a 64.5px,#65cd6e 68.5px,#65cd6e 73.5px,#5fcd73 74.5px,#3dc990 76.5px,#28c3aa 78.5px,#37c897 82.5px,#39c994 85.5px,#26c2ad 89.5px,#43ca8a 93.5px,#3fca8e 94.5px,#19bfb6 97.5px,#11beba 99.5px,#1ac0b5 102.5px,#38c896 105.5px,#2fc5a3 109.5px,#36c799 113.5px,#4ccb83 116.5px,#6fcd66 119.5px,#60cd72 121.5px,#77cc60 124.5px,#48cb86 130.5px,#49cb85 131.5px,#83cc57 135.5px,#86cb55 136.5px,#62cd70 139.5px,#50cc7f 142.5px,#5ccc75 145.5px,#58cc79 149.5px,#71cd64 155.5px,#5fcd73 160.5px,#49cb85 163.5px,#53cc7d 166.5px,#50cc7f 169.5px,#58cc79 170.5px,#7dcc5b 172.5px,#83cc57 173.5px,#54cc7d 177.5px,#5dcc75 178.5px,#90ca4d 180.5px,#97ca48 181.5px,#89cb53 183.5px,#97ca48 185.5px,#71cd64 189.5px,#75cc61 191.5px,#61cd72 194.5px,#6bcd69 199.5px,#55cc7b 201.5px,#50cc80 202.5px,#5acc77 204.5px,#43ca8b 207.5px,#53cc7d 209.5px,#5dcc75 215.5px,#70cd65 217.5px,#7dcc5b 220.5px,#9bc944 222.5px,#9ec942 223.5px,#67cd6c 226.5px,#64cd6f 229.5px,#48cb86 233.5px,#6fcd66 237.5px,#4dcb82 240.5px,#4ecc81 244.5px,#50cc7f 245.5px,#6dcd67 247.5px,#72cd63 248.5px,#57cc7a 251.5px,#56cc7b 254.5px,#36c799 261.5px,#44cb89 266.5px,#21c1b0 271.5px,#37c897 275.5px,#3eca8f 282.5px,#36c799 286.5px,#42ca8c 293.5px,#34c79c 296.5px,#2fc5a3 302.5px,#39c994 307.5px,#37c897 310.5px,#53cc7d 315.5px,#37c898 319.5px,#3dc990 323.5px,#34c79b 327.5px,#5ccc76 330.5px,#3dc990 333.5px,#63cd70 338.5px,#68cd6c 341.5px,#4ecc81 345.5px,#5dcc75 348.5px,#46cb88 355.5px,#47cb87 360.5px,#5dcc75 363.5px,#3eca8f 367.5px,#55cc7b 372.5px,#3ac994 376.5px,#3eca8f 377.5px,#65cd6e 380.5px,#4ccb83 383.5px,#57cc7a 386.5px,#3cc991 390.5px,#5ecd74 395.5px,#56cc7a 397.5px,#35c79a 400.5px,#4acb84 407.5px,#46cb88 409.5px,#30c5a2 412.5px,#39c895 420.5px,#40ca8d 421.5px,#6fcd65 423.5px,#80cc5a 425.5px,#68cd6c 426.5px,#41ca8c 427.5px,#33c69e 428.5px,#31c5a1 429.5px,#30c5a1 432.5px,#3cc991 433.5px,#5ecc74 434.5px,#6fcd66 435.5px,#60cd72 438.5px,#41ca8c 440.5px,#2ac3a9 449.5px,#29c3aa 452.5px,#01b8c8 457.5px,#19addc 464.5px,#20a4e3 476.5px)"></div><div style="height:1px;background:linear-gradient(90deg,#259be8 0.5px,#259be8 51.5px,#1da9e0 52.5px,#4dcc82 53.5px,#80cc59 54.5px,#7ccc5c 55.5px,#4acb84 59.5px,#4fcc80 61.5px,#78cc5f 64.5px,#63cd70 68.5px,#69cd6b 72.5px,#62cd70 73.5px,#29c3a9 78.5px,#29c3aa 79.5px,#3cc992 82.5px,#41ca8c 85.5px,#29c3aa 90.5px,#3fca8e 94.5px,#1fc0b2 100.5px,#26c2ac 102.5px,#3bc992 105.5px,#31c6a0 108.5px,#34c79b 111.5px,#57cc7a 114.5px,#5fcd73 116.5px,#8dcb4f 119.5px,#7fcc5a 121.5px,#79cc5f 125.5px,#53cc7d 130.5px,#53cc7d 131.5px,#7fcc5a 135.5px,#54cc7c 142.5px,#72cd63 145.5px,#65cd6e 149.5px,#7fcc5a 154.5px,#6bcd69 157.5px,#7ccc5c 160.5px,#61cd71 167.5px,#7ccc5c 174.5px,#61cd72 177.5px,#9cc943 180.5px,#86cb55 183.5px,#a1c840 185.5px,#a0c841 186.5px,#7ccc5c 189.5px,#7ecc5b 192.5px,#6bcd69 195.5px,#77cc60 199.5px,#5fcd73 201.5px,#5bcc77 202.5px,#69cd6b 204.5px,#4dcc82 207.5px,#5acc78 210.5px,#58cc79 212.5px,#86cb54 217.5px,#83cc57 220.5px,#8fcb4e 223.5px,#7dcc5b 225.5px,#86cb55 228.5px,#5ccc75 231.5px,#59cc78 232.5px,#5fcd73 233.5px,#8ccb50 236.5px,#87cb54 244.5px,#adc638 247.5px,#afc637 248.5px,#9ec942 250.5px,#afc637 256.5px,#6bcd69 262.5px,#7ecc5b 264.5px,#84cc57 266.5px,#48cb86 270.5px,#51cc7f 272.5px,#7bcc5d 275.5px,#7dcc5b 280.5px,#8ccb50 283.5px,#65cd6e 286.5px,#56cc7b 288.5px,#58cc79 290.5px,#80cc59 293.5px,#5ccc76 296.5px,#51cc7f 299.5px,#58cc79 303.5px,#79cc5e 308.5px,#6fcd65 311.5px,#78cc5f 314.5px,#52cc7e 318.5px,#4ecc81 322.5px,#37c897 326.5px,#3bc993 327.5px,#62cd71 329.5px,#68cd6c 330.5px,#4acb85 332.5px,#48cb86 333.5px,#4bcb83 337.5px,#60cd72 339.5px,#60cd72 341.5px,#48cb86 345.5px,#56cc7b 349.5px,#39c995 355.5px,#47cb87 358.5px,#4bcb84 362.5px,#34c79c 366.5px,#41ca8d 372.5px,#29c3aa 375.5px,#28c3ab 376.5px,#40ca8d 379.5px,#41ca8c 380.5px,#3ac994 384.5px,#3eca8f 387.5px,#33c69d 390.5px,#3eca8f 395.5px,#28c3ab 399.5px,#43ca8a 405.5px,#31c6a0 412.5px,#38c896 417.5px,#45cb89 420.5px,#53cc7d 421.5px,#82cc58 423.5px,#87cb54 425.5px,#6ccd68 426.5px,#43ca8a 427.5px,#33c69e 428.5px,#2fc5a2 429.5px,#2fc5a3 432.5px,#3bc993 433.5px,#5dcc75 434.5px,#72cd63 435.5px,#74cc62 437.5px,#4ccb83 440.5px,#36c899 445.5px,#39c995 448.5px,#29c3a9 453.5px,#01bac5 457.5px,#15afd9 463.5px,#1fa6e2 476.5px)"></div><div style="height:1px;background:linear-gradient(90deg,#259de7 0.5px,#259de7 51.5px,#1aabdd 52.5px,#67cd6c 53.5px,#a2c840 54.5px,#9cc943 55.5px,#4fcc80 59.5px,#4ccb83 60.5px,#77cc60 63.5px,#7ecc5a 68.5px,#91ca4c 71.5px,#83cc57 73.5px,#3ac994 78.5px,#3ac993 79.5px,#54cc7d 82.5px,#58cc79 85.5px,#38c896 89.5px,#43ca8a 93.5px,#3fca8e 97.5px,#29c3aa 101.5px,#38c896 105.5px,#2fc5a3 108.5px,#39c994 111.5px,#6bcd69 114.5px,#71cd64 117.5px,#8acb52 119.5px,#72cd63 123.5px,#72cd64 127.5px,#5fcd73 131.5px,#71cd64 134.5px,#73cd63 137.5px,#57cc7a 142.5px,#70cd65 145.5px,#67cd6c 149.5px,#85cb56 154.5px,#67cd6c 157.5px,#7fcc5a 160.5px,#58cc79 167.5px,#62cd71 170.5px,#5dcc75 177.5px,#74cc62 180.5px,#60cd72 182.5px,#61cd72 183.5px,#81cc59 185.5px,#84cb56 186.5px,#6dcd68 189.5px,#74cd62 193.5px,#6fcd66 198.5px,#57cc7a 202.5px,#61cd71 204.5px,#3eca8f 208.5px,#51cc7f 212.5px,#77cc60 215.5px,#78cc5f 216.5px,#5fcd73 220.5px,#5dcc75 224.5px,#7ccc5c 227.5px,#55cc7c 230.5px,#4bcb84 232.5px,#78cc5f 237.5px,#68cd6b 243.5px,#73cd63 245.5px,#8dcb50 247.5px,#7bcc5d 251.5px,#aec637 256.5px,#a9c73a 257.5px,#73cd63 260.5px,#6ccd68 262.5px,#7ccc5c 265.5px,#79cc5f 266.5px,#51cc7e 269.5px,#4ecc81 270.5px,#54cc7d 271.5px,#84cc56 274.5px,#87cb54 275.5px,#7dcc5b 280.5px,#93ca4b 283.5px,#91ca4c 284.5px,#71cd64 287.5px,#68cd6c 289.5px,#91ca4d 293.5px,#7ccc5c 299.5px,#9cc943 305.5px,#c6c22a 309.5px,#b6c532 313.5px,#9fc942 316.5px,#a0c941 322.5px,#73cd62 326.5px,#77cc5f 327.5px,#9fc942 329.5px,#9fc942 330.5px,#7ccc5c 332.5px,#85cb56 334.5px,#79cc5e 336.5px,#87cb54 337.5px,#aac73a 338.5px,#bcc42f 339.5px,#a2c83f 346.5px,#aac73a 352.5px,#8bcb51 355.5px,#8fca4d 356.5px,#aac73a 358.5px,#aac73a 359.5px,#7dcc5b 365.5px,#92ca4b 372.5px,#61cd71 375.5px,#61cd72 376.5px,#8dcb4f 379.5px,#9dc943 383.5px,#8ccb50 388.5px,#72cd63 391.5px,#83cc57 394.5px,#7fcc5a 395.5px,#5dcc75 397.5px,#57cc7a 398.5px,#93ca4b 404.5px,#95ca49 405.5px,#6ccd68 409.5px,#71cd64 414.5px,#69cd6b 417.5px,#82cc58 420.5px,#abc739 422.5px,#b0c636 423.5px,#9dc943 425.5px,#60cd72 427.5px,#4ecc81 428.5px,#32c69e 432.5px,#3cc992 433.5px,#72cd63 435.5px,#7acc5e 437.5px,#60cd72 439.5px,#56cc7b 442.5px,#41ca8c 444.5px,#3dc991 445.5px,#4dcc82 448.5px,#32c69f 451.5px,#29c3a9 454.5px,#02bac5 458.5px,#12b1d7 463.5px,#1ea7e1 476.5px)"></div><div style="height:1px;background:linear-gradient(90deg,#249fe6 0.5px,#249fe6 51.5px,#19addc 52.5px,#6fcd66 53.5px,#aac73a 54.5px,#a1c840 55.5px,#55cc7b 58.5px,#45cb88 59.5px,#45cb89 60.5px,#77cc60 64.5px,#94ca4a 71.5px,#3eca8f 78.5px,#4acb84 85.5px,#35c79a 89.5px,#3cc991 92.5px,#33c69d 95.5px,#33c79c 98.5px,#19bfb5 101.5px,#30c5a2 105.5px,#27c2ac 108.5px,#34c79b 112.5px,#50cc7f 115.5px,#67cd6c 119.5px,#4ecc81 122.5px,#67cd6c 126.5px,#6ccd68 129.5px,#50cc80 140.5px,#62cd70 144.5px,#5ccc75 148.5px,#78cc5f 154.5px,#60cd72 156.5px,#5ccc76 157.5px,#6ccd69 159.5px,#50cc80 162.5px,#54cc7d 165.5px,#4acb84 167.5px,#57cc7a 169.5px,#4fcc81 172.5px,#5dcc75 178.5px,#41ca8c 182.5px,#70cd65 186.5px,#6ccd68 197.5px,#55cc7c 205.5px,#40ca8d 208.5px,#40ca8d 209.5px,#75cc62 215.5px,#46cb88 221.5px,#4dcc82 224.5px,#62cd70 227.5px,#43ca8b 232.5px,#5bcc77 236.5px,#40ca8d 242.5px,#52cc7e 247.5px,#3eca8f 251.5px,#66cd6d 256.5px,#43ca8a 259.5px,#3cc992 265.5px,#2cc4a7 269.5px,#33c69d 271.5px,#4fcc81 274.5px,#37c898 278.5px,#47cb87 286.5px,#37c897 289.5px,#36c899 292.5px,#46cb88 296.5px,#52cc7e 305.5px,#59cc79 306.5px,#7acc5d 308.5px,#83cc57 310.5px,#70cd65 315.5px,#72cd64 318.5px,#64cd6f 320.5px,#60cd72 323.5px,#4bcb84 326.5px,#64cd6f 329.5px,#40ca8d 332.5px,#43ca8a 336.5px,#5fcd73 337.5px,#96ca48 338.5px,#b6c533 339.5px,#b4c533 340.5px,#7dcc5c 345.5px,#96ca49 348.5px,#93ca4a 350.5px,#9dc943 352.5px,#9bc945 353.5px,#7fcc5a 355.5px,#81cc58 356.5px,#9ec942 358.5px,#9ec942 359.5px,#60cd72 363.5px,#5ecc74 364.5px,#8acb52 370.5px,#8acb52 371.5px,#66cd6d 374.5px,#61cd71 376.5px,#9bc944 383.5px,#92ca4c 385.5px,#60cd72 390.5px,#64cd6f 394.5px,#51cc7f 397.5px,#6dcd67 401.5px,#50cc7f 412.5px,#57cc7a 417.5px,#71cd64 420.5px,#a5c83d 422.5px,#a4c83e 423.5px,#4ccb83 427.5px,#2cc4a7 432.5px,#33c69d 433.5px,#57cc7a 435.5px,#54cc7d 437.5px,#3cc991 439.5px,#3ac993 442.5px,#30c5a2 444.5px,#3fca8e 448.5px,#2ac3a8 451.5px,#24c1ae 454.5px,#01b9c8 459.5px,#13b1d7 465.5px,#1ca9df 476.5px)"></div><div style="height:1px;background:linear-gradient(90deg,#23a1e5 0.5px,#23a1e5 51.5px,#19addc 52.5px,#61cd72 53.5px,#96ca48 54.5px,#8ccb50 55.5px,#42ca8c 58.5px,#3ac994 59.5px,#3eca8f 60.5px,#6acd6a 63.5px,#7ccc5c 67.5px,#75cc61 71.5px,#39c994 78.5px,#35c79b 80.5px,#38c896 86.5px,#2fc5a2 89.5px,#36c898 92.5px,#34c79c 96.5px,#16bfb7 101.5px,#31c6a0 105.5px,#2cc4a6 112.5px,#31c69f 114.5px,#46cb88 116.5px,#69cd6a 118.5px,#6ecd67 119.5px,#52cc7e 121.5px,#4ecc81 122.5px,#72cd63 125.5px,#8acb52 130.5px,#8bcb51 131.5px,#65cd6e 134.5px,#58cc79 138.5px,#58cc79 139.5px,#7ccc5c 143.5px,#7ccc5c 145.5px,#6bcd69 148.5px,#89cb53 154.5px,#74cd62 156.5px,#6ccd68 159.5px,#51cc7f 162.5px,#5ecd74 165.5px,#53cc7d 168.5px,#73cd63 177.5px,#68cd6c 179.5px,#49cb85 181.5px,#4ccb83 182.5px,#87cb54 186.5px,#96ca49 188.5px,#7dcc5b 193.5px,#81cc58 201.5px,#70cd65 204.5px,#68cd6c 208.5px,#6acd6a 210.5px,#83cc57 214.5px,#5fcd73 222.5px,#7dcc5c 226.5px,#62cd70 232.5px,#7acc5d 235.5px,#63cd6f 241.5px,#70cd65 247.5px,#55cc7c 250.5px,#58cc79 251.5px,#8ccb50 254.5px,#8fcb4e 255.5px,#6bcd69 258.5px,#6ccd68 261.5px,#4fcc80 264.5px,#38c896 269.5px,#66cd6d 273.5px,#66cd6d 274.5px,#42ca8b 277.5px,#51cc7f 282.5px,#4acb84 284.5px,#4fcc80 287.5px,#3ac994 289.5px,#32c69e 291.5px,#3eca8f 296.5px,#40ca8d 301.5px,#34c79b 305.5px,#4fcc80 309.5px,#56cc7b 317.5px,#36c899 321.5px,#30c5a1 325.5px,#37c897 329.5px,#25c2ad 332.5px,#22c1b0 334.5px,#28c3ab 336.5px,#36c898 337.5px,#76cc60 339.5px,#74cc62 340.5px,#36c898 345.5px,#55cc7b 348.5px,#5dcc75 352.5px,#5bcc77 353.5px,#3dc990 355.5px,#39c994 356.5px,#47cb87 359.5px,#2dc4a5 363.5px,#47cb87 370.5px,#30c5a1 374.5px,#2fc5a3 376.5px,#4bcb83 385.5px,#2dc4a6 390.5px,#27c2ac 396.5px,#37c897 400.5px,#22c1b0 405.5px,#30c5a1 408.5px,#27c2ab 413.5px,#3bc993 419.5px,#41ca8c 420.5px,#75cc61 422.5px,#7acc5d 423.5px,#36c898 427.5px,#32c69f 428.5px,#32c69f 432.5px,#3cc991 433.5px,#57cc7a 434.5px,#5fcd73 435.5px,#30c5a1 439.5px,#33c69e 441.5px,#29c3aa 444.5px,#34c79b 448.5px,#2bc3a8 450.5px,#25c2ad 454.5px,#01bac6 459.5px,#0fb2d5 465.5px,#1babde 476.5px)"></div><div style="height:1px;background:linear-gradient(90deg,#21a2e4 0.5px,#21a2e4 51.5px,#17aeda 52.5px,#5ccc76 53.5px,#90ca4d 54.5px,#8acb51 55.5px,#50cc7f 58.5px,#48cb86 59.5px,#4fcc80 60.5px,#7ecc5b 63.5px,#8bcb51 66.5px,#8acb51 67.5px,#6fcd66 69.5px,#6bcd69 74.5px,#45cb89 77.5px,#39c994 80.5px,#3eca8f 95.5px,#2ec5a4 99.5px,#3fca8e 109.5px,#33c79d 112.5px,#34c79b 114.5px,#4dcc82 116.5px,#85cb56 118.5px,#8ccb50 119.5px,#76cc60 121.5px,#77cc60 122.5px,#83cc57 126.5px,#a4c83e 131.5px,#a1c840 132.5px,#87cb54 134.5px,#72cd63 138.5px,#9ac945 144.5px,#7ecc5b 148.5px,#a6c83d 154.5px,#a4c83e 155.5px,#67cd6c 160.5px,#6acd69 164.5px,#58cc79 167.5px,#6dcd67 171.5px,#6bcd69 174.5px,#7ecc5b 178.5px,#5ecc74 181.5px,#62cd70 182.5px,#a9c73b 188.5px,#8fcb4e 192.5px,#82cc58 198.5px,#80cc59 199.5px,#9bc944 202.5px,#76cc60 206.5px,#7dcc5c 209.5px,#73cd63 211.5px,#7dcc5b 214.5px,#6dcd67 216.5px,#81cc59 219.5px,#6ecd67 222.5px,#71cd64 223.5px,#8ccb50 225.5px,#90ca4d 226.5px,#7acc5e 228.5px,#74cd62 232.5px,#93ca4b 235.5px,#91ca4c 241.5px,#9cc944 246.5px,#79cc5f 250.5px,#81cc58 251.5px,#c2c22c 254.5px,#c6c22a 255.5px,#b7c532 257.5px,#bdc32e 260.5px,#b2c635 261.5px,#89cb52 263.5px,#82cc58 264.5px,#8ccb50 266.5px,#73cd62 269.5px,#9fc941 272.5px,#a2c840 273.5px,#7ecc5b 276.5px,#7ccc5c 277.5px,#9dc943 280.5px,#91ca4d 284.5px,#a1c840 287.5px,#85cb55 289.5px,#77cc60 291.5px,#94ca4a 296.5px,#8bcb51 298.5px,#8ecb4e 301.5px,#6ccd68 305.5px,#8ecb4f 309.5px,#98c947 315.5px,#8bcb51 318.5px,#6bcd69 320.5px,#66cd6d 321.5px,#6dcd67 323.5px,#62cd70 327.5px,#6bcd69 330.5px,#51cc7f 334.5px,#5fcd73 336.5px,#99c946 338.5px,#a6c83d 339.5px,#65cd6e 345.5px,#94ca4a 348.5px,#80cc59 353.5px,#53cc7d 356.5px,#62cd71 359.5px,#53cc7d 363.5px,#6ecd67 366.5px,#63cd70 369.5px,#6dcd68 372.5px,#51cc7f 375.5px,#64cd6e 379.5px,#57cc7a 382.5px,#73cd62 385.5px,#44cb89 389.5px,#43ca8a 392.5px,#38c896 394.5px,#5acc78 401.5px,#39c995 404.5px,#51cc7f 408.5px,#44cb8a 411.5px,#4fcc81 415.5px,#3eca8f 420.5px,#76cc60 423.5px,#6acd6a 425.5px,#41ca8c 427.5px,#3ac994 428.5px,#51cc7f 432.5px,#8bcb50 434.5px,#8ecb4e 435.5px,#41ca8c 439.5px,#36c799 443.5px,#44cb89 446.5px,#2fc5a3 450.5px,#31c6a0 454.5px,#03bbc2 459.5px,#07b5d0 463.5px,#19addc 476.5px)"></div><div style="height:1px;background:linear-gradient(90deg,#20a4e3 0.5px,#20a4e3 51.5px,#16afd9 52.5px,#51cc7f 53.5px,#84cc56 54.5px,#84cb56 55.5px,#58cc7a 59.5px,#5bcc76 60.5px,#8ecb4e 63.5px,#94ca4a 64.5px,#8ccb50 67.5px,#67cd6c 70.5px,#78cc5f 73.5px,#72cd64 74.5px,#43ca8b 77.5px,#2fc5a2 82.5px,#3bc992 85.5px,#35c79a 88.5px,#3dc990 94.5px,#2fc5a3 98.5px,#3fca8e 101.5px,#34c79c 106.5px,#37c898 114.5px,#3eca8f 115.5px,#73cd63 118.5px,#73cd63 120.5px,#86cb55 123.5px,#70cd65 126.5px,#73cd63 129.5px,#96ca49 132.5px,#63cd6f 139.5px,#7fcc5a 144.5px,#66cd6d 147.5px,#66cd6d 148.5px,#82cc58 151.5px,#8bcb50 154.5px,#88cb53 155.5px,#60cd73 158.5px,#53cc7d 160.5px,#60cd72 163.5px,#4ecc81 167.5px,#5ccc76 171.5px,#48cb86 174.5px,#61cd71 178.5px,#5dcc74 181.5px,#6ecd66 183.5px,#6acd69 185.5px,#82cc57 188.5px,#6fcd66 191.5px,#6fcd66 194.5px,#5ccc75 199.5px,#82cc58 202.5px,#81cc59 203.5px,#5dcc75 206.5px,#59cc78 211.5px,#6ecd66 214.5px,#59cc78 216.5px,#69cd6a 219.5px,#62cd71 222.5px,#70cd65 225.5px,#5ecc74 229.5px,#5ecd74 232.5px,#74cc62 235.5px,#69cd6b 240.5px,#73cd63 243.5px,#70cd65 245.5px,#4dcb82 249.5px,#53cc7d 251.5px,#88cb53 255.5px,#99c946 259.5px,#8fcb4e 260.5px,#5dcc75 262.5px,#50cc7f 263.5px,#64cd6f 266.5px,#59cc78 269.5px,#6dcd67 272.5px,#52cc7e 276.5px,#81cc58 280.5px,#6dcd68 283.5px,#76cc60 284.5px,#9dc943 286.5px,#a2c83f 287.5px,#84cc56 291.5px,#84cc56 292.5px,#a5c83d 295.5px,#80cc59 304.5px,#94ca4a 309.5px,#8dcb4f 316.5px,#7dcc5b 320.5px,#92ca4c 323.5px,#83cc57 326.5px,#83cc57 328.5px,#90ca4d 330.5px,#8bcb51 334.5px,#95ca49 336.5px,#bbc42f 338.5px,#c2c22c 339.5px,#a3c83f 342.5px,#9dc943 344.5px,#c5c22a 348.5px,#c1c32c 349.5px,#a6c83d 351.5px,#94ca4a 354.5px,#7bcc5d 356.5px,#93ca4b 359.5px,#a0c841 363.5px,#c3c22b 366.5px,#c0c32d 367.5px,#a2c840 369.5px,#a2c840 370.5px,#b7c532 372.5px,#9ac945 376.5px,#9fc941 380.5px,#8ecb4e 382.5px,#a6c83d 385.5px,#7fcc5a 388.5px,#73cd62 390.5px,#7fcc5a 399.5px,#9cc944 401.5px,#a1c840 402.5px,#79cc5e 404.5px,#71cd64 405.5px,#7fcc5a 407.5px,#79cc5e 410.5px,#8bcb51 413.5px,#49cb85 418.5px,#43ca8b 420.5px,#76cc60 423.5px,#7bcc5d 425.5px,#46cb87 428.5px,#47cb87 431.5px,#50cc80 432.5px,#87cb54 434.5px,#90ca4d 435.5px,#7dcc5b 437.5px,#52cc7e 439.5px,#46cb88 440.5px,#3bc993 443.5px,#48cb86 446.5px,#2ec5a3 450.5px,#31c6a0 454.5px,#02bac4 460.5px,#17aeda 476.5px)"></div><div style="height:1px;background:linear-gradient(90deg,#1ea7e1 0.5px,#1ea7e1 51.5px,#0fb2d4 52.5px,#64cd6f 53.5px,#9bc945 54.5px,#88cb53 59.5px,#a9c73a 63.5px,#91ca4d 67.5px,#41ca8c 71.5px,#28c3ab 79.5px,#18bfb6 81.5px,#25c2ad 84.5px,#1ac0b5 87.5px,#30c5a2 94.5px,#21c1b0 98.5px,#32c69f 102.5px,#23c1af 106.5px,#25c2ad 111.5px,#35c79a 114.5px,#6ecd66 116.5px,#7fcc5a 117.5px,#8bcb51 120.5px,#a9c73b 123.5px,#86cb55 129.5px,#abc739 132.5px,#85cb55 140.5px,#8ecb4f 143.5px,#80cc5a 147.5px,#9cc944 151.5px,#97ca48 154.5px,#76cc60 159.5px,#89cb52 162.5px,#79cc5e 166.5px,#8dcb50 169.5px,#5ccc75 174.5px,#9cc944 183.5px,#91ca4c 186.5px,#9ec942 188.5px,#7bcc5d 199.5px,#9ac945 203.5px,#97ca48 208.5px,#85cb55 211.5px,#a9c73b 214.5px,#94ca4a 222.5px,#90ca4d 232.5px,#a0c841 235.5px,#76cc60 240.5px,#8acb52 244.5px,#61cd71 248.5px,#95ca49 258.5px,#91ca4d 259.5px,#59cc78 262.5px,#55cc7c 263.5px,#70cd65 266.5px,#6fcd66 271.5px,#45cb88 276.5px,#69cd6a 279.5px,#5ecc74 283.5px,#68cd6b 284.5px,#95ca49 286.5px,#9ec942 287.5px,#82cc58 291.5px,#9ac946 295.5px,#65cd6e 300.5px,#78cc5f 305.5px,#60cd72 316.5px,#66cd6d 319.5px,#88cb53 322.5px,#8acb52 323.5px,#6dcd67 325.5px,#79cc5e 329.5px,#6ecd67 332.5px,#7acc5d 336.5px,#9cc944 338.5px,#a1c840 339.5px,#74cc62 342.5px,#73cd62 343.5px,#9dc943 346.5px,#abc739 348.5px,#a7c73c 349.5px,#81cc58 352.5px,#66cd6d 356.5px,#68cd6c 357.5px,#8bcb51 360.5px,#8ecb4e 363.5px,#afc637 366.5px,#b1c636 367.5px,#94ca4a 370.5px,#a9c73b 373.5px,#88cb53 378.5px,#8dcb4f 380.5px,#84cc56 383.5px,#8ecb4f 385.5px,#61cd71 391.5px,#7ccc5c 394.5px,#74cc62 396.5px,#82cc57 399.5px,#9ec942 402.5px,#74cc62 405.5px,#7ecc5b 407.5px,#73cd63 410.5px,#7ccc5c 413.5px,#57cc7a 418.5px,#51cc7f 420.5px,#5bcc77 421.5px,#83cc57 423.5px,#95ca49 425.5px,#8bcb51 426.5px,#5ccc76 428.5px,#4fcc81 430.5px,#4fcc80 432.5px,#8fcb4e 435.5px,#95ca49 437.5px,#87cb54 438.5px,#53cc7d 440.5px,#4bcb84 441.5px,#2cc4a7 457.5px,#03bbc3 462.5px,#12b1d7 476.5px)"></div><div style="height:1px;background:linear-gradient(90deg,#1aacdd 0.5px,#1aacdd 51.5px,#01b9c7 52.5px,#c2c22c 53.5px,#f3ba39 54.5px,#fabb3d 61.5px,#ebba32 66.5px,#dfbc2a 67.5px,#bfc32d 68.5px,#5ecd74 70.5px,#4acb84 71.5px,#3fca8e 77.5px,#32c69f 81.5px,#38c896 83.5px,#3bc992 91.5px,#46cb88 94.5px,#38c897 97.5px,#38c896 100.5px,#4ecc81 103.5px,#42ca8b 106.5px,#45cb89 110.5px,#54cc7c 113.5px,#70cd65 114.5px,#a7c73c 115.5px,#d4bf28 116.5px,#e4bb2c 117.5px,#f6ba3b 125.5px,#e8bb2f 129.5px,#f5ba3b 133.5px,#ebba32 141.5px,#edba33 168.5px,#dbbd29 174.5px,#f3ba39 183.5px,#f3ba39 193.5px,#e6bb2d 198.5px,#f9ba3d 208.5px,#ebba31 211.5px,#fcbc3d 215.5px,#edba34 223.5px,#f0ba36 231.5px,#fcbc3d 235.5px,#e5bb2d 240.5px,#f5ba3b 244.5px,#e6bb2d 248.5px,#f5ba3a 252.5px,#f4ba3a 259.5px,#e9bb30 263.5px,#f9bb3d 270.5px,#ddbd29 276.5px,#eeba34 279.5px,#edba34 283.5px,#fbbc3d 287.5px,#f1ba37 290.5px,#f9ba3d 296.5px,#d9be28 300.5px,#eeba34 305.5px,#dbbd29 314.5px,#efba35 323.5px,#dfbc2a 331.5px,#e3bc2c 335.5px,#f6ba3b 338.5px,#e0bc2a 342.5px,#f6ba3b 349.5px,#dbbd29 356.5px,#e8bb2f 360.5px,#debc2a 363.5px,#f4ba3a 367.5px,#dbbd28 392.5px,#f2ba38 401.5px,#ecba33 404.5px,#f3ba38 407.5px,#e3bc2c 411.5px,#e0bc2a 416.5px,#d2bf27 418.5px,#b6c532 420.5px,#b3c534 421.5px,#cbc129 423.5px,#d3bf27 425.5px,#c8c129 426.5px,#9bc944 428.5px,#96ca48 429.5px,#97ca48 432.5px,#c4c22b 435.5px,#c9c129 437.5px,#c2c22c 438.5px,#89cb52 441.5px,#57cc7a 446.5px,#4bcb84 449.5px,#38c896 451.5px,#24c1ae 458.5px,#0cbdbc 461.5px,#02bac4 464.5px,#0bb4d2 476.5px)"></div><div style="height:1px;background:linear-gradient(90deg,#14b0d8 0.5px,#14b0d8 51.5px,#10beba 52.5px,#fbbc3d 53.5px,#f7db2a 54.5px,#f6e028 58.5px,#f9d72c 66.5px,#fabb3d 68.5px,#cdc028 69.5px,#9ec942 70.5px,#87cb54 71.5px,#8dcb4f 76.5px,#7ecc5b 80.5px,#91ca4c 94.5px,#84cc56 100.5px,#95ca4a 103.5px,#a6c83d 113.5px,#c5c22a 114.5px,#f0ba36 115.5px,#fec835 116.5px,#fad52d 120.5px,#fcce31 171.5px,#fad62d 183.5px,#f9d62d 235.5px,#fdcd31 240.5px,#fad62d 245.5px,#fcd030 277.5px,#f9d72d 296.5px,#fdcd32 300.5px,#fad62d 306.5px,#fdce31 314.5px,#f8d82c 338.5px,#fdce31 364.5px,#fad62d 379.5px,#fcd130 398.5px,#f8da2b 407.5px,#fcd12f 417.5px,#fcbc3d 421.5px,#febf3b 425.5px,#e6bb2d 429.5px,#f9bb3d 437.5px,#e4bb2c 440.5px,#cdc028 443.5px,#9ac946 449.5px,#48cb86 456.5px,#0ebebb 464.5px,#01b9c7 468.5px,#05b6ce 476.5px)"></div><div style="height:1px;background:linear-gradient(90deg,#0bb3d2 0.5px,#0bb3d2 51.5px,#1ec0b2 52.5px,#fec239 53.5px,#f5e426 54.5px,#f5e725 57.5px,#f6de29 66.5px,#fec03b 68.5px,#d8be28 69.5px,#abc739 70.5px,#96ca49 71.5px,#93ca4b 72.5px,#a6c83d 112.5px,#a9c73a 113.5px,#ccc028 114.5px,#f7ba3c 115.5px,#fdce31 116.5px,#f9d72d 118.5px,#f9d82c 407.5px,#f9d72d 417.5px,#fec338 420.5px,#febe3c 424.5px,#f2ba38 428.5px,#f3ba39 438.5px,#dcbd29 442.5px,#c2c22b 445.5px,#85cb55 452.5px,#37c898 459.5px,#04bbc1 468.5px,#01b8ca 476.5px)"></div><div style="height:1px;background:linear-gradient(90deg,#03b7cc 0.5px,#03b7cc 51.5px,#21c1b0 52.5px,#f1ba37 53.5px,#fccf30 54.5px,#feca34 66.5px,#fec03a 67.5px,#e8bb2f 68.5px,#bcc42f 69.5px,#98c946 70.5px,#8ccb50 72.5px,#9fc942 113.5px,#b9c430 114.5px,#e0bc2b 115.5px,#fbbc3d 116.5px,#fec239 117.5px,#febe3c 418.5px,#e5bb2d 421.5px,#d2bf27 427.5px,#c6c22a 440.5px,#5ecd74 451.5px,#15bfb7 461.5px,#04bbc1 467.5px,#01b9c6 476.5px)"></div><div style="height:2px;background:linear-gradient(90deg,#02bac3 0.5px,#02bac3 51.5px,#2ec5a4 52.5px,#fec537 53.5px,#f5e626 54.5px,#f5e825 57.5px,#f6e028 66.5px,#fec239 68.5px,#ecba32 69.5px,#ddbd29 70.5px,#ddbd29 72.5px,#e9bb30 113.5px,#f4ba39 114.5px,#fec239 115.5px,#f9d72c 117.5px,#f9d72c 417.5px,#febe3c 422.5px,#efba35 439.5px,#ccc028 444.5px,#87cb54 452.5px,#37c897 459.5px,#0cbdbc 468.5px,#05bbc1 476.5px)"></div><div style="height:1px;background:linear-gradient(90deg,#0fbebb 0.5px,#0fbebb 51.5px,#32c69f 52.5px,#f8ba3d 53.5px,#fbd22f 54.5px,#fad42e 55.5px,#fdcc32 66.5px,#fec437 67.5px,#f4ba39 68.5px,#dabd28 69.5px,#cbc029 70.5px,#d7be28 113.5px,#fec03b 116.5px,#fec339 418.5px,#f6ba3b 420.5px,#e2bc2b 427.5px,#ddbd29 439.5px,#c3c22b 443.5px,#76cc60 453.5px,#34c79c 460.5px,#17bfb7 468.5px,#0fbeba 476.5px)"></div><div style="height:1px;background:linear-gradient(90deg,#17bfb6 0.5px,#17bfb6 51.5px,#29c3aa 52.5px,#78cc5f 53.5px,#9ac945 54.5px,#9fc942 55.5px,#9fc942 57.5px,#8dcb50 60.5px,#8dcb50 66.5px,#77cc60 70.5px,#7acc5e 113.5px,#8acb52 117.5px,#8acb52 417.5px,#7fcc5a 423.5px,#7bcc5d 439.5px,#67cd6d 453.5px,#5bcc77 457.5px,#40ca8d 461.5px,#28c2ab 467.5px,#17bfb6 472.5px,#17bfb6 476.5px)"></div><div style="height:1px;background:linear-gradient(90deg,#1cc0b3 0.5px,#1cc0b3 51.5px,#22c1b0 52.5px,#34c79c 53.5px,#3eca8f 55.5px,#35c79a 60.5px,#35c79b 456.5px,#22c1b0 468.5px,#1cc0b3 476.5px)"></div><div style="height:1px;background:linear-gradient(90deg,#21c1b0 0.5px,#21c1b0 51.5px,#30c5a2 55.5px,#27c2ab 60.5px,#21c1b0 476.5px)"></div><div id="st" style="background:linear-gradient(90deg,rgba(0,0,0,0) 53px,rgba(60,205,170,0.01) 54.5px,rgba(0,0,0,0) 55.5px,rgba(0,0,0,0) 58.5px,rgba(55,120,250,0.08) 59.5px,rgba(55,120,250,0.06) 60.5px,rgba(55,120,250,0.00) 61.5px,rgba(0,0,0,0) 62.5px,rgba(0,0,0,0) 65.5px,rgba(55,120,250,0.02) 66.5px,rgba(55,120,250,0.08) 67.5px,rgba(0,0,0,0) 68.5px,rgba(0,0,0,0) 70.5px,rgba(55,120,250,0.00) 71.5px,rgba(0,0,0,0) 72.5px,rgba(0,0,0,0) 74.5px,rgba(55,120,250,0.05) 75.5px,rgba(55,120,250,0.09) 76.5px,rgba(55,120,250,0.11) 77.5px,rgba(55,120,250,0.07) 78.5px,rgba(0,0,0,0) 79.5px,rgba(0,0,0,0) 80.5px,rgba(55,120,250,0.04) 81.5px,rgba(55,120,250,0.03) 82.5px,rgba(55,120,250,0.02) 83.5px,rgba(55,120,250,0.11) 84.5px,rgba(55,120,250,0.11) 85.5px,rgba(0,0,0,0) 86.5px,rgba(0,0,0,0) 88.5px,rgba(60,205,170,0.01) 89.5px,rgba(60,205,170,0.02) 90.5px,rgba(0,0,0,0) 91.5px,rgba(55,120,250,0.05) 92.5px,rgba(55,120,250,0.09) 93.5px,rgba(55,120,250,0.06) 94.5px,rgba(55,120,250,0.05) 95.5px,rgba(0,0,0,0) 96.5px,rgba(60,205,170,0.02) 97.5px,rgba(60,205,170,0.04) 98.5px,rgba(0,0,0,0) 99.5px,rgba(0,0,0,0) 102.5px,rgba(55,120,250,0.11) 103.5px,rgba(55,120,250,0.10) 104.5px,rgba(0,0,0,0) 105.5px,rgba(0,0,0,0) 108.5px,rgba(60,205,170,0.11) 109.5px,rgba(60,205,170,0.08) 110.5px,rgba(0,0,0,0) 111.5px,rgba(55,120,250,0.01) 112.5px,rgba(0,0,0,0) 113.5px,rgba(0,0,0,0) 116.5px,rgba(60,205,170,0.16) 117.5px,rgba(60,205,170,0.32) 118.5px,rgba(60,205,170,0.32) 119.5px,rgba(60,205,170,0.10) 120.5px,rgba(0,0,0,0) 121.5px,rgba(0,0,0,0) 123.5px,rgba(60,205,170,0.00) 124.5px,rgba(60,205,170,0.08) 125.5px,rgba(60,205,170,0.05) 126.5px,rgba(60,205,170,0.07) 127.5px,rgba(60,205,170,0.01) 128.5px,rgba(0,0,0,0) 129.5px,rgba(0,0,0,0) 133.5px,rgba(60,205,170,0.04) 134.5px,rgba(60,205,170,0.19) 135.5px,rgba(60,205,170,0.15) 136.5px,rgba(60,205,170,0.08) 137.5px,rgba(60,205,170,0.01) 138.5px,rgba(0,0,0,0) 139.5px,rgba(55,120,250,0.07) 140.5px,rgba(55,120,250,0.11) 141.5px,rgba(55,120,250,0.11) 142.5px,rgba(55,120,250,0.06) 143.5px,rgba(0,0,0,0) 144.5px,rgba(0,0,0,0) 147.5px,rgba(60,205,170,0.02) 148.5px,rgba(60,205,170,0.13) 149.5px,rgba(60,205,170,0.16) 150.5px,rgba(60,205,170,0.09) 151.5px,rgba(60,205,170,0.11) 152.5px,rgba(60,205,170,0.01) 153.5px,rgba(0,0,0,0) 154.5px,rgba(0,0,0,0) 155.5px,rgba(55,120,250,0.10) 156.5px,rgba(55,120,250,0.13) 157.5px,rgba(55,120,250,0.03) 158.5px,rgba(55,120,250,0.04) 159.5px,rgba(55,120,250,0.07) 160.5px,rgba(0,0,0,0) 161.5px,rgba(0,0,0,0) 165.5px,rgba(55,120,250,0.01) 166.5px,rgba(55,120,250,0.14) 167.5px,rgba(55,120,250,0.15) 168.5px,rgba(0,0,0,0) 169.5px,rgba(60,205,170,0.09) 170.5px,rgba(60,205,170,0.15) 171.5px,rgba(60,205,170,0.05) 172.5px,rgba(0,0,0,0) 173.5px,rgba(0,0,0,0) 174.5px,rgba(60,205,170,0.00) 175.5px,rgba(60,205,170,0.05) 176.5px,rgba(0,0,0,0) 177.5px,rgba(55,120,250,0.06) 178.5px,rgba(55,120,250,0.06) 179.5px,rgba(0,0,0,0) 180.5px,rgba(0,0,0,0) 183.5px,rgba(55,120,250,0.03) 184.5px,rgba(55,120,250,0.07) 185.5px,rgba(0,0,0,0) 186.5px,rgba(60,205,170,0.14) 187.5px,rgba(60,205,170,0.24) 188.5px,rgba(60,205,170,0.32) 189.5px,rgba(60,205,170,0.23) 190.5px,rgba(0,0,0,0) 191.5px,rgba(55,120,250,0.10) 192.5px,rgba(55,120,250,0.11) 193.5px,rgba(55,120,250,0.09) 194.5px,rgba(55,120,250,0.04) 195.5px,rgba(55,120,250,0.07) 196.5px,rgba(55,120,250,0.11) 197.5px,rgba(55,120,250,0.09) 198.5px,rgba(55,120,250,0.01) 199.5px,rgba(0,0,0,0) 200.5px,rgba(60,205,170,0.05) 201.5px,rgba(60,205,170,0.14) 202.5px,rgba(60,205,170,0.06) 203.5px,rgba(60,205,170,0.01) 204.5px,rgba(60,205,170,0.11) 205.5px,rgba(60,205,170,0.28) 206.5px,rgba(60,205,170,0.25) 207.5px,rgba(60,205,170,0.05) 208.5px,rgba(0,0,0,0) 209.5px,rgba(0,0,0,0) 211.5px,rgba(60,205,170,0.02) 212.5px,rgba(60,205,170,0.08) 213.5px,rgba(60,205,170,0.15) 214.5px,rgba(60,205,170,0.26) 215.5px,rgba(60,205,170,0.18) 216.5px,rgba(0,0,0,0) 217.5px,rgba(0,0,0,0) 218.5px,rgba(60,205,170,0.11) 219.5px,rgba(60,205,170,0.24) 220.5px,rgba(60,205,170,0.10) 221.5px,rgba(60,205,170,0.10) 222.5px,rgba(60,205,170,0.20) 223.5px,rgba(60,205,170,0.13) 224.5px,rgba(0,0,0,0) 225.5px,rgba(0,0,0,0) 226.5px,rgba(55,120,250,0.04) 227.5px,rgba(55,120,250,0.09) 228.5px,rgba(55,120,250,0.02) 229.5px,rgba(0,0,0,0) 230.5px,rgba(0,0,0,0) 232.5px,rgba(55,120,250,0.07) 233.5px,rgba(55,120,250,0.01) 234.5px,rgba(0,0,0,0) 235.5px,rgba(0,0,0,0) 239.5px,rgba(55,120,250,0.00) 240.5px,rgba(0,0,0,0) 241.5px,rgba(55,120,250,0.02) 242.5px,rgba(55,120,250,0.07) 243.5px,rgba(55,120,250,0.02) 244.5px,rgba(0,0,0,0) 245.5px,rgba(55,120,250,0.01) 246.5px,rgba(55,120,250,0.05) 247.5px,rgba(0,0,0,0) 248.5px,rgba(0,0,0,0) 249.5px,rgba(55,120,250,0.13) 250.5px,rgba(55,120,250,0.17) 251.5px,rgba(55,120,250,0.08) 252.5px,rgba(55,120,250,0.03) 253.5px,rgba(0,0,0,0) 254.5px,rgba(0,0,0,0) 256.5px,rgba(55,120,250,0.03) 257.5px,rgba(0,0,0,0) 258.5px,rgba(60,205,170,0.07) 259.5px,rgba(60,205,170,0.13) 260.5px,rgba(60,205,170,0.07) 261.5px,rgba(60,205,170,0.01) 262.5px,rgba(55,120,250,0.02) 263.5px,rgba(55,120,250,0.09) 264.5px,rgba(55,120,250,0.00) 265.5px,rgba(0,0,0,0) 266.5px,rgba(0,0,0,0) 269.5px,rgba(60,205,170,0.03) 270.5px,rgba(0,0,0,0) 271.5px,rgba(55,120,250,0.02) 272.5px,rgba(55,120,250,0.06) 273.5px,rgba(0,0,0,0) 274.5px,rgba(0,0,0,0) 277.5px,rgba(55,120,250,0.11) 278.5px,rgba(55,120,250,0.05) 279.5px,rgba(0,0,0,0) 280.5px,rgba(0,0,0,0) 283.5px,rgba(60,205,170,0.08) 284.5px,rgba(60,205,170,0.22) 285.5px,rgba(60,205,170,0.20) 286.5px,rgba(60,205,170,0.12) 287.5px,rgba(0,0,0,0) 288.5px,rgba(55,120,250,0.04) 289.5px,rgba(0,0,0,0) 290.5px,rgba(55,120,250,0.02) 291.5px,rgba(55,120,250,0.15) 292.5px,rgba(55,120,250,0.13) 293.5px,rgba(55,120,250,0.07) 294.5px,rgba(55,120,250,0.06) 295.5px,rgba(55,120,250,0.08) 296.5px,rgba(55,120,250,0.08) 297.5px,rgba(55,120,250,0.00) 298.5px,rgba(0,0,0,0) 299.5px,rgba(0,0,0,0) 300.5px,rgba(55,120,250,0.05) 301.5px,rgba(55,120,250,0.05) 302.5px,rgba(55,120,250,0.10) 303.5px,rgba(55,120,250,0.16) 304.5px,rgba(55,120,250,0.15) 305.5px,rgba(55,120,250,0.15) 306.5px,rgba(55,120,250,0.07) 307.5px,rgba(0,0,0,0) 308.5px,rgba(0,0,0,0) 309.5px,rgba(60,205,170,0.03) 310.5px,rgba(60,205,170,0.03) 311.5px,rgba(0,0,0,0) 312.5px,rgba(0,0,0,0) 313.5px,rgba(60,205,170,0.25) 314.5px,rgba(60,205,170,0.31) 315.5px,rgba(60,205,170,0.10) 316.5px,rgba(0,0,0,0) 317.5px,rgba(55,120,250,0.04) 318.5px,rgba(55,120,250,0.09) 319.5px,rgba(55,120,250,0.10) 320.5px,rgba(55,120,250,0.08) 321.5px,rgba(55,120,250,0.05) 322.5px,rgba(55,120,250,0.01) 323.5px,rgba(0,0,0,0) 324.5px,rgba(0,0,0,0) 325.5px,rgba(55,120,250,0.04) 326.5px,rgba(55,120,250,0.07) 327.5px,rgba(0,0,0,0) 328.5px,rgba(0,0,0,0) 330.5px,rgba(55,120,250,0.10) 331.5px,rgba(55,120,250,0.17) 332.5px,rgba(55,120,250,0.09) 333.5px,rgba(0,0,0,0) 334.5px,rgba(55,120,250,0.01) 335.5px,rgba(0,0,0,0) 336.5px,rgba(0,0,0,0) 340.5px,rgba(60,205,170,0.03) 341.5px,rgba(0,0,0,0) 342.5px,rgba(60,205,170,0.04) 343.5px,rgba(60,205,170,0.11) 344.5px,rgba(0,0,0,0) 345.5px,rgba(0,0,0,0) 346.5px,rgba(60,205,170,0.05) 347.5px,rgba(0,0,0,0) 348.5px,rgba(55,120,250,0.00) 349.5px,rgba(0,0,0,0) 350.5px,rgba(0,0,0,0) 351.5px,rgba(60,205,170,0.12) 352.5px,rgba(60,205,170,0.16) 353.5px,rgba(60,205,170,0.20) 354.5px,rgba(60,205,170,0.17) 355.5px,rgba(60,205,170,0.19) 356.5px,rgba(60,205,170,0.08) 357.5px,rgba(55,120,250,0.07) 358.5px,rgba(55,120,250,0.18) 359.5px,rgba(55,120,250,0.13) 360.5px,rgba(0,0,0,0) 361.5px,rgba(60,205,170,0.09) 362.5px,rgba(60,205,170,0.11) 363.5px,rgba(60,205,170,0.08) 364.5px,rgba(0,0,0,0) 365.5px,rgba(55,120,250,0.03) 366.5px,rgba(55,120,250,0.21) 367.5px,rgba(55,120,250,0.21) 368.5px,rgba(55,120,250,0.17) 369.5px,rgba(55,120,250,0.05) 370.5px,rgba(60,205,170,0.04) 371.5px,rgba(0,0,0,0) 372.5px,rgba(55,120,250,0.02) 373.5px,rgba(0,0,0,0) 374.5px,rgba(0,0,0,0) 375.5px,rgba(55,120,250,0.03) 376.5px,rgba(0,0,0,0) 377.5px,rgba(60,205,170,0.05) 378.5px,rgba(60,205,170,0.07) 379.5px,rgba(60,205,170,0.01) 380.5px,rgba(0,0,0,0) 381.5px,rgba(0,0,0,0) 382.5px,rgba(55,120,250,0.07) 383.5px,rgba(0,0,0,0) 384.5px,rgba(0,0,0,0) 388.5px,rgba(55,120,250,0.01) 389.5px,rgba(0,0,0,0) 390.5px,rgba(0,0,0,0) 391.5px,rgba(55,120,250,0.00) 392.5px,rgba(0,0,0,0) 393.5px,rgba(0,0,0,0) 394.5px,rgba(55,120,250,0.01) 395.5px,rgba(55,120,250,0.05) 396.5px,rgba(55,120,250,0.04) 397.5px,rgba(55,120,250,0.05) 398.5px,rgba(0,0,0,0) 399.5px,rgba(0,0,0,0) 402.5px,rgba(55,120,250,0.07) 403.5px,rgba(55,120,250,0.06) 404.5px,rgba(55,120,250,0.08) 405.5px,rgba(55,120,250,0.04) 406.5px,rgba(60,205,170,0.05) 407.5px,rgba(60,205,170,0.14) 408.5px,rgba(60,205,170,0.16) 409.5px,rgba(60,205,170,0.13) 410.5px,rgba(0,0,0,0) 411.5px,rgba(60,205,170,0.09) 412.5px,rgba(60,205,170,0.26) 413.5px,rgba(60,205,170,0.21) 414.5px,rgba(60,205,170,0.03) 415.5px,rgba(0,0,0,0) 416.5px,rgba(55,120,250,0.04) 417.5px,rgba(55,120,250,0.08) 418.5px,rgba(55,120,250,0.04) 419.5px,rgba(0,0,0,0) 420.5px,rgba(60,205,170,0.01) 421.5px,rgba(60,205,170,0.11) 422.5px,rgba(60,205,170,0.13) 423.5px,rgba(60,205,170,0.11) 424.5px,rgba(60,205,170,0.09) 425.5px,rgba(0,0,0,0) 426.5px,rgba(55,120,250,0.03) 427.5px,rgba(55,120,250,0.08) 428.5px,rgba(0,0,0,0) 429.5px,rgba(60,205,170,0.03) 430.5px,rgba(0,0,0,0) 431.5px,rgba(0,0,0,0) 434.5px,rgba(55,120,250,0.03) 435.5px,rgba(55,120,250,0.00) 436.5px,rgba(0,0,0,0) 437.5px,rgba(60,205,170,0.08) 438.5px,rgba(60,205,170,0.06) 439.5px,rgba(0,0,0,0) 440.5px,rgba(55,120,250,0.04) 441.5px,rgba(55,120,250,0.01) 442.5px,rgba(60,205,170,0.03) 443.5px,rgba(60,205,170,0.12) 444.5px,rgba(60,205,170,0.06) 445.5px,rgba(60,205,170,0.09) 446.5px,rgba(60,205,170,0.12) 447.5px,rgba(60,205,170,0.12) 448.5px,rgba(60,205,170,0.00) 449.5px,rgba(0,0,0,0) 452px)"></div><div id="su" style="background:linear-gradient(90deg,rgba(0,0,0,0) 53px,rgba(60,205,170,0.01) 54.5px,rgba(0,0,0,0) 55.5px,rgba(0,0,0,0) 58.5px,rgba(55,120,250,0.08) 59.5px,rgba(55,120,250,0.06) 60.5px,rgba(55,120,250,0.00) 61.5px,rgba(0,0,0,0) 62.5px,rgba(0,0,0,0) 65.5px,rgba(55,120,250,0.02) 66.5px,rgba(55,120,250,0.08) 67.5px,rgba(0,0,0,0) 68.5px,rgba(0,0,0,0) 70.5px,rgba(55,120,250,0.00) 71.5px,rgba(0,0,0,0) 72.5px,rgba(0,0,0,0) 74.5px,rgba(55,120,250,0.05) 75.5px,rgba(55,120,250,0.09) 76.5px,rgba(55,120,250,0.11) 77.5px,rgba(55,120,250,0.07) 78.5px,rgba(0,0,0,0) 79.5px,rgba(0,0,0,0) 80.5px,rgba(55,120,250,0.04) 81.5px,rgba(55,120,250,0.03) 82.5px,rgba(55,120,250,0.02) 83.5px,rgba(55,120,250,0.11) 84.5px,rgba(55,120,250,0.11) 85.5px,rgba(0,0,0,0) 86.5px,rgba(0,0,0,0) 88.5px,rgba(60,205,170,0.01) 89.5px,rgba(60,205,170,0.02) 90.5px,rgba(0,0,0,0) 91.5px,rgba(55,120,250,0.05) 92.5px,rgba(55,120,250,0.09) 93.5px,rgba(55,120,250,0.06) 94.5px,rgba(55,120,250,0.05) 95.5px,rgba(0,0,0,0) 96.5px,rgba(60,205,170,0.02) 97.5px,rgba(60,205,170,0.04) 98.5px,rgba(0,0,0,0) 99.5px,rgba(0,0,0,0) 102.5px,rgba(55,120,250,0.11) 103.5px,rgba(55,120,250,0.10) 104.5px,rgba(0,0,0,0) 105.5px,rgba(0,0,0,0) 108.5px,rgba(60,205,170,0.11) 109.5px,rgba(60,205,170,0.08) 110.5px,rgba(0,0,0,0) 111.5px,rgba(55,120,250,0.01) 112.5px,rgba(0,0,0,0) 113.5px,rgba(0,0,0,0) 116.5px,rgba(60,205,170,0.16) 117.5px,rgba(60,205,170,0.32) 118.5px,rgba(60,205,170,0.32) 119.5px,rgba(60,205,170,0.10) 120.5px,rgba(0,0,0,0) 121.5px,rgba(0,0,0,0) 123.5px,rgba(60,205,170,0.00) 124.5px,rgba(60,205,170,0.08) 125.5px,rgba(60,205,170,0.05) 126.5px,rgba(60,205,170,0.07) 127.5px,rgba(60,205,170,0.01) 128.5px,rgba(0,0,0,0) 129.5px,rgba(0,0,0,0) 133.5px,rgba(60,205,170,0.04) 134.5px,rgba(60,205,170,0.19) 135.5px,rgba(60,205,170,0.15) 136.5px,rgba(60,205,170,0.08) 137.5px,rgba(60,205,170,0.01) 138.5px,rgba(0,0,0,0) 139.5px,rgba(55,120,250,0.07) 140.5px,rgba(55,120,250,0.11) 141.5px,rgba(55,120,250,0.11) 142.5px,rgba(55,120,250,0.06) 143.5px,rgba(0,0,0,0) 144.5px,rgba(0,0,0,0) 147.5px,rgba(60,205,170,0.02) 148.5px,rgba(60,205,170,0.13) 149.5px,rgba(60,205,170,0.16) 150.5px,rgba(60,205,170,0.09) 151.5px,rgba(60,205,170,0.11) 152.5px,rgba(60,205,170,0.01) 153.5px,rgba(0,0,0,0) 154.5px,rgba(0,0,0,0) 155.5px,rgba(55,120,250,0.10) 156.5px,rgba(55,120,250,0.13) 157.5px,rgba(55,120,250,0.03) 158.5px,rgba(55,120,250,0.04) 159.5px,rgba(55,120,250,0.07) 160.5px,rgba(0,0,0,0) 161.5px,rgba(0,0,0,0) 165.5px,rgba(55,120,250,0.01) 166.5px,rgba(55,120,250,0.14) 167.5px,rgba(55,120,250,0.15) 168.5px,rgba(0,0,0,0) 169.5px,rgba(60,205,170,0.09) 170.5px,rgba(60,205,170,0.15) 171.5px,rgba(60,205,170,0.05) 172.5px,rgba(0,0,0,0) 173.5px,rgba(0,0,0,0) 174.5px,rgba(60,205,170,0.00) 175.5px,rgba(60,205,170,0.05) 176.5px,rgba(0,0,0,0) 177.5px,rgba(55,120,250,0.06) 178.5px,rgba(55,120,250,0.06) 179.5px,rgba(0,0,0,0) 180.5px,rgba(0,0,0,0) 183.5px,rgba(55,120,250,0.03) 184.5px,rgba(55,120,250,0.07) 185.5px,rgba(0,0,0,0) 186.5px,rgba(60,205,170,0.14) 187.5px,rgba(60,205,170,0.24) 188.5px,rgba(60,205,170,0.32) 189.5px,rgba(60,205,170,0.23) 190.5px,rgba(0,0,0,0) 191.5px,rgba(55,120,250,0.10) 192.5px,rgba(55,120,250,0.11) 193.5px,rgba(55,120,250,0.09) 194.5px,rgba(55,120,250,0.04) 195.5px,rgba(55,120,250,0.07) 196.5px,rgba(55,120,250,0.11) 197.5px,rgba(55,120,250,0.09) 198.5px,rgba(55,120,250,0.01) 199.5px,rgba(0,0,0,0) 200.5px,rgba(60,205,170,0.05) 201.5px,rgba(60,205,170,0.14) 202.5px,rgba(60,205,170,0.06) 203.5px,rgba(60,205,170,0.01) 204.5px,rgba(60,205,170,0.11) 205.5px,rgba(60,205,170,0.28) 206.5px,rgba(60,205,170,0.25) 207.5px,rgba(60,205,170,0.05) 208.5px,rgba(0,0,0,0) 209.5px,rgba(0,0,0,0) 211.5px,rgba(60,205,170,0.02) 212.5px,rgba(60,205,170,0.08) 213.5px,rgba(60,205,170,0.15) 214.5px,rgba(60,205,170,0.26) 215.5px,rgba(60,205,170,0.18) 216.5px,rgba(0,0,0,0) 217.5px,rgba(0,0,0,0) 218.5px,rgba(60,205,170,0.11) 219.5px,rgba(60,205,170,0.24) 220.5px,rgba(60,205,170,0.10) 221.5px,rgba(60,205,170,0.10) 222.5px,rgba(60,205,170,0.20) 223.5px,rgba(60,205,170,0.13) 224.5px,rgba(0,0,0,0) 225.5px,rgba(0,0,0,0) 226.5px,rgba(55,120,250,0.04) 227.5px,rgba(55,120,250,0.09) 228.5px,rgba(55,120,250,0.02) 229.5px,rgba(0,0,0,0) 230.5px,rgba(0,0,0,0) 232.5px,rgba(55,120,250,0.07) 233.5px,rgba(55,120,250,0.01) 234.5px,rgba(0,0,0,0) 235.5px,rgba(0,0,0,0) 239.5px,rgba(55,120,250,0.00) 240.5px,rgba(0,0,0,0) 241.5px,rgba(55,120,250,0.02) 242.5px,rgba(55,120,250,0.07) 243.5px,rgba(55,120,250,0.02) 244.5px,rgba(0,0,0,0) 245.5px,rgba(55,120,250,0.01) 246.5px,rgba(55,120,250,0.05) 247.5px,rgba(0,0,0,0) 248.5px,rgba(0,0,0,0) 249.5px,rgba(55,120,250,0.13) 250.5px,rgba(55,120,250,0.17) 251.5px,rgba(55,120,250,0.08) 252.5px,rgba(55,120,250,0.03) 253.5px,rgba(0,0,0,0) 254.5px,rgba(0,0,0,0) 256.5px,rgba(55,120,250,0.03) 257.5px,rgba(0,0,0,0) 258.5px,rgba(60,205,170,0.07) 259.5px,rgba(60,205,170,0.13) 260.5px,rgba(60,205,170,0.07) 261.5px,rgba(60,205,170,0.01) 262.5px,rgba(55,120,250,0.02) 263.5px,rgba(55,120,250,0.09) 264.5px,rgba(55,120,250,0.00) 265.5px,rgba(0,0,0,0) 266.5px,rgba(0,0,0,0) 269.5px,rgba(60,205,170,0.03) 270.5px,rgba(0,0,0,0) 271.5px,rgba(55,120,250,0.02) 272.5px,rgba(55,120,250,0.06) 273.5px,rgba(0,0,0,0) 274.5px,rgba(0,0,0,0) 277.5px,rgba(55,120,250,0.11) 278.5px,rgba(55,120,250,0.05) 279.5px,rgba(0,0,0,0) 280.5px,rgba(0,0,0,0) 283.5px,rgba(60,205,170,0.08) 284.5px,rgba(60,205,170,0.22) 285.5px,rgba(60,205,170,0.20) 286.5px,rgba(60,205,170,0.12) 287.5px,rgba(0,0,0,0) 288.5px,rgba(55,120,250,0.04) 289.5px,rgba(0,0,0,0) 290.5px,rgba(55,120,250,0.02) 291.5px,rgba(55,120,250,0.15) 292.5px,rgba(55,120,250,0.13) 293.5px,rgba(55,120,250,0.07) 294.5px,rgba(55,120,250,0.06) 295.5px,rgba(55,120,250,0.08) 296.5px,rgba(55,120,250,0.08) 297.5px,rgba(55,120,250,0.00) 298.5px,rgba(0,0,0,0) 299.5px,rgba(0,0,0,0) 300.5px,rgba(55,120,250,0.05) 301.5px,rgba(55,120,250,0.05) 302.5px,rgba(55,120,250,0.10) 303.5px,rgba(55,120,250,0.16) 304.5px,rgba(55,120,250,0.15) 305.5px,rgba(55,120,250,0.15) 306.5px,rgba(55,120,250,0.07) 307.5px,rgba(0,0,0,0) 308.5px,rgba(0,0,0,0) 309.5px,rgba(60,205,170,0.03) 310.5px,rgba(60,205,170,0.03) 311.5px,rgba(0,0,0,0) 312.5px,rgba(0,0,0,0) 313.5px,rgba(60,205,170,0.25) 314.5px,rgba(60,205,170,0.31) 315.5px,rgba(60,205,170,0.10) 316.5px,rgba(0,0,0,0) 317.5px,rgba(55,120,250,0.04) 318.5px,rgba(55,120,250,0.09) 319.5px,rgba(55,120,250,0.10) 320.5px,rgba(55,120,250,0.08) 321.5px,rgba(55,120,250,0.05) 322.5px,rgba(55,120,250,0.01) 323.5px,rgba(0,0,0,0) 324.5px,rgba(0,0,0,0) 325.5px,rgba(55,120,250,0.04) 326.5px,rgba(55,120,250,0.07) 327.5px,rgba(0,0,0,0) 328.5px,rgba(0,0,0,0) 330.5px,rgba(55,120,250,0.10) 331.5px,rgba(55,120,250,0.17) 332.5px,rgba(55,120,250,0.09) 333.5px,rgba(0,0,0,0) 334.5px,rgba(55,120,250,0.01) 335.5px,rgba(0,0,0,0) 336.5px,rgba(0,0,0,0) 340.5px,rgba(60,205,170,0.03) 341.5px,rgba(0,0,0,0) 342.5px,rgba(60,205,170,0.04) 343.5px,rgba(60,205,170,0.11) 344.5px,rgba(0,0,0,0) 345.5px,rgba(0,0,0,0) 346.5px,rgba(60,205,170,0.05) 347.5px,rgba(0,0,0,0) 348.5px,rgba(55,120,250,0.00) 349.5px,rgba(0,0,0,0) 350.5px,rgba(0,0,0,0) 351.5px,rgba(60,205,170,0.12) 352.5px,rgba(60,205,170,0.16) 353.5px,rgba(60,205,170,0.20) 354.5px,rgba(60,205,170,0.17) 355.5px,rgba(60,205,170,0.19) 356.5px,rgba(60,205,170,0.08) 357.5px,rgba(55,120,250,0.07) 358.5px,rgba(55,120,250,0.18) 359.5px,rgba(55,120,250,0.13) 360.5px,rgba(0,0,0,0) 361.5px,rgba(60,205,170,0.09) 362.5px,rgba(60,205,170,0.11) 363.5px,rgba(60,205,170,0.08) 364.5px,rgba(0,0,0,0) 365.5px,rgba(55,120,250,0.03) 366.5px,rgba(55,120,250,0.21) 367.5px,rgba(55,120,250,0.21) 368.5px,rgba(55,120,250,0.17) 369.5px,rgba(55,120,250,0.05) 370.5px,rgba(60,205,170,0.04) 371.5px,rgba(0,0,0,0) 372.5px,rgba(55,120,250,0.02) 373.5px,rgba(0,0,0,0) 374.5px,rgba(0,0,0,0) 375.5px,rgba(55,120,250,0.03) 376.5px,rgba(0,0,0,0) 377.5px,rgba(60,205,170,0.05) 378.5px,rgba(60,205,170,0.07) 379.5px,rgba(60,205,170,0.01) 380.5px,rgba(0,0,0,0) 381.5px,rgba(0,0,0,0) 382.5px,rgba(55,120,250,0.07) 383.5px,rgba(0,0,0,0) 384.5px,rgba(0,0,0,0) 388.5px,rgba(55,120,250,0.01) 389.5px,rgba(0,0,0,0) 390.5px,rgba(0,0,0,0) 391.5px,rgba(55,120,250,0.00) 392.5px,rgba(0,0,0,0) 393.5px,rgba(0,0,0,0) 394.5px,rgba(55,120,250,0.01) 395.5px,rgba(55,120,250,0.05) 396.5px,rgba(55,120,250,0.04) 397.5px,rgba(55,120,250,0.05) 398.5px,rgba(0,0,0,0) 399.5px,rgba(0,0,0,0) 402.5px,rgba(55,120,250,0.07) 403.5px,rgba(55,120,250,0.06) 404.5px,rgba(55,120,250,0.08) 405.5px,rgba(55,120,250,0.04) 406.5px,rgba(60,205,170,0.05) 407.5px,rgba(60,205,170,0.14) 408.5px,rgba(60,205,170,0.16) 409.5px,rgba(60,205,170,0.13) 410.5px,rgba(0,0,0,0) 411.5px,rgba(60,205,170,0.09) 412.5px,rgba(60,205,170,0.26) 413.5px,rgba(60,205,170,0.21) 414.5px,rgba(60,205,170,0.03) 415.5px,rgba(0,0,0,0) 416.5px,rgba(55,120,250,0.04) 417.5px,rgba(55,120,250,0.08) 418.5px,rgba(55,120,250,0.04) 419.5px,rgba(0,0,0,0) 420.5px,rgba(60,205,170,0.01) 421.5px,rgba(60,205,170,0.11) 422.5px,rgba(60,205,170,0.13) 423.5px,rgba(60,205,170,0.11) 424.5px,rgba(60,205,170,0.09) 425.5px,rgba(0,0,0,0) 426.5px,rgba(55,120,250,0.03) 427.5px,rgba(55,120,250,0.08) 428.5px,rgba(0,0,0,0) 429.5px,rgba(60,205,170,0.03) 430.5px,rgba(0,0,0,0) 431.5px,rgba(0,0,0,0) 434.5px,rgba(55,120,250,0.03) 435.5px,rgba(55,120,250,0.00) 436.5px,rgba(0,0,0,0) 437.5px,rgba(60,205,170,0.08) 438.5px,rgba(60,205,170,0.06) 439.5px,rgba(0,0,0,0) 440.5px,rgba(55,120,250,0.04) 441.5px,rgba(55,120,250,0.01) 442.5px,rgba(60,205,170,0.03) 443.5px,rgba(60,205,170,0.12) 444.5px,rgba(60,205,170,0.06) 445.5px,rgba(60,205,170,0.09) 446.5px,rgba(60,205,170,0.12) 447.5px,rgba(60,205,170,0.12) 448.5px,rgba(60,205,170,0.00) 449.5px,rgba(0,0,0,0) 452px)"></div></div>
<svg id="ov" width="700" height="525" viewBox="0 0 700 525">
<defs><linearGradient id="cb" x1="0" y1="0" x2="0" y2="1"><stop offset="0.0000" stop-color="#f9fb15"/><stop offset="0.0159" stop-color="#f7f51b"/><stop offset="0.0317" stop-color="#f6ef20"/><stop offset="0.0476" stop-color="#f5e924"/><stop offset="0.0635" stop-color="#f5e327"/><stop offset="0.0794" stop-color="#f7dc2a"/><stop offset="0.0952" stop-color="#fad62d"/><stop offset="0.1111" stop-color="#fccf30"/><stop offset="0.1270" stop-color="#fec934"/><stop offset="0.1429" stop-color="#fec338"/><stop offset="0.1587" stop-color="#febe3c"/><stop offset="0.1746" stop-color="#f8ba3d"/><stop offset="0.1905" stop-color="#f0ba36"/><stop offset="0.2063" stop-color="#e6bb2d"/><stop offset="0.2222" stop-color="#dcbd29"/><stop offset="0.2381" stop-color="#d1bf27"/><stop offset="0.2540" stop-color="#c5c22a"/><stop offset="0.2698" stop-color="#b9c431"/><stop offset="0.2857" stop-color="#abc739"/><stop offset="0.3016" stop-color="#9dc943"/><stop offset="0.3175" stop-color="#8fcb4e"/><stop offset="0.3333" stop-color="#81cc59"/><stop offset="0.3492" stop-color="#72cd64"/><stop offset="0.3651" stop-color="#64cd6f"/><stop offset="0.3810" stop-color="#57cc7a"/><stop offset="0.3968" stop-color="#4acb84"/><stop offset="0.4127" stop-color="#3fca8e"/><stop offset="0.4286" stop-color="#37c897"/><stop offset="0.4444" stop-color="#31c69f"/><stop offset="0.4603" stop-color="#2cc4a7"/><stop offset="0.4762" stop-color="#24c1ae"/><stop offset="0.4921" stop-color="#19bfb6"/><stop offset="0.5079" stop-color="#0bbdbd"/><stop offset="0.5238" stop-color="#02bac3"/><stop offset="0.5397" stop-color="#01b8ca"/><stop offset="0.5556" stop-color="#08b5d0"/><stop offset="0.5714" stop-color="#12b1d6"/><stop offset="0.5873" stop-color="#18addb"/><stop offset="0.6032" stop-color="#1ca9df"/><stop offset="0.6190" stop-color="#20a5e3"/><stop offset="0.6349" stop-color="#23a0e5"/><stop offset="0.6508" stop-color="#259be8"/><stop offset="0.6667" stop-color="#2797eb"/><stop offset="0.6825" stop-color="#2b91ef"/><stop offset="0.6984" stop-color="#2d8cf3"/><stop offset="0.7143" stop-color="#2e87f7"/><stop offset="0.7302" stop-color="#2f81fa"/><stop offset="0.7460" stop-color="#327cfc"/><stop offset="0.7619" stop-color="#3875fe"/><stop offset="0.7778" stop-color="#3e6fff"/><stop offset="0.7937" stop-color="#4269fe"/><stop offset="0.8095" stop-color="#4563fd"/><stop offset="0.8254" stop-color="#465efb"/><stop offset="0.8413" stop-color="#4758f8"/><stop offset="0.8571" stop-color="#4852f4"/><stop offset="0.8730" stop-color="#484df0"/><stop offset="0.8889" stop-color="#4747eb"/><stop offset="0.9048" stop-color="#4741e5"/><stop offset="0.9206" stop-color="#463cde"/><stop offset="0.9365" stop-color="#4537d5"/><stop offset="0.9524" stop-color="#4332cb"/><stop offset="0.9683" stop-color="#422ec0"/><stop offset="0.9841" stop-color="#402ab4"/><stop offset="1.0000" stop-color="#3e26a8"/></linearGradient><filter id="ns" x="0" y="0" width="100%" height="100%" color-interpolation-filters="sRGB"><feTurbulence type="fractalNoise" baseFrequency="0.24" numOctaves="2" seed="11" result="c"/><feTurbulence type="fractalNoise" baseFrequency="0.5" numOctaves="2" seed="4" result="n"/><feColorMatrix in="c" type="matrix" values="0 0 0 0 0.36  0 0 0 0 0.30  0 0 0 0 0.92  0 -3.2 0 0 1.75" result="bl"/><feColorMatrix in="n" type="matrix" values="0 0 0 0 0.28  0 0 0 0 0.22  0 0 0 0 0.86  0 -5 0 0 2.15" result="dk"/><feColorMatrix in="n" type="matrix" values="0 0 0 0 0.18  0 0 0 0 0.52  0 0 0 0 0.99  4 0 0 0 -2.1" result="lt"/><feMerge><feMergeNode in="bl"/><feMergeNode in="dk"/><feMergeNode in="lt"/></feMerge></filter><filter id="nt" x="0" y="0" width="100%" height="100%" color-interpolation-filters="sRGB"><feTurbulence type="fractalNoise" baseFrequency="0.42" numOctaves="2" seed="31" result="n"/><feColorMatrix in="n" type="matrix" values="0 0 0 0 0.28  0 0 0 0 0.27  0 0 0 0 0.92  0 -4.5 0 0 2.0" result="dk"/><feColorMatrix in="n" type="matrix" values="0 0 0 0 0.15  0 0 0 0 0.58  0 0 0 0 0.95  3.5 0 0 0 -1.8" result="lt"/><feMerge><feMergeNode in="dk"/><feMergeNode in="lt"/></feMerge></filter><filter id="na" x="0" y="0" width="100%" height="100%" color-interpolation-filters="sRGB"><feTurbulence type="fractalNoise" baseFrequency="0.42" numOctaves="2" seed="23" result="n"/><feColorMatrix in="n" type="matrix" values="0 0 0 0 0.22  0 0 0 0 0.45  0 0 0 0 0.98  0 -3.5 0 0 1.42"/></filter><linearGradient id="mh" gradientUnits="userSpaceOnUse" x1="449" y1="0" x2="462" y2="0"><stop offset="0" stop-color="#000"/><stop offset="1" stop-color="#fff"/></linearGradient><linearGradient id="mv" gradientUnits="userSpaceOnUse" x1="0" y1="350" x2="0" y2="420"><stop offset="0" stop-color="#000" stop-opacity="0"/><stop offset="1" stop-color="#000" stop-opacity="0.85"/></linearGradient><mask id="mr" maskUnits="userSpaceOnUse" x="440" y="0" width="40" height="428"><rect x="440" y="0" width="40" height="428" fill="url(#mh)"/><rect x="440" y="0" width="40" height="428" fill="url(#mv)"/></mask><linearGradient id="mw" gradientUnits="userSpaceOnUse" x1="0" y1="300" x2="0" y2="415"><stop offset="0" stop-color="#fff"/><stop offset="1" stop-color="#444"/></linearGradient><mask id="ml" maskUnits="userSpaceOnUse" x="0" y="0" width="53" height="428"><rect x="0" y="0" width="53" height="428" fill="url(#mw)"/></mask><filter id="ng" x="0" y="0" width="100%" height="100%" color-interpolation-filters="sRGB"><feTurbulence type="fractalNoise" baseFrequency="0.3 0.24" numOctaves="2" seed="5" result="n"/><feColorMatrix in="n" type="matrix" values="0 0 0 0 0.30  0 0 0 0 0.80  0 0 0 0 0.55  3.2 0 0 0 -1.75"/></filter></defs>
<g transform="translate(80 39)"><g mask="url(#ml)"><rect x="0" y="0" width="53" height="428" filter="url(#ns)"/></g><g mask="url(#mr)"><rect x="448" y="0" width="29" height="428" filter="url(#ns)"/></g><rect x="53" y="0" width="399" height="90" filter="url(#nt)" opacity="0.8"/><rect x="53" y="90" width="399" height="26" filter="url(#nt)" opacity="0.45"/><rect x="53" y="90" width="399" height="268" filter="url(#na)"/><rect x="53" y="118" width="399" height="82" filter="url(#ng)" opacity="0.45"/><rect x="53" y="208" width="399" height="90" filter="url(#ng)" opacity="0.3"/><rect x="53" y="162" width="399" height="16" filter="url(#ng)" opacity="0.5"/><rect x="53" y="188" width="399" height="12" filter="url(#ng)" opacity="0.6"/></g>
<rect x="570" y="39" width="27" height="428" fill="url(#cb)"/>
<g shape-rendering="crispEdges" style="filter:grayscale(1)">
<rect x="80.5" y="39.5" width="476" height="427" fill="none" stroke="#262626" stroke-width="1"/>
<text x="165.5" y="490.9" text-anchor="middle" font-size="16.67">1</text>
<text x="252.5" y="490.9" text-anchor="middle" font-size="16.67">2</text>
<text x="338.5" y="490.9" text-anchor="middle" font-size="16.67">3</text>
<text x="425.5" y="490.9" text-anchor="middle" font-size="16.67">4</text>
<text x="512.5" y="490.9" text-anchor="middle" font-size="16.67">5</text>
<text x="72" y="473.67" text-anchor="end" font-size="16.67">0</text>
<text x="72" y="420.19" text-anchor="end" font-size="16.67">2</text>
<text x="72" y="366.70" text-anchor="end" font-size="16.67">4</text>
<text x="72" y="313.22" text-anchor="end" font-size="16.67">6</text>
<text x="72" y="259.73" text-anchor="end" font-size="16.67">8</text>
<text x="72" y="206.25" text-anchor="end" font-size="16.67">10</text>
<text x="72" y="152.76" text-anchor="end" font-size="16.67">12</text>
<text x="72" y="99.28" text-anchor="end" font-size="16.67">14</text>
<text x="72" y="45.80" text-anchor="end" font-size="16.67">16</text>
<path d="M165.5 466.5v-4.3 M165.5 39.5v4.3 M252.5 466.5v-4.3 M252.5 39.5v4.3 M338.5 466.5v-4.3 M338.5 39.5v4.3 M425.5 466.5v-4.3 M425.5 39.5v4.3 M512.5 466.5v-4.3 M512.5 39.5v4.3 M80.5 466.5h4.3 M556.5 466.5h-4.3 M80.5 413.5h4.3 M556.5 413.5h-4.3 M80.5 360.5h4.3 M556.5 360.5h-4.3 M80.5 306.5h4.3 M556.5 306.5h-4.3 M80.5 253.5h4.3 M556.5 253.5h-4.3 M80.5 199.5h4.3 M556.5 199.5h-4.3 M80.5 146.5h4.3 M556.5 146.5h-4.3 M80.5 92.5h4.3 M556.5 92.5h-4.3 M80.5 39.5h4.3 M556.5 39.5h-4.3" stroke="#262626" stroke-width="1" fill="none"/>
<text x="319" y="514.6" text-anchor="middle" font-size="18.33">Time (s)</text>
<text transform="translate(45 253) rotate(-90)" text-anchor="middle" font-size="18.33">Frequency (kHz)</text>
<rect x="570.5" y="39.5" width="26" height="427" fill="none" stroke="#262626"/>
<text x="602.8" y="60.4" font-size="15.3">-60</text>
<text x="602.8" y="103.4" font-size="15.3">-70</text>
<text x="602.8" y="146.4" font-size="15.3">-80</text>
<text x="602.8" y="188.4" font-size="15.3">-90</text>
<text x="602.8" y="231.4" font-size="15.3">-100</text>
<text x="602.8" y="274.4" font-size="15.3">-110</text>
<text x="602.8" y="317.4" font-size="15.3">-120</text>
<text x="602.8" y="359.4" font-size="15.3">-130</text>
<text x="602.8" y="402.4" font-size="15.3">-140</text>
<text x="602.8" y="445.4" font-size="15.3">-150</text>
<path d="M596.5 54.5h-4.3 M596.5 97.5h-4.3 M596.5 140.5h-4.3 M596.5 182.5h-4.3 M596.5 225.5h-4.3 M596.5 268.5h-4.3 M596.5 311.5h-4.3 M596.5 353.5h-4.3 M596.5 396.5h-4.3 M596.5 439.5h-4.3" stroke="#262626" stroke-width="1" fill="none"/>
<text transform="translate(655.2 252.5) rotate(-90)" text-anchor="middle" font-size="15">Power/frequency (dB/Hz)</text>
</g>
</svg>
</body></html>
